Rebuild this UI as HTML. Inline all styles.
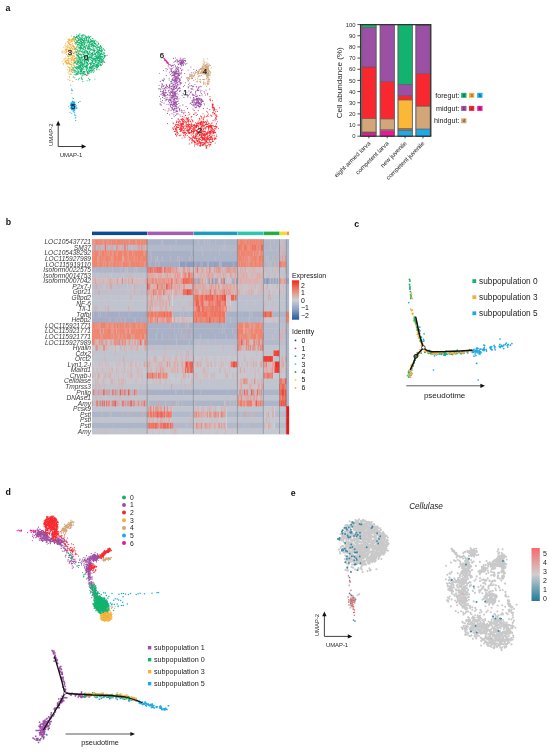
<!DOCTYPE html>
<html><head><meta charset="utf-8"><title>Figure</title>
<style>html,body{margin:0;padding:0;background:#fff}svg{display:block}</style></head>
<body>
<svg width="550" height="752" viewBox="0 0 550 752" font-family='"Liberation Sans", sans-serif'>
<text x="5.5" y="10.8" font-size="8.8" text-anchor="start" font-weight="bold" font-style="normal" fill="#111">a</text>
<text x="5.8" y="225.1" font-size="8.8" text-anchor="start" font-weight="bold" font-style="normal" fill="#111">b</text>
<text x="354.3" y="226.7" font-size="8.8" text-anchor="start" font-weight="bold" font-style="normal" fill="#111">c</text>
<text x="5.4" y="495.3" font-size="8.8" text-anchor="start" font-weight="bold" font-style="normal" fill="#111">d</text>
<text x="290.7" y="495.5" font-size="8.8" text-anchor="start" font-weight="bold" font-style="normal" fill="#111">e</text>
<path d="M87.4 60.1h0M94.0 57.8h0M84.7 39.0h0M75.6 42.2h0M87.6 51.6h0M92.6 62.8h0M79.2 42.5h0M81.9 63.8h0M90.9 70.6h0M78.3 60.6h0M91.0 46.5h0M88.5 45.7h0M91.3 44.7h0M84.1 72.1h0M93.3 72.3h0M85.7 66.6h0M94.6 41.4h0M97.5 64.7h0M94.5 50.3h0M84.4 55.4h0M74.4 48.9h0M94.7 53.4h0M80.3 38.2h0M87.7 40.9h0M83.0 42.3h0M99.3 60.2h0M84.3 52.4h0M78.5 40.5h0M76.0 67.9h0M89.5 57.1h0M78.0 62.3h0M74.7 62.5h0M77.5 38.3h0M102.0 49.5h0M94.8 56.5h0M90.1 41.1h0M100.9 57.7h0M89.0 42.4h0M77.0 40.3h0M80.5 60.3h0M100.6 58.4h0M90.0 43.6h0M87.3 48.9h0M79.7 39.3h0M84.1 73.3h0M81.5 65.7h0M91.5 68.7h0M76.6 68.6h0M100.4 56.1h0M75.1 58.2h0M85.3 48.1h0M74.7 72.2h0M94.4 43.6h0M88.3 36.1h0M93.0 55.4h0M98.4 65.0h0M93.3 69.8h0M95.2 66.7h0M80.4 41.1h0M104.2 56.1h0M101.7 47.3h0M79.2 58.0h0M78.7 44.0h0M87.6 59.6h0M83.8 46.4h0M85.2 46.0h0M90.3 52.2h0M101.3 57.1h0M93.0 38.7h0M72.8 72.5h0M80.1 46.3h0M92.9 67.5h0M78.7 56.3h0M99.6 49.8h0M96.3 64.7h0M98.3 47.3h0M99.0 57.7h0M99.9 55.7h0M87.8 47.3h0M83.6 49.1h0M77.7 67.6h0M94.8 68.5h0M92.2 62.4h0M81.2 54.8h0M93.1 44.4h0M102.5 57.1h0M96.3 55.8h0M84.5 43.3h0M73.1 68.1h0M87.5 66.1h0M82.9 68.2h0M95.1 50.4h0M88.1 60.4h0M90.4 68.5h0M103.3 61.8h0M98.1 51.5h0M101.8 61.1h0M80.5 74.1h0M90.1 41.1h0M94.4 41.9h0M80.7 70.5h0M96.2 52.8h0M79.7 63.4h0M81.2 71.2h0M91.5 64.3h0M92.0 44.1h0M77.0 54.8h0M89.2 45.3h0M77.8 67.2h0M76.0 37.3h0M86.5 60.9h0M77.9 70.6h0M79.1 69.2h0M84.6 39.5h0M86.2 67.1h0M91.5 49.5h0M84.6 62.7h0M77.7 64.0h0M80.5 43.9h0M80.7 65.2h0M82.1 42.9h0M103.9 53.6h0M78.7 61.4h0M99.8 57.3h0M90.8 36.4h0M78.1 51.1h0M87.6 68.3h0M73.5 36.8h0M78.6 55.7h0M99.7 55.0h0M91.8 53.2h0M92.8 70.5h0M80.3 69.1h0M81.6 55.1h0M84.9 51.9h0M93.4 48.7h0M98.7 43.9h0M85.3 46.8h0M83.1 66.6h0M100.8 58.8h0M95.6 62.2h0M85.0 63.0h0M95.4 53.6h0M101.0 57.2h0M98.0 50.8h0M94.1 42.2h0M84.2 55.6h0M93.0 47.4h0M79.7 37.4h0M86.7 70.6h0M77.7 41.8h0M99.8 50.2h0M103.2 62.1h0M78.8 71.2h0M94.5 65.3h0M93.8 46.3h0M95.7 66.0h0M92.3 61.2h0M95.8 62.5h0M92.1 43.4h0M89.3 71.2h0M98.4 53.1h0M86.8 56.3h0M96.7 67.4h0M91.3 70.3h0M90.3 68.7h0M86.0 66.8h0M74.0 71.1h0M87.6 51.3h0M101.5 56.2h0M81.3 77.9h0M78.4 51.3h0M80.9 61.7h0M100.6 64.5h0M95.2 62.9h0M77.2 63.9h0M84.3 63.2h0M92.5 66.7h0M77.9 71.9h0M96.4 45.6h0M85.7 56.7h0M100.5 62.2h0M95.4 61.6h0M97.8 57.5h0M79.6 66.3h0M77.7 72.6h0M88.6 48.4h0M77.6 73.8h0M93.1 69.0h0M88.1 38.0h0M84.8 62.2h0M93.5 65.9h0M100.6 57.3h0M91.8 53.7h0M100.0 63.9h0M91.2 44.1h0M99.8 60.9h0M78.2 40.5h0M89.5 46.0h0M90.0 69.9h0M100.3 53.5h0M97.4 58.8h0M82.1 66.8h0M86.9 63.1h0M82.7 62.8h0M81.7 56.9h0M100.3 53.7h0M103.9 54.9h0M91.5 60.6h0M89.9 48.3h0M83.5 71.4h0M101.5 60.6h0M82.1 46.1h0M78.0 38.1h0M83.8 67.5h0M103.5 58.6h0M82.7 35.2h0M101.9 53.6h0M93.6 64.8h0M101.1 54.2h0M84.4 62.7h0M85.1 40.8h0M85.7 37.2h0M81.1 54.4h0M87.2 71.8h0M86.0 62.0h0M78.4 61.7h0M88.2 40.0h0M89.1 38.6h0M76.5 43.3h0M94.0 49.7h0M86.0 42.6h0M75.0 39.7h0M86.9 58.9h0M93.8 58.0h0M84.3 74.6h0M84.6 40.9h0M100.4 54.4h0M87.5 72.9h0M100.0 53.9h0M90.8 42.3h0M91.6 67.3h0M82.9 64.3h0M83.2 34.6h0M82.5 57.0h0M80.8 64.8h0M84.8 51.3h0M94.4 58.8h0M103.2 48.6h0M91.1 53.6h0M102.0 61.3h0M84.1 51.7h0M97.5 65.3h0M84.4 55.0h0M98.6 52.6h0M98.0 66.5h0M77.4 61.1h0M97.3 58.0h0M80.4 71.2h0M87.6 55.6h0M90.0 44.5h0M90.1 48.8h0M92.5 41.8h0M84.7 60.0h0M93.6 60.1h0M86.7 65.4h0M92.6 61.0h0M100.0 64.9h0M99.3 59.4h0M101.3 62.4h0M96.8 64.8h0M79.8 66.9h0M91.7 55.2h0M98.5 50.5h0M81.8 39.4h0M92.0 50.1h0M97.1 51.5h0M85.6 74.7h0M88.7 58.2h0M89.1 54.5h0M84.8 72.2h0M98.3 54.2h0M81.5 41.2h0M89.8 42.6h0M102.0 58.9h0M88.3 53.0h0M102.3 63.9h0M90.6 39.5h0M97.1 58.1h0M96.3 52.2h0M92.5 58.5h0M91.4 66.4h0M90.0 66.7h0M98.4 65.8h0M73.1 68.2h0M99.9 60.5h0M75.6 51.2h0M82.0 36.5h0M76.7 55.7h0M75.4 51.9h0M83.9 72.9h0M89.1 53.4h0M86.2 55.3h0M79.6 58.5h0M81.1 35.6h0M92.8 61.7h0M87.9 48.8h0M93.1 40.9h0M96.7 65.5h0M74.6 41.3h0M89.8 67.6h0M87.9 73.9h0M93.6 65.8h0M88.4 53.5h0M86.2 50.7h0M82.5 42.7h0M92.0 71.5h0M81.8 38.7h0M81.8 72.1h0M96.0 57.0h0M93.1 50.7h0M76.1 66.9h0M79.8 45.4h0M97.6 66.2h0M86.4 62.9h0M84.1 46.7h0M78.5 39.3h0M75.3 62.4h0M100.9 46.5h0M87.5 48.4h0M85.7 48.0h0M92.9 49.7h0M81.0 70.9h0M88.0 73.6h0M85.0 71.6h0M87.5 52.2h0M87.6 53.1h0M80.3 59.4h0M85.5 48.8h0M88.8 41.1h0M92.9 47.8h0M82.3 40.0h0M86.3 70.1h0M76.8 47.6h0M83.2 59.6h0M101.1 60.7h0M96.7 56.9h0M94.5 50.0h0M96.7 57.8h0M75.4 43.7h0M81.5 43.7h0M98.1 60.3h0M90.7 41.3h0M75.8 75.1h0M88.1 57.1h0M87.5 67.9h0M85.1 59.5h0M87.0 44.0h0M101.1 50.7h0M89.8 68.8h0M85.0 49.9h0M81.4 45.3h0M91.7 68.7h0M83.3 51.7h0M82.7 63.2h0M81.4 52.0h0M84.9 62.8h0M97.7 53.1h0M96.8 65.9h0M97.9 46.9h0M87.8 54.9h0M87.4 47.1h0M86.4 45.3h0M77.8 49.2h0M84.5 55.5h0M80.6 46.9h0M96.2 65.9h0M79.3 54.4h0M98.6 62.2h0M95.6 64.7h0M87.8 42.3h0M89.9 56.6h0M75.0 67.7h0M93.4 59.2h0M75.9 72.8h0M101.2 56.9h0M77.9 68.1h0M75.5 39.3h0M92.5 63.1h0M92.2 56.5h0M87.4 60.1h0M86.3 59.5h0M88.7 60.0h0M85.9 40.9h0M91.9 43.3h0M93.0 40.4h0M84.3 43.2h0M93.1 46.5h0M97.0 65.8h0M102.2 59.9h0M79.8 61.9h0M94.5 54.0h0M78.1 56.8h0M82.4 73.1h0M85.4 36.0h0M78.6 53.4h0M95.6 58.3h0M93.5 63.4h0M100.7 58.8h0M77.8 36.1h0M91.8 56.2h0M80.1 70.0h0M77.7 50.6h0M85.7 47.7h0M82.1 68.4h0M93.0 59.7h0M100.5 48.3h0M77.8 44.8h0M84.3 46.9h0M80.6 46.1h0M88.7 57.9h0M97.5 67.6h0M91.6 49.6h0M81.5 62.1h0M83.3 54.4h0M89.3 57.7h0M78.8 71.9h0M100.9 58.9h0M81.2 57.7h0M88.4 70.2h0M77.6 55.5h0M84.5 57.3h0M91.7 66.8h0M84.3 71.4h0M101.6 48.1h0M99.9 54.1h0M97.6 54.0h0M99.0 51.0h0M78.1 62.3h0M90.0 43.9h0M90.6 70.5h0M87.8 63.4h0M81.1 65.0h0M71.5 69.2h0M88.1 72.1h0M98.2 63.3h0M99.0 61.5h0M97.2 47.7h0M85.1 50.7h0M88.7 36.8h0M76.1 57.5h0M78.2 42.2h0M77.1 58.7h0M98.6 43.4h0M85.1 74.5h0M86.4 40.2h0M84.0 41.8h0M83.2 49.8h0M76.2 63.0h0M91.4 58.2h0M88.4 54.0h0M86.4 56.8h0M94.2 50.7h0M97.9 42.0h0M86.4 40.3h0M91.4 66.7h0M88.9 48.4h0M90.6 54.7h0M77.4 67.6h0M94.1 66.3h0M93.1 68.5h0M82.2 70.0h0M82.9 75.1h0M99.7 62.3h0M87.6 72.5h0M83.6 41.4h0M92.8 55.2h0M98.7 56.2h0M87.3 53.5h0M94.9 48.2h0M92.3 54.6h0M77.4 61.2h0M83.7 56.2h0M80.1 68.3h0M83.2 67.1h0M82.2 72.0h0M96.7 60.5h0M91.4 63.1h0M78.1 58.0h0M96.4 57.4h0M92.8 43.2h0M81.0 44.0h0M83.7 72.0h0M86.1 36.3h0M86.1 55.2h0M85.6 48.3h0M80.6 66.8h0M80.6 41.3h0M93.7 42.6h0M78.7 59.2h0M83.0 65.4h0M77.2 60.2h0M100.9 59.5h0M95.9 43.5h0M78.4 46.0h0M76.2 53.0h0M86.3 55.0h0M95.9 57.9h0M99.7 47.4h0M78.3 72.9h0M75.9 58.6h0M76.2 71.4h0M81.8 57.3h0M79.4 65.6h0M84.7 62.0h0M91.3 55.8h0M92.2 58.1h0M103.7 60.6h0M98.1 44.3h0M96.2 56.2h0M87.5 58.0h0M78.6 62.1h0M77.2 42.4h0M78.9 47.5h0M74.1 60.9h0M87.5 56.6h0M79.9 33.9h0M93.5 45.4h0M99.5 55.3h0M80.9 70.2h0M83.2 63.9h0M81.6 45.8h0M81.4 41.6h0M89.6 67.2h0M86.2 66.2h0M93.7 50.6h0M89.8 66.3h0M72.7 69.9h0M79.9 42.3h0M92.3 40.9h0M90.9 38.8h0M92.2 62.7h0M90.1 58.8h0M76.8 34.7h0M97.8 62.8h0M89.5 43.1h0M83.9 42.8h0M87.3 51.5h0M79.0 51.0h0M81.5 47.4h0M83.6 59.2h0M82.9 40.4h0M74.7 66.1h0M98.9 55.4h0M83.0 73.6h0M86.8 39.6h0M95.5 44.3h0M86.3 41.0h0M75.0 43.5h0M86.9 52.7h0M90.1 57.5h0M93.1 54.1h0M73.3 70.0h0M84.1 72.0h0M80.6 65.7h0M95.9 56.7h0M81.5 48.6h0M98.7 57.8h0M83.2 38.2h0M91.6 57.3h0M90.0 63.0h0M97.2 61.8h0M93.5 58.2h0M101.8 53.2h0M92.2 52.8h0M79.7 39.1h0M96.7 69.8h0M99.7 58.9h0M83.7 73.8h0M83.7 54.6h0M93.7 59.9h0M91.8 68.1h0M76.9 59.2h0M81.8 70.9h0M83.0 60.8h0M96.4 52.7h0M95.2 53.6h0M89.8 55.1h0M78.8 36.0h0M86.5 39.8h0M84.8 66.5h0M97.7 67.2h0M82.3 59.7h0M81.5 63.9h0M89.6 37.5h0M95.9 53.8h0M102.0 56.2h0M73.0 38.8h0M82.7 60.7h0M91.4 40.5h0M93.1 59.9h0M99.2 60.0h0M82.9 54.2h0M103.8 52.6h0M102.1 52.0h0M87.8 73.9h0M84.4 58.5h0M95.1 43.0h0M80.1 61.4h0M79.8 47.7h0M75.3 61.2h0M79.7 39.7h0M80.0 48.5h0M100.9 54.2h0M95.8 47.0h0M78.4 35.5h0M75.6 67.6h0M82.9 69.0h0M99.3 50.3h0M72.9 38.5h0M90.8 67.8h0M89.1 42.6h0M84.7 44.7h0M99.1 52.5h0M98.9 54.8h0M77.8 55.9h0M90.8 63.6h0M88.6 61.1h0M96.4 57.0h0M90.6 64.6h0M83.3 47.9h0M99.6 55.6h0M77.4 44.4h0M91.2 72.5h0M79.3 51.6h0M81.0 51.7h0M98.6 57.3h0M100.8 65.8h0M97.2 58.4h0M95.6 44.1h0M92.0 44.9h0M97.1 49.4h0M95.1 62.7h0M76.1 74.7h0M87.2 64.2h0M76.7 68.5h0M93.7 65.1h0M85.6 50.7h0M97.0 52.7h0M84.9 52.0h0M73.0 68.8h0M77.4 66.8h0M76.7 41.8h0M81.5 58.2h0M94.9 67.8h0M95.9 59.4h0M89.7 37.0h0M89.0 67.7h0M94.3 45.5h0M101.5 50.3h0M89.1 71.7h0M83.4 56.7h0M76.6 52.3h0M81.9 61.5h0M91.5 58.3h0M80.7 54.9h0M99.1 69.7h0M76.2 52.9h0M89.4 68.1h0M88.6 44.2h0M91.3 63.1h0M94.5 51.3h0M78.5 42.0h0M77.5 46.0h0M81.6 68.6h0M89.1 57.9h0M75.3 38.2h0M96.0 46.0h0M84.5 61.1h0M82.5 37.3h0M82.2 44.0h0M81.6 43.8h0M76.4 49.2h0M80.9 73.8h0M101.0 51.5h0M80.4 66.0h0M80.6 66.9h0M92.9 45.4h0M93.9 51.1h0M104.0 58.1h0M80.1 54.1h0M96.7 44.7h0M101.1 50.7h0M82.6 65.7h0M92.6 38.3h0M84.9 37.8h0M94.1 45.2h0M86.5 50.8h0M76.0 44.0h0M81.5 51.3h0M83.9 73.2h0M91.9 60.2h0M80.4 67.5h0M90.1 56.5h0M95.7 60.4h0M86.0 56.8h0M104.8 62.3h0M87.4 62.4h0M90.3 63.8h0M90.5 49.0h0M96.0 58.8h0M91.9 70.1h0M87.5 47.3h0M79.5 67.7h0M104.5 57.1h0M76.2 63.6h0M81.3 60.1h0M79.4 73.3h0M90.9 54.1h0M91.6 41.6h0M86.5 37.9h0M76.9 51.4h0M89.8 47.5h0M95.5 46.5h0M81.4 68.1h0M89.0 72.9h0M86.8 63.1h0M90.9 39.8h0M96.6 66.5h0M80.3 65.8h0M98.3 47.4h0M78.8 38.7h0M88.6 57.8h0M88.0 57.7h0M93.0 59.0h0M87.0 60.7h0M90.5 67.4h0M97.7 63.9h0M96.7 61.9h0M101.0 49.8h0M98.1 52.9h0M76.6 42.5h0M82.4 48.4h0M76.6 73.4h0M84.1 61.2h0M80.4 71.9h0M93.9 65.0h0M88.1 54.2h0M93.4 66.2h0M85.3 68.0h0M80.2 58.8h0M95.5 55.7h0M85.8 57.6h0M84.5 66.2h0M81.9 40.1h0M88.5 41.2h0M88.9 41.9h0M85.6 66.4h0M93.3 41.7h0M89.4 70.7h0M81.8 70.5h0M83.8 72.9h0M79.1 78.2h0M76.5 36.2h0M91.9 68.9h0M86.7 67.1h0M95.6 54.4h0M102.9 59.6h0M94.2 61.2h0M96.9 68.8h0M81.3 38.6h0M77.0 41.3h0M81.0 73.5h0M79.6 47.9h0M88.7 60.1h0M78.7 65.7h0M75.4 48.9h0M80.1 41.8h0M83.9 35.9h0M83.6 41.0h0M75.1 49.3h0M73.3 76.9h0M80.8 49.2h0M97.1 48.1h0M92.1 45.5h0M78.7 47.9h0M81.5 43.8h0M101.3 58.7h0M76.0 61.0h0M98.1 51.7h0M80.0 42.9h0M78.5 40.2h0M89.9 49.8h0M74.9 74.5h0M98.5 58.3h0M73.9 39.6h0M74.2 62.9h0M98.1 63.8h0M86.7 67.6h0M84.8 35.0h0M97.5 51.7h0M90.6 57.5h0M81.5 68.1h0M86.0 66.2h0M99.8 48.2h0M81.6 57.9h0M76.7 36.9h0M76.4 40.2h0M78.2 67.9h0M97.8 56.6h0M105.5 55.9h0M82.3 64.7h0M84.6 38.3h0M100.9 59.5h0M78.6 67.3h0M80.5 45.8h0M82.8 45.1h0M79.5 60.1h0M80.2 41.7h0M98.8 58.0h0M95.7 40.3h0M102.2 50.6h0M78.7 35.0h0M80.0 43.8h0M79.0 56.7h0M82.4 58.0h0M88.4 53.2h0M76.5 64.3h0M83.8 71.7h0M85.0 52.6h0M101.4 47.9h0M95.8 60.2h0M92.4 60.7h0M78.1 53.6h0M95.8 58.1h0M97.6 45.8h0M102.2 51.8h0M80.1 72.0h0M90.0 49.3h0M78.4 56.9h0M79.3 54.2h0M96.3 47.8h0M80.0 62.9h0M98.1 49.2h0M77.1 66.6h0M83.6 71.7h0M97.2 55.3h0M100.8 64.4h0M90.5 63.0h0M102.1 50.0h0M85.2 53.7h0M78.9 36.8h0M99.7 56.9h0M102.1 61.8h0M86.6 45.8h0M87.5 42.8h0M101.7 53.8h0M72.9 69.4h0M80.6 73.4h0M90.6 59.7h0M76.9 37.8h0M78.8 42.2h0M98.8 61.0h0M91.8 45.8h0M84.6 44.3h0M77.1 73.9h0M102.8 56.5h0M85.3 74.1h0M96.7 69.0h0M86.4 59.1h0M77.0 66.8h0M85.0 64.0h0M94.7 42.8h0M88.3 41.4h0M103.9 49.3h0M87.1 46.7h0M87.7 65.6h0M78.0 74.2h0M88.2 69.3h0M93.8 50.6h0M79.8 40.4h0M84.9 60.8h0M79.1 42.9h0M77.0 36.9h0M100.2 46.4h0M81.5 71.8h0M100.7 50.9h0M91.4 46.2h0M93.1 67.6h0M72.1 67.3h0M104.9 55.4h0M75.1 37.2h0M88.7 61.4h0M85.1 38.6h0M102.7 61.2h0M82.3 40.2h0M75.0 38.3h0M83.9 45.1h0M89.4 63.2h0M104.7 50.4h0M76.4 43.5h0M84.3 74.7h0M100.7 58.8h0M102.3 61.0h0M98.9 46.7h0M74.5 36.8h0M95.7 59.0h0M101.2 57.3h0M102.3 54.1h0M80.1 57.4h0M91.4 49.8h0M84.1 43.0h0M82.0 41.8h0M91.1 44.8h0M80.1 64.9h0M94.7 58.9h0M89.6 55.0h0M91.8 60.1h0M93.6 46.1h0M87.7 57.6h0M96.0 45.7h0M78.0 52.9h0M76.2 54.5h0M95.8 62.4h0M92.6 53.8h0M80.5 47.7h0M97.0 51.4h0M94.9 43.6h0M84.3 60.6h0M84.6 46.8h0M88.1 72.1h0M99.7 53.5h0M97.3 58.0h0M77.8 42.1h0M84.9 59.1h0M97.4 59.0h0M94.6 68.4h0M79.3 59.1h0M79.6 50.1h0M89.1 37.8h0M81.9 69.7h0M98.5 66.3h0M79.0 35.7h0M101.3 60.7h0M77.6 38.3h0M81.0 58.7h0M88.5 48.5h0M85.8 74.8h0M92.3 61.6h0M81.9 76.8h0M90.7 62.8h0M86.3 52.0h0M83.9 40.2h0M90.9 57.4h0M86.5 38.4h0M80.4 62.7h0M78.1 55.9h0M99.9 64.0h0M82.7 63.1h0M95.1 60.4h0M77.0 74.4h0M96.6 64.1h0M83.9 49.2h0M97.0 50.9h0M79.1 35.0h0M73.8 63.9h0M85.1 61.1h0M97.7 57.2h0M96.3 41.7h0M82.1 48.4h0M78.1 57.2h0M82.4 69.0h0M96.5 57.9h0M73.4 53.5h0M97.8 56.2h0M92.9 65.4h0M94.3 51.9h0M80.1 40.0h0M86.4 70.0h0M89.7 46.8h0M94.8 64.7h0M82.5 51.9h0M84.3 56.1h0M81.1 69.9h0M81.0 54.7h0M92.2 43.7h0M83.7 43.8h0M99.7 65.0h0M93.1 58.0h0M75.6 70.9h0M81.1 37.5h0M86.5 37.9h0M102.7 54.5h0M81.4 73.2h0M78.0 54.8h0M77.0 46.3h0M85.7 47.6h0M94.9 46.2h0M77.4 69.2h0M94.0 70.0h0M84.2 65.3h0M84.2 47.4h0M87.2 57.0h0M83.9 64.4h0M94.2 40.6h0M100.0 52.1h0M86.1 39.7h0M81.8 68.9h0M81.1 54.5h0M96.6 65.4h0M80.9 51.2h0M96.1 52.6h0M90.4 50.3h0M86.9 68.9h0M97.7 59.8h0M96.1 59.2h0M100.6 54.8h0M88.3 64.4h0M81.6 44.2h0M87.0 72.1h0M94.4 63.6h0M88.7 39.9h0M74.8 70.0h0M94.2 71.2h0M80.9 64.0h0M81.3 62.7h0M83.3 56.6h0M78.0 63.7h0M75.0 37.5h0M74.1 70.4h0M101.4 65.2h0M99.6 61.4h0M104.7 53.0h0M77.6 60.5h0M98.6 58.4h0M99.3 57.7h0M85.1 66.6h0M89.9 71.8h0M78.1 64.6h0M92.1 66.8h0M86.8 62.6h0M101.4 56.2h0M82.0 75.1h0M88.5 47.9h0M85.7 42.9h0M100.7 45.5h0M80.3 62.2h0M98.1 60.5h0M86.6 52.0h0M101.5 51.7h0M101.8 59.3h0M103.4 58.1h0M75.1 42.8h0M88.4 46.4h0M98.9 63.6h0M81.5 42.2h0M90.6 65.6h0M84.0 69.3h0M87.8 71.6h0M86.8 65.9h0M89.0 57.4h0M100.1 46.8h0M82.1 35.5h0M101.9 62.8h0M86.3 65.0h0M80.5 48.9h0M73.2 38.5h0M81.1 41.2h0M82.8 53.0h0M90.9 44.9h0M82.4 50.1h0M88.5 49.8h0M79.6 57.3h0M90.8 41.8h0M82.3 39.8h0M97.9 56.3h0M89.2 52.1h0M77.4 62.5h0M73.9 67.5h0M90.6 41.9h0M78.4 62.6h0M88.9 73.7h0M78.9 44.5h0M92.6 54.9h0M75.7 48.5h0M100.4 58.3h0M85.0 56.5h0M78.9 68.4h0M82.2 45.5h0M96.7 48.3h0M84.8 42.7h0M89.0 59.5h0M79.9 47.8h0M87.4 37.5h0M87.1 72.2h0M70.9 74.5h0M96.4 56.7h0M82.7 66.6h0M83.1 38.6h0M78.5 66.9h0M77.5 46.1h0M86.3 69.3h0M82.2 35.3h0M99.4 48.9h0M80.7 39.6h0M82.9 39.1h0M76.3 60.9h0M90.9 48.8h0M94.0 54.5h0M83.2 52.9h0M88.6 59.2h0M94.4 59.4h0M80.4 50.3h0M77.1 63.9h0M81.8 62.4h0M97.5 58.4h0M77.6 38.3h0M82.7 44.8h0M96.4 57.0h0M100.3 61.7h0M84.4 53.0h0M94.9 46.5h0M89.4 51.3h0M81.3 54.9h0M74.7 72.1h0M91.0 41.3h0M99.8 50.4h0M99.2 56.8h0M98.5 57.4h0M84.1 55.3h0M75.9 72.9h0M91.1 72.0h0M89.4 57.8h0M76.4 68.8h0M93.0 52.6h0M105.2 56.3h0M87.0 45.2h0M77.8 60.8h0M87.0 36.8h0M89.7 47.5h0M89.7 52.0h0M85.5 60.0h0M81.9 48.1h0M92.4 65.8h0M86.1 65.6h0M87.1 71.0h0M101.6 53.3h0M79.3 78.3h0M94.8 79.0h0M82.4 79.3h0M78.4 79.8h0M81.8 78.9h0M76.2 79.3h0M88.7 78.2h0M74.8 77.7h0M87.1 80.7h0M89.9 79.6h0M89.2 80.1h0M82.8 81.5h0M80.0 101.4h0M78.5 102.5h0" stroke="#12B36E" stroke-width="1.1" stroke-linecap="round" fill="none"/>
<path d="M65.4 61.9h0M63.7 64.8h0M73.3 69.8h0M66.3 48.9h0M68.1 46.1h0M69.0 40.9h0M65.8 60.9h0M69.2 69.7h0M70.2 55.6h0M72.9 56.0h0M70.9 50.5h0M77.0 60.1h0M67.6 45.1h0M72.9 51.9h0M68.5 56.4h0M77.3 46.3h0M68.0 51.2h0M70.8 46.5h0M73.0 52.6h0M71.5 57.2h0M66.3 61.0h0M65.9 62.0h0M74.0 58.9h0M67.9 56.5h0M73.0 55.3h0M69.1 73.9h0M70.3 52.2h0M68.0 72.7h0M67.4 47.2h0M70.1 48.5h0M67.5 49.0h0M75.8 63.6h0M71.8 51.3h0M74.0 40.6h0M69.7 62.9h0M67.5 60.5h0M70.3 49.9h0M70.2 44.7h0M74.2 46.4h0M68.4 58.7h0M71.1 50.7h0M74.5 60.5h0M76.4 43.2h0M70.9 41.4h0M66.4 60.2h0M72.1 45.0h0M69.6 39.0h0M76.1 61.3h0M67.3 63.1h0M68.8 49.8h0M70.9 73.3h0M72.7 48.5h0M67.0 42.2h0M69.7 67.4h0M66.9 47.0h0M73.4 46.8h0M70.0 49.1h0M71.0 61.1h0M68.7 40.5h0M70.9 55.5h0M72.6 43.3h0M69.5 69.6h0M73.2 52.2h0M69.7 68.1h0M75.2 58.3h0M72.0 57.9h0M78.7 50.7h0M65.3 52.7h0M67.3 41.6h0M70.6 64.0h0M71.5 54.8h0M74.0 47.6h0M70.9 60.0h0M64.8 51.2h0M73.1 59.4h0M74.0 58.1h0M67.7 56.3h0M71.7 41.6h0M69.3 54.8h0M68.9 39.9h0M75.9 39.8h0M67.6 60.0h0M66.6 51.4h0M69.0 60.8h0M61.7 51.7h0M73.0 56.6h0M69.3 71.0h0M62.4 61.2h0M71.0 64.5h0M68.6 63.5h0M68.6 50.4h0M73.9 48.0h0M74.7 52.1h0M63.8 47.3h0M71.8 71.2h0M71.8 65.1h0M73.4 46.1h0M64.8 53.1h0M79.9 53.7h0M64.0 59.9h0M63.1 63.4h0M66.2 46.0h0M67.9 63.6h0M72.2 58.4h0M68.7 47.7h0M72.0 44.2h0M65.3 47.0h0M68.7 53.5h0M76.5 55.4h0M75.4 51.4h0M73.5 61.0h0M73.2 65.2h0M67.8 55.3h0M72.7 46.2h0M63.0 50.8h0M69.9 55.4h0M67.7 47.3h0M73.8 74.8h0M62.9 52.4h0M64.9 62.1h0M78.9 52.4h0M67.4 63.9h0M72.5 39.3h0M62.9 53.0h0M71.8 70.4h0M70.8 53.8h0M76.2 58.7h0M74.3 40.8h0M71.5 59.4h0M71.7 62.3h0M69.0 41.1h0M66.3 50.4h0M68.8 58.2h0M73.0 49.5h0M75.9 63.8h0M70.9 69.5h0M71.3 70.2h0M72.6 41.2h0M68.7 67.5h0M70.0 50.0h0M71.3 47.3h0M75.1 47.2h0M68.1 60.7h0M65.1 49.1h0M70.1 42.8h0M68.4 51.4h0M72.4 57.2h0M73.3 45.2h0M74.2 46.9h0M71.4 39.3h0M75.4 43.6h0M66.5 62.6h0M68.0 60.3h0M70.9 64.4h0M71.0 48.6h0M69.4 51.9h0M69.0 39.5h0M69.5 47.2h0M67.9 66.5h0M69.4 44.4h0M74.5 39.1h0M71.7 40.4h0M72.8 40.8h0M78.1 51.0h0M67.0 49.3h0M75.2 49.9h0M72.0 45.6h0M68.1 63.5h0M67.7 59.9h0M68.9 42.3h0M69.8 71.0h0M66.1 63.1h0M69.7 63.8h0M71.6 47.8h0M68.1 39.5h0M74.2 60.9h0M68.1 58.8h0M74.3 53.8h0M71.6 60.1h0M71.6 35.9h0M67.0 62.5h0M72.2 55.7h0M66.4 63.9h0M73.5 60.9h0M70.3 44.4h0M66.3 49.1h0M65.0 45.2h0M68.9 71.3h0M68.1 58.2h0M70.5 58.2h0M69.3 67.4h0M70.4 68.2h0M72.2 59.7h0M71.9 64.1h0M69.9 48.5h0M69.5 70.8h0M69.3 43.4h0M67.9 45.3h0M69.2 51.4h0M72.9 49.7h0M76.5 43.3h0M74.2 55.8h0M72.8 48.5h0M74.7 56.6h0M72.3 60.1h0M74.0 36.7h0M71.8 64.9h0M74.6 52.7h0M70.4 40.0h0M68.6 41.9h0M69.3 58.9h0M69.0 61.3h0M66.6 50.0h0M74.5 59.7h0M68.5 43.0h0M65.3 58.1h0M68.5 43.3h0M74.2 65.5h0M74.2 39.5h0M73.4 39.4h0M72.2 49.8h0M69.8 70.4h0M72.3 39.5h0M65.6 49.9h0M73.7 37.8h0M73.0 59.7h0M71.7 66.4h0M68.9 58.9h0M68.7 63.7h0M72.0 71.7h0M69.9 64.5h0M65.6 43.8h0M68.4 62.4h0M72.2 70.0h0M71.0 71.8h0M70.0 56.5h0M64.2 58.7h0M65.2 61.3h0M67.6 69.8h0M72.8 52.8h0M72.6 67.3h0M73.2 63.1h0M66.0 58.1h0M69.8 40.3h0M66.2 52.6h0M74.5 59.1h0M68.0 60.2h0M62.9 52.1h0M68.8 61.2h0M71.9 62.6h0M70.1 45.4h0M74.7 48.8h0M70.3 49.4h0M73.6 67.3h0M66.5 54.5h0M69.5 80.2h0M69.7 76.6h0M70.2 80.0h0M72.7 81.4h0M68.0 79.6h0M69.6 77.7h0M71.3 93.5h0M72.2 90.5h0" stroke="#F5B03A" stroke-width="1.1" stroke-linecap="round" fill="none"/>
<path d="M72.5 105.0h0M71.9 102.6h0M72.9 105.7h0M74.1 106.3h0M74.1 103.7h0M70.5 104.0h0M72.1 105.7h0M73.4 105.5h0M72.6 109.2h0M70.2 108.3h0M73.2 106.6h0M73.6 104.2h0M73.0 104.3h0M72.9 101.0h0M74.0 105.4h0M71.4 104.8h0M72.7 104.2h0M73.4 107.1h0M76.8 108.1h0M72.2 101.8h0M73.9 106.4h0M74.9 106.5h0M73.9 104.3h0M74.0 104.1h0M74.4 109.1h0M71.0 107.1h0M73.6 109.9h0M72.5 104.0h0M74.7 103.4h0M73.5 105.0h0M73.3 107.3h0M73.2 108.3h0M71.6 109.6h0M74.1 104.3h0M71.2 102.7h0M72.8 107.6h0M72.6 107.4h0M74.1 106.8h0M73.0 108.5h0M72.1 104.0h0M73.8 102.3h0M75.0 109.8h0M71.9 106.2h0M74.6 105.0h0M72.3 107.2h0M72.8 110.1h0M72.8 106.0h0M71.8 109.2h0M74.9 105.8h0M73.9 109.5h0M73.7 106.0h0M71.5 108.1h0M73.8 105.6h0M72.0 106.9h0M74.6 106.1h0M71.0 104.8h0M73.8 105.8h0M71.3 107.1h0M71.4 105.4h0M73.3 104.5h0M74.0 106.5h0M74.3 108.6h0M72.6 105.4h0M72.4 103.6h0M74.1 103.8h0M71.7 105.7h0M71.7 109.0h0M73.6 103.5h0M73.5 107.9h0M73.1 105.2h0M74.4 104.2h0M71.2 104.5h0M73.6 108.0h0M75.5 104.6h0M72.6 108.4h0M71.6 109.8h0M74.4 103.8h0M73.7 103.0h0M74.4 102.0h0M73.8 106.7h0M72.5 103.8h0M72.8 104.3h0M71.7 104.0h0M76.0 108.3h0M72.0 106.9h0M72.7 106.8h0M72.3 102.0h0M73.6 103.8h0M74.7 105.4h0M72.5 105.3h0M73.6 106.2h0M73.9 108.8h0M75.5 106.9h0M72.8 107.2h0M73.4 105.3h0M74.9 104.7h0M71.4 104.6h0M73.0 105.3h0M73.2 102.2h0M71.8 104.4h0M72.8 105.6h0M73.3 104.5h0M74.3 105.4h0M74.1 101.8h0M72.4 104.4h0M72.0 105.5h0M74.1 107.9h0M71.3 105.8h0M72.4 105.1h0M71.8 104.3h0M71.3 105.6h0M73.3 104.5h0M71.4 107.0h0M72.3 104.4h0M74.4 106.9h0M74.8 104.2h0M71.5 102.5h0M72.0 102.5h0M72.0 107.3h0M71.5 104.3h0M74.5 104.5h0M74.0 110.7h0M73.6 103.1h0M71.9 105.4h0M73.9 102.7h0M73.2 104.2h0M73.0 106.5h0M73.7 104.9h0M74.5 109.3h0M72.9 103.6h0M72.6 104.1h0M71.9 102.6h0M74.6 105.5h0M73.6 103.9h0M70.3 105.2h0M73.2 103.8h0M73.9 106.4h0M71.2 104.1h0M71.3 105.6h0M74.2 105.2h0M71.4 105.3h0M73.1 101.6h0M73.1 108.8h0M74.2 104.4h0M68.7 106.8h0M76.4 105.8h0M73.4 105.5h0M74.0 108.1h0M74.3 106.0h0M70.1 112.2h0M74.7 110.3h0M73.8 108.5h0M72.0 104.7h0M74.9 108.2h0M72.6 106.7h0M70.9 107.9h0M75.1 105.9h0M74.9 102.3h0M73.9 102.5h0M72.9 105.4h0M76.7 108.4h0M71.9 105.4h0M73.7 103.7h0M72.8 105.0h0M72.7 107.7h0M74.2 104.1h0M71.0 103.9h0M74.3 106.0h0M73.8 107.7h0M72.4 101.7h0M71.6 104.3h0M70.2 105.6h0M73.4 104.2h0M76.9 107.2h0M71.8 108.3h0M71.1 103.2h0M71.7 113.3h0M73.8 106.8h0M74.3 110.7h0M74.0 108.0h0M72.1 90.4h0M73.5 98.5h0M72.1 90.0h0M70.7 85.0h0M71.6 89.1h0M71.9 90.6h0M72.7 98.0h0M75.8 115.7h0M74.7 115.1h0M74.9 114.0h0M75.7 120.4h0M73.1 111.8h0M75.7 117.7h0M75.1 118.0h0M73.4 111.8h0M74.6 112.3h0" stroke="#1FA9E6" stroke-width="1.1" stroke-linecap="round" fill="none"/>
<path d="M107.0 55.2h0M104.5 62.0h0" stroke="#F0149B" stroke-width="1.1" stroke-linecap="round" fill="none"/>
<path d="M86.5 75.3h0M87.3 75.0h0" stroke="#F8282E" stroke-width="1.1" stroke-linecap="round" fill="none"/>
<path d="M179.3 79.9h0M173.4 74.0h0M178.3 73.8h0M180.5 64.5h0M178.0 75.0h0M176.1 80.3h0M174.6 87.0h0M172.5 89.0h0M178.6 77.0h0M178.1 84.7h0M177.1 77.3h0M173.5 71.3h0M174.2 74.5h0M175.5 84.1h0M180.0 83.1h0M181.3 65.9h0M178.3 81.8h0M172.9 75.4h0M171.0 82.1h0M176.2 79.1h0M177.7 69.0h0M180.6 68.4h0M174.0 77.2h0M178.8 78.1h0M175.2 78.7h0M177.9 69.6h0M174.2 87.8h0M175.7 60.9h0M174.1 87.3h0M175.6 76.5h0M173.9 74.0h0M173.4 89.9h0M176.7 77.1h0M173.0 78.1h0M175.3 74.1h0M174.4 81.6h0M175.2 81.8h0M178.4 88.7h0M173.8 86.2h0M180.0 78.2h0M171.8 73.3h0M174.0 74.9h0M178.0 72.7h0M170.4 74.5h0M175.7 73.8h0M177.0 80.3h0M172.6 78.7h0M179.9 72.9h0M180.5 80.1h0M177.1 62.1h0M176.2 77.2h0M179.0 61.4h0M178.7 75.1h0M174.9 82.2h0M175.1 79.1h0M181.6 70.0h0M176.9 76.3h0M175.9 76.6h0M174.3 73.3h0M169.1 78.2h0M176.1 72.8h0M176.7 71.5h0M176.4 70.5h0M175.6 80.6h0M178.5 70.9h0M177.5 66.8h0M176.4 83.1h0M176.0 72.0h0M175.9 67.0h0M176.3 81.8h0M174.8 72.8h0M179.2 73.3h0M177.2 71.3h0M176.0 81.8h0M180.9 82.3h0M177.9 84.4h0M173.7 72.2h0M173.3 94.0h0M176.3 72.9h0M175.4 69.1h0M179.5 75.0h0M178.7 64.6h0M178.7 71.8h0M179.0 74.4h0M178.4 78.6h0M171.4 86.6h0M172.7 80.5h0M173.9 75.5h0M177.5 78.1h0M177.2 69.3h0M180.2 88.3h0M179.3 79.4h0M179.3 81.2h0M174.8 73.9h0M176.4 71.8h0M179.0 70.8h0M173.9 71.5h0M174.8 73.5h0M180.3 83.8h0M181.6 72.9h0M171.8 81.7h0M175.8 83.6h0M173.2 80.2h0M171.1 83.6h0M175.0 61.5h0M177.4 79.7h0M177.9 74.7h0M176.3 87.4h0M179.2 80.5h0M174.2 75.5h0M175.5 78.2h0M179.7 79.6h0M177.3 90.4h0M174.3 75.1h0M173.0 79.9h0M176.4 74.1h0M176.5 80.0h0M176.8 80.7h0M175.6 79.4h0M176.4 77.0h0M174.0 88.8h0M175.6 85.8h0M174.3 81.6h0M173.2 74.0h0M176.2 81.4h0M174.1 79.2h0M173.8 84.7h0M177.2 82.4h0M177.1 73.8h0M180.4 82.7h0M179.6 91.6h0M175.0 82.3h0M175.8 70.7h0M174.6 75.3h0M172.4 85.1h0M179.4 87.5h0M178.2 68.1h0M174.3 86.1h0M179.8 90.8h0M177.2 89.2h0M178.4 69.7h0M175.0 79.0h0M169.8 88.1h0M177.4 84.4h0M174.4 76.2h0M172.8 72.0h0M177.4 78.6h0M177.3 82.8h0M174.1 71.8h0M176.0 77.7h0M176.8 87.9h0M175.7 88.2h0M174.6 80.2h0M179.2 88.7h0M175.4 77.9h0M179.1 74.6h0M176.1 74.2h0M175.7 71.2h0M179.4 75.6h0M174.7 76.2h0M176.2 93.7h0M177.0 85.8h0M178.1 94.8h0M176.3 71.6h0M172.1 83.5h0M172.1 75.3h0M172.3 68.3h0M173.1 82.7h0M176.0 73.9h0M175.0 83.9h0M173.9 96.8h0M175.8 79.3h0M174.3 77.7h0M176.2 73.7h0M176.8 67.9h0M181.4 77.1h0M175.7 72.6h0M175.4 79.6h0M175.4 76.0h0M173.9 80.6h0M177.9 82.0h0M172.5 86.7h0M181.4 70.7h0M172.5 72.6h0M175.4 88.5h0M178.2 84.9h0M177.6 73.5h0M177.0 96.3h0M173.4 58.4h0M178.4 75.6h0M177.6 76.1h0M179.8 81.9h0M176.6 68.8h0M176.4 78.2h0M172.1 79.5h0M177.1 86.5h0M174.2 64.6h0M177.3 73.4h0M180.8 73.9h0M173.6 84.9h0M179.8 108.8h0M178.7 101.0h0M171.6 104.5h0M173.4 84.9h0M172.6 92.2h0M173.4 101.5h0M170.9 91.1h0M173.4 88.0h0M172.9 93.4h0M175.5 105.0h0M173.5 110.6h0M180.7 90.7h0M169.0 109.9h0M171.2 89.3h0M171.8 100.1h0M174.0 98.7h0M176.1 96.1h0M174.0 112.4h0M182.9 104.9h0M174.6 99.5h0M178.3 107.2h0M173.1 93.9h0M171.5 102.6h0M181.6 110.1h0M171.2 102.7h0M169.7 114.7h0M170.9 91.0h0M173.6 89.7h0M177.7 97.0h0M172.6 97.8h0M172.6 95.4h0M174.9 110.5h0M176.1 102.1h0M170.7 91.9h0M174.2 94.1h0M172.0 102.9h0M174.4 89.8h0M175.2 102.3h0M176.3 91.3h0M179.0 98.7h0M172.1 101.4h0M170.3 88.1h0M173.9 95.8h0M173.7 96.2h0M173.9 100.2h0M176.5 105.0h0M174.2 98.7h0M175.8 88.5h0M173.8 96.0h0M173.1 92.3h0M171.2 97.8h0M176.2 106.8h0M174.3 106.3h0M177.9 108.1h0M175.4 92.8h0M171.5 86.2h0M174.1 91.9h0M173.4 99.2h0M173.1 94.7h0M169.1 90.2h0M174.3 98.8h0M174.4 108.9h0M170.0 97.1h0M174.7 102.5h0M175.6 115.5h0M170.1 95.2h0M170.6 105.9h0M173.9 88.0h0M175.6 92.8h0M174.5 98.1h0M168.8 108.3h0M170.4 100.9h0M175.0 95.7h0M170.8 104.8h0M177.3 111.4h0M177.5 111.0h0M170.8 93.1h0M174.6 104.6h0M175.5 95.3h0M175.3 105.2h0M172.7 108.4h0M172.5 91.1h0M174.2 116.6h0M177.6 84.6h0M175.6 101.0h0M176.3 85.9h0M174.1 95.7h0M175.8 111.9h0M176.7 110.0h0M173.8 114.8h0M171.3 97.4h0M174.4 92.1h0M172.0 92.3h0M173.1 122.9h0M171.7 107.9h0M169.1 92.5h0M173.9 100.0h0M170.7 99.3h0M171.6 107.5h0M172.4 95.2h0M169.3 86.2h0M174.8 93.7h0M176.3 104.1h0M170.3 100.6h0M172.2 95.4h0M172.4 89.8h0M173.3 109.4h0M174.0 104.6h0M174.2 92.9h0M171.4 95.5h0M176.4 114.2h0M167.7 97.8h0M171.0 110.6h0M176.2 98.5h0M172.2 98.7h0M174.4 96.1h0M177.2 104.5h0M178.8 103.5h0M169.9 93.2h0M172.0 113.7h0M171.2 96.9h0M171.2 95.7h0M174.8 109.2h0M167.5 94.3h0M174.7 98.4h0M173.5 102.1h0M178.2 107.0h0M168.4 87.5h0M175.0 92.3h0M171.4 81.0h0M171.6 104.3h0M176.1 101.9h0M176.3 104.3h0M169.6 102.4h0M175.7 94.6h0M172.9 104.4h0M171.9 91.4h0M171.7 92.4h0M173.1 97.0h0M172.1 107.7h0M173.2 89.3h0M167.5 123.6h0M175.9 93.7h0M173.7 87.2h0M171.9 100.9h0M174.2 92.7h0M173.1 104.8h0M175.5 106.3h0M176.1 91.4h0M175.0 103.4h0M164.3 95.5h0M177.4 101.4h0M173.4 95.5h0M175.4 98.3h0M171.2 102.2h0M173.5 110.8h0M172.6 96.2h0M175.4 105.5h0M176.2 111.6h0M174.1 93.0h0M174.6 108.1h0M175.9 96.9h0M176.8 102.1h0M175.6 103.1h0M172.3 97.5h0M176.4 111.1h0M172.1 109.6h0M174.2 100.6h0M177.7 99.0h0M169.1 100.3h0M170.2 104.2h0M167.0 104.2h0M178.3 88.4h0M174.0 104.9h0M174.8 103.4h0M173.9 96.8h0M172.6 93.5h0M170.0 86.4h0M174.0 102.1h0M170.2 94.4h0M174.9 96.1h0M178.8 119.6h0M179.3 87.6h0M169.8 84.2h0M172.3 105.4h0M169.8 85.4h0M168.0 95.2h0M169.7 99.6h0M172.3 91.7h0M176.5 108.3h0M176.7 99.1h0M170.5 100.4h0M174.8 93.4h0M172.1 90.9h0M173.7 97.1h0M176.9 113.8h0M176.0 98.2h0M176.2 103.2h0M174.3 102.6h0M173.7 91.8h0M174.3 104.9h0M174.8 94.7h0M172.3 85.2h0M173.8 84.2h0M173.9 104.1h0M178.0 113.9h0M170.7 104.3h0M172.6 107.8h0M173.1 90.0h0M171.9 75.9h0M167.5 113.4h0M176.8 106.6h0M177.0 86.0h0M168.5 101.3h0M169.3 99.1h0M177.1 97.9h0M168.5 90.9h0M173.8 102.3h0M173.3 104.7h0M171.5 88.4h0M174.5 102.1h0M169.5 87.6h0M168.8 104.8h0M171.4 97.5h0M173.1 106.4h0M174.0 102.9h0M175.0 86.2h0M177.2 90.6h0M174.8 99.7h0M173.3 103.8h0M175.1 108.8h0M169.3 90.0h0M171.1 98.2h0M171.9 118.4h0M168.7 100.3h0M175.1 91.8h0M169.4 85.4h0M169.2 103.0h0M170.7 106.8h0M177.2 93.0h0M166.0 98.8h0M166.7 92.8h0M167.5 86.4h0M165.6 92.4h0M163.2 91.5h0M162.0 102.5h0M166.2 86.2h0M160.3 81.4h0M167.8 99.3h0M165.5 87.2h0M163.1 80.4h0M159.1 85.3h0M161.6 86.3h0M159.9 88.6h0M161.1 105.3h0M165.1 89.7h0M169.6 95.2h0M161.1 94.3h0M161.7 87.5h0M169.2 80.0h0M164.0 103.1h0M164.7 88.0h0M162.0 85.8h0M167.9 94.7h0M164.0 85.6h0M165.8 87.6h0M166.0 97.3h0M167.9 88.1h0M164.9 92.4h0M162.3 88.7h0M165.3 100.8h0M163.6 80.9h0M159.3 73.3h0M162.3 91.8h0M159.9 89.0h0M163.4 109.3h0M162.6 91.7h0M162.9 91.9h0M159.5 96.2h0M165.2 93.1h0M164.3 95.2h0M166.6 85.4h0M160.7 89.2h0M162.5 100.6h0M162.0 83.6h0M164.9 88.8h0M162.0 93.7h0M165.2 96.1h0M160.9 91.6h0M164.9 95.4h0M164.1 96.6h0M163.6 92.1h0M163.3 86.6h0M163.5 94.4h0M166.2 87.7h0M166.4 87.9h0M166.1 99.5h0M164.1 94.5h0M162.4 84.3h0M162.2 80.1h0M163.1 86.2h0M163.6 93.0h0M162.3 95.2h0M160.6 91.2h0M161.0 104.3h0M165.7 90.6h0M162.0 85.0h0M163.6 90.7h0M162.6 97.4h0M164.5 94.2h0M163.1 93.6h0M166.6 99.9h0M164.2 98.2h0M160.8 101.5h0M163.7 88.8h0M160.9 94.2h0M162.7 93.3h0M166.0 92.7h0M160.1 103.9h0M165.1 95.1h0M163.5 95.2h0M166.3 84.6h0M163.7 90.3h0M166.1 95.5h0M164.0 93.1h0M179.8 62.5h0M182.7 63.6h0M181.5 61.8h0M183.5 61.4h0M182.8 64.0h0M183.4 64.2h0M180.1 60.0h0M180.5 64.5h0M183.2 65.4h0M186.9 63.6h0M183.0 60.1h0M182.8 63.2h0M181.1 60.9h0M185.5 64.1h0M182.4 62.0h0M181.8 61.9h0M182.6 60.5h0M181.0 61.9h0M183.0 62.3h0M182.1 59.7h0M181.6 61.0h0M179.3 60.3h0M179.8 63.7h0M181.2 62.2h0M177.8 61.1h0M180.2 63.7h0M181.7 62.1h0M181.6 61.6h0M185.5 61.3h0M178.1 63.9h0M181.3 62.1h0M180.9 59.0h0M182.1 60.9h0M181.1 61.5h0M180.2 58.0h0M181.9 63.5h0M181.1 64.1h0M185.4 60.4h0M181.0 63.7h0M182.4 62.8h0M183.2 62.3h0M182.4 60.4h0M181.3 65.0h0M181.5 62.5h0M181.2 60.7h0M180.1 63.3h0M181.7 62.1h0M184.5 60.5h0M184.2 63.1h0M180.1 62.5h0M183.1 58.6h0M181.6 61.8h0M181.3 62.6h0M181.1 63.4h0M183.1 63.8h0M180.0 62.2h0M180.0 62.4h0M183.8 60.0h0M178.5 61.7h0M180.7 60.7h0M182.4 63.3h0M181.5 63.9h0M181.1 60.9h0M184.9 58.2h0M184.0 62.4h0M174.9 72.5h0M170.3 71.0h0M166.1 68.7h0M173.6 72.3h0M168.2 66.1h0M171.4 71.6h0M170.5 65.0h0M173.8 67.0h0M166.3 75.6h0M175.5 65.9h0M172.3 65.4h0M178.9 67.6h0M167.5 69.2h0M163.4 70.6h0M170.7 68.9h0M166.0 68.5h0M171.2 68.7h0M164.0 78.8h0M174.0 62.2h0M171.4 69.8h0M173.6 72.0h0M170.7 64.9h0M166.2 71.0h0M174.9 71.0h0M175.6 58.0h0M176.6 76.5h0M169.3 72.8h0M171.7 70.7h0M173.2 65.5h0M169.2 68.0h0M171.3 66.0h0M171.6 65.8h0M174.4 72.9h0M164.6 60.1h0M176.5 59.7h0M171.4 66.2h0M171.6 71.6h0M169.3 64.6h0M200.0 95.7h0M195.8 96.4h0M197.4 102.8h0M197.6 96.0h0M198.8 106.4h0M199.5 103.6h0M197.2 102.8h0M194.9 99.0h0M193.5 97.6h0M201.4 102.4h0M198.9 103.1h0M201.0 105.6h0M195.7 91.2h0M199.6 103.6h0M200.5 104.7h0M201.6 99.2h0M197.7 103.1h0M201.8 99.4h0M193.9 99.7h0M197.1 96.1h0M194.8 104.5h0M193.9 102.1h0M198.1 100.3h0M200.6 100.3h0M195.5 103.0h0M196.3 107.3h0M196.0 107.4h0M196.1 102.4h0M200.2 98.5h0M200.8 104.1h0M193.3 95.2h0M199.2 107.8h0M199.0 104.8h0M196.3 99.8h0M192.6 101.0h0M197.1 99.0h0M193.9 103.3h0M198.9 98.2h0M198.8 102.0h0M201.9 99.2h0M196.0 94.8h0M198.3 101.7h0M196.7 100.1h0M199.0 98.2h0M195.9 96.7h0M196.2 99.7h0M194.4 99.8h0M197.8 98.5h0M198.0 99.2h0M202.8 100.6h0M198.8 98.1h0M197.0 104.8h0M200.8 102.9h0M200.6 104.1h0M196.4 98.2h0M198.2 99.9h0M196.7 102.3h0M196.9 101.5h0M197.9 99.2h0M197.0 99.4h0M195.7 104.0h0M198.8 105.3h0M196.0 107.8h0M192.0 100.7h0M195.6 104.6h0M200.7 105.0h0M198.5 102.9h0M199.2 102.4h0M198.1 101.9h0M195.0 105.2h0M192.9 105.2h0M193.3 98.8h0M197.4 100.7h0M196.5 98.7h0M197.8 102.6h0M195.6 100.0h0M204.1 103.3h0M195.0 107.2h0M201.5 100.1h0M196.3 106.0h0M201.4 102.8h0M203.2 101.4h0M202.9 101.4h0M202.0 101.5h0M199.2 104.6h0M193.0 109.1h0M192.5 102.4h0M198.2 100.8h0M200.3 106.6h0M193.4 104.6h0M201.1 99.2h0M197.6 105.3h0M194.2 100.9h0M198.2 103.0h0M204.5 104.8h0M195.7 100.0h0M198.5 101.4h0M198.6 103.8h0M196.4 96.5h0M201.0 100.6h0M202.0 95.1h0M199.5 102.8h0M202.2 101.3h0M198.0 98.0h0M199.9 99.1h0M194.3 95.3h0M201.0 101.4h0M197.1 98.5h0M192.2 102.0h0M197.2 105.1h0M193.0 100.0h0M194.0 97.7h0M199.7 106.6h0M199.6 99.4h0M194.1 106.0h0M190.2 103.5h0M199.0 106.2h0M193.4 100.1h0M199.3 95.5h0M199.3 99.9h0M198.4 102.3h0M203.4 108.6h0M199.4 98.6h0M196.7 103.7h0M195.7 96.8h0M197.0 100.5h0M198.1 106.0h0M193.0 105.6h0M196.1 103.6h0M197.1 102.2h0M194.7 102.7h0M197.5 114.5h0M191.0 88.6h0M191.0 102.9h0M192.8 95.5h0M193.7 86.3h0M181.4 83.3h0M190.3 97.7h0M189.7 94.1h0M191.3 89.2h0M187.8 97.0h0M197.9 98.6h0M196.3 115.4h0M192.3 94.1h0M209.7 89.1h0M196.7 86.9h0M199.6 99.2h0M194.0 101.6h0M195.6 93.7h0M198.2 103.0h0M187.8 96.1h0M183.2 93.4h0M204.1 91.3h0M182.1 95.6h0M183.9 97.2h0M190.5 92.5h0M188.2 86.9h0M192.7 86.7h0M201.4 104.5h0M196.8 90.7h0M179.5 109.8h0M188.4 84.3h0M193.2 94.6h0M191.0 92.7h0M180.0 84.7h0M188.1 80.9h0M198.4 88.1h0M191.8 104.5h0M188.6 87.8h0M183.9 97.4h0M189.9 76.2h0M190.9 67.0h0M176.2 70.9h0M184.5 85.3h0M177.5 60.1h0M189.9 85.9h0M191.3 72.8h0M193.2 72.7h0M191.4 85.6h0M193.9 69.2h0M193.0 76.1h0M189.9 74.2h0M192.4 78.2h0M183.5 86.6h0M188.9 90.9h0M182.8 69.7h0M184.7 73.5h0M188.6 95.2h0M194.9 84.5h0M186.9 92.2h0M191.2 91.6h0M188.2 80.6h0M194.6 75.4h0M191.5 85.7h0M185.4 82.8h0M192.9 89.6h0M189.6 83.0h0M187.4 95.1h0M196.5 70.4h0M188.1 70.0h0M198.1 90.3h0M195.5 92.3h0M200.5 91.9h0M197.2 90.5h0M205.4 95.0h0M200.7 86.3h0M201.9 90.8h0M197.9 89.0h0M200.0 90.1h0M198.5 90.6h0M196.3 86.5h0M201.2 86.8h0M192.1 88.3h0M198.1 76.7h0M197.4 89.8h0M204.8 92.9h0M198.7 87.0h0M192.8 86.0h0M199.3 86.9h0M201.4 93.6h0M179.9 110.9h0M186.1 106.5h0M176.2 108.4h0M179.5 109.3h0M188.1 115.0h0M179.7 108.6h0M176.1 107.8h0M183.1 112.6h0M180.0 114.8h0M181.7 112.3h0M184.1 110.6h0M180.0 105.8h0M183.7 113.7h0M180.9 116.3h0M182.1 110.9h0" stroke="#9B4FA5" stroke-width="1.1" stroke-linecap="round" fill="none"/>
<path d="M208.4 68.4h0M204.2 69.6h0M203.3 67.8h0M208.6 70.5h0M202.6 67.1h0M205.6 71.1h0M205.0 69.7h0M206.4 64.3h0M207.8 66.7h0M208.9 73.3h0M201.3 73.0h0M204.9 64.7h0M201.0 68.6h0M204.1 72.9h0M202.2 69.1h0M205.0 65.5h0M204.4 69.6h0M206.3 68.1h0M206.9 62.2h0M205.9 69.1h0M207.2 68.1h0M208.1 69.6h0M205.3 73.4h0M205.5 73.4h0M203.8 72.6h0M203.5 72.9h0M207.2 64.5h0M209.2 64.2h0M206.0 68.7h0M202.2 67.5h0M203.9 69.0h0M206.1 66.1h0M205.8 69.5h0M203.5 72.7h0M206.0 67.2h0M205.8 67.2h0M202.3 65.9h0M203.3 60.9h0M207.0 66.8h0M203.5 66.8h0M205.1 68.4h0M208.4 65.3h0M207.5 72.0h0M207.2 70.9h0M202.8 73.7h0M203.9 58.9h0M205.5 65.7h0M205.5 69.8h0M207.4 69.1h0M207.3 68.9h0M208.1 67.6h0M209.0 71.1h0M205.4 66.6h0M203.4 67.1h0M207.7 75.8h0M206.1 66.8h0M206.1 70.9h0M204.6 68.3h0M205.4 70.3h0M211.1 67.9h0M201.5 70.9h0M207.4 71.6h0M206.5 67.4h0M207.3 66.2h0M204.6 65.9h0M205.8 65.0h0M204.7 72.7h0M205.2 73.7h0M204.8 61.9h0M209.6 65.2h0M208.2 68.3h0M207.1 70.7h0M206.8 64.0h0M204.5 66.0h0M202.4 68.2h0M206.6 70.6h0M203.7 64.9h0M204.5 71.1h0M203.6 65.0h0M204.7 70.7h0M204.5 65.7h0M208.7 66.6h0M209.1 70.3h0M205.8 69.1h0M207.0 70.1h0M205.7 67.2h0M206.4 66.9h0M204.7 71.7h0M206.6 73.8h0M202.1 69.1h0M200.0 69.1h0M210.0 65.3h0M206.1 73.7h0M205.8 66.5h0M207.0 69.0h0M206.1 72.1h0M207.6 58.7h0M203.2 66.6h0M204.2 63.3h0M208.7 66.2h0M206.4 67.6h0M204.1 62.9h0M202.6 71.2h0M209.9 75.2h0M208.1 66.6h0M207.1 67.6h0M202.4 73.1h0M204.3 68.9h0M203.0 64.0h0M201.3 69.5h0M204.4 65.6h0M204.8 71.8h0M210.5 65.5h0M202.6 72.3h0M208.0 63.5h0M198.6 72.1h0M199.5 70.1h0M191.4 78.6h0M202.7 70.1h0M194.9 71.3h0M190.0 75.4h0M195.8 72.8h0M189.2 78.0h0M187.3 77.3h0M193.5 75.9h0M197.4 71.5h0M198.6 71.6h0M198.1 73.6h0M191.2 74.4h0M191.6 75.4h0M192.6 74.9h0M189.6 77.8h0M202.3 69.7h0M197.3 74.1h0M199.0 69.9h0M199.2 70.4h0M191.4 76.8h0M199.4 71.1h0M188.4 77.6h0M198.7 71.0h0M196.9 72.2h0M190.2 75.8h0M189.5 79.1h0M186.4 77.8h0M198.4 73.8h0M190.5 75.9h0M200.5 68.5h0M194.3 73.9h0M203.7 68.9h0M200.4 72.2h0M200.6 69.4h0M198.2 72.4h0M188.2 77.7h0M198.0 71.7h0M188.3 78.7h0M195.7 72.0h0M200.6 72.1h0M191.4 77.8h0M189.3 79.1h0M198.1 72.1h0M198.4 73.1h0M187.7 79.4h0M191.4 74.9h0M187.0 78.3h0M197.3 71.7h0M207.6 77.5h0M208.6 83.6h0M208.7 79.2h0M207.2 74.2h0M208.4 79.9h0M207.1 79.3h0M207.9 80.6h0M209.6 79.4h0M206.3 76.1h0M207.1 83.5h0M208.2 74.8h0M210.8 72.0h0M208.9 71.2h0M208.5 81.5h0M208.4 78.2h0M208.8 75.8h0M208.1 84.5h0M208.6 73.4h0M209.3 75.2h0M208.4 78.0h0M207.2 77.1h0M208.7 69.5h0M207.6 84.5h0M207.0 75.3h0M207.4 73.2h0M208.0 76.1h0M209.0 82.6h0M209.1 73.0h0M210.3 72.8h0M205.9 69.5h0M208.7 79.8h0M210.2 74.2h0M208.1 74.0h0M209.0 71.8h0M207.5 71.9h0M209.1 77.0h0M208.4 72.3h0M206.8 78.6h0M208.7 83.3h0M207.4 84.8h0M207.6 83.5h0M206.6 70.5h0M209.4 71.3h0M207.3 81.6h0M209.5 79.8h0M207.4 76.7h0M209.8 71.5h0M208.4 74.3h0M208.8 75.2h0M206.4 86.5h0M205.3 84.7h0M208.4 73.3h0M209.6 81.2h0M210.0 74.1h0M208.3 75.0h0M200.0 76.2h0M199.6 81.5h0M206.4 74.3h0M197.5 78.7h0M200.7 82.1h0M202.5 70.3h0M203.8 70.3h0M203.6 81.8h0M203.8 79.7h0M200.0 73.4h0M207.8 75.1h0M200.4 82.5h0M206.8 69.2h0M207.1 69.0h0M194.5 75.4h0M196.3 81.6h0M201.5 68.4h0M207.3 82.4h0M206.5 78.3h0M201.5 73.1h0M203.6 84.3h0M192.8 77.3h0M206.6 66.9h0M189.2 78.2h0M207.3 75.8h0M207.8 74.4h0M201.4 75.4h0M197.5 81.1h0M200.0 69.6h0M201.0 73.6h0M200.4 79.4h0M203.6 68.4h0M205.7 70.0h0M197.8 81.9h0M201.3 72.8h0M195.3 72.7h0M192.1 76.3h0M195.2 73.7h0M203.2 73.5h0M206.6 68.0h0M198.6 72.7h0M195.0 77.8h0M199.1 79.2h0M191.6 75.3h0M205.3 65.2h0M205.0 67.3h0M201.1 72.4h0M195.5 79.5h0M206.5 76.1h0M194.0 76.0h0M204.4 73.9h0M203.7 72.6h0M207.2 64.3h0M207.0 64.0h0M204.0 79.7h0M191.1 78.4h0M198.8 73.5h0M204.0 74.3h0M203.6 82.5h0M204.9 79.5h0M205.8 71.4h0M207.2 65.6h0M203.8 69.4h0M202.1 67.7h0M203.4 83.2h0M200.7 81.0h0M199.7 75.2h0M193.7 80.4h0M198.7 75.7h0M201.6 71.6h0" stroke="#D2A679" stroke-width="1.1" stroke-linecap="round" fill="none"/>
<path d="M204.7 139.3h0M197.9 129.2h0M197.2 132.4h0M207.5 132.7h0M210.3 139.6h0M194.0 140.9h0M194.6 137.9h0M201.7 135.1h0M192.9 129.0h0M193.5 125.8h0M203.9 131.9h0M194.6 125.7h0M196.9 133.6h0M196.6 124.9h0M206.8 126.5h0M200.3 132.6h0M212.1 128.5h0M201.2 142.9h0M207.8 142.5h0M203.4 138.9h0M211.4 136.0h0M201.5 140.6h0M203.1 126.3h0M207.6 134.2h0M197.5 132.1h0M212.2 133.7h0M194.3 141.5h0M204.9 135.9h0M200.7 145.4h0M198.5 126.5h0M210.1 126.6h0M202.3 131.1h0M203.2 135.4h0M213.3 131.9h0M199.3 128.8h0M207.6 138.6h0M205.2 141.6h0M196.4 143.9h0M202.0 142.6h0M212.0 125.5h0M204.3 125.6h0M212.6 131.5h0M209.1 132.4h0M194.6 138.4h0M194.5 142.1h0M205.6 137.3h0M188.2 130.5h0M202.9 124.7h0M191.9 131.3h0M210.8 137.4h0M209.0 144.7h0M201.5 129.6h0M195.9 127.1h0M201.2 129.1h0M198.9 132.2h0M204.7 143.2h0M208.3 142.9h0M200.2 129.5h0M197.8 141.8h0M199.8 118.7h0M206.6 141.7h0M207.6 139.3h0M208.8 138.4h0M197.8 145.1h0M201.3 123.5h0M216.6 135.0h0M205.6 145.7h0M202.1 134.4h0M211.1 130.7h0M199.8 135.6h0M196.0 125.6h0M197.6 133.4h0M200.6 142.2h0M196.9 130.6h0M192.9 129.2h0M206.6 140.8h0M212.2 139.0h0M213.5 132.9h0M199.8 139.4h0M194.4 124.6h0M202.2 137.3h0M206.2 124.0h0M208.5 127.0h0M197.2 138.5h0M205.3 124.6h0M197.2 141.0h0M202.3 125.2h0M202.2 122.6h0M200.3 146.3h0M206.2 134.4h0M211.0 130.8h0M207.1 133.9h0M197.0 131.3h0M203.0 137.3h0M198.0 132.1h0M196.9 136.3h0M202.9 133.6h0M198.8 128.2h0M211.4 142.8h0M192.4 138.8h0M206.7 133.4h0M204.3 138.1h0M198.9 138.5h0M198.6 139.3h0M210.7 132.7h0M210.8 138.8h0M212.6 139.9h0M207.4 133.3h0M204.1 138.7h0M203.1 125.5h0M208.2 126.7h0M204.8 122.5h0M212.2 130.2h0M202.0 127.1h0M192.2 131.7h0M211.4 128.7h0M201.2 132.2h0M201.7 136.7h0M193.7 131.3h0M210.9 134.3h0M196.0 138.5h0M199.6 135.5h0M190.2 132.4h0M193.0 134.3h0M205.8 129.1h0M206.7 148.2h0M214.7 138.4h0M189.2 130.6h0M200.3 123.4h0M210.6 125.0h0M200.4 122.2h0M200.9 122.8h0M191.9 143.0h0M204.7 136.8h0M191.1 127.9h0M193.0 125.7h0M200.0 143.4h0M206.8 142.7h0M209.3 139.0h0M214.2 130.9h0M204.4 140.1h0M191.3 135.1h0M205.9 128.9h0M204.8 143.4h0M215.4 132.3h0M204.2 128.3h0M205.3 144.1h0M203.2 139.4h0M201.2 137.4h0M199.4 122.9h0M211.3 125.9h0M206.0 127.5h0M192.8 136.6h0M189.9 133.2h0M190.6 138.5h0M195.4 135.7h0M203.1 125.0h0M208.6 127.9h0M199.8 124.7h0M197.5 131.5h0M210.1 144.4h0M211.6 137.3h0M201.9 133.4h0M207.8 139.9h0M195.9 137.3h0M202.3 130.9h0M195.8 134.1h0M214.6 126.6h0M215.7 132.8h0M214.4 130.5h0M198.8 133.8h0M191.4 125.5h0M210.4 132.2h0M211.9 127.5h0M203.2 138.1h0M192.5 139.9h0M194.6 141.4h0M194.0 125.5h0M194.9 125.0h0M201.7 126.4h0M196.3 131.0h0M204.1 143.0h0M205.5 135.7h0M205.3 143.8h0M193.6 135.5h0M206.0 147.7h0M199.0 141.9h0M194.7 126.9h0M194.5 146.0h0M196.8 138.9h0M212.3 139.4h0M199.6 134.6h0M205.3 140.1h0M211.0 126.5h0M207.3 136.2h0M213.4 125.9h0M207.2 137.1h0M197.8 123.2h0M205.3 128.0h0M212.1 138.1h0M206.2 124.6h0M198.9 142.3h0M200.9 131.2h0M194.1 128.8h0M216.8 136.6h0M193.7 140.5h0M208.8 126.1h0M199.6 145.8h0M206.5 126.6h0M209.3 126.3h0M201.5 122.4h0M200.3 122.5h0M210.6 144.5h0M193.0 131.2h0M206.3 133.2h0M206.3 134.8h0M202.0 138.4h0M203.7 126.0h0M204.9 122.7h0M198.2 143.9h0M205.0 138.2h0M199.1 132.6h0M201.5 124.8h0M190.6 127.3h0M201.6 142.6h0M208.7 133.1h0M214.2 131.4h0M209.3 125.5h0M196.5 126.7h0M203.6 139.4h0M189.2 128.1h0M203.9 144.2h0M204.9 138.6h0M195.0 129.1h0M215.3 132.5h0M203.8 121.7h0M195.5 126.8h0M196.3 140.3h0M201.6 121.2h0M206.4 123.2h0M214.2 130.1h0M197.4 130.9h0M218.6 128.2h0M215.0 137.4h0M205.9 139.5h0M195.7 126.0h0M202.2 121.3h0M199.5 138.1h0M195.6 130.1h0M200.8 127.6h0M209.6 132.9h0M206.7 137.7h0M204.4 143.9h0M205.9 132.6h0M191.5 131.4h0M202.3 136.0h0M194.0 137.9h0M208.2 130.8h0M207.3 138.8h0M194.2 136.9h0M196.7 126.5h0M213.0 138.1h0M206.0 141.1h0M211.3 127.5h0M193.3 137.0h0M210.4 127.8h0M208.8 144.5h0M195.7 137.4h0M189.3 139.9h0M212.9 132.1h0M207.3 124.4h0M205.3 142.3h0M193.9 127.2h0M192.1 131.8h0M202.2 145.4h0M209.4 146.0h0M196.8 125.9h0M203.4 129.7h0M213.2 129.8h0M202.0 125.8h0M213.1 132.2h0M210.8 133.9h0M203.5 135.1h0M198.6 123.7h0M200.8 130.3h0M201.4 134.6h0M200.7 137.6h0M189.0 132.3h0M200.9 144.4h0M196.8 133.5h0M205.4 121.5h0M195.4 134.1h0M197.7 125.7h0M197.5 143.7h0M201.1 136.1h0M214.3 132.3h0M195.5 122.7h0M204.7 143.8h0M201.0 135.0h0M210.2 139.8h0M209.8 141.9h0M214.3 135.7h0M201.1 122.1h0M204.5 137.1h0M200.6 142.8h0M207.4 136.0h0M200.7 143.7h0M208.0 137.9h0M204.1 131.3h0M196.6 140.0h0M203.4 134.8h0M196.8 131.7h0M201.9 121.8h0M199.5 142.5h0M209.8 131.6h0M201.4 129.5h0M193.6 136.7h0M209.7 137.4h0M203.8 145.1h0M212.4 141.4h0M195.9 142.0h0M208.8 128.6h0M199.9 119.9h0M208.6 136.1h0M202.8 144.4h0M191.8 138.9h0M203.6 121.0h0M200.7 121.7h0M193.7 128.7h0M198.2 143.2h0M209.2 123.7h0M208.1 139.4h0M197.4 134.5h0M206.6 138.6h0M207.2 145.4h0M198.7 140.1h0M212.5 131.9h0M208.7 127.9h0M215.2 143.0h0M208.5 133.0h0M202.8 145.2h0M206.2 122.2h0M210.6 137.7h0M212.0 130.6h0M204.3 134.4h0M200.2 125.1h0M202.3 131.7h0M195.0 130.3h0M209.3 126.7h0M198.1 125.0h0M205.3 131.4h0M204.1 142.9h0M191.8 140.3h0M212.4 128.2h0M198.2 132.8h0M212.1 130.3h0M208.5 123.1h0M203.6 134.1h0M196.6 123.6h0M204.1 122.6h0M212.9 135.6h0M205.9 124.4h0M209.5 127.0h0M195.0 128.0h0M200.6 124.4h0M203.9 140.0h0M198.0 143.8h0M198.3 121.0h0M207.9 131.8h0M203.2 129.0h0M197.6 129.5h0M195.6 138.7h0M203.3 130.1h0M196.6 127.4h0M209.4 139.7h0M212.9 125.8h0M206.7 141.8h0M208.6 129.5h0M216.2 127.1h0M199.6 142.7h0M201.8 125.0h0M204.4 138.6h0M191.4 132.4h0M210.2 142.6h0M206.2 140.3h0M210.7 132.6h0M215.6 138.6h0M210.8 145.0h0M214.3 132.6h0M205.2 142.4h0M207.2 132.2h0M205.1 135.2h0M193.2 129.8h0M213.9 130.5h0M210.1 133.8h0M202.8 125.5h0M212.2 141.2h0M197.6 124.7h0M194.9 142.3h0M198.8 127.0h0M190.7 138.8h0M212.9 129.2h0M210.9 129.7h0M214.7 138.6h0M207.9 135.9h0M206.6 146.9h0M192.8 141.1h0M205.1 133.7h0M200.0 131.3h0M200.8 139.5h0M203.9 135.6h0M198.7 131.7h0M202.4 138.4h0M210.1 131.4h0M202.3 139.1h0M211.1 139.5h0M192.7 137.5h0M197.1 133.7h0M194.0 131.6h0M202.6 140.2h0M199.9 141.2h0M215.9 126.0h0M207.7 138.1h0M194.2 131.6h0M201.1 126.8h0M207.9 138.1h0M208.5 125.8h0M207.7 126.3h0M194.9 144.2h0M200.5 128.3h0M197.1 126.1h0M196.7 138.4h0M205.0 127.8h0M205.0 131.4h0M203.4 137.5h0M195.5 136.4h0M199.3 135.0h0M205.1 134.5h0M199.0 140.7h0M198.2 136.9h0M213.3 132.3h0M210.5 142.3h0M216.2 138.7h0M200.0 125.0h0M209.2 140.7h0M204.0 121.6h0M199.3 141.5h0M203.5 122.7h0M212.9 129.4h0M198.0 122.6h0M200.3 128.2h0M211.0 131.5h0M203.1 142.9h0M201.2 130.1h0M200.2 130.0h0M205.2 134.0h0M193.9 141.5h0M198.4 123.3h0M213.6 133.4h0M200.2 134.3h0M193.7 130.7h0M211.2 125.7h0M210.4 136.3h0M214.9 138.9h0M195.2 142.7h0M209.5 135.4h0M211.6 136.3h0M201.3 122.5h0M197.5 123.0h0M197.2 141.8h0M205.3 124.3h0M211.7 132.3h0M194.3 142.8h0M211.8 126.8h0M189.2 143.9h0M203.0 142.2h0M206.9 145.9h0M206.6 139.2h0M204.0 135.0h0M212.0 122.9h0M204.8 125.9h0M197.3 132.8h0M196.5 125.1h0M191.8 142.2h0M210.9 129.3h0M213.2 141.5h0M209.5 135.1h0M202.0 134.2h0M200.3 145.4h0M194.9 125.5h0M215.0 138.7h0M196.5 130.3h0M203.3 131.9h0M194.3 130.1h0M191.5 126.5h0M191.4 132.8h0M214.4 139.6h0M202.5 139.2h0M198.2 123.0h0M204.7 133.3h0M208.1 127.2h0M189.5 137.8h0M209.2 131.3h0M197.9 125.4h0M196.2 135.9h0M213.6 132.7h0M201.5 134.5h0M191.9 130.5h0M199.6 134.7h0M204.8 138.0h0M200.9 131.3h0M196.8 135.0h0M196.2 144.1h0M191.0 137.9h0M208.1 127.0h0M210.5 126.0h0M208.0 124.2h0M197.6 140.6h0M201.9 131.2h0M208.4 126.2h0M182.8 126.3h0M186.9 118.5h0M188.3 126.6h0M186.8 133.1h0M180.9 129.3h0M184.2 133.9h0M191.6 130.6h0M182.1 120.1h0M188.9 136.9h0M183.7 122.8h0M181.3 128.6h0M176.8 132.1h0M188.0 119.6h0M186.8 122.1h0M193.0 124.8h0M193.3 132.1h0M188.1 131.4h0M183.7 133.5h0M184.7 126.1h0M174.2 126.8h0M187.3 118.5h0M189.4 132.6h0M184.0 121.1h0M180.6 131.0h0M178.2 121.3h0M175.2 129.2h0M191.5 123.0h0M193.0 133.6h0M180.6 130.3h0M194.3 131.6h0M186.1 130.0h0M181.4 128.7h0M176.9 129.7h0M176.6 128.8h0M181.7 126.3h0M189.8 133.6h0M185.1 121.7h0M182.8 123.9h0M187.9 132.0h0M188.3 129.5h0M181.7 123.6h0M179.2 135.3h0M187.3 128.3h0M175.6 131.5h0M185.0 137.6h0M190.1 129.6h0M180.1 127.8h0M182.7 132.6h0M176.7 121.1h0M188.1 126.2h0M177.9 127.3h0M176.3 126.3h0M175.5 134.4h0M187.1 119.2h0M183.5 127.9h0M184.5 130.1h0M183.5 128.1h0M190.3 128.7h0M186.6 130.1h0M182.3 121.9h0M185.0 122.4h0M183.2 121.8h0M178.2 133.2h0M178.6 127.4h0M188.9 124.2h0M192.6 120.5h0M186.0 119.0h0M188.8 132.4h0M185.4 132.3h0M180.6 129.0h0M178.1 118.9h0M177.7 132.6h0M173.7 123.8h0M177.0 131.0h0M181.7 120.1h0M187.6 119.1h0M176.5 135.9h0M183.9 131.0h0M176.5 122.4h0M182.4 124.2h0M172.5 128.0h0M183.0 124.5h0M182.3 118.3h0M183.6 121.3h0M188.3 127.1h0M188.1 118.4h0M186.2 126.9h0M180.1 126.8h0M180.1 131.5h0M182.2 118.9h0M183.7 126.9h0M190.7 121.1h0M189.6 126.6h0M178.3 124.6h0M187.2 130.8h0M181.9 124.9h0M180.9 124.2h0M174.4 131.4h0M185.4 121.5h0M184.3 132.6h0M177.4 124.9h0M182.7 126.7h0M176.9 126.5h0M181.6 125.6h0M174.5 126.5h0M183.4 130.6h0M186.2 124.5h0M176.5 124.2h0M179.5 129.2h0M184.1 136.1h0M187.4 135.3h0M185.6 128.3h0M183.6 119.4h0M180.2 121.5h0M192.3 126.6h0M175.4 124.3h0M180.4 123.1h0M189.4 128.2h0M175.3 129.3h0M184.1 117.1h0M180.0 135.7h0M188.8 125.5h0M187.1 120.9h0M187.8 131.8h0M180.5 131.3h0M193.5 127.8h0M188.6 133.1h0M188.7 132.5h0M176.3 127.6h0M177.4 127.5h0M189.8 127.7h0M178.4 122.6h0M182.6 120.2h0M186.0 133.3h0M189.3 132.5h0M185.9 125.6h0M184.3 120.3h0M189.1 133.5h0M187.7 130.5h0M189.5 124.5h0M177.4 132.1h0M194.3 124.7h0M188.2 121.4h0M183.5 123.7h0M181.3 130.2h0M186.4 122.7h0M173.4 129.4h0M189.7 129.4h0M183.6 124.7h0M193.8 133.0h0M186.0 124.0h0M181.0 119.4h0M182.5 126.4h0M190.6 125.9h0M179.0 125.4h0M185.4 132.4h0M180.1 125.0h0M178.0 124.9h0M193.0 121.1h0M181.7 127.7h0M188.1 125.6h0M191.7 124.4h0M179.6 129.4h0M176.4 122.5h0M190.3 121.6h0M192.7 121.7h0M191.4 130.6h0M189.2 126.1h0M181.1 124.1h0M180.0 123.2h0M192.8 129.4h0M182.2 119.3h0M182.9 121.5h0M184.3 128.7h0M188.6 122.9h0M181.1 125.7h0M176.0 133.2h0M180.9 135.0h0M180.4 127.5h0M181.3 126.8h0M189.1 119.8h0M173.1 128.1h0M188.9 121.1h0M185.8 135.8h0M176.7 130.1h0M180.8 128.0h0M188.2 120.3h0M187.5 129.8h0M177.6 134.3h0M183.2 124.5h0M180.0 122.1h0M189.9 132.4h0M182.3 123.4h0M175.8 128.9h0M180.4 125.0h0M180.2 128.0h0M191.9 128.3h0M181.1 130.4h0M182.3 128.5h0M185.6 134.6h0M184.9 132.1h0M190.3 124.3h0M183.8 132.4h0M182.6 116.3h0M183.1 130.7h0M175.8 130.1h0M178.1 122.0h0M186.3 123.0h0M179.5 120.9h0M175.0 128.0h0M182.1 138.0h0M188.9 129.8h0M175.5 125.3h0M191.6 124.5h0M178.3 124.3h0M180.8 124.7h0M183.7 119.3h0M176.0 134.7h0M188.0 124.2h0M187.7 126.6h0M188.2 117.6h0M179.4 129.3h0M187.1 127.7h0M181.5 119.6h0M186.8 126.1h0M187.4 124.8h0M181.8 130.9h0M183.6 135.5h0M182.1 129.6h0M182.4 129.7h0M216.9 116.4h0M215.2 115.0h0M212.4 105.7h0M215.8 117.2h0M213.2 104.9h0M212.4 107.0h0M213.0 107.6h0M215.8 126.0h0M213.8 107.0h0M217.3 121.8h0M214.5 108.5h0M207.7 93.6h0M207.6 94.8h0M212.5 100.7h0M214.7 128.6h0M215.8 117.2h0M212.8 107.8h0M216.7 115.0h0M216.2 127.8h0M214.6 109.4h0M216.5 123.5h0M215.2 126.2h0M216.4 119.2h0M215.8 128.9h0M213.0 104.1h0M215.5 118.3h0M213.8 110.4h0M217.3 111.4h0M210.3 98.9h0M209.9 96.5h0M216.2 124.0h0M216.3 118.9h0M216.0 115.2h0M212.9 109.0h0M212.3 107.1h0M210.5 100.7h0M213.8 108.8h0M213.7 107.2h0M215.0 113.9h0M212.4 105.4h0M212.0 104.0h0M212.4 104.2h0M212.3 106.3h0M216.1 126.4h0M214.0 107.6h0M214.9 126.7h0M214.1 109.3h0M209.8 99.8h0M216.1 109.8h0M210.7 100.7h0M214.6 110.0h0M213.5 112.1h0M216.3 116.9h0M217.0 126.9h0M214.0 107.3h0M213.1 120.6h0M200.9 124.1h0M214.9 119.3h0M213.0 113.9h0M196.1 112.8h0M203.3 118.1h0M215.4 111.8h0M206.9 122.1h0M202.9 123.9h0M209.8 109.6h0M204.6 116.0h0M208.3 114.0h0M203.0 128.1h0M210.7 115.1h0M211.1 123.7h0M209.9 125.8h0M201.7 117.9h0M203.2 119.1h0M202.8 123.2h0M219.5 107.8h0M200.6 116.0h0M206.3 116.6h0M198.2 110.6h0M212.7 112.5h0M199.2 118.2h0M204.2 117.2h0M207.2 108.3h0M203.3 119.4h0M215.1 120.8h0M207.1 120.1h0M211.6 115.8h0M206.8 111.2h0M207.4 115.3h0M211.8 116.3h0M208.0 116.4h0M203.1 113.7h0M201.3 116.6h0M214.5 113.4h0M207.7 112.2h0M207.9 121.3h0M187.6 108.6h0M185.0 112.3h0M191.8 119.2h0M189.7 114.1h0M186.3 117.3h0M188.7 112.5h0M193.7 114.4h0M185.5 115.4h0M191.2 117.1h0M195.0 113.0h0M191.8 116.6h0M194.2 110.4h0" stroke="#F8282E" stroke-width="1.1" stroke-linecap="round" fill="none"/>
<path d="M165.0 110.0h0M168.0 111.0h0M205.0 83.0h0M206.0 90.0h0M203.0 79.5h0" stroke="#F8282E" stroke-width="1.1" stroke-linecap="round" fill="none"/>
<path d="M164.2 58.5h0M165.0 60.5h0M165.8 60.7h0M168.0 62.2h0M167.1 62.4h0M164.9 59.6h0M166.2 60.7h0M168.7 64.1h0M166.2 60.3h0M167.4 62.4h0M167.3 62.3h0M166.7 62.3h0M167.9 63.1h0M166.6 61.4h0M167.2 62.2h0M163.9 58.2h0M167.2 63.3h0M165.2 60.0h0M168.3 63.3h0M165.6 60.7h0M167.5 63.1h0M167.5 63.3h0M166.9 62.5h0M167.3 61.9h0M164.4 58.6h0M166.3 61.4h0M168.7 64.7h0M165.3 59.6h0" stroke="#F0149B" stroke-width="1.1" stroke-linecap="round" fill="none"/>
<path d="M164.2 79.3h0M158.6 88.7h0M160.5 98.9h0M194.0 114.2h0M206.0 145.8h0M170.8 81.5h0" stroke="#12B36E" stroke-width="1.1" stroke-linecap="round" fill="none"/>
<text x="69.8" y="54.8" font-size="7.8" text-anchor="middle" font-weight="normal" font-style="normal" fill="#222" stroke="#222" stroke-width="0.25">3</text>
<text x="86.2" y="59.5" font-size="7.8" text-anchor="middle" font-weight="normal" font-style="normal" fill="#222" stroke="#222" stroke-width="0.25">0</text>
<text x="73.2" y="108.6" font-size="7.8" text-anchor="middle" font-weight="normal" font-style="normal" fill="#222" stroke="#222" stroke-width="0.25">5</text>
<text x="161.8" y="57.6" font-size="7.8" text-anchor="middle" font-weight="normal" font-style="normal" fill="#222" stroke="#222" stroke-width="0.25">6</text>
<text x="185.3" y="95.2" font-size="7.8" text-anchor="middle" font-weight="normal" font-style="normal" fill="#222" stroke="#222" stroke-width="0.25">1</text>
<text x="205.0" y="73.8" font-size="7.8" text-anchor="middle" font-weight="normal" font-style="normal" fill="#222" stroke="#222" stroke-width="0.25">4</text>
<text x="200.0" y="133.4" font-size="7.8" text-anchor="middle" font-weight="normal" font-style="normal" fill="#222" stroke="#222" stroke-width="0.25">2</text>
<path d="M58.2 123.8V146.5H83.2" fill="none" stroke="#111" stroke-width="0.8"/>
<path d="M58.2 120.8l-2.2 4.6h4.4z" fill="#111"/>
<path d="M86.2 146.5l-4.6 -2.2v4.4z" fill="#111"/>
<text x="53.4" y="134.7" font-size="6.0" text-anchor="middle" font-weight="normal" font-style="normal" fill="#2a2a2a" transform="rotate(-90 53.4 134.7)">UMAP-2</text>
<text x="59.7" y="156.9" font-size="6.0" text-anchor="start" font-weight="normal" font-style="normal" fill="#2a2a2a">UMAP-1</text>
<rect x="361.8" y="132.85" width="14.3" height="3.35" fill="#F0149B" stroke="#555" stroke-width="0.5"/>
<rect x="361.8" y="131.96" width="14.3" height="0.89" fill="#8A6A4A" stroke="#555" stroke-width="0.5"/>
<rect x="361.8" y="118.34" width="14.3" height="13.62" fill="#D2A679" stroke="#555" stroke-width="0.5"/>
<rect x="361.8" y="67.01" width="14.3" height="51.34" fill="#F8282E" stroke="#555" stroke-width="0.5"/>
<rect x="361.8" y="27.39" width="14.3" height="39.62" fill="#9B4FA5" stroke="#555" stroke-width="0.5"/>
<rect x="361.8" y="24.60" width="14.3" height="2.79" fill="#12B36E" stroke="#555" stroke-width="0.5"/>
<rect x="361.8" y="24.60" width="14.3" height="111.60" fill="none" stroke="#666" stroke-width="0.8"/>
<rect x="380.1" y="130.62" width="14.3" height="5.58" fill="#F0149B" stroke="#555" stroke-width="0.5"/>
<rect x="380.1" y="129.50" width="14.3" height="1.12" fill="#C49A6A" stroke="#555" stroke-width="0.5"/>
<rect x="380.1" y="118.90" width="14.3" height="10.60" fill="#D2A679" stroke="#555" stroke-width="0.5"/>
<rect x="380.1" y="81.52" width="14.3" height="37.39" fill="#F8282E" stroke="#555" stroke-width="0.5"/>
<rect x="380.1" y="24.60" width="14.3" height="56.92" fill="#9B4FA5" stroke="#555" stroke-width="0.5"/>
<rect x="380.1" y="24.60" width="14.3" height="111.60" fill="none" stroke="#666" stroke-width="0.8"/>
<rect x="398.0" y="130.62" width="14.3" height="5.58" fill="#1FA9E6" stroke="#555" stroke-width="0.5"/>
<rect x="398.0" y="128.39" width="14.3" height="2.23" fill="#8A7560" stroke="#555" stroke-width="0.5"/>
<rect x="398.0" y="99.93" width="14.3" height="28.46" fill="#FBB838" stroke="#555" stroke-width="0.5"/>
<rect x="398.0" y="95.47" width="14.3" height="4.46" fill="#F8282E" stroke="#555" stroke-width="0.5"/>
<rect x="398.0" y="84.31" width="14.3" height="11.16" fill="#9B4FA5" stroke="#555" stroke-width="0.5"/>
<rect x="398.0" y="24.60" width="14.3" height="59.71" fill="#12B36E" stroke="#555" stroke-width="0.5"/>
<rect x="398.0" y="24.60" width="14.3" height="111.60" fill="none" stroke="#666" stroke-width="0.8"/>
<rect x="415.9" y="128.95" width="14.3" height="7.25" fill="#1FA9E6" stroke="#555" stroke-width="0.5"/>
<rect x="415.9" y="106.07" width="14.3" height="22.88" fill="#D2A679" stroke="#555" stroke-width="0.5"/>
<rect x="415.9" y="73.70" width="14.3" height="32.36" fill="#F8282E" stroke="#555" stroke-width="0.5"/>
<rect x="415.9" y="25.38" width="14.3" height="48.32" fill="#9B4FA5" stroke="#555" stroke-width="0.5"/>
<rect x="415.9" y="24.60" width="14.3" height="0.78" fill="#333" stroke="#555" stroke-width="0.5"/>
<rect x="415.9" y="24.60" width="14.3" height="111.60" fill="none" stroke="#666" stroke-width="0.8"/>
<path d="M360.6 136.2V24.6H430.8V136.2" fill="none" stroke="#333" stroke-width="1.3"/>
<path d="M360.1 136.2H431.3" fill="none" stroke="#222" stroke-width="1"/>
<path d="M360.6 136.20h-3.2" stroke="#222" stroke-width="0.8"/>
<text x="355.6" y="138.3" font-size="5.9" text-anchor="end" font-weight="normal" font-style="normal" fill="#2a2a2a">0</text>
<path d="M360.6 125.04h-3.2" stroke="#222" stroke-width="0.8"/>
<text x="355.6" y="127.1" font-size="5.9" text-anchor="end" font-weight="normal" font-style="normal" fill="#2a2a2a">10</text>
<path d="M360.6 113.88h-3.2" stroke="#222" stroke-width="0.8"/>
<text x="355.6" y="116.0" font-size="5.9" text-anchor="end" font-weight="normal" font-style="normal" fill="#2a2a2a">20</text>
<path d="M360.6 102.72h-3.2" stroke="#222" stroke-width="0.8"/>
<text x="355.6" y="104.8" font-size="5.9" text-anchor="end" font-weight="normal" font-style="normal" fill="#2a2a2a">30</text>
<path d="M360.6 91.56h-3.2" stroke="#222" stroke-width="0.8"/>
<text x="355.6" y="93.7" font-size="5.9" text-anchor="end" font-weight="normal" font-style="normal" fill="#2a2a2a">40</text>
<path d="M360.6 80.40h-3.2" stroke="#222" stroke-width="0.8"/>
<text x="355.6" y="82.5" font-size="5.9" text-anchor="end" font-weight="normal" font-style="normal" fill="#2a2a2a">50</text>
<path d="M360.6 69.24h-3.2" stroke="#222" stroke-width="0.8"/>
<text x="355.6" y="71.3" font-size="5.9" text-anchor="end" font-weight="normal" font-style="normal" fill="#2a2a2a">60</text>
<path d="M360.6 58.08h-3.2" stroke="#222" stroke-width="0.8"/>
<text x="355.6" y="60.2" font-size="5.9" text-anchor="end" font-weight="normal" font-style="normal" fill="#2a2a2a">70</text>
<path d="M360.6 46.92h-3.2" stroke="#222" stroke-width="0.8"/>
<text x="355.6" y="49.0" font-size="5.9" text-anchor="end" font-weight="normal" font-style="normal" fill="#2a2a2a">80</text>
<path d="M360.6 35.76h-3.2" stroke="#222" stroke-width="0.8"/>
<text x="355.6" y="37.9" font-size="5.9" text-anchor="end" font-weight="normal" font-style="normal" fill="#2a2a2a">90</text>
<path d="M360.6 24.60h-3.2" stroke="#222" stroke-width="0.8"/>
<text x="355.6" y="26.7" font-size="5.9" text-anchor="end" font-weight="normal" font-style="normal" fill="#2a2a2a">100</text>
<path d="M368.9 136.2v2.2" stroke="#222" stroke-width="0.8"/>
<path d="M387.2 136.2v2.2" stroke="#222" stroke-width="0.8"/>
<path d="M405.1 136.2v2.2" stroke="#222" stroke-width="0.8"/>
<path d="M423.0 136.2v2.2" stroke="#222" stroke-width="0.8"/>
<text x="342.3" y="82.8" font-size="8.1" text-anchor="middle" font-weight="normal" font-style="normal" fill="#2a2a2a" transform="rotate(-90 342.3 82.8)">Cell abundance (%)</text>
<text x="370.9" y="143.8" font-size="6.2" text-anchor="end" font-weight="normal" font-style="normal" fill="#2a2a2a" transform="rotate(-45 370.9 143.8)">eight-armed larva</text>
<text x="389.2" y="143.8" font-size="6.2" text-anchor="end" font-weight="normal" font-style="normal" fill="#2a2a2a" transform="rotate(-45 389.2 143.8)">competent larva</text>
<text x="407.1" y="143.8" font-size="6.2" text-anchor="end" font-weight="normal" font-style="normal" fill="#2a2a2a" transform="rotate(-45 407.1 143.8)">new juvenile</text>
<text x="425.0" y="143.8" font-size="6.2" text-anchor="end" font-weight="normal" font-style="normal" fill="#2a2a2a" transform="rotate(-45 425.0 143.8)">competent juvenile</text>
<text x="459.6" y="97.9" font-size="7.2" text-anchor="end" font-weight="normal" font-style="normal" fill="#222">foregut:</text>
<text x="459.6" y="110.6" font-size="7.2" text-anchor="end" font-weight="normal" font-style="normal" fill="#222">midgut:</text>
<text x="459.6" y="122.9" font-size="7.2" text-anchor="end" font-weight="normal" font-style="normal" fill="#222">hindgut:</text>
<rect x="461.2" y="92.8" width="5.3" height="5.0" fill="#12B36E"/>
<text x="463.8" y="96.9" font-size="4.2" text-anchor="middle" font-weight="normal" font-style="normal" fill="#2a2a2a">0</text>
<rect x="469.0" y="92.8" width="5.3" height="5.0" fill="#F5B03A"/>
<text x="471.6" y="96.9" font-size="4.2" text-anchor="middle" font-weight="normal" font-style="normal" fill="#2a2a2a">3</text>
<rect x="477.2" y="92.8" width="5.3" height="5.0" fill="#1FA9E6"/>
<text x="479.8" y="96.9" font-size="4.2" text-anchor="middle" font-weight="normal" font-style="normal" fill="#2a2a2a">5</text>
<rect x="461.2" y="105.9" width="5.3" height="5.0" fill="#9B4FA5"/>
<text x="463.8" y="110.0" font-size="4.2" text-anchor="middle" font-weight="normal" font-style="normal" fill="#2a2a2a">1</text>
<rect x="469.0" y="105.9" width="5.3" height="5.0" fill="#F8282E"/>
<text x="471.6" y="110.0" font-size="4.2" text-anchor="middle" font-weight="normal" font-style="normal" fill="#2a2a2a">2</text>
<rect x="477.2" y="105.9" width="5.3" height="5.0" fill="#F0149B"/>
<text x="479.8" y="110.0" font-size="4.2" text-anchor="middle" font-weight="normal" font-style="normal" fill="#2a2a2a">6</text>
<rect x="461.2" y="118.3" width="5.3" height="5.0" fill="#D2A679"/>
<text x="463.8" y="122.4" font-size="4.2" text-anchor="middle" font-weight="normal" font-style="normal" fill="#2a2a2a">4</text>
<rect x="92.0" y="239.20" width="55.2" height="5.97" fill="#F0836B"/>
<rect x="147.2" y="239.20" width="46.2" height="5.97" fill="#A9B1C7"/>
<rect x="193.4" y="239.20" width="44.0" height="5.97" fill="#ADB5C8"/>
<rect x="237.4" y="239.20" width="26.0" height="5.97" fill="#F0836B"/>
<rect x="263.4" y="239.20" width="16.1" height="5.97" fill="#B0B7C9"/>
<rect x="279.5" y="239.20" width="6.8" height="5.97" fill="#BCC0CE"/>
<rect x="286.3" y="239.20" width="2.8" height="5.97" fill="#ADB5C8"/>
<rect x="92.0" y="244.77" width="55.2" height="5.97" fill="#B7BCCC"/>
<rect x="147.2" y="244.77" width="46.2" height="5.97" fill="#B2B9CA"/>
<rect x="193.4" y="244.77" width="44.0" height="5.97" fill="#B2B9CA"/>
<rect x="237.4" y="244.77" width="26.0" height="5.97" fill="#EB9180"/>
<rect x="263.4" y="244.77" width="16.1" height="5.97" fill="#B0B7C9"/>
<rect x="279.5" y="244.77" width="6.8" height="5.97" fill="#BCC0CE"/>
<rect x="286.3" y="244.77" width="2.8" height="5.97" fill="#ADB5C8"/>
<rect x="92.0" y="250.33" width="55.2" height="5.97" fill="#F0836B"/>
<rect x="147.2" y="250.33" width="46.2" height="5.97" fill="#A9B1C7"/>
<rect x="193.4" y="250.33" width="44.0" height="5.97" fill="#ADB5C8"/>
<rect x="237.4" y="250.33" width="26.0" height="5.97" fill="#F0836B"/>
<rect x="263.4" y="250.33" width="16.1" height="5.97" fill="#B0B7C9"/>
<rect x="279.5" y="250.33" width="6.8" height="5.97" fill="#BCC0CE"/>
<rect x="286.3" y="250.33" width="2.8" height="5.97" fill="#ADB5C8"/>
<rect x="92.0" y="255.90" width="55.2" height="5.97" fill="#F0836B"/>
<rect x="147.2" y="255.90" width="46.2" height="5.97" fill="#A9B1C7"/>
<rect x="193.4" y="255.90" width="44.0" height="5.97" fill="#ADB5C8"/>
<rect x="237.4" y="255.90" width="26.0" height="5.97" fill="#F0836B"/>
<rect x="263.4" y="255.90" width="16.1" height="5.97" fill="#B0B7C9"/>
<rect x="279.5" y="255.90" width="6.8" height="5.97" fill="#BCC0CE"/>
<rect x="286.3" y="255.90" width="2.8" height="5.97" fill="#ADB5C8"/>
<rect x="92.0" y="261.46" width="55.2" height="5.97" fill="#F0836B"/>
<rect x="147.2" y="261.46" width="32.3" height="5.97" fill="#A4ADC5"/>
<rect x="179.5" y="261.46" width="13.9" height="5.97" fill="#8E9DBE"/>
<rect x="193.4" y="261.46" width="44.0" height="5.97" fill="#95A2C0"/>
<rect x="237.4" y="261.46" width="26.0" height="5.97" fill="#F0836B"/>
<rect x="263.4" y="261.46" width="16.1" height="5.97" fill="#ADB5C8"/>
<rect x="279.5" y="261.46" width="6.8" height="5.97" fill="#E9988A"/>
<rect x="286.3" y="261.46" width="2.8" height="5.97" fill="#ADB5C8"/>
<rect x="92.0" y="267.03" width="55.2" height="5.97" fill="#ADB5C8"/>
<rect x="147.2" y="267.03" width="25.4" height="5.97" fill="#E2ACAA"/>
<rect x="172.6" y="267.03" width="20.8" height="5.97" fill="#CFBFC4"/>
<rect x="193.4" y="267.03" width="44.0" height="5.97" fill="#CFBFC4"/>
<rect x="237.4" y="267.03" width="26.0" height="5.97" fill="#CAC3CA"/>
<rect x="263.4" y="267.03" width="16.1" height="5.97" fill="#C0C4CF"/>
<rect x="279.5" y="267.03" width="6.8" height="5.97" fill="#C0C4CF"/>
<rect x="286.3" y="267.03" width="2.8" height="5.97" fill="#ADB5C8"/>
<rect x="92.0" y="272.59" width="55.2" height="5.97" fill="#BCC0CE"/>
<rect x="147.2" y="272.59" width="25.4" height="5.97" fill="#D4BABE"/>
<rect x="172.6" y="272.59" width="9.2" height="5.97" fill="#D4BABE"/>
<rect x="181.8" y="272.59" width="11.6" height="5.97" fill="#DDB1B0"/>
<rect x="193.4" y="272.59" width="44.0" height="5.97" fill="#CFBFC4"/>
<rect x="237.4" y="272.59" width="26.0" height="5.97" fill="#CFBFC4"/>
<rect x="263.4" y="272.59" width="16.1" height="5.97" fill="#C0C4CF"/>
<rect x="279.5" y="272.59" width="6.8" height="5.97" fill="#C0C4CF"/>
<rect x="286.3" y="272.59" width="2.8" height="5.97" fill="#ADB5C8"/>
<rect x="92.0" y="278.16" width="55.2" height="5.97" fill="#CFBFC4"/>
<rect x="147.2" y="278.16" width="25.4" height="5.97" fill="#E4A5A0"/>
<rect x="172.6" y="278.16" width="10.6" height="5.97" fill="#DDB1B0"/>
<rect x="183.2" y="278.16" width="10.2" height="5.97" fill="#F0836B"/>
<rect x="193.4" y="278.16" width="44.0" height="5.97" fill="#C5C8D1"/>
<rect x="237.4" y="278.16" width="26.0" height="5.97" fill="#DDB1B0"/>
<rect x="263.4" y="278.16" width="16.1" height="5.97" fill="#B7BCCC"/>
<rect x="279.5" y="278.16" width="6.8" height="5.97" fill="#E2ACAA"/>
<rect x="286.3" y="278.16" width="2.8" height="5.97" fill="#95A2C0"/>
<rect x="92.0" y="283.73" width="55.2" height="5.97" fill="#BCC0CE"/>
<rect x="147.2" y="283.73" width="25.4" height="5.97" fill="#D8B5B7"/>
<rect x="172.6" y="283.73" width="20.8" height="5.97" fill="#D4BABE"/>
<rect x="193.4" y="283.73" width="44.0" height="5.97" fill="#CFBFC4"/>
<rect x="237.4" y="283.73" width="26.0" height="5.97" fill="#CAC3CA"/>
<rect x="263.4" y="283.73" width="16.1" height="5.97" fill="#C5C8D1"/>
<rect x="279.5" y="283.73" width="6.8" height="5.97" fill="#C5C8D1"/>
<rect x="286.3" y="283.73" width="2.8" height="5.97" fill="#ADB5C8"/>
<rect x="92.0" y="289.29" width="55.2" height="5.97" fill="#BCC0CE"/>
<rect x="147.2" y="289.29" width="25.4" height="5.97" fill="#D4BABE"/>
<rect x="172.6" y="289.29" width="10.6" height="5.97" fill="#D4BABE"/>
<rect x="183.2" y="289.29" width="10.2" height="5.97" fill="#EB9180"/>
<rect x="193.4" y="289.29" width="44.0" height="5.97" fill="#D4BABE"/>
<rect x="237.4" y="289.29" width="26.0" height="5.97" fill="#CAC3CA"/>
<rect x="263.4" y="289.29" width="16.1" height="5.97" fill="#C5C8D1"/>
<rect x="279.5" y="289.29" width="6.8" height="5.97" fill="#C5C8D1"/>
<rect x="286.3" y="289.29" width="2.8" height="5.97" fill="#ADB5C8"/>
<rect x="92.0" y="294.86" width="55.2" height="5.97" fill="#C0C4CF"/>
<rect x="147.2" y="294.86" width="25.4" height="5.97" fill="#CAC3CA"/>
<rect x="172.6" y="294.86" width="20.8" height="5.97" fill="#C0C4CF"/>
<rect x="193.4" y="294.86" width="33.0" height="5.97" fill="#EB9180"/>
<rect x="226.4" y="294.86" width="4.0" height="5.97" fill="#CFBFC4"/>
<rect x="230.4" y="294.86" width="6.6" height="5.97" fill="#EB9180"/>
<rect x="237.0" y="294.86" width="0.4" height="5.97" fill="#BCC0CE"/>
<rect x="237.4" y="294.86" width="26.0" height="5.97" fill="#BCC0CE"/>
<rect x="263.4" y="294.86" width="16.1" height="5.97" fill="#C0C4CF"/>
<rect x="279.5" y="294.86" width="6.8" height="5.97" fill="#C0C4CF"/>
<rect x="286.3" y="294.86" width="2.8" height="5.97" fill="#ADB5C8"/>
<rect x="92.0" y="300.42" width="55.2" height="5.97" fill="#C0C4CF"/>
<rect x="147.2" y="300.42" width="25.4" height="5.97" fill="#CAC3CA"/>
<rect x="172.6" y="300.42" width="20.8" height="5.97" fill="#C0C4CF"/>
<rect x="193.4" y="300.42" width="33.0" height="5.97" fill="#E79E95"/>
<rect x="226.4" y="300.42" width="4.0" height="5.97" fill="#CAC3CA"/>
<rect x="230.4" y="300.42" width="7.0" height="5.97" fill="#C0C4CF"/>
<rect x="237.4" y="300.42" width="26.0" height="5.97" fill="#BCC0CE"/>
<rect x="263.4" y="300.42" width="16.1" height="5.97" fill="#C0C4CF"/>
<rect x="279.5" y="300.42" width="6.8" height="5.97" fill="#C0C4CF"/>
<rect x="286.3" y="300.42" width="2.8" height="5.97" fill="#ADB5C8"/>
<rect x="92.0" y="305.99" width="55.2" height="5.97" fill="#C0C4CF"/>
<rect x="147.2" y="305.99" width="25.4" height="5.97" fill="#CAC3CA"/>
<rect x="172.6" y="305.99" width="20.8" height="5.97" fill="#C0C4CF"/>
<rect x="193.4" y="305.99" width="33.9" height="5.97" fill="#E79E95"/>
<rect x="227.3" y="305.99" width="3.5" height="5.97" fill="#CAC3CA"/>
<rect x="230.8" y="305.99" width="6.6" height="5.97" fill="#C0C4CF"/>
<rect x="237.4" y="305.99" width="26.0" height="5.97" fill="#BCC0CE"/>
<rect x="263.4" y="305.99" width="16.1" height="5.97" fill="#C0C4CF"/>
<rect x="279.5" y="305.99" width="6.8" height="5.97" fill="#C0C4CF"/>
<rect x="286.3" y="305.99" width="2.8" height="5.97" fill="#ADB5C8"/>
<rect x="92.0" y="311.55" width="55.2" height="5.97" fill="#A4ADC5"/>
<rect x="147.2" y="311.55" width="25.4" height="5.97" fill="#EE8A75"/>
<rect x="172.6" y="311.55" width="20.8" height="5.97" fill="#ADB5C8"/>
<rect x="193.4" y="311.55" width="32.1" height="5.97" fill="#F0725D"/>
<rect x="225.5" y="311.55" width="11.9" height="5.97" fill="#A9B1C7"/>
<rect x="237.4" y="311.55" width="26.0" height="5.97" fill="#A9B1C7"/>
<rect x="263.4" y="311.55" width="8.9" height="5.97" fill="#F07A64"/>
<rect x="272.3" y="311.55" width="7.2" height="5.97" fill="#ADB5C8"/>
<rect x="279.5" y="311.55" width="6.8" height="5.97" fill="#ADB5C8"/>
<rect x="286.3" y="311.55" width="2.8" height="5.97" fill="#F07A64"/>
<rect x="92.0" y="317.12" width="55.2" height="5.97" fill="#A4ADC5"/>
<rect x="147.2" y="317.12" width="25.4" height="5.97" fill="#E2ACAA"/>
<rect x="172.6" y="317.12" width="20.8" height="5.97" fill="#CAC3CA"/>
<rect x="193.4" y="317.12" width="32.1" height="5.97" fill="#EC8D7B"/>
<rect x="225.5" y="317.12" width="11.9" height="5.97" fill="#ADB5C8"/>
<rect x="237.4" y="317.12" width="26.0" height="5.97" fill="#ADB5C8"/>
<rect x="263.4" y="317.12" width="16.1" height="5.97" fill="#C5C8D1"/>
<rect x="279.5" y="317.12" width="6.8" height="5.97" fill="#B7BCCC"/>
<rect x="286.3" y="317.12" width="2.8" height="5.97" fill="#F0836B"/>
<rect x="92.0" y="322.69" width="55.2" height="5.97" fill="#F0836B"/>
<rect x="147.2" y="322.69" width="27.7" height="5.97" fill="#A9B1C7"/>
<rect x="174.9" y="322.69" width="18.5" height="5.97" fill="#A9B1C7"/>
<rect x="193.4" y="322.69" width="44.0" height="5.97" fill="#A9B1C7"/>
<rect x="237.4" y="322.69" width="26.0" height="5.97" fill="#F0836B"/>
<rect x="263.4" y="322.69" width="16.1" height="5.97" fill="#B7BCCC"/>
<rect x="279.5" y="322.69" width="6.8" height="5.97" fill="#BCC0CE"/>
<rect x="286.3" y="322.69" width="2.8" height="5.97" fill="#ADB5C8"/>
<rect x="92.0" y="328.25" width="55.2" height="5.97" fill="#F0836B"/>
<rect x="147.2" y="328.25" width="27.7" height="5.97" fill="#A9B1C7"/>
<rect x="174.9" y="328.25" width="18.5" height="5.97" fill="#A9B1C7"/>
<rect x="193.4" y="328.25" width="44.0" height="5.97" fill="#A9B1C7"/>
<rect x="237.4" y="328.25" width="26.0" height="5.97" fill="#F0836B"/>
<rect x="263.4" y="328.25" width="16.1" height="5.97" fill="#B7BCCC"/>
<rect x="279.5" y="328.25" width="6.8" height="5.97" fill="#BCC0CE"/>
<rect x="286.3" y="328.25" width="2.8" height="5.97" fill="#ADB5C8"/>
<rect x="92.0" y="333.82" width="55.2" height="5.97" fill="#F0836B"/>
<rect x="147.2" y="333.82" width="27.7" height="5.97" fill="#A9B1C7"/>
<rect x="174.9" y="333.82" width="18.5" height="5.97" fill="#A9B1C7"/>
<rect x="193.4" y="333.82" width="44.0" height="5.97" fill="#A9B1C7"/>
<rect x="237.4" y="333.82" width="26.0" height="5.97" fill="#F0836B"/>
<rect x="263.4" y="333.82" width="16.1" height="5.97" fill="#B7BCCC"/>
<rect x="279.5" y="333.82" width="6.8" height="5.97" fill="#BCC0CE"/>
<rect x="286.3" y="333.82" width="2.8" height="5.97" fill="#ADB5C8"/>
<rect x="92.0" y="339.38" width="55.2" height="5.97" fill="#CAC3CA"/>
<rect x="147.2" y="339.38" width="46.2" height="5.97" fill="#A9B1C7"/>
<rect x="193.4" y="339.38" width="44.0" height="5.97" fill="#B7BCCC"/>
<rect x="237.4" y="339.38" width="26.0" height="5.97" fill="#D4BABE"/>
<rect x="263.4" y="339.38" width="16.1" height="5.97" fill="#B2B9CA"/>
<rect x="279.5" y="339.38" width="6.8" height="5.97" fill="#BCC0CE"/>
<rect x="286.3" y="339.38" width="2.8" height="5.97" fill="#ADB5C8"/>
<rect x="92.0" y="344.95" width="55.2" height="5.97" fill="#C5C8D1"/>
<rect x="147.2" y="344.95" width="46.2" height="5.97" fill="#BCC0CE"/>
<rect x="193.4" y="344.95" width="44.0" height="5.97" fill="#C0C4CF"/>
<rect x="237.4" y="344.95" width="26.0" height="5.97" fill="#CFBFC4"/>
<rect x="263.4" y="344.95" width="16.1" height="5.97" fill="#C0C4CF"/>
<rect x="279.5" y="344.95" width="6.8" height="5.97" fill="#C0C4CF"/>
<rect x="286.3" y="344.95" width="2.8" height="5.97" fill="#ADB5C8"/>
<rect x="92.0" y="350.51" width="55.2" height="5.97" fill="#C0C4CF"/>
<rect x="147.2" y="350.51" width="46.2" height="5.97" fill="#C0C4CF"/>
<rect x="193.4" y="350.51" width="44.0" height="5.97" fill="#C0C4CF"/>
<rect x="237.4" y="350.51" width="26.0" height="5.97" fill="#C5C8D1"/>
<rect x="263.4" y="350.51" width="10.0" height="5.97" fill="#C0C4CF"/>
<rect x="273.4" y="350.51" width="6.1" height="5.97" fill="#F2473B"/>
<rect x="279.5" y="350.51" width="6.8" height="5.97" fill="#C0C4CF"/>
<rect x="286.3" y="350.51" width="2.8" height="5.97" fill="#ADB5C8"/>
<rect x="92.0" y="356.08" width="55.2" height="5.97" fill="#C0C4CF"/>
<rect x="147.2" y="356.08" width="46.2" height="5.97" fill="#C5C8D1"/>
<rect x="193.4" y="356.08" width="44.0" height="5.97" fill="#C5C8D1"/>
<rect x="237.4" y="356.08" width="26.0" height="5.97" fill="#C5C8D1"/>
<rect x="263.4" y="356.08" width="9.7" height="5.97" fill="#F24F42"/>
<rect x="273.1" y="356.08" width="6.4" height="5.97" fill="#C0C4CF"/>
<rect x="279.5" y="356.08" width="6.8" height="5.97" fill="#C0C4CF"/>
<rect x="286.3" y="356.08" width="2.8" height="5.97" fill="#ADB5C8"/>
<rect x="92.0" y="361.65" width="55.2" height="5.97" fill="#C5C8D1"/>
<rect x="147.2" y="361.65" width="37.9" height="5.97" fill="#CAC3CA"/>
<rect x="185.1" y="361.65" width="8.3" height="5.97" fill="#EB9180"/>
<rect x="193.4" y="361.65" width="37.4" height="5.97" fill="#C5C8D1"/>
<rect x="230.8" y="361.65" width="6.2" height="5.97" fill="#F07A64"/>
<rect x="237.0" y="361.65" width="0.4" height="5.97" fill="#C5C8D1"/>
<rect x="237.4" y="361.65" width="26.0" height="5.97" fill="#C5C8D1"/>
<rect x="263.4" y="361.65" width="11.3" height="5.97" fill="#D4BABE"/>
<rect x="274.7" y="361.65" width="4.8" height="5.97" fill="#F2372E"/>
<rect x="279.5" y="361.65" width="6.8" height="5.97" fill="#C5C8D1"/>
<rect x="286.3" y="361.65" width="2.8" height="5.97" fill="#ADB5C8"/>
<rect x="92.0" y="367.21" width="55.2" height="5.97" fill="#C5C8D1"/>
<rect x="147.2" y="367.21" width="37.9" height="5.97" fill="#CAC3CA"/>
<rect x="185.1" y="367.21" width="8.3" height="5.97" fill="#E9988A"/>
<rect x="193.4" y="367.21" width="44.0" height="5.97" fill="#C5C8D1"/>
<rect x="237.4" y="367.21" width="26.0" height="5.97" fill="#C5C8D1"/>
<rect x="263.4" y="367.21" width="11.3" height="5.97" fill="#D4BABE"/>
<rect x="274.7" y="367.21" width="4.8" height="5.97" fill="#F2473B"/>
<rect x="279.5" y="367.21" width="6.8" height="5.97" fill="#C5C8D1"/>
<rect x="286.3" y="367.21" width="2.8" height="5.97" fill="#ADB5C8"/>
<rect x="92.0" y="372.78" width="55.2" height="5.97" fill="#C5C8D1"/>
<rect x="147.2" y="372.78" width="20.8" height="5.97" fill="#DDB1B0"/>
<rect x="168.0" y="372.78" width="25.4" height="5.97" fill="#C5C8D1"/>
<rect x="193.4" y="372.78" width="44.0" height="5.97" fill="#C5C8D1"/>
<rect x="237.4" y="372.78" width="26.0" height="5.97" fill="#C5C8D1"/>
<rect x="263.4" y="372.78" width="9.7" height="5.97" fill="#E79E95"/>
<rect x="273.1" y="372.78" width="6.4" height="5.97" fill="#C5C8D1"/>
<rect x="279.5" y="372.78" width="6.8" height="5.97" fill="#C5C8D1"/>
<rect x="286.3" y="372.78" width="2.8" height="5.97" fill="#ADB5C8"/>
<rect x="92.0" y="378.34" width="55.2" height="5.97" fill="#C5C8D1"/>
<rect x="147.2" y="378.34" width="46.2" height="5.97" fill="#C5C8D1"/>
<rect x="193.4" y="378.34" width="44.0" height="5.97" fill="#C0C4CF"/>
<rect x="237.4" y="378.34" width="26.0" height="5.97" fill="#CAC3CA"/>
<rect x="263.4" y="378.34" width="16.1" height="5.97" fill="#C0C4CF"/>
<rect x="279.5" y="378.34" width="6.8" height="5.97" fill="#EB9180"/>
<rect x="286.3" y="378.34" width="2.8" height="5.97" fill="#ADB5C8"/>
<rect x="92.0" y="383.91" width="55.2" height="5.97" fill="#C0C4CF"/>
<rect x="147.2" y="383.91" width="46.2" height="5.97" fill="#C0C4CF"/>
<rect x="193.4" y="383.91" width="44.0" height="5.97" fill="#C0C4CF"/>
<rect x="237.4" y="383.91" width="26.0" height="5.97" fill="#CAC3CA"/>
<rect x="263.4" y="383.91" width="16.1" height="5.97" fill="#C0C4CF"/>
<rect x="279.5" y="383.91" width="6.8" height="5.97" fill="#EB9180"/>
<rect x="286.3" y="383.91" width="2.8" height="5.97" fill="#ADB5C8"/>
<rect x="92.0" y="389.47" width="45.3" height="5.97" fill="#B7BCCC"/>
<rect x="137.3" y="389.47" width="9.9" height="5.97" fill="#B2B9CA"/>
<rect x="147.2" y="389.47" width="46.2" height="5.97" fill="#A9B1C7"/>
<rect x="193.4" y="389.47" width="44.0" height="5.97" fill="#A9B1C7"/>
<rect x="237.4" y="389.47" width="26.0" height="5.97" fill="#BCC0CE"/>
<rect x="263.4" y="389.47" width="16.1" height="5.97" fill="#ADB5C8"/>
<rect x="279.5" y="389.47" width="6.8" height="5.97" fill="#F07A64"/>
<rect x="286.3" y="389.47" width="2.8" height="5.97" fill="#ADB5C8"/>
<rect x="92.0" y="395.04" width="55.2" height="5.97" fill="#C0C4CF"/>
<rect x="147.2" y="395.04" width="46.2" height="5.97" fill="#C0C4CF"/>
<rect x="193.4" y="395.04" width="44.0" height="5.97" fill="#C0C4CF"/>
<rect x="237.4" y="395.04" width="26.0" height="5.97" fill="#CAC3CA"/>
<rect x="263.4" y="395.04" width="16.1" height="5.97" fill="#C0C4CF"/>
<rect x="279.5" y="395.04" width="6.8" height="5.97" fill="#E79E95"/>
<rect x="286.3" y="395.04" width="2.8" height="5.97" fill="#ADB5C8"/>
<rect x="92.0" y="400.61" width="55.2" height="5.97" fill="#BCC0CE"/>
<rect x="147.2" y="400.61" width="46.2" height="5.97" fill="#ADB5C8"/>
<rect x="193.4" y="400.61" width="30.8" height="5.97" fill="#ADB5C8"/>
<rect x="224.2" y="400.61" width="13.2" height="5.97" fill="#ADB5C8"/>
<rect x="237.4" y="400.61" width="26.0" height="5.97" fill="#E2ACAA"/>
<rect x="263.4" y="400.61" width="16.1" height="5.97" fill="#ADB5C8"/>
<rect x="279.5" y="400.61" width="6.8" height="5.97" fill="#F07A64"/>
<rect x="286.3" y="400.61" width="2.8" height="5.97" fill="#ADB5C8"/>
<rect x="92.0" y="406.17" width="55.2" height="5.97" fill="#C0C4CF"/>
<rect x="147.2" y="406.17" width="25.4" height="5.97" fill="#CFBFC4"/>
<rect x="172.6" y="406.17" width="20.8" height="5.97" fill="#C0C4CF"/>
<rect x="193.4" y="406.17" width="33.0" height="5.97" fill="#C5C8D1"/>
<rect x="226.4" y="406.17" width="11.0" height="5.97" fill="#C0C4CF"/>
<rect x="237.4" y="406.17" width="26.0" height="5.97" fill="#C0C4CF"/>
<rect x="263.4" y="406.17" width="11.3" height="5.97" fill="#C5C8D1"/>
<rect x="274.7" y="406.17" width="4.8" height="5.97" fill="#C0C4CF"/>
<rect x="279.5" y="406.17" width="6.8" height="5.97" fill="#C0C4CF"/>
<rect x="286.3" y="406.17" width="2.8" height="5.97" fill="#F21212"/>
<rect x="92.0" y="411.74" width="55.2" height="5.97" fill="#ADB5C8"/>
<rect x="147.2" y="411.74" width="24.9" height="5.97" fill="#E79E95"/>
<rect x="172.1" y="411.74" width="21.3" height="5.97" fill="#B2B9CA"/>
<rect x="193.4" y="411.74" width="33.0" height="5.97" fill="#CFBFC4"/>
<rect x="226.4" y="411.74" width="11.0" height="5.97" fill="#B2B9CA"/>
<rect x="237.4" y="411.74" width="26.0" height="5.97" fill="#B2B9CA"/>
<rect x="263.4" y="411.74" width="11.3" height="5.97" fill="#C5C8D1"/>
<rect x="274.7" y="411.74" width="4.8" height="5.97" fill="#B7BCCC"/>
<rect x="279.5" y="411.74" width="6.8" height="5.97" fill="#B7BCCC"/>
<rect x="286.3" y="411.74" width="2.8" height="5.97" fill="#F21212"/>
<rect x="92.0" y="417.30" width="55.2" height="5.97" fill="#C0C4CF"/>
<rect x="147.2" y="417.30" width="23.1" height="5.97" fill="#CAC3CA"/>
<rect x="170.3" y="417.30" width="23.1" height="5.97" fill="#C0C4CF"/>
<rect x="193.4" y="417.30" width="33.0" height="5.97" fill="#C5C8D1"/>
<rect x="226.4" y="417.30" width="11.0" height="5.97" fill="#C0C4CF"/>
<rect x="237.4" y="417.30" width="26.0" height="5.97" fill="#C0C4CF"/>
<rect x="263.4" y="417.30" width="16.1" height="5.97" fill="#C5C8D1"/>
<rect x="279.5" y="417.30" width="6.8" height="5.97" fill="#C0C4CF"/>
<rect x="286.3" y="417.30" width="2.8" height="5.97" fill="#F21212"/>
<rect x="92.0" y="422.87" width="55.2" height="5.97" fill="#ADB5C8"/>
<rect x="147.2" y="422.87" width="25.9" height="5.97" fill="#E79E95"/>
<rect x="173.1" y="422.87" width="20.3" height="5.97" fill="#B2B9CA"/>
<rect x="193.4" y="422.87" width="33.0" height="5.97" fill="#CFBFC4"/>
<rect x="226.4" y="422.87" width="11.0" height="5.97" fill="#B2B9CA"/>
<rect x="237.4" y="422.87" width="26.0" height="5.97" fill="#B2B9CA"/>
<rect x="263.4" y="422.87" width="11.3" height="5.97" fill="#C5C8D1"/>
<rect x="274.7" y="422.87" width="4.8" height="5.97" fill="#B7BCCC"/>
<rect x="279.5" y="422.87" width="6.8" height="5.97" fill="#B7BCCC"/>
<rect x="286.3" y="422.87" width="2.8" height="5.97" fill="#F21212"/>
<rect x="92.0" y="428.43" width="55.2" height="5.97" fill="#C0C4CF"/>
<rect x="147.2" y="428.43" width="46.2" height="5.97" fill="#C5C8D1"/>
<rect x="193.4" y="428.43" width="44.0" height="5.97" fill="#C5C8D1"/>
<rect x="237.4" y="428.43" width="26.0" height="5.97" fill="#C0C4CF"/>
<rect x="263.4" y="428.43" width="16.1" height="5.97" fill="#C5C8D1"/>
<rect x="279.5" y="428.43" width="6.8" height="5.97" fill="#C0C4CF"/>
<rect x="286.3" y="428.43" width="2.8" height="5.97" fill="#F21212"/>
<path d="M92.3 239.2v5.8M100.5 239.2v5.8M101.6 239.2v5.8M107.7 239.2v5.8M109.3 239.2v5.8M128.6 239.2v5.8M136.8 239.2v5.8M111.0 244.8v5.8M119.2 244.8v5.8M139.6 244.8v5.8M257.5 244.8v5.8M104.9 250.3v5.8M109.9 250.3v5.8M137.4 250.3v5.8M239.9 250.3v5.8M247.0 250.3v5.8M249.2 250.3v5.8M257.5 250.3v5.8M258.6 250.3v5.8M262.4 250.3v5.8M97.2 255.9v5.8M113.7 255.9v5.8M142.3 255.9v5.8M146.2 255.9v5.8M251.4 255.9v5.8M253.1 255.9v5.8M253.6 255.9v5.8M256.4 255.9v5.8M257.5 255.9v5.8M261.3 255.9v5.8M280.3 255.9v5.8M95.6 261.5v5.8M103.3 261.5v5.8M106.0 261.5v5.8M114.8 261.5v5.8M117.6 261.5v5.8M118.1 261.5v5.8M121.4 261.5v5.8M125.8 261.5v5.8M140.7 261.5v5.8M142.3 261.5v5.8M142.9 261.5v5.8M246.5 261.5v5.8M254.7 261.5v5.8M183.3 267.0v5.8M195.3 267.0v5.8M206.3 267.0v5.8M210.7 267.0v5.8M216.2 267.0v5.8M232.2 267.0v5.8M263.7 267.0v5.8M279.1 267.0v5.8M223.4 272.6v5.8M151.9 278.2v5.8M152.4 278.2v5.8M160.1 278.2v5.8M162.3 278.2v5.8M166.2 278.2v5.8M216.2 278.2v5.8M234.9 278.2v5.8M156.8 283.7v5.8M172.2 283.7v5.8M218.4 283.7v5.8M230.5 283.7v5.8M98.9 289.3v5.8M148.6 289.3v5.8M149.1 289.3v5.8M175.6 289.3v5.8M176.2 289.3v5.8M216.8 289.3v5.8M238.8 289.3v5.8M151.3 294.9v5.8M151.9 294.9v5.8M160.1 300.4v5.8M195.9 300.4v5.8M166.7 306.0v5.8M204.7 306.0v5.8M157.9 311.6v5.8M196.4 311.6v5.8M207.4 311.6v5.8M208.5 311.6v5.8M210.2 311.6v5.8M213.5 311.6v5.8M218.4 311.6v5.8M221.7 311.6v5.8M156.8 317.1v5.8M182.8 317.1v5.8M201.4 317.1v5.8M209.1 317.1v5.8M212.4 317.1v5.8M222.8 317.1v5.8M97.2 322.7v5.8M127.5 322.7v5.8M131.9 322.7v5.8M135.7 322.7v5.8M141.8 322.7v5.8M237.7 322.7v5.8M241.0 322.7v5.8M247.0 322.7v5.8M256.4 322.7v5.8M96.1 328.3v5.8M112.6 328.3v5.8M117.6 328.3v5.8M248.7 328.3v5.8M257.5 328.3v5.8M92.3 333.8v5.8M96.1 333.8v5.8M117.6 333.8v5.8M121.4 333.8v5.8M123.6 333.8v5.8M131.9 333.8v5.8M138.5 333.8v5.8M244.8 333.8v5.8M246.5 333.8v5.8M247.6 333.8v5.8M93.4 339.4v5.8M244.8 339.4v5.8M258.6 339.4v5.8M285.8 356.1v5.8M149.1 361.6v5.8M161.2 361.6v5.8M177.7 361.6v5.8M182.1 361.6v5.8M197.0 361.6v5.8M208.0 361.6v5.8M253.6 361.6v5.8M265.3 361.6v5.8M177.7 367.2v5.8M148.0 372.8v5.8M162.3 372.8v5.8M164.5 372.8v5.8M160.1 378.3v5.8M250.3 383.9v5.8M258.6 383.9v5.8M117.6 389.5v5.8M123.6 389.5v5.8M241.0 389.5v5.8M245.9 389.5v5.8M238.2 395.0v5.8M250.3 395.0v5.8M250.9 395.0v5.8M281.4 395.0v5.8M111.5 400.6v5.8M117.6 400.6v5.8M122.0 400.6v5.8M129.7 400.6v5.8M146.2 400.6v5.8M242.6 400.6v5.8M243.2 400.6v5.8M244.3 400.6v5.8M248.1 400.6v5.8M260.2 400.6v5.8M158.5 406.2v5.8M171.1 406.2v5.8M197.0 411.7v5.8M199.2 411.7v5.8M210.2 411.7v5.8M244.8 411.7v5.8M268.6 411.7v5.8M154.6 422.9v5.8M198.1 422.9v5.8M199.2 422.9v5.8M206.9 422.9v5.8M224.5 422.9v5.8" stroke="#F09078" stroke-width="0.6" fill="none"/>
<path d="M92.8 239.2v5.8M93.4 239.2v5.8M95.0 239.2v5.8M108.2 239.2v5.8M116.5 239.2v5.8M124.2 239.2v5.8M136.3 239.2v5.8M257.5 239.2v5.8M259.1 239.2v5.8M102.2 244.8v5.8M120.9 244.8v5.8M134.1 244.8v5.8M142.3 244.8v5.8M282.5 244.8v5.8M93.9 250.3v5.8M101.6 250.3v5.8M107.1 250.3v5.8M109.3 250.3v5.8M112.1 250.3v5.8M117.6 250.3v5.8M128.0 250.3v5.8M132.4 250.3v5.8M134.1 250.3v5.8M259.1 250.3v5.8M259.7 250.3v5.8M260.2 250.3v5.8M279.1 250.3v5.8M111.5 255.9v5.8M134.6 255.9v5.8M137.4 255.9v5.8M244.8 255.9v5.8M249.2 255.9v5.8M282.0 255.9v5.8M284.2 255.9v5.8M103.8 261.5v5.8M119.8 261.5v5.8M145.1 261.5v5.8M238.2 261.5v5.8M240.4 261.5v5.8M248.7 261.5v5.8M261.3 261.5v5.8M175.1 267.0v5.8M178.9 267.0v5.8M185.5 267.0v5.8M198.6 267.0v5.8M199.2 267.0v5.8M203.6 267.0v5.8M207.4 267.0v5.8M208.0 267.0v5.8M215.7 267.0v5.8M253.6 267.0v5.8M255.8 267.0v5.8M272.5 267.0v5.8M148.6 272.6v5.8M150.2 272.6v5.8M155.2 272.6v5.8M165.1 272.6v5.8M165.6 272.6v5.8M204.1 272.6v5.8M206.3 272.6v5.8M206.9 272.6v5.8M209.6 272.6v5.8M217.3 272.6v5.8M219.5 272.6v5.8M234.4 272.6v5.8M242.6 272.6v5.8M252.0 272.6v5.8M256.9 272.6v5.8M258.6 272.6v5.8M260.8 272.6v5.8M269.2 272.6v5.8M284.2 272.6v5.8M93.9 278.2v5.8M103.8 278.2v5.8M108.2 278.2v5.8M116.5 278.2v5.8M195.3 278.2v5.8M234.4 278.2v5.8M240.4 278.2v5.8M118.1 283.7v5.8M130.2 283.7v5.8M173.4 283.7v5.8M183.3 283.7v5.8M206.9 283.7v5.8M214.6 283.7v5.8M222.3 283.7v5.8M225.0 283.7v5.8M225.6 283.7v5.8M234.4 283.7v5.8M95.0 289.3v5.8M154.1 289.3v5.8M155.7 289.3v5.8M160.1 289.3v5.8M165.1 289.3v5.8M166.7 289.3v5.8M177.8 289.3v5.8M178.9 289.3v5.8M180.0 289.3v5.8M195.9 289.3v5.8M204.1 289.3v5.8M207.4 289.3v5.8M214.0 289.3v5.8M237.1 289.3v5.8M245.9 289.3v5.8M248.1 289.3v5.8M283.6 289.3v5.8M159.0 294.9v5.8M160.7 294.9v5.8M174.5 294.9v5.8M149.7 300.4v5.8M159.6 300.4v5.8M160.7 300.4v5.8M165.1 300.4v5.8M166.7 300.4v5.8M191.6 300.4v5.8M264.2 300.4v5.8M96.7 306.0v5.8M105.5 306.0v5.8M149.1 306.0v5.8M155.7 306.0v5.8M172.2 306.0v5.8M183.9 306.0v5.8M263.7 306.0v5.8M115.4 317.1v5.8M120.9 317.1v5.8M141.8 317.1v5.8M178.9 317.1v5.8M185.0 317.1v5.8M273.6 317.1v5.8M97.8 322.7v5.8M99.4 322.7v5.8M106.0 322.7v5.8M107.7 322.7v5.8M113.2 322.7v5.8M119.2 322.7v5.8M130.8 322.7v5.8M136.3 322.7v5.8M140.1 322.7v5.8M238.2 322.7v5.8M244.3 322.7v5.8M244.8 322.7v5.8M253.6 322.7v5.8M103.8 328.3v5.8M129.7 328.3v5.8M186.2 328.3v5.8M191.7 328.3v5.8M285.8 328.3v5.8M111.0 333.8v5.8M113.2 333.8v5.8M113.7 333.8v5.8M122.5 333.8v5.8M125.8 333.8v5.8M134.6 333.8v5.8M280.9 333.8v5.8M281.4 333.8v5.8M283.1 333.8v5.8M95.6 339.4v5.8M98.9 339.4v5.8M100.0 339.4v5.8M107.1 339.4v5.8M115.9 339.4v5.8M121.4 339.4v5.8M95.6 344.9v5.8M99.4 344.9v5.8M100.5 344.9v5.8M102.7 344.9v5.8M108.8 344.9v5.8M124.2 344.9v5.8M133.5 344.9v5.8M135.2 344.9v5.8M141.2 344.9v5.8M153.5 344.9v5.8M223.4 344.9v5.8M234.9 344.9v5.8M243.7 344.9v5.8M248.1 344.9v5.8M92.8 350.5v5.8M115.4 350.5v5.8M177.2 350.5v5.8M186.5 350.5v5.8M104.9 356.1v5.8M165.1 356.1v5.8M169.5 356.1v5.8M193.1 356.1v5.8M232.2 356.1v5.8M253.1 356.1v5.8M281.4 356.1v5.8M99.4 361.6v5.8M106.0 361.6v5.8M140.1 361.6v5.8M161.8 361.6v5.8M165.1 361.6v5.8M170.0 361.6v5.8M175.5 361.6v5.8M181.6 361.6v5.8M199.7 361.6v5.8M223.4 361.6v5.8M242.1 361.6v5.8M247.0 361.6v5.8M247.6 361.6v5.8M255.3 361.6v5.8M261.9 361.6v5.8M268.6 361.6v5.8M273.6 361.6v5.8M283.1 361.6v5.8M93.4 367.2v5.8M97.2 367.2v5.8M116.5 367.2v5.8M131.3 367.2v5.8M137.4 367.2v5.8M139.0 367.2v5.8M156.3 367.2v5.8M182.1 367.2v5.8M183.8 367.2v5.8M225.0 367.2v5.8M241.0 367.2v5.8M254.7 367.2v5.8M258.6 367.2v5.8M264.2 367.2v5.8M265.9 367.2v5.8M270.3 367.2v5.8M283.1 367.2v5.8M118.1 372.8v5.8M129.7 372.8v5.8M205.2 372.8v5.8M225.6 372.8v5.8M114.8 378.3v5.8M120.9 378.3v5.8M121.4 378.3v5.8M125.3 378.3v5.8M156.3 378.3v5.8M181.6 378.3v5.8M191.5 378.3v5.8M242.6 378.3v5.8M244.3 378.3v5.8M245.4 378.3v5.8M258.0 378.3v5.8M99.4 383.9v5.8M104.4 383.9v5.8M119.8 383.9v5.8M185.4 383.9v5.8M249.8 383.9v5.8M95.0 389.5v5.8M104.9 389.5v5.8M123.1 389.5v5.8M124.2 389.5v5.8M252.5 389.5v5.8M259.1 389.5v5.8M261.9 389.5v5.8M241.0 395.0v5.8M253.6 395.0v5.8M260.8 395.0v5.8M112.1 400.6v5.8M119.8 400.6v5.8M125.3 400.6v5.8M135.7 400.6v5.8M136.3 400.6v5.8M137.4 400.6v5.8M141.2 400.6v5.8M142.9 400.6v5.8M143.4 400.6v5.8M159.6 400.6v5.8M151.3 406.2v5.8M161.8 406.2v5.8M163.4 406.2v5.8M195.3 406.2v5.8M203.6 406.2v5.8M211.3 406.2v5.8M140.7 411.7v5.8M194.8 411.7v5.8M202.5 411.7v5.8M203.6 411.7v5.8M161.2 417.3v5.8M164.5 417.3v5.8M169.5 417.3v5.8M170.0 417.3v5.8M190.4 417.3v5.8M211.8 417.3v5.8M266.4 417.3v5.8M177.7 422.9v5.8M193.7 422.9v5.8M211.3 422.9v5.8M214.0 422.9v5.8M214.6 422.9v5.8M225.0 422.9v5.8M238.2 422.9v5.8M270.3 422.9v5.8M225.6 428.4v5.8" stroke="#E4A8A8" stroke-width="0.6" fill="none"/>
<path d="M94.5 239.2v5.8M145.1 239.2v5.8M239.3 239.2v5.8M283.6 239.2v5.8M279.8 244.8v5.8M128.6 250.3v5.8M284.7 250.3v5.8M103.8 255.9v5.8M123.1 255.9v5.8M141.2 255.9v5.8M243.2 261.5v5.8M245.9 261.5v5.8M253.6 261.5v5.8M222.3 267.0v5.8M242.1 267.0v5.8M178.4 272.6v5.8M217.9 272.6v5.8M246.5 272.6v5.8M125.3 278.2v5.8M180.6 278.2v5.8M209.1 278.2v5.8M222.3 278.2v5.8M241.0 278.2v5.8M284.2 278.2v5.8M177.8 283.7v5.8M198.6 283.7v5.8M194.8 289.3v5.8M206.9 289.3v5.8M217.9 289.3v5.8M249.2 289.3v5.8M279.8 289.3v5.8M152.4 300.4v5.8M166.2 300.4v5.8M95.0 306.0v5.8M152.4 306.0v5.8M229.8 306.0v5.8M95.6 322.7v5.8M125.3 322.7v5.8M249.2 322.7v5.8M254.7 322.7v5.8M261.9 322.7v5.8M111.5 328.3v5.8M100.5 333.8v5.8M117.0 333.8v5.8M118.1 333.8v5.8M240.4 333.8v5.8M118.7 339.4v5.8M256.4 339.4v5.8M193.7 356.1v5.8M147.5 361.6v5.8M124.7 367.2v5.8M160.1 367.2v5.8M280.9 367.2v5.8M131.3 372.8v5.8M188.6 372.8v5.8M211.8 372.8v5.8M112.6 378.3v5.8M242.1 395.0v5.8M247.0 395.0v5.8M227.2 400.6v5.8M198.1 406.2v5.8M215.1 406.2v5.8M221.7 406.2v5.8M267.0 411.7v5.8M272.5 411.7v5.8M160.7 417.3v5.8M200.8 422.9v5.8" stroke="#E49C9C" stroke-width="0.6" fill="none"/>
<path d="M98.3 239.2v5.8M101.1 239.2v5.8M102.7 239.2v5.8M104.4 239.2v5.8M113.7 239.2v5.8M115.4 239.2v5.8M120.3 239.2v5.8M128.0 239.2v5.8M131.9 239.2v5.8M132.4 239.2v5.8M137.9 239.2v5.8M140.7 239.2v5.8M248.7 239.2v5.8M249.8 239.2v5.8M251.4 239.2v5.8M92.8 244.8v5.8M98.9 244.8v5.8M117.0 244.8v5.8M137.9 244.8v5.8M98.9 250.3v5.8M100.0 250.3v5.8M103.8 250.3v5.8M104.4 250.3v5.8M115.9 250.3v5.8M116.5 250.3v5.8M122.5 250.3v5.8M144.5 250.3v5.8M250.3 250.3v5.8M253.6 250.3v5.8M255.3 250.3v5.8M260.8 250.3v5.8M283.1 250.3v5.8M93.4 255.9v5.8M103.3 255.9v5.8M108.8 255.9v5.8M127.5 255.9v5.8M129.7 255.9v5.8M133.5 255.9v5.8M141.8 255.9v5.8M242.6 255.9v5.8M244.3 255.9v5.8M93.9 261.5v5.8M100.0 261.5v5.8M108.2 261.5v5.8M113.2 261.5v5.8M140.1 261.5v5.8M243.7 261.5v5.8M247.6 261.5v5.8M256.4 261.5v5.8M257.5 261.5v5.8M283.1 261.5v5.8M172.9 267.0v5.8M196.4 267.0v5.8M220.1 267.0v5.8M229.4 267.0v5.8M230.5 267.0v5.8M240.4 267.0v5.8M245.4 267.0v5.8M158.5 272.6v5.8M161.2 272.6v5.8M170.0 272.6v5.8M177.3 272.6v5.8M183.2 272.6v5.8M190.9 272.6v5.8M211.3 272.6v5.8M263.0 272.6v5.8M109.9 278.2v5.8M111.0 278.2v5.8M128.6 278.2v5.8M150.2 278.2v5.8M161.2 278.2v5.8M164.5 278.2v5.8M170.0 278.2v5.8M171.1 278.2v5.8M175.1 278.2v5.8M176.2 278.2v5.8M181.7 278.2v5.8M194.8 278.2v5.8M200.3 278.2v5.8M208.5 278.2v5.8M211.8 278.2v5.8M220.6 278.2v5.8M226.1 278.2v5.8M175.6 283.7v5.8M200.8 283.7v5.8M205.2 283.7v5.8M209.6 283.7v5.8M223.4 283.7v5.8M227.2 283.7v5.8M227.8 283.7v5.8M146.7 289.3v5.8M151.3 289.3v5.8M154.6 289.3v5.8M182.2 289.3v5.8M210.2 289.3v5.8M269.2 289.3v5.8M153.5 294.9v5.8M161.2 294.9v5.8M268.6 294.9v5.8M216.8 300.4v5.8M108.2 306.0v5.8M160.1 306.0v5.8M216.2 306.0v5.8M157.4 311.6v5.8M201.4 311.6v5.8M161.2 317.1v5.8M164.0 317.1v5.8M202.5 317.1v5.8M204.7 317.1v5.8M95.0 322.7v5.8M96.7 322.7v5.8M104.9 322.7v5.8M111.5 322.7v5.8M124.2 322.7v5.8M126.9 322.7v5.8M132.4 322.7v5.8M142.3 322.7v5.8M243.2 322.7v5.8M248.1 322.7v5.8M252.5 322.7v5.8M259.1 322.7v5.8M93.4 328.3v5.8M94.5 328.3v5.8M100.0 328.3v5.8M106.6 328.3v5.8M119.8 328.3v5.8M121.4 328.3v5.8M123.1 328.3v5.8M125.8 328.3v5.8M133.0 328.3v5.8M145.1 328.3v5.8M249.2 328.3v5.8M252.0 328.3v5.8M258.6 328.3v5.8M259.1 328.3v5.8M93.9 333.8v5.8M95.0 333.8v5.8M102.7 333.8v5.8M114.8 333.8v5.8M115.9 333.8v5.8M124.2 333.8v5.8M134.1 333.8v5.8M136.8 333.8v5.8M237.7 333.8v5.8M239.3 333.8v5.8M250.3 333.8v5.8M258.6 333.8v5.8M96.1 339.4v5.8M105.5 339.4v5.8M113.2 339.4v5.8M114.3 339.4v5.8M116.5 339.4v5.8M124.2 339.4v5.8M139.0 339.4v5.8M141.8 339.4v5.8M243.7 339.4v5.8M247.6 339.4v5.8M261.9 339.4v5.8M106.0 344.9v5.8M131.3 344.9v5.8M237.7 344.9v5.8M263.0 344.9v5.8M188.2 350.5v5.8M123.6 356.1v5.8M154.6 356.1v5.8M156.3 356.1v5.8M244.8 356.1v5.8M144.5 361.6v5.8M169.5 361.6v5.8M200.8 361.6v5.8M211.3 361.6v5.8M260.8 361.6v5.8M273.0 361.6v5.8M274.1 361.6v5.8M283.6 361.6v5.8M172.8 367.2v5.8M175.0 367.2v5.8M220.1 367.2v5.8M240.4 367.2v5.8M244.3 367.2v5.8M267.0 367.2v5.8M271.9 367.2v5.8M185.3 372.8v5.8M227.2 372.8v5.8M264.2 372.8v5.8M261.9 378.3v5.8M241.0 383.9v5.8M263.0 383.9v5.8M106.0 389.5v5.8M128.0 389.5v5.8M132.4 389.5v5.8M134.1 389.5v5.8M135.7 389.5v5.8M245.9 395.0v5.8M253.1 395.0v5.8M101.6 400.6v5.8M118.7 400.6v5.8M129.1 400.6v5.8M132.4 400.6v5.8M145.6 400.6v5.8M166.2 411.7v5.8M201.4 411.7v5.8M217.3 411.7v5.8M149.7 417.3v5.8M157.4 417.3v5.8M197.5 422.9v5.8M209.1 422.9v5.8M209.6 422.9v5.8M215.1 422.9v5.8M219.5 422.9v5.8M223.9 422.9v5.8M268.6 422.9v5.8M175.0 428.4v5.8" stroke="#F09084" stroke-width="0.6" fill="none"/>
<path d="M98.9 239.2v5.8M106.6 239.2v5.8M111.0 239.2v5.8M111.5 239.2v5.8M123.1 239.2v5.8M125.3 239.2v5.8M135.2 239.2v5.8M135.7 239.2v5.8M140.1 239.2v5.8M141.2 239.2v5.8M143.4 239.2v5.8M238.2 239.2v5.8M243.7 239.2v5.8M253.1 239.2v5.8M255.3 239.2v5.8M97.8 244.8v5.8M100.5 244.8v5.8M138.5 244.8v5.8M141.2 244.8v5.8M144.0 244.8v5.8M92.8 250.3v5.8M98.3 250.3v5.8M108.2 250.3v5.8M112.6 250.3v5.8M127.5 250.3v5.8M145.6 250.3v5.8M240.4 250.3v5.8M245.4 250.3v5.8M255.8 250.3v5.8M256.9 250.3v5.8M101.6 255.9v5.8M109.9 255.9v5.8M113.2 255.9v5.8M117.0 255.9v5.8M124.2 255.9v5.8M126.9 255.9v5.8M131.3 255.9v5.8M134.1 255.9v5.8M135.7 255.9v5.8M242.1 255.9v5.8M250.3 255.9v5.8M250.9 255.9v5.8M263.0 255.9v5.8M92.8 261.5v5.8M102.2 261.5v5.8M110.4 261.5v5.8M116.5 261.5v5.8M128.0 261.5v5.8M130.8 261.5v5.8M135.2 261.5v5.8M144.5 261.5v5.8M247.0 261.5v5.8M253.1 261.5v5.8M258.6 261.5v5.8M175.6 267.0v5.8M201.4 267.0v5.8M220.6 267.0v5.8M225.0 267.0v5.8M226.1 267.0v5.8M231.6 267.0v5.8M236.0 267.0v5.8M285.8 267.0v5.8M151.3 272.6v5.8M154.1 272.6v5.8M160.1 272.6v5.8M172.9 272.6v5.8M179.5 272.6v5.8M180.0 272.6v5.8M190.4 272.6v5.8M200.8 272.6v5.8M207.4 272.6v5.8M208.5 272.6v5.8M220.6 272.6v5.8M223.9 272.6v5.8M225.6 272.6v5.8M230.5 272.6v5.8M235.5 272.6v5.8M241.0 272.6v5.8M243.7 272.6v5.8M257.5 272.6v5.8M259.7 272.6v5.8M122.0 278.2v5.8M145.1 278.2v5.8M146.7 278.2v5.8M149.7 278.2v5.8M162.9 278.2v5.8M175.6 278.2v5.8M182.8 278.2v5.8M211.3 278.2v5.8M217.3 278.2v5.8M221.2 278.2v5.8M134.6 283.7v5.8M154.1 283.7v5.8M160.1 283.7v5.8M168.4 283.7v5.8M174.5 283.7v5.8M177.3 283.7v5.8M197.0 283.7v5.8M199.7 283.7v5.8M202.5 283.7v5.8M212.9 283.7v5.8M213.5 283.7v5.8M216.2 283.7v5.8M222.8 283.7v5.8M224.5 283.7v5.8M226.1 283.7v5.8M231.1 283.7v5.8M261.3 283.7v5.8M267.5 283.7v5.8M276.9 283.7v5.8M141.8 289.3v5.8M165.6 289.3v5.8M171.7 289.3v5.8M197.5 289.3v5.8M205.8 289.3v5.8M206.3 289.3v5.8M221.7 289.3v5.8M222.3 289.3v5.8M223.4 289.3v5.8M225.6 289.3v5.8M230.5 289.3v5.8M232.2 289.3v5.8M236.0 289.3v5.8M253.1 289.3v5.8M258.6 289.3v5.8M260.8 289.3v5.8M130.8 294.9v5.8M159.6 294.9v5.8M270.3 294.9v5.8M154.6 300.4v5.8M156.8 300.4v5.8M128.6 306.0v5.8M161.8 306.0v5.8M165.1 306.0v5.8M194.8 311.6v5.8M209.1 311.6v5.8M216.8 311.6v5.8M148.0 317.1v5.8M160.1 317.1v5.8M92.3 322.7v5.8M92.8 322.7v5.8M98.3 322.7v5.8M107.1 322.7v5.8M108.8 322.7v5.8M116.5 322.7v5.8M121.4 322.7v5.8M123.1 322.7v5.8M137.4 322.7v5.8M137.9 322.7v5.8M143.4 322.7v5.8M251.4 322.7v5.8M253.1 322.7v5.8M255.3 322.7v5.8M260.8 322.7v5.8M99.4 328.3v5.8M106.0 328.3v5.8M118.7 328.3v5.8M119.2 328.3v5.8M130.8 328.3v5.8M135.2 328.3v5.8M137.9 328.3v5.8M142.9 328.3v5.8M282.5 328.3v5.8M98.3 333.8v5.8M101.6 333.8v5.8M104.9 333.8v5.8M107.7 333.8v5.8M122.0 333.8v5.8M126.4 333.8v5.8M141.8 333.8v5.8M243.7 333.8v5.8M249.2 333.8v5.8M252.0 333.8v5.8M256.4 333.8v5.8M257.5 333.8v5.8M260.8 333.8v5.8M124.7 339.4v5.8M128.6 339.4v5.8M134.6 339.4v5.8M96.7 344.9v5.8M115.4 344.9v5.8M120.3 344.9v5.8M136.8 344.9v5.8M137.9 344.9v5.8M146.2 344.9v5.8M245.9 344.9v5.8M255.3 344.9v5.8M261.9 344.9v5.8M164.0 356.1v5.8M176.6 356.1v5.8M182.1 356.1v5.8M186.0 356.1v5.8M188.2 356.1v5.8M282.5 356.1v5.8M124.2 361.6v5.8M130.8 361.6v5.8M159.0 361.6v5.8M198.1 361.6v5.8M238.2 361.6v5.8M256.4 361.6v5.8M264.8 361.6v5.8M272.5 361.6v5.8M281.4 361.6v5.8M282.5 361.6v5.8M148.6 367.2v5.8M156.8 367.2v5.8M162.3 367.2v5.8M182.7 367.2v5.8M92.8 372.8v5.8M104.9 372.8v5.8M110.4 372.8v5.8M148.6 372.8v5.8M154.6 372.8v5.8M111.5 378.3v5.8M123.1 378.3v5.8M245.9 378.3v5.8M241.5 383.9v5.8M259.1 383.9v5.8M96.1 389.5v5.8M126.9 389.5v5.8M254.7 389.5v5.8M256.9 389.5v5.8M119.8 395.0v5.8M240.4 395.0v5.8M244.3 395.0v5.8M256.4 395.0v5.8M261.3 395.0v5.8M96.1 400.6v5.8M103.3 400.6v5.8M107.1 400.6v5.8M107.7 400.6v5.8M124.2 400.6v5.8M131.9 400.6v5.8M133.5 400.6v5.8M137.9 400.6v5.8M139.6 400.6v5.8M159.0 400.6v5.8M173.3 400.6v5.8M208.0 406.2v5.8M225.6 406.2v5.8M273.0 406.2v5.8M200.8 411.7v5.8M203.0 411.7v5.8M205.8 411.7v5.8M211.8 411.7v5.8M221.7 411.7v5.8M273.6 411.7v5.8M153.0 417.3v5.8M161.8 417.3v5.8M206.3 422.9v5.8M264.8 422.9v5.8" stroke="#E49C90" stroke-width="0.6" fill="none"/>
<path d="M103.3 239.2v5.8M111.5 244.8v5.8M162.9 244.8v5.8M179.4 255.9v5.8M237.7 255.9v5.8M258.0 267.0v5.8M259.7 267.0v5.8M118.1 272.6v5.8M124.7 272.6v5.8M237.7 272.6v5.8M255.8 272.6v5.8M140.7 278.2v5.8M146.2 278.2v5.8M247.0 278.2v5.8M255.3 278.2v5.8M256.4 278.2v5.8M258.0 278.2v5.8M100.0 283.7v5.8M107.7 283.7v5.8M111.5 283.7v5.8M134.1 283.7v5.8M243.2 283.7v5.8M249.8 283.7v5.8M253.1 283.7v5.8M115.4 289.3v5.8M122.5 289.3v5.8M146.2 289.3v5.8M261.3 289.3v5.8M164.0 294.9v5.8M227.2 294.9v5.8M273.0 300.4v5.8M182.8 306.0v5.8M264.2 306.0v5.8M271.9 306.0v5.8M183.9 317.1v5.8M113.7 328.3v5.8M126.9 328.3v5.8M250.3 328.3v5.8M280.9 328.3v5.8M107.7 344.9v5.8M122.0 344.9v5.8M122.5 344.9v5.8M170.6 344.9v5.8M201.4 344.9v5.8M236.6 350.5v5.8M238.8 350.5v5.8M240.4 350.5v5.8M261.9 350.5v5.8M132.4 356.1v5.8M175.0 356.1v5.8M181.0 356.1v5.8M190.4 356.1v5.8M190.9 356.1v5.8M215.7 356.1v5.8M238.2 356.1v5.8M250.3 356.1v5.8M108.2 361.6v5.8M119.2 361.6v5.8M131.3 361.6v5.8M162.9 361.6v5.8M205.8 361.6v5.8M245.9 361.6v5.8M106.6 367.2v5.8M159.0 367.2v5.8M208.0 367.2v5.8M251.4 367.2v5.8M108.2 372.8v5.8M108.8 372.8v5.8M130.2 372.8v5.8M207.4 372.8v5.8M237.1 372.8v5.8M249.8 372.8v5.8M285.8 372.8v5.8M119.2 378.3v5.8M124.2 378.3v5.8M165.1 378.3v5.8M184.3 378.3v5.8M96.7 383.9v5.8M101.1 383.9v5.8M118.1 383.9v5.8M262.4 383.9v5.8M97.8 389.5v5.8M128.6 395.0v5.8M104.4 406.2v5.8M193.7 406.2v5.8M204.1 406.2v5.8M215.7 406.2v5.8M222.3 406.2v5.8M269.2 417.3v5.8M99.4 428.4v5.8M152.4 428.4v5.8M159.6 428.4v5.8M232.2 428.4v5.8" stroke="#D8B4C0" stroke-width="0.6" fill="none"/>
<path d="M117.0 239.2v5.8M241.0 239.2v5.8M107.1 244.8v5.8M112.1 244.8v5.8M117.6 244.8v5.8M256.4 244.8v5.8M252.0 250.3v5.8M100.0 255.9v5.8M137.9 255.9v5.8M282.5 255.9v5.8M99.4 261.5v5.8M129.1 261.5v5.8M260.8 261.5v5.8M285.8 261.5v5.8M169.5 267.0v5.8M170.0 267.0v5.8M183.9 267.0v5.8M187.7 267.0v5.8M202.5 267.0v5.8M217.9 267.0v5.8M149.1 272.6v5.8M175.6 272.6v5.8M177.8 272.6v5.8M184.3 272.6v5.8M184.9 272.6v5.8M189.8 272.6v5.8M209.1 272.6v5.8M212.9 272.6v5.8M117.6 278.2v5.8M155.7 278.2v5.8M159.0 278.2v5.8M178.4 278.2v5.8M217.9 278.2v5.8M280.3 278.2v5.8M280.9 278.2v5.8M159.0 283.7v5.8M164.5 283.7v5.8M169.5 283.7v5.8M179.5 283.7v5.8M183.9 283.7v5.8M184.4 283.7v5.8M203.6 283.7v5.8M215.7 283.7v5.8M219.0 283.7v5.8M236.6 283.7v5.8M160.7 289.3v5.8M161.2 289.3v5.8M195.3 289.3v5.8M196.4 289.3v5.8M198.1 289.3v5.8M214.6 289.3v5.8M222.8 289.3v5.8M230.0 289.3v5.8M157.4 294.9v5.8M168.4 294.9v5.8M199.7 294.9v5.8M148.6 300.4v5.8M151.9 300.4v5.8M162.9 300.4v5.8M169.5 300.4v5.8M194.2 300.4v5.8M211.3 300.4v5.8M224.5 300.4v5.8M201.9 306.0v5.8M205.2 306.0v5.8M211.3 306.0v5.8M215.7 306.0v5.8M162.3 311.6v5.8M165.1 311.6v5.8M166.7 311.6v5.8M171.1 311.6v5.8M197.5 311.6v5.8M199.7 311.6v5.8M203.0 311.6v5.8M211.3 311.6v5.8M150.2 317.1v5.8M151.9 317.1v5.8M152.4 317.1v5.8M166.7 317.1v5.8M168.4 317.1v5.8M169.5 317.1v5.8M203.6 317.1v5.8M206.3 317.1v5.8M208.0 317.1v5.8M208.5 317.1v5.8M220.6 317.1v5.8M222.3 317.1v5.8M225.0 317.1v5.8M125.8 322.7v5.8M128.6 322.7v5.8M141.8 328.3v5.8M237.7 328.3v5.8M251.4 328.3v5.8M109.3 333.8v5.8M129.7 333.8v5.8M245.9 333.8v5.8M106.6 339.4v5.8M114.8 339.4v5.8M122.0 339.4v5.8M123.1 339.4v5.8M135.2 339.4v5.8M141.2 339.4v5.8M144.5 339.4v5.8M146.2 339.4v5.8M248.1 339.4v5.8M253.6 339.4v5.8M254.2 339.4v5.8M246.5 344.9v5.8M247.0 344.9v5.8M258.6 344.9v5.8M260.2 344.9v5.8M263.0 356.1v5.8M188.1 361.6v5.8M264.2 361.6v5.8M192.0 367.2v5.8M193.1 367.2v5.8M272.5 367.2v5.8M151.3 372.8v5.8M155.2 372.8v5.8M165.6 372.8v5.8M183.7 372.8v5.8M267.0 372.8v5.8M241.0 378.3v5.8M246.5 378.3v5.8M261.9 383.9v5.8M98.3 389.5v5.8M98.9 389.5v5.8M101.1 389.5v5.8M242.6 389.5v5.8M258.0 389.5v5.8M254.7 395.0v5.8M256.9 395.0v5.8M282.0 395.0v5.8M100.5 400.6v5.8M239.3 400.6v5.8M243.7 400.6v5.8M249.2 400.6v5.8M251.4 400.6v5.8M259.1 400.6v5.8M148.6 406.2v5.8M156.8 406.2v5.8M160.1 406.2v5.8M161.2 406.2v5.8M148.6 411.7v5.8M161.8 411.7v5.8M169.5 411.7v5.8M210.7 411.7v5.8M216.2 411.7v5.8M151.9 422.9v5.8M168.9 422.9v5.8" stroke="#F0846C" stroke-width="0.6" fill="none"/>
<path d="M124.7 239.2v5.8M258.6 244.8v5.8M262.4 255.9v5.8M284.2 261.5v5.8M223.9 289.3v5.8M223.4 300.4v5.8M92.3 339.4v5.8M115.4 389.5v5.8M285.3 395.0v5.8M97.2 400.6v5.8M158.5 411.7v5.8" stroke="#F0786C" stroke-width="0.6" fill="none"/>
<path d="M126.4 239.2v5.8M238.2 272.6v5.8M95.6 278.2v5.8M148.0 278.2v5.8M201.9 278.2v5.8M284.7 278.2v5.8M228.3 289.3v5.8M150.8 300.4v5.8M257.5 322.7v5.8M144.0 333.8v5.8M263.0 333.8v5.8M103.8 339.4v5.8M259.7 339.4v5.8M163.4 367.2v5.8M204.1 367.2v5.8M98.9 372.8v5.8M171.7 383.9v5.8M240.4 389.5v5.8M209.6 406.2v5.8M225.0 411.7v5.8" stroke="#E49084" stroke-width="0.6" fill="none"/>
<path d="M129.7 239.2v5.8M245.9 239.2v5.8M118.7 244.8v5.8M119.8 244.8v5.8M120.3 244.8v5.8M122.0 244.8v5.8M124.2 244.8v5.8M136.8 244.8v5.8M146.7 244.8v5.8M220.1 244.8v5.8M253.1 250.3v5.8M263.0 250.3v5.8M97.8 255.9v5.8M98.9 255.9v5.8M123.6 255.9v5.8M155.7 255.9v5.8M170.6 255.9v5.8M248.7 255.9v5.8M258.0 255.9v5.8M264.2 255.9v5.8M274.7 255.9v5.8M278.0 255.9v5.8M281.4 255.9v5.8M109.3 261.5v5.8M129.7 261.5v5.8M177.3 267.0v5.8M193.7 267.0v5.8M199.7 267.0v5.8M203.0 267.0v5.8M223.4 267.0v5.8M237.7 267.0v5.8M238.8 267.0v5.8M241.0 267.0v5.8M243.2 267.0v5.8M244.3 267.0v5.8M248.7 267.0v5.8M252.5 267.0v5.8M254.2 267.0v5.8M259.1 267.0v5.8M267.0 267.0v5.8M276.9 267.0v5.8M277.4 267.0v5.8M107.7 272.6v5.8M134.6 272.6v5.8M138.5 272.6v5.8M166.7 272.6v5.8M194.2 272.6v5.8M195.9 272.6v5.8M199.7 272.6v5.8M201.9 272.6v5.8M210.2 272.6v5.8M242.1 272.6v5.8M245.4 272.6v5.8M251.4 272.6v5.8M254.2 272.6v5.8M268.1 272.6v5.8M94.5 278.2v5.8M98.3 278.2v5.8M111.5 278.2v5.8M112.6 278.2v5.8M113.2 278.2v5.8M114.3 278.2v5.8M124.7 278.2v5.8M126.4 278.2v5.8M126.9 278.2v5.8M129.7 278.2v5.8M130.8 278.2v5.8M131.3 278.2v5.8M131.9 278.2v5.8M136.8 278.2v5.8M143.4 278.2v5.8M198.1 278.2v5.8M244.3 278.2v5.8M246.5 278.2v5.8M248.1 278.2v5.8M251.4 278.2v5.8M252.0 278.2v5.8M254.7 278.2v5.8M259.1 278.2v5.8M260.8 278.2v5.8M106.6 283.7v5.8M108.2 283.7v5.8M112.6 283.7v5.8M114.3 283.7v5.8M119.2 283.7v5.8M136.3 283.7v5.8M137.4 283.7v5.8M141.8 283.7v5.8M203.0 283.7v5.8M216.8 283.7v5.8M233.8 283.7v5.8M239.9 283.7v5.8M241.5 283.7v5.8M249.2 283.7v5.8M251.4 283.7v5.8M259.1 283.7v5.8M263.0 283.7v5.8M266.4 283.7v5.8M273.6 283.7v5.8M281.4 283.7v5.8M133.5 289.3v5.8M241.0 289.3v5.8M250.9 289.3v5.8M262.4 289.3v5.8M264.2 289.3v5.8M266.4 289.3v5.8M273.0 289.3v5.8M274.7 289.3v5.8M281.4 289.3v5.8M101.1 294.9v5.8M150.2 294.9v5.8M155.2 294.9v5.8M161.8 294.9v5.8M162.3 294.9v5.8M164.5 294.9v5.8M170.0 294.9v5.8M170.6 294.9v5.8M182.8 294.9v5.8M108.8 300.4v5.8M135.2 300.4v5.8M148.0 300.4v5.8M149.1 300.4v5.8M150.2 300.4v5.8M153.0 300.4v5.8M155.7 300.4v5.8M157.9 300.4v5.8M159.0 300.4v5.8M161.8 300.4v5.8M165.6 300.4v5.8M178.4 300.4v5.8M180.6 300.4v5.8M188.3 300.4v5.8M189.4 300.4v5.8M265.9 300.4v5.8M129.1 306.0v5.8M148.0 306.0v5.8M150.8 306.0v5.8M159.6 306.0v5.8M168.9 306.0v5.8M174.0 306.0v5.8M189.9 306.0v5.8M252.5 306.0v5.8M119.2 311.6v5.8M109.9 317.1v5.8M174.0 317.1v5.8M177.8 317.1v5.8M183.3 317.1v5.8M187.7 317.1v5.8M189.9 317.1v5.8M278.0 317.1v5.8M278.5 317.1v5.8M129.1 322.7v5.8M146.2 322.7v5.8M185.6 322.7v5.8M187.8 322.7v5.8M249.8 322.7v5.8M250.3 322.7v5.8M260.2 322.7v5.8M263.0 322.7v5.8M112.1 328.3v5.8M244.3 328.3v5.8M244.8 328.3v5.8M280.3 328.3v5.8M102.2 333.8v5.8M145.6 333.8v5.8M182.9 333.8v5.8M184.0 333.8v5.8M186.2 333.8v5.8M248.1 333.8v5.8M249.8 333.8v5.8M109.3 339.4v5.8M281.4 339.4v5.8M98.9 344.9v5.8M128.6 344.9v5.8M132.4 344.9v5.8M146.7 344.9v5.8M152.4 344.9v5.8M206.9 344.9v5.8M104.4 350.5v5.8M125.8 350.5v5.8M164.0 350.5v5.8M166.2 350.5v5.8M181.0 350.5v5.8M192.0 350.5v5.8M244.3 350.5v5.8M256.4 350.5v5.8M149.1 356.1v5.8M149.7 356.1v5.8M153.0 356.1v5.8M162.3 356.1v5.8M179.9 356.1v5.8M186.5 356.1v5.8M225.6 356.1v5.8M255.8 356.1v5.8M102.2 361.6v5.8M117.0 361.6v5.8M128.6 361.6v5.8M132.4 361.6v5.8M136.3 361.6v5.8M143.4 361.6v5.8M146.7 361.6v5.8M151.9 361.6v5.8M156.8 361.6v5.8M159.6 361.6v5.8M175.0 361.6v5.8M183.8 361.6v5.8M195.3 361.6v5.8M196.4 361.6v5.8M221.2 361.6v5.8M228.9 361.6v5.8M239.3 361.6v5.8M260.2 361.6v5.8M263.7 361.6v5.8M280.9 361.6v5.8M284.2 361.6v5.8M101.1 367.2v5.8M117.0 367.2v5.8M122.0 367.2v5.8M128.0 367.2v5.8M130.8 367.2v5.8M138.5 367.2v5.8M141.2 367.2v5.8M150.2 367.2v5.8M157.9 367.2v5.8M161.2 367.2v5.8M165.1 367.2v5.8M175.5 367.2v5.8M203.0 367.2v5.8M229.4 367.2v5.8M95.6 372.8v5.8M103.8 372.8v5.8M105.5 372.8v5.8M106.6 372.8v5.8M114.3 372.8v5.8M128.0 372.8v5.8M132.4 372.8v5.8M141.2 372.8v5.8M142.3 372.8v5.8M146.7 372.8v5.8M176.0 372.8v5.8M184.2 372.8v5.8M195.3 372.8v5.8M197.5 372.8v5.8M206.9 372.8v5.8M214.6 372.8v5.8M232.7 372.8v5.8M234.4 372.8v5.8M260.2 372.8v5.8M263.0 372.8v5.8M96.1 378.3v5.8M103.3 378.3v5.8M111.0 378.3v5.8M122.5 378.3v5.8M136.3 378.3v5.8M169.5 378.3v5.8M192.6 378.3v5.8M200.3 378.3v5.8M247.6 378.3v5.8M251.4 378.3v5.8M259.7 378.3v5.8M98.3 383.9v5.8M122.0 383.9v5.8M122.5 383.9v5.8M141.2 383.9v5.8M164.0 383.9v5.8M181.0 383.9v5.8M189.8 383.9v5.8M191.5 383.9v5.8M248.1 383.9v5.8M112.1 389.5v5.8M138.1 389.5v5.8M249.8 389.5v5.8M100.5 395.0v5.8M114.8 395.0v5.8M117.0 395.0v5.8M120.3 395.0v5.8M147.5 395.0v5.8M154.1 395.0v5.8M244.8 395.0v5.8M257.5 395.0v5.8M262.4 395.0v5.8M104.9 400.6v5.8M106.0 400.6v5.8M109.9 400.6v5.8M134.6 400.6v5.8M145.1 400.6v5.8M197.5 406.2v5.8M202.5 406.2v5.8M213.5 406.2v5.8M224.5 406.2v5.8M271.9 406.2v5.8M122.5 411.7v5.8M128.0 411.7v5.8M130.8 411.7v5.8M143.4 411.7v5.8M151.9 417.3v5.8M157.9 417.3v5.8M159.0 417.3v5.8M166.7 417.3v5.8M168.4 417.3v5.8M192.0 417.3v5.8M197.0 417.3v5.8M201.9 417.3v5.8M216.8 417.3v5.8M267.0 417.3v5.8M102.2 428.4v5.8M105.5 428.4v5.8M129.1 428.4v5.8M163.4 428.4v5.8M171.7 428.4v5.8M177.2 428.4v5.8M201.4 428.4v5.8" stroke="#D8B4B4" stroke-width="0.6" fill="none"/>
<path d="M161.8 239.2v5.8M176.1 239.2v5.8M209.6 239.2v5.8M274.1 239.2v5.8M170.6 244.8v5.8M225.0 244.8v5.8M270.3 244.8v5.8M278.0 244.8v5.8M150.8 250.3v5.8M162.3 255.9v5.8M177.7 255.9v5.8M150.2 261.5v5.8M155.7 261.5v5.8M159.0 261.5v5.8M221.2 261.5v5.8M267.0 261.5v5.8M95.0 267.0v5.8M127.5 267.0v5.8M136.3 267.0v5.8M103.8 272.6v5.8M123.1 272.6v5.8M124.2 272.6v5.8M144.0 272.6v5.8M146.7 272.6v5.8M280.9 272.6v5.8M261.9 278.2v5.8M103.3 283.7v5.8M104.9 283.7v5.8M130.8 283.7v5.8M133.0 283.7v5.8M256.4 283.7v5.8M109.9 289.3v5.8M258.0 289.3v5.8M98.3 294.9v5.8M100.5 294.9v5.8M104.4 294.9v5.8M126.4 294.9v5.8M129.1 294.9v5.8M235.6 300.4v5.8M126.4 306.0v5.8M168.4 306.0v5.8M176.7 306.0v5.8M264.8 306.0v5.8M93.4 311.6v5.8M237.7 311.6v5.8M261.3 317.1v5.8M263.0 317.1v5.8M181.8 328.3v5.8M222.3 328.3v5.8M232.7 328.3v5.8M283.1 328.3v5.8M284.7 328.3v5.8M162.3 333.8v5.8M226.1 333.8v5.8M272.5 333.8v5.8M199.2 339.4v5.8M215.7 339.4v5.8M232.2 344.9v5.8M149.1 350.5v5.8M184.3 350.5v5.8M189.3 350.5v5.8M230.5 350.5v5.8M117.0 356.1v5.8M120.9 356.1v5.8M199.2 356.1v5.8M206.9 356.1v5.8M233.3 356.1v5.8M239.9 356.1v5.8M256.9 356.1v5.8M116.5 361.6v5.8M120.3 361.6v5.8M229.4 361.6v5.8M263.0 361.6v5.8M123.1 367.2v5.8M139.6 367.2v5.8M223.9 367.2v5.8M242.1 367.2v5.8M250.9 367.2v5.8M116.5 372.8v5.8M125.8 372.8v5.8M136.3 372.8v5.8M193.7 372.8v5.8M142.3 378.3v5.8M144.0 378.3v5.8M208.5 378.3v5.8M216.8 378.3v5.8M217.3 378.3v5.8M161.2 395.0v5.8M166.7 395.0v5.8M205.8 395.0v5.8M147.5 400.6v5.8M165.6 400.6v5.8M176.6 400.6v5.8M194.8 400.6v5.8M225.0 400.6v5.8M236.6 400.6v5.8M172.9 406.2v5.8M109.9 411.7v5.8M135.7 417.3v5.8M113.7 428.4v5.8M127.5 428.4v5.8M173.3 428.4v5.8M238.2 428.4v5.8M249.8 428.4v5.8" stroke="#CCC0CC" stroke-width="0.6" fill="none"/>
<path d="M162.9 239.2v5.8M204.1 239.2v5.8M204.7 239.2v5.8M207.4 239.2v5.8M215.7 239.2v5.8M278.0 239.2v5.8M201.9 244.8v5.8M99.4 250.3v5.8M191.5 250.3v5.8M219.5 250.3v5.8M151.3 255.9v5.8M192.6 255.9v5.8M215.7 255.9v5.8M200.3 261.5v5.8M207.4 261.5v5.8M208.5 261.5v5.8M219.5 261.5v5.8M269.7 261.5v5.8M271.9 261.5v5.8M112.6 267.0v5.8M120.3 267.0v5.8M134.6 267.0v5.8M136.8 267.0v5.8M267.0 289.3v5.8M119.2 294.9v5.8M139.0 294.9v5.8M260.8 294.9v5.8M122.0 306.0v5.8M185.5 306.0v5.8M98.3 311.6v5.8M183.3 311.6v5.8M188.8 311.6v5.8M146.7 317.1v5.8M248.7 317.1v5.8M249.8 317.1v5.8M170.0 322.7v5.8M179.0 322.7v5.8M222.8 322.7v5.8M225.6 322.7v5.8M100.5 328.3v5.8M178.5 328.3v5.8M284.2 328.3v5.8M131.3 333.8v5.8M176.3 333.8v5.8M180.7 333.8v5.8M234.9 333.8v5.8M197.5 339.4v5.8M211.3 344.9v5.8M205.8 350.5v5.8M98.3 356.1v5.8M247.6 367.2v5.8M281.4 372.8v5.8M146.2 383.9v5.8M176.1 389.5v5.8M183.2 389.5v5.8M200.8 389.5v5.8M178.8 395.0v5.8M210.7 400.6v5.8M226.1 400.6v5.8M230.5 400.6v5.8M191.1 411.7v5.8M240.4 411.7v5.8M186.0 422.9v5.8M187.1 422.9v5.8M244.8 422.9v5.8M248.1 422.9v5.8" stroke="#C0C0CC" stroke-width="0.6" fill="none"/>
<path d="M198.6 239.2v5.8M222.8 244.8v5.8M157.4 255.9v5.8M268.1 255.9v5.8M270.8 261.5v5.8M275.8 261.5v5.8M125.8 267.0v5.8M96.7 272.6v5.8M98.9 272.6v5.8M109.3 272.6v5.8M111.5 272.6v5.8M135.7 272.6v5.8M139.0 272.6v5.8M284.7 272.6v5.8M127.5 283.7v5.8M132.4 283.7v5.8M93.4 289.3v5.8M95.0 294.9v5.8M110.4 294.9v5.8M247.0 300.4v5.8M254.7 300.4v5.8M249.8 311.6v5.8M252.0 311.6v5.8M230.7 317.1v5.8M247.0 328.3v5.8M275.2 328.3v5.8M156.3 333.8v5.8M200.3 333.8v5.8M189.3 339.4v5.8M208.0 339.4v5.8M208.0 356.1v5.8M255.3 356.1v5.8M211.8 367.2v5.8M231.6 372.8v5.8M284.7 372.8v5.8M120.3 378.3v5.8M105.5 395.0v5.8M231.1 395.0v5.8M148.6 400.6v5.8M178.3 400.6v5.8M237.1 400.6v5.8M209.1 406.2v5.8M102.2 417.3v5.8M275.2 417.3v5.8" stroke="#C0CCCC" stroke-width="0.6" fill="none"/>
<path d="M225.0 239.2v5.8M270.3 239.2v5.8M106.0 244.8v5.8M270.8 244.8v5.8M202.5 250.3v5.8M266.4 255.9v5.8M112.1 261.5v5.8M220.1 261.5v5.8M268.6 261.5v5.8M274.7 261.5v5.8M247.0 267.0v5.8M107.1 272.6v5.8M134.1 272.6v5.8M142.9 272.6v5.8M278.5 272.6v5.8M242.1 278.2v5.8M258.6 278.2v5.8M144.5 283.7v5.8M238.8 283.7v5.8M260.2 283.7v5.8M260.8 283.7v5.8M285.8 283.7v5.8M121.4 289.3v5.8M252.0 289.3v5.8M106.6 294.9v5.8M113.2 294.9v5.8M252.5 294.9v5.8M242.6 300.4v5.8M101.1 306.0v5.8M126.9 306.0v5.8M147.5 306.0v5.8M275.2 306.0v5.8M180.6 311.6v5.8M125.3 317.1v5.8M135.2 317.1v5.8M188.4 322.7v5.8M103.3 328.3v5.8M125.3 328.3v5.8M130.2 328.3v5.8M191.7 333.8v5.8M236.6 339.4v5.8M101.1 344.9v5.8M130.2 344.9v5.8M171.7 344.9v5.8M280.3 344.9v5.8M161.2 350.5v5.8M256.9 350.5v5.8M102.2 356.1v5.8M119.8 356.1v5.8M156.8 356.1v5.8M170.6 356.1v5.8M171.7 356.1v5.8M207.4 356.1v5.8M214.0 356.1v5.8M221.2 356.1v5.8M244.3 356.1v5.8M260.8 356.1v5.8M262.4 356.1v5.8M108.8 361.6v5.8M125.8 361.6v5.8M250.9 361.6v5.8M104.9 367.2v5.8M118.7 367.2v5.8M134.6 367.2v5.8M148.0 367.2v5.8M237.7 367.2v5.8M259.7 367.2v5.8M95.0 372.8v5.8M97.8 372.8v5.8M123.6 372.8v5.8M169.4 372.8v5.8M180.9 372.8v5.8M240.4 372.8v5.8M98.3 378.3v5.8M102.7 378.3v5.8M105.5 378.3v5.8M115.9 378.3v5.8M131.9 378.3v5.8M134.6 378.3v5.8M135.2 378.3v5.8M142.9 378.3v5.8M198.6 378.3v5.8M223.9 378.3v5.8M112.6 383.9v5.8M113.2 383.9v5.8M154.6 383.9v5.8M155.2 383.9v5.8M175.0 383.9v5.8M179.9 383.9v5.8M238.2 383.9v5.8M126.4 395.0v5.8M130.2 395.0v5.8M134.1 395.0v5.8M215.1 395.0v5.8M233.3 395.0v5.8M182.1 400.6v5.8M224.5 400.6v5.8M233.8 400.6v5.8M133.0 406.2v5.8M198.6 406.2v5.8M111.5 411.7v5.8M199.2 417.3v5.8M202.5 417.3v5.8M209.6 417.3v5.8M214.6 417.3v5.8M215.1 417.3v5.8M271.9 422.9v5.8M100.5 428.4v5.8M209.1 428.4v5.8M216.2 428.4v5.8M217.3 428.4v5.8" stroke="#CCC0C0" stroke-width="0.6" fill="none"/>
<path d="M228.9 239.2v5.8M231.6 239.2v5.8M201.4 261.5v5.8M212.9 261.5v5.8M221.7 261.5v5.8M100.0 311.6v5.8M102.2 311.6v5.8M137.9 311.6v5.8M208.5 333.8v5.8M150.8 339.4v5.8" stroke="#A8B4CC" stroke-width="0.6" fill="none"/>
<path d="M237.7 239.2v5.8M280.9 239.2v5.8M283.1 239.2v5.8M131.9 244.8v5.8M189.8 255.9v5.8M122.0 261.5v5.8M278.5 261.5v5.8M257.5 267.0v5.8M278.5 267.0v5.8M123.6 272.6v5.8M276.9 272.6v5.8M220.1 278.2v5.8M252.5 278.2v5.8M260.2 278.2v5.8M104.4 283.7v5.8M250.3 283.7v5.8M263.7 283.7v5.8M270.3 283.7v5.8M126.9 289.3v5.8M129.1 289.3v5.8M132.4 289.3v5.8M259.7 289.3v5.8M274.1 289.3v5.8M140.7 294.9v5.8M144.0 294.9v5.8M156.3 294.9v5.8M165.1 294.9v5.8M174.0 294.9v5.8M113.2 306.0v5.8M159.0 306.0v5.8M268.1 317.1v5.8M276.3 317.1v5.8M116.5 328.3v5.8M243.7 328.3v5.8M133.0 333.8v5.8M176.6 339.4v5.8M187.1 344.9v5.8M198.6 344.9v5.8M136.3 350.5v5.8M242.1 350.5v5.8M148.6 356.1v5.8M180.5 356.1v5.8M232.7 356.1v5.8M252.5 356.1v5.8M94.5 361.6v5.8M100.5 361.6v5.8M115.9 361.6v5.8M122.0 361.6v5.8M127.5 361.6v5.8M133.5 361.6v5.8M136.8 361.6v5.8M154.1 361.6v5.8M166.2 361.6v5.8M173.3 361.6v5.8M184.3 361.6v5.8M219.0 361.6v5.8M225.6 361.6v5.8M114.8 367.2v5.8M131.9 367.2v5.8M168.4 367.2v5.8M245.9 367.2v5.8M129.1 372.8v5.8M134.6 372.8v5.8M144.5 372.8v5.8M180.4 372.8v5.8M199.7 372.8v5.8M242.6 372.8v5.8M247.0 372.8v5.8M101.6 378.3v5.8M128.6 378.3v5.8M139.0 378.3v5.8M157.4 378.3v5.8M209.6 378.3v5.8M162.3 383.9v5.8M190.4 383.9v5.8M125.8 389.5v5.8M119.2 395.0v5.8M141.8 406.2v5.8M267.0 406.2v5.8M102.2 411.7v5.8M267.5 422.9v5.8M111.5 428.4v5.8M154.1 428.4v5.8M231.1 428.4v5.8M240.4 428.4v5.8" stroke="#D8C0C0" stroke-width="0.6" fill="none"/>
<path d="M252.0 239.2v5.8M116.5 244.8v5.8M247.0 244.8v5.8M260.2 244.8v5.8M126.4 255.9v5.8M135.2 255.9v5.8M140.7 255.9v5.8M95.0 261.5v5.8M281.4 261.5v5.8M149.7 267.0v5.8M184.4 267.0v5.8M214.6 267.0v5.8M216.8 267.0v5.8M167.3 272.6v5.8M191.5 272.6v5.8M231.1 272.6v5.8M205.2 278.2v5.8M162.9 283.7v5.8M194.2 283.7v5.8M195.3 283.7v5.8M228.9 289.3v5.8M150.2 311.6v5.8M194.2 311.6v5.8M200.8 311.6v5.8M174.5 317.1v5.8M93.9 322.7v5.8M94.5 333.8v5.8M104.4 333.8v5.8M139.6 333.8v5.8M243.2 333.8v5.8M132.4 339.4v5.8M146.7 339.4v5.8M247.0 339.4v5.8M145.1 344.9v5.8M261.3 361.6v5.8M160.7 367.2v5.8M266.4 372.8v5.8M247.0 378.3v5.8M253.6 389.5v5.8M160.1 422.9v5.8" stroke="#F08478" stroke-width="0.6" fill="none"/>
<path d="M258.0 239.2v5.8M104.9 244.8v5.8M125.3 244.8v5.8M127.5 244.8v5.8M141.8 244.8v5.8M238.2 244.8v5.8M241.5 244.8v5.8M245.9 244.8v5.8M250.9 244.8v5.8M254.2 244.8v5.8M261.3 244.8v5.8M103.3 250.3v5.8M259.7 255.9v5.8M285.3 255.9v5.8M94.5 261.5v5.8M279.8 261.5v5.8M150.8 267.0v5.8M155.7 267.0v5.8M156.3 267.0v5.8M166.7 267.0v5.8M167.8 267.0v5.8M172.2 267.0v5.8M174.0 267.0v5.8M189.4 267.0v5.8M233.8 267.0v5.8M234.9 267.0v5.8M185.4 272.6v5.8M186.0 272.6v5.8M132.4 278.2v5.8M147.5 278.2v5.8M156.3 278.2v5.8M164.0 278.2v5.8M168.4 278.2v5.8M182.2 278.2v5.8M191.2 278.2v5.8M194.2 278.2v5.8M199.7 278.2v5.8M202.5 278.2v5.8M212.4 278.2v5.8M111.0 283.7v5.8M148.6 283.7v5.8M149.7 283.7v5.8M157.9 283.7v5.8M162.3 283.7v5.8M166.2 283.7v5.8M153.0 289.3v5.8M156.3 289.3v5.8M158.5 289.3v5.8M159.6 289.3v5.8M163.4 289.3v5.8M192.3 289.3v5.8M203.0 289.3v5.8M209.1 289.3v5.8M220.1 289.3v5.8M226.7 289.3v5.8M194.8 294.9v5.8M197.5 294.9v5.8M212.9 294.9v5.8M216.8 294.9v5.8M195.3 300.4v5.8M197.0 300.4v5.8M200.3 300.4v5.8M208.5 300.4v5.8M210.7 300.4v5.8M212.4 300.4v5.8M215.1 300.4v5.8M222.3 300.4v5.8M150.2 306.0v5.8M207.4 306.0v5.8M208.0 306.0v5.8M218.4 306.0v5.8M223.4 306.0v5.8M226.7 306.0v5.8M158.5 311.6v5.8M159.0 311.6v5.8M159.6 311.6v5.8M163.4 311.6v5.8M166.2 311.6v5.8M216.2 311.6v5.8M222.3 311.6v5.8M263.7 311.6v5.8M264.2 311.6v5.8M271.4 311.6v5.8M271.9 311.6v5.8M148.6 317.1v5.8M168.9 317.1v5.8M200.3 317.1v5.8M201.9 317.1v5.8M217.3 317.1v5.8M104.4 322.7v5.8M142.9 333.8v5.8M99.4 339.4v5.8M101.1 339.4v5.8M115.4 339.4v5.8M117.0 339.4v5.8M122.5 339.4v5.8M140.1 339.4v5.8M145.1 339.4v5.8M238.2 339.4v5.8M241.0 339.4v5.8M248.7 339.4v5.8M256.9 339.4v5.8M96.1 344.9v5.8M104.4 344.9v5.8M239.9 344.9v5.8M241.0 344.9v5.8M254.7 344.9v5.8M258.0 344.9v5.8M188.7 367.2v5.8M150.2 372.8v5.8M154.1 372.8v5.8M163.4 372.8v5.8M243.7 378.3v5.8M279.8 383.9v5.8M280.3 383.9v5.8M103.3 389.5v5.8M104.4 389.5v5.8M122.5 389.5v5.8M129.1 389.5v5.8M129.7 389.5v5.8M136.8 389.5v5.8M246.5 389.5v5.8M259.7 389.5v5.8M238.8 395.0v5.8M248.1 395.0v5.8M283.6 395.0v5.8M109.3 400.6v5.8M112.6 400.6v5.8M138.5 400.6v5.8M240.4 400.6v5.8M247.6 400.6v5.8M249.8 400.6v5.8M262.4 400.6v5.8M155.7 406.2v5.8M157.4 406.2v5.8M150.2 411.7v5.8M160.7 411.7v5.8M194.2 411.7v5.8M196.4 411.7v5.8M198.6 411.7v5.8M209.6 411.7v5.8M215.1 411.7v5.8M215.7 411.7v5.8M223.9 411.7v5.8M165.6 422.9v5.8M221.7 422.9v5.8" stroke="#F07860" stroke-width="0.6" fill="none"/>
<path d="M262.4 239.2v5.8M104.4 244.8v5.8M118.1 244.8v5.8M144.5 244.8v5.8M284.2 244.8v5.8M113.2 250.3v5.8M123.1 250.3v5.8M280.9 250.3v5.8M104.9 255.9v5.8M112.6 255.9v5.8M128.6 255.9v5.8M247.0 255.9v5.8M97.8 261.5v5.8M98.9 261.5v5.8M105.5 261.5v5.8M249.8 261.5v5.8M275.2 261.5v5.8M214.0 267.0v5.8M230.0 267.0v5.8M237.1 267.0v5.8M250.3 267.0v5.8M253.1 267.0v5.8M129.7 272.6v5.8M151.9 272.6v5.8M166.2 272.6v5.8M174.5 272.6v5.8M198.1 272.6v5.8M203.6 272.6v5.8M232.2 272.6v5.8M238.8 272.6v5.8M244.3 272.6v5.8M247.0 272.6v5.8M274.7 272.6v5.8M100.0 278.2v5.8M102.7 278.2v5.8M177.8 278.2v5.8M196.4 278.2v5.8M203.0 278.2v5.8M228.9 278.2v5.8M249.8 278.2v5.8M256.9 278.2v5.8M96.7 283.7v5.8M181.7 283.7v5.8M197.5 283.7v5.8M229.4 283.7v5.8M234.9 283.7v5.8M255.3 283.7v5.8M283.6 283.7v5.8M134.6 289.3v5.8M150.2 289.3v5.8M152.4 289.3v5.8M167.3 289.3v5.8M169.5 289.3v5.8M175.1 289.3v5.8M203.6 289.3v5.8M204.7 289.3v5.8M212.9 289.3v5.8M219.5 289.3v5.8M233.8 289.3v5.8M239.3 289.3v5.8M148.6 294.9v5.8M157.9 294.9v5.8M169.5 294.9v5.8M163.4 300.4v5.8M100.0 322.7v5.8M111.0 322.7v5.8M112.6 322.7v5.8M115.9 322.7v5.8M124.7 322.7v5.8M141.2 322.7v5.8M170.6 322.7v5.8M254.2 322.7v5.8M282.5 322.7v5.8M253.6 328.3v5.8M254.7 328.3v5.8M262.4 328.3v5.8M285.3 328.3v5.8M118.7 333.8v5.8M119.8 333.8v5.8M140.7 333.8v5.8M144.5 333.8v5.8M168.4 333.8v5.8M242.1 333.8v5.8M280.3 333.8v5.8M94.5 339.4v5.8M98.3 339.4v5.8M117.6 339.4v5.8M127.5 339.4v5.8M249.8 339.4v5.8M112.1 344.9v5.8M124.7 344.9v5.8M126.4 344.9v5.8M144.0 344.9v5.8M164.5 344.9v5.8M242.1 344.9v5.8M252.0 344.9v5.8M261.3 344.9v5.8M155.2 356.1v5.8M167.8 356.1v5.8M175.5 356.1v5.8M201.9 356.1v5.8M206.3 356.1v5.8M135.7 361.6v5.8M145.6 361.6v5.8M150.2 361.6v5.8M173.9 361.6v5.8M174.4 361.6v5.8M182.7 361.6v5.8M197.5 361.6v5.8M215.1 361.6v5.8M221.7 361.6v5.8M251.4 361.6v5.8M102.7 367.2v5.8M109.3 367.2v5.8M151.3 367.2v5.8M171.1 367.2v5.8M183.2 367.2v5.8M285.8 367.2v5.8M109.9 372.8v5.8M138.5 372.8v5.8M196.4 372.8v5.8M214.0 372.8v5.8M236.6 372.8v5.8M255.3 372.8v5.8M95.6 378.3v5.8M97.8 378.3v5.8M103.8 378.3v5.8M118.7 378.3v5.8M153.5 378.3v5.8M166.2 378.3v5.8M252.0 378.3v5.8M95.6 383.9v5.8M252.0 383.9v5.8M111.5 389.5v5.8M118.7 389.5v5.8M146.9 389.5v5.8M256.4 389.5v5.8M96.1 395.0v5.8M111.0 400.6v5.8M171.7 406.2v5.8M201.9 406.2v5.8M204.7 411.7v5.8M246.5 411.7v5.8M248.7 411.7v5.8M255.3 411.7v5.8M164.0 417.3v5.8M168.9 417.3v5.8M202.5 422.9v5.8M207.4 422.9v5.8M210.7 422.9v5.8M253.1 422.9v5.8M269.7 422.9v5.8" stroke="#E4A89C" stroke-width="0.6" fill="none"/>
<path d="M95.0 244.8v5.8M244.8 244.8v5.8M151.3 267.0v5.8M219.0 267.0v5.8M153.0 278.2v5.8M185.7 278.2v5.8M187.9 278.2v5.8M153.5 289.3v5.8M224.5 289.3v5.8M211.3 294.9v5.8M217.9 294.9v5.8M198.1 306.0v5.8M199.7 306.0v5.8M206.3 306.0v5.8M209.1 306.0v5.8M210.7 306.0v5.8M219.5 306.0v5.8M161.2 311.6v5.8M150.8 317.1v5.8M102.2 339.4v5.8M239.9 339.4v5.8M246.5 339.4v5.8M254.7 339.4v5.8M262.4 339.4v5.8M103.8 344.9v5.8M192.5 361.6v5.8M188.1 367.2v5.8M149.1 372.8v5.8M153.0 372.8v5.8M156.3 372.8v5.8M166.7 372.8v5.8M93.9 389.5v5.8M239.9 389.5v5.8M261.3 389.5v5.8M285.3 389.5v5.8M282.5 395.0v5.8M284.7 395.0v5.8M97.8 400.6v5.8M108.8 400.6v5.8M115.9 400.6v5.8M150.8 406.2v5.8M153.5 411.7v5.8M221.2 411.7v5.8M149.1 422.9v5.8M149.7 422.9v5.8M151.3 422.9v5.8M168.4 422.9v5.8" stroke="#F06048" stroke-width="0.6" fill="none"/>
<path d="M105.5 244.8v5.8M124.7 244.8v5.8M239.9 244.8v5.8M255.3 244.8v5.8M148.0 267.0v5.8M153.0 267.0v5.8M186.8 278.2v5.8M183.5 289.3v5.8M184.1 289.3v5.8M215.1 289.3v5.8M195.3 294.9v5.8M222.8 294.9v5.8M197.5 300.4v5.8M202.5 300.4v5.8M203.0 300.4v5.8M209.6 300.4v5.8M217.3 300.4v5.8M220.6 300.4v5.8M212.4 306.0v5.8M216.8 306.0v5.8M220.6 306.0v5.8M170.6 311.6v5.8M157.4 317.1v5.8M196.4 317.1v5.8M219.5 317.1v5.8M242.6 339.4v5.8M250.3 344.9v5.8M189.8 361.6v5.8M233.8 361.6v5.8M266.4 361.6v5.8M264.8 372.8v5.8M109.3 389.5v5.8M120.9 389.5v5.8M247.6 389.5v5.8M252.0 389.5v5.8M283.1 389.5v5.8M280.3 395.0v5.8M122.5 400.6v5.8M123.6 400.6v5.8M144.5 400.6v5.8M241.0 400.6v5.8M256.9 400.6v5.8M164.5 406.2v5.8M155.7 411.7v5.8M162.3 411.7v5.8M156.8 422.9v5.8M172.8 422.9v5.8" stroke="#F05448" stroke-width="0.6" fill="none"/>
<path d="M122.5 244.8v5.8M152.4 272.6v5.8M96.1 283.7v5.8M233.3 283.7v5.8M201.9 289.3v5.8M251.4 289.3v5.8M112.1 367.2v5.8M98.3 372.8v5.8M155.2 406.2v5.8" stroke="#E49C84" stroke-width="0.6" fill="none"/>
<path d="M131.3 244.8v5.8M145.6 244.8v5.8M122.5 255.9v5.8M248.1 272.6v5.8M254.7 272.6v5.8M135.7 278.2v5.8M138.5 278.2v5.8M231.6 283.7v5.8M106.0 289.3v5.8M136.3 289.3v5.8M242.1 289.3v5.8M167.3 300.4v5.8M264.2 317.1v5.8M243.7 322.7v5.8M248.1 328.3v5.8M256.9 333.8v5.8M279.8 333.8v5.8M125.8 339.4v5.8M176.1 356.1v5.8M155.7 361.6v5.8M205.8 367.2v5.8M123.1 372.8v5.8M137.9 372.8v5.8M203.6 372.8v5.8M237.7 378.3v5.8M242.1 378.3v5.8M109.9 389.5v5.8M119.2 400.6v5.8M223.4 406.2v5.8M252.0 411.7v5.8" stroke="#E4B4A8" stroke-width="0.6" fill="none"/>
<path d="M245.4 244.8v5.8M252.5 244.8v5.8M152.4 267.0v5.8M159.6 267.0v5.8M160.7 267.0v5.8M168.4 267.0v5.8M170.6 267.0v5.8M193.1 272.6v5.8M122.5 278.2v5.8M187.4 278.2v5.8M191.8 278.2v5.8M223.4 278.2v5.8M161.2 283.7v5.8M211.3 283.7v5.8M190.7 289.3v5.8M198.1 294.9v5.8M200.8 294.9v5.8M204.1 294.9v5.8M209.6 294.9v5.8M221.2 294.9v5.8M203.6 306.0v5.8M211.8 306.0v5.8M217.3 306.0v5.8M222.3 306.0v5.8M148.6 311.6v5.8M151.3 311.6v5.8M152.4 311.6v5.8M155.7 311.6v5.8M162.9 311.6v5.8M167.3 311.6v5.8M92.8 339.4v5.8M111.0 339.4v5.8M145.6 339.4v5.8M238.8 339.4v5.8M238.2 344.9v5.8M238.8 344.9v5.8M248.7 344.9v5.8M185.4 361.6v5.8M159.6 372.8v5.8M160.7 372.8v5.8M164.0 372.8v5.8M270.3 372.8v5.8M271.9 372.8v5.8M281.4 383.9v5.8M93.4 389.5v5.8M107.1 389.5v5.8M115.9 389.5v5.8M244.8 389.5v5.8M280.3 389.5v5.8M92.3 400.6v5.8M96.7 400.6v5.8M141.8 400.6v5.8M144.0 400.6v5.8M238.2 400.6v5.8M241.5 400.6v5.8M244.8 400.6v5.8M255.8 400.6v5.8M279.8 400.6v5.8M151.3 411.7v5.8M154.1 411.7v5.8M159.6 411.7v5.8M162.9 411.7v5.8M166.7 411.7v5.8M167.3 411.7v5.8M195.9 411.7v5.8M218.4 411.7v5.8M148.6 422.9v5.8M150.8 422.9v5.8M154.1 422.9v5.8M155.2 422.9v5.8M163.4 422.9v5.8" stroke="#F06C54" stroke-width="0.6" fill="none"/>
<path d="M253.1 244.8v5.8M262.4 244.8v5.8M280.9 261.5v5.8M148.6 267.0v5.8M154.6 267.0v5.8M158.5 267.0v5.8M164.5 267.0v5.8M209.6 267.0v5.8M228.9 267.0v5.8M189.3 272.6v5.8M171.7 278.2v5.8M172.2 278.2v5.8M184.6 278.2v5.8M189.0 278.2v5.8M168.9 283.7v5.8M171.1 283.7v5.8M171.7 283.7v5.8M192.7 283.7v5.8M186.3 289.3v5.8M191.2 289.3v5.8M201.4 294.9v5.8M205.8 294.9v5.8M209.1 294.9v5.8M210.2 294.9v5.8M210.7 294.9v5.8M201.4 300.4v5.8M201.9 300.4v5.8M212.9 300.4v5.8M216.2 300.4v5.8M217.9 300.4v5.8M225.0 300.4v5.8M197.5 306.0v5.8M198.6 306.0v5.8M204.1 306.0v5.8M213.5 306.0v5.8M167.8 311.6v5.8M265.9 311.6v5.8M193.7 317.1v5.8M206.9 317.1v5.8M210.7 317.1v5.8M220.1 317.1v5.8M93.9 339.4v5.8M118.1 339.4v5.8M125.3 339.4v5.8M260.8 344.9v5.8M231.1 361.6v5.8M192.5 367.2v5.8M267.5 372.8v5.8M268.6 372.8v5.8M244.8 378.3v5.8M254.7 378.3v5.8M285.3 378.3v5.8M284.2 383.9v5.8M280.9 389.5v5.8M247.0 400.6v5.8M248.7 400.6v5.8M167.3 406.2v5.8M150.8 411.7v5.8M156.8 411.7v5.8M170.0 411.7v5.8M171.1 411.7v5.8M214.0 411.7v5.8M222.3 411.7v5.8M157.9 422.9v5.8M160.7 422.9v5.8M196.4 422.9v5.8" stroke="#F06054" stroke-width="0.6" fill="none"/>
<path d="M261.9 244.8v5.8M197.5 267.0v5.8M188.7 272.6v5.8M147.5 283.7v5.8M148.0 283.7v5.8M157.4 283.7v5.8M167.3 283.7v5.8M164.0 289.3v5.8M185.2 289.3v5.8M187.9 289.3v5.8M188.5 289.3v5.8M189.6 289.3v5.8M190.1 289.3v5.8M202.5 294.9v5.8M217.3 294.9v5.8M220.1 294.9v5.8M232.8 294.9v5.8M235.6 294.9v5.8M225.6 300.4v5.8M199.2 306.0v5.8M202.5 306.0v5.8M215.1 306.0v5.8M164.5 311.6v5.8M270.3 311.6v5.8M119.8 339.4v5.8M259.1 339.4v5.8M253.1 344.9v5.8M262.4 344.9v5.8M278.1 350.5v5.8M236.6 361.6v5.8M187.6 367.2v5.8M275.5 367.2v5.8M152.4 372.8v5.8M158.5 372.8v5.8M280.9 378.3v5.8M285.8 378.3v5.8M282.5 383.9v5.8M283.6 383.9v5.8M112.6 389.5v5.8M124.7 389.5v5.8M257.5 389.5v5.8M100.0 400.6v5.8M113.2 400.6v5.8M128.0 400.6v5.8M134.1 400.6v5.8M260.8 400.6v5.8M282.0 400.6v5.8M283.6 400.6v5.8M284.2 400.6v5.8M164.5 411.7v5.8M168.4 411.7v5.8M155.7 422.9v5.8M161.8 422.9v5.8" stroke="#F0483C" stroke-width="0.6" fill="none"/>
<path d="M144.0 250.3v5.8M111.5 367.2v5.8M100.5 372.8v5.8M150.2 417.3v5.8" stroke="#E4B4B4" stroke-width="0.6" fill="none"/>
<path d="M210.7 250.3v5.8M230.5 250.3v5.8M182.1 255.9v5.8M272.5 255.9v5.8M185.9 261.5v5.8M195.9 261.5v5.8M202.5 261.5v5.8M233.3 261.5v5.8M102.7 267.0v5.8M235.0 300.4v5.8M100.5 311.6v5.8M106.0 311.6v5.8M129.1 311.6v5.8M238.8 311.6v5.8M242.1 311.6v5.8M117.6 317.1v5.8M256.9 317.1v5.8M157.4 328.3v5.8M219.0 328.3v5.8M224.5 328.3v5.8M279.1 328.3v5.8M148.0 333.8v5.8M215.1 333.8v5.8M175.5 389.5v5.8M227.8 389.5v5.8M229.4 400.6v5.8M112.1 422.9v5.8" stroke="#B4C0CC" stroke-width="0.6" fill="none"/>
<path d="M193.0 261.5v5.8M235.5 261.5v5.8M275.8 278.2v5.8M219.0 322.7v5.8" stroke="#9CA8C0" stroke-width="0.6" fill="none"/>
<path d="M200.8 261.5v5.8M201.9 261.5v5.8M217.9 261.5v5.8M226.7 261.5v5.8M272.5 278.2v5.8M145.1 311.6v5.8M159.0 333.8v5.8" stroke="#A8A8C0" stroke-width="0.6" fill="none"/>
<path d="M206.9 261.5v5.8" stroke="#A8B4C0" stroke-width="0.6" fill="none"/>
<path d="M215.1 261.5v5.8M193.7 278.2v5.8M197.5 278.2v5.8M208.0 278.2v5.8M269.2 278.2v5.8" stroke="#909CC0" stroke-width="0.6" fill="none"/>
<path d="M150.2 267.0v5.8M157.4 267.0v5.8M166.7 283.7v5.8M197.0 294.9v5.8M206.3 294.9v5.8M222.3 294.9v5.8M223.9 294.9v5.8M231.7 294.9v5.8M198.6 300.4v5.8M265.3 356.1v5.8M185.4 367.2v5.8M120.3 389.5v5.8M128.6 389.5v5.8M251.4 389.5v5.8M282.5 389.5v5.8M104.4 400.6v5.8M153.0 422.9v5.8M167.3 422.9v5.8M170.6 422.9v5.8" stroke="#F03024" stroke-width="0.6" fill="none"/>
<path d="M155.2 267.0v5.8M156.8 267.0v5.8M159.0 267.0v5.8M176.7 267.0v5.8M227.2 267.0v5.8M176.7 278.2v5.8M223.9 278.2v5.8M149.1 283.7v5.8M155.2 289.3v5.8M214.0 294.9v5.8M223.4 294.9v5.8M219.5 300.4v5.8M196.4 306.0v5.8M203.0 306.0v5.8M217.9 306.0v5.8M170.0 311.6v5.8M219.0 311.6v5.8M268.1 311.6v5.8M269.7 311.6v5.8M155.2 317.1v5.8M162.9 317.1v5.8M167.3 317.1v5.8M171.1 317.1v5.8M213.5 317.1v5.8M223.4 317.1v5.8M224.5 317.1v5.8M129.7 339.4v5.8M137.9 339.4v5.8M97.2 344.9v5.8M167.3 361.6v5.8M150.8 372.8v5.8M269.2 372.8v5.8M272.5 372.8v5.8M281.4 378.3v5.8M113.7 389.5v5.8M125.3 389.5v5.8M253.1 389.5v5.8M241.5 395.0v5.8M125.8 400.6v5.8M258.6 400.6v5.8M285.3 400.6v5.8M150.2 406.2v5.8M153.5 406.2v5.8M148.0 411.7v5.8M151.9 411.7v5.8M157.4 411.7v5.8M160.1 411.7v5.8M164.0 411.7v5.8M207.4 411.7v5.8M156.3 422.9v5.8M166.2 422.9v5.8M171.1 422.9v5.8M201.4 422.9v5.8M205.2 422.9v5.8M219.0 422.9v5.8" stroke="#F06C60" stroke-width="0.6" fill="none"/>
<path d="M160.1 267.0v5.8M208.0 294.9v5.8M212.4 294.9v5.8M196.4 300.4v5.8M241.5 339.4v5.8M264.2 356.1v5.8M192.0 361.6v5.8M233.3 361.6v5.8M234.9 361.6v5.8M191.4 367.2v5.8M274.9 367.2v5.8M277.1 367.2v5.8M103.8 389.5v5.8M283.6 389.5v5.8M114.8 400.6v5.8M130.8 400.6v5.8M131.3 400.6v5.8M250.9 400.6v5.8M256.4 400.6v5.8M281.4 400.6v5.8M157.9 411.7v5.8" stroke="#F03030" stroke-width="0.6" fill="none"/>
<path d="M161.8 267.0v5.8M165.1 267.0v5.8M183.5 278.2v5.8M210.7 289.3v5.8M224.5 294.9v5.8M225.0 294.9v5.8M225.6 294.9v5.8M233.4 294.9v5.8M219.0 300.4v5.8M265.3 311.6v5.8M209.6 317.1v5.8M140.7 339.4v5.8M277.5 350.5v5.8M278.6 350.5v5.8M268.6 356.1v5.8M269.7 356.1v5.8M187.6 361.6v5.8M234.4 361.6v5.8M277.7 361.6v5.8M190.3 367.2v5.8M278.8 367.2v5.8M147.5 372.8v5.8M134.6 389.5v5.8M244.3 389.5v5.8M282.0 389.5v5.8M285.8 389.5v5.8M283.1 395.0v5.8M285.8 395.0v5.8M106.6 400.6v5.8M115.4 400.6v5.8M285.8 400.6v5.8M165.1 422.9v5.8" stroke="#F03C30" stroke-width="0.6" fill="none"/>
<path d="M195.9 278.2v5.8M198.6 278.2v5.8M216.8 278.2v5.8M232.2 278.2v5.8M233.8 278.2v5.8M236.6 278.2v5.8M237.1 278.2v5.8M268.6 278.2v5.8M274.7 278.2v5.8M277.4 278.2v5.8" stroke="#7890B4" stroke-width="0.6" fill="none"/>
<path d="M209.6 278.2v5.8M215.1 278.2v5.8M221.7 278.2v5.8" stroke="#6C84B4" stroke-width="0.6" fill="none"/>
<path d="M212.9 278.2v5.8" stroke="#5478A8" stroke-width="0.6" fill="none"/>
<path d="M215.7 278.2v5.8" stroke="#849CC0" stroke-width="0.6" fill="none"/>
<path d="M224.5 278.2v5.8" stroke="#6078A8" stroke-width="0.6" fill="none"/>
<path d="M264.8 278.2v5.8" stroke="#6078B4" stroke-width="0.6" fill="none"/>
<path d="M266.4 278.2v5.8" stroke="#7884B4" stroke-width="0.6" fill="none"/>
<path d="M267.5 278.2v5.8" stroke="#6084B4" stroke-width="0.6" fill="none"/>
<path d="M271.4 278.2v5.8" stroke="#8490B4" stroke-width="0.6" fill="none"/>
<path d="M273.0 278.2v5.8" stroke="#90A8C0" stroke-width="0.6" fill="none"/>
<path d="M187.4 289.3v5.8M267.0 356.1v5.8M270.8 356.1v5.8M276.6 361.6v5.8" stroke="#F01818" stroke-width="0.6" fill="none"/>
<path d="M123.1 311.6v5.8M131.3 311.6v5.8M227.4 311.6v5.8M134.1 317.1v5.8M235.7 317.1v5.8M226.1 322.7v5.8M162.9 328.3v5.8M212.4 328.3v5.8M219.5 389.5v5.8" stroke="#B4B4CC" stroke-width="0.6" fill="none"/>
<path d="M186.5 361.6v5.8M278.8 361.6v5.8M277.7 367.2v5.8M102.7 400.6v5.8M161.2 411.7v5.8M164.0 422.9v5.8" stroke="#F02424" stroke-width="0.6" fill="none"/>
<path d="M190.9 361.6v5.8" stroke="#F02418" stroke-width="0.6" fill="none"/>
<path d="M147.2 239.2V434.0" stroke="#4A4F5A" stroke-width="0.4"/>
<path d="M193.4 239.2V434.0" stroke="#4A4F5A" stroke-width="0.4"/>
<path d="M237.4 239.2V434.0" stroke="#4A4F5A" stroke-width="0.4"/>
<path d="M263.4 239.2V434.0" stroke="#4A4F5A" stroke-width="0.4"/>
<path d="M279.5 239.2V434.0" stroke="#4A4F5A" stroke-width="0.4"/>
<path d="M286.3 239.2V434.0" stroke="#4A4F5A" stroke-width="0.4"/>
<rect x="92.0" y="231.6" width="55.2" height="3.5" fill="#0B4A94"/>
<rect x="147.5" y="231.6" width="45.9" height="3.5" fill="#A55CB5"/>
<rect x="193.7" y="231.6" width="43.7" height="3.5" fill="#1A9DBF"/>
<rect x="237.7" y="231.6" width="25.7" height="3.5" fill="#28C9B0"/>
<rect x="263.7" y="231.6" width="15.8" height="3.5" fill="#1FB040"/>
<rect x="279.8" y="231.6" width="6.5" height="3.5" fill="#F5DC28"/>
<rect x="286.6" y="231.6" width="2.5" height="3.5" fill="#F59A30"/>
<text x="91.0" y="244.3" font-size="6.6" text-anchor="end" font-weight="normal" font-style="italic" fill="#3a3a3a">LOC105437721</text>
<text x="91.0" y="249.8" font-size="6.6" text-anchor="end" font-weight="normal" font-style="italic" fill="#3a3a3a">SM37</text>
<text x="91.0" y="255.4" font-size="6.6" text-anchor="end" font-weight="normal" font-style="italic" fill="#3a3a3a">LOC105438292</text>
<text x="91.0" y="261.0" font-size="6.6" text-anchor="end" font-weight="normal" font-style="italic" fill="#3a3a3a">LOC115927989</text>
<text x="91.0" y="266.5" font-size="6.6" text-anchor="end" font-weight="normal" font-style="italic" fill="#3a3a3a">LOC115919110</text>
<text x="91.0" y="272.1" font-size="6.6" text-anchor="end" font-weight="normal" font-style="italic" fill="#3a3a3a">Isoform0022575</text>
<text x="91.0" y="277.7" font-size="6.6" text-anchor="end" font-weight="normal" font-style="italic" fill="#3a3a3a">Isoform0014753</text>
<text x="91.0" y="283.2" font-size="6.6" text-anchor="end" font-weight="normal" font-style="italic" fill="#3a3a3a">Isoform0007042</text>
<text x="91.0" y="288.8" font-size="6.6" text-anchor="end" font-weight="normal" font-style="italic" fill="#3a3a3a">P2x7-i</text>
<text x="91.0" y="294.4" font-size="6.6" text-anchor="end" font-weight="normal" font-style="italic" fill="#3a3a3a">Gpr21</text>
<text x="91.0" y="299.9" font-size="6.6" text-anchor="end" font-weight="normal" font-style="italic" fill="#3a3a3a">Gltpd2</text>
<text x="91.0" y="305.5" font-size="6.6" text-anchor="end" font-weight="normal" font-style="italic" fill="#3a3a3a">NF-6</text>
<text x="91.0" y="311.1" font-size="6.6" text-anchor="end" font-weight="normal" font-style="italic" fill="#3a3a3a">Tll-1</text>
<text x="91.0" y="316.6" font-size="6.6" text-anchor="end" font-weight="normal" font-style="italic" fill="#3a3a3a">Tgfbi</text>
<text x="91.0" y="322.2" font-size="6.6" text-anchor="end" font-weight="normal" font-style="italic" fill="#3a3a3a">Hebp2</text>
<text x="91.0" y="327.8" font-size="6.6" text-anchor="end" font-weight="normal" font-style="italic" fill="#3a3a3a">LOC115921771</text>
<text x="91.0" y="333.3" font-size="6.6" text-anchor="end" font-weight="normal" font-style="italic" fill="#3a3a3a">LOC115921771</text>
<text x="91.0" y="338.9" font-size="6.6" text-anchor="end" font-weight="normal" font-style="italic" fill="#3a3a3a">LOC115921771</text>
<text x="91.0" y="344.5" font-size="6.6" text-anchor="end" font-weight="normal" font-style="italic" fill="#3a3a3a">LOC115927989</text>
<text x="91.0" y="350.0" font-size="6.6" text-anchor="end" font-weight="normal" font-style="italic" fill="#3a3a3a">Hyalin</text>
<text x="91.0" y="355.6" font-size="6.6" text-anchor="end" font-weight="normal" font-style="italic" fill="#3a3a3a">Cdx2</text>
<text x="91.0" y="361.2" font-size="6.6" text-anchor="end" font-weight="normal" font-style="italic" fill="#3a3a3a">Orct2</text>
<text x="91.0" y="366.7" font-size="6.6" text-anchor="end" font-weight="normal" font-style="italic" fill="#3a3a3a">Lvn1.2-i</text>
<text x="91.0" y="372.3" font-size="6.6" text-anchor="end" font-weight="normal" font-style="italic" fill="#3a3a3a">Malrd1</text>
<text x="91.0" y="377.9" font-size="6.6" text-anchor="end" font-weight="normal" font-style="italic" fill="#3a3a3a">Cryab-i</text>
<text x="91.0" y="383.4" font-size="6.6" text-anchor="end" font-weight="normal" font-style="italic" fill="#3a3a3a">Cellulase</text>
<text x="91.0" y="389.0" font-size="6.6" text-anchor="end" font-weight="normal" font-style="italic" fill="#3a3a3a">Tmprss3</text>
<text x="91.0" y="394.6" font-size="6.6" text-anchor="end" font-weight="normal" font-style="italic" fill="#3a3a3a">Pnlip</text>
<text x="91.0" y="400.1" font-size="6.6" text-anchor="end" font-weight="normal" font-style="italic" fill="#3a3a3a">DNAse1</text>
<text x="91.0" y="405.7" font-size="6.6" text-anchor="end" font-weight="normal" font-style="italic" fill="#3a3a3a">Amy</text>
<text x="91.0" y="411.3" font-size="6.6" text-anchor="end" font-weight="normal" font-style="italic" fill="#3a3a3a">Pcsk9</text>
<text x="91.0" y="416.8" font-size="6.6" text-anchor="end" font-weight="normal" font-style="italic" fill="#3a3a3a">Pstl</text>
<text x="91.0" y="422.4" font-size="6.6" text-anchor="end" font-weight="normal" font-style="italic" fill="#3a3a3a">Pstl</text>
<text x="91.0" y="428.0" font-size="6.6" text-anchor="end" font-weight="normal" font-style="italic" fill="#3a3a3a">Pstl</text>
<text x="91.0" y="433.5" font-size="6.6" text-anchor="end" font-weight="normal" font-style="italic" fill="#3a3a3a">Amy</text>
<text x="292.0" y="278.2" font-size="6.9" text-anchor="start" font-weight="normal" font-style="normal" fill="#111">Expression</text>
<defs><linearGradient id="eg" x1="0" y1="0" x2="0" y2="1"><stop offset="0" stop-color="#F02A1A"/><stop offset="0.22" stop-color="#F07A62"/><stop offset="0.5" stop-color="#CFCFD6"/><stop offset="0.75" stop-color="#8A9EC2"/><stop offset="1" stop-color="#1F5A9C"/></linearGradient></defs>
<rect x="292" y="280.3" width="7.1" height="39.4" fill="url(#eg)"/>
<text x="301.0" y="287.8" font-size="6.9" text-anchor="start" font-weight="normal" font-style="normal" fill="#111">2</text>
<text x="301.0" y="295.4" font-size="6.9" text-anchor="start" font-weight="normal" font-style="normal" fill="#111">1</text>
<text x="301.0" y="302.6" font-size="6.9" text-anchor="start" font-weight="normal" font-style="normal" fill="#111">0</text>
<text x="301.0" y="309.8" font-size="6.9" text-anchor="start" font-weight="normal" font-style="normal" fill="#111">−1</text>
<text x="301.0" y="317.6" font-size="6.9" text-anchor="start" font-weight="normal" font-style="normal" fill="#111">−2</text>
<text x="292.0" y="333.6" font-size="6.9" text-anchor="start" font-weight="normal" font-style="normal" fill="#111">Identity</text>
<circle cx="295.5" cy="340.4" r="0.9" fill="#1A3F8F"/>
<text x="301.5" y="342.8" font-size="6.9" text-anchor="start" font-weight="normal" font-style="normal" fill="#111">0</text>
<circle cx="295.5" cy="348.3" r="0.9" fill="#9B4FA5"/>
<text x="301.5" y="350.7" font-size="6.9" text-anchor="start" font-weight="normal" font-style="normal" fill="#111">1</text>
<circle cx="295.5" cy="356.2" r="0.9" fill="#1F9EC0"/>
<text x="301.5" y="358.6" font-size="6.9" text-anchor="start" font-weight="normal" font-style="normal" fill="#111">2</text>
<circle cx="295.5" cy="364.1" r="0.9" fill="#3FD0B8"/>
<text x="301.5" y="366.5" font-size="6.9" text-anchor="start" font-weight="normal" font-style="normal" fill="#111">3</text>
<circle cx="295.5" cy="372.0" r="0.9" fill="#22A83C"/>
<text x="301.5" y="374.4" font-size="6.9" text-anchor="start" font-weight="normal" font-style="normal" fill="#111">4</text>
<circle cx="295.5" cy="379.9" r="0.9" fill="#F2DC20"/>
<text x="301.5" y="382.3" font-size="6.9" text-anchor="start" font-weight="normal" font-style="normal" fill="#111">5</text>
<circle cx="295.5" cy="387.8" r="0.9" fill="#F8A040"/>
<text x="301.5" y="390.2" font-size="6.9" text-anchor="start" font-weight="normal" font-style="normal" fill="#111">6</text>
<path d="M410.5 294.5h0M410.7 294.8h0M410.0 289.2h0M409.7 284.8h0M409.9 281.1h0M410.0 286.7h0M409.8 288.0h0M409.8 281.1h0M409.9 280.2h0M410.8 298.6h0M410.4 291.7h0M409.5 284.4h0M410.0 288.1h0M410.9 297.3h0M411.1 296.5h0M411.0 295.5h0M409.9 287.6h0" stroke="#12B36E" stroke-width="1.7" stroke-linecap="round" fill="none"/>
<path d="M408.8 302.6h0M419.2 329.7h0M424.1 333.8h0M422.9 341.3h0M419.8 327.1h0M424.0 340.8h0M420.0 330.8h0M423.5 339.3h0M417.6 329.9h0M421.5 337.2h0" stroke="#1FA9E6" stroke-width="1.7" stroke-linecap="round" fill="none"/>
<path d="M411.9 297.9h0M411.3 293.1h0M412.3 298.5h0M411.3 294.0h0M411.8 298.3h0M413.0 313.3h0M411.2 310.1h0M412.4 314.0h0M410.8 309.2h0M412.4 310.1h0M412.8 314.4h0M411.4 310.6h0M412.2 313.6h0M419.9 336.8h0M422.3 343.6h0M422.6 344.6h0M417.3 328.9h0M423.0 344.0h0M417.2 323.7h0M421.4 341.1h0M415.8 323.7h0M418.0 330.0h0M414.4 320.8h0M421.1 342.2h0M421.6 342.8h0M416.0 324.3h0M419.6 333.0h0M416.4 325.4h0M417.2 334.3h0M420.1 333.4h0M416.1 321.5h0M420.7 342.4h0M417.5 326.9h0M417.9 331.9h0M413.7 320.8h0M414.2 318.5h0M415.6 324.7h0M418.2 328.5h0M421.5 345.4h0M421.5 343.1h0M417.9 331.2h0M417.7 330.7h0M419.0 338.2h0M421.5 341.9h0M417.8 326.7h0M421.1 340.1h0M416.8 329.9h0M418.2 336.0h0M420.3 338.3h0M417.8 333.1h0M419.4 338.3h0M418.7 337.5h0M415.9 319.0h0" stroke="#F5B03A" stroke-width="1.7" stroke-linecap="round" fill="none"/>
<path d="M414.2 317.0h0M414.7 319.5h0M420.1 340.9h0M414.6 320.4h0M416.6 327.0h0M420.9 339.7h0M415.5 321.2h0M417.3 327.9h0M420.5 337.0h0M414.8 317.2h0M414.2 318.8h0M420.4 340.1h0M419.0 333.9h0M415.4 322.7h0M417.5 330.1h0M416.5 323.2h0" stroke="#12B36E" stroke-width="1.7" stroke-linecap="round" fill="none"/>
<path d="M446.1 351.4h0M467.8 351.4h0M428.4 352.9h0M427.1 350.8h0M430.6 352.1h0M457.3 350.0h0M463.9 353.2h0M431.1 354.0h0M461.6 352.3h0M437.3 353.7h0M449.3 353.0h0M459.5 352.5h0M430.3 352.8h0M446.0 353.5h0M462.3 352.1h0M441.6 353.9h0M461.3 353.8h0M444.1 352.4h0M466.6 352.0h0M442.8 353.2h0M462.1 351.3h0M429.4 350.4h0M441.7 354.4h0M433.4 352.5h0M444.5 353.1h0M444.9 354.2h0M435.3 353.0h0M443.8 353.8h0M456.9 352.9h0M451.6 354.2h0M436.5 354.8h0M455.4 352.1h0M455.4 353.7h0M445.0 353.6h0M446.4 353.8h0M433.1 353.6h0M462.3 353.0h0M439.9 352.7h0M439.0 354.1h0M467.8 352.9h0M440.7 353.6h0M434.5 355.8h0M442.4 353.1h0M447.6 353.8h0M454.0 352.8h0M444.9 353.2h0M455.5 352.0h0M427.2 351.3h0M466.8 351.8h0M445.6 353.0h0M478.0 352.6h0M510.4 345.2h0M484.2 347.5h0M503.7 345.2h0M490.2 347.0h0M502.9 346.3h0M507.8 347.0h0M503.7 348.6h0M475.3 351.1h0M508.3 344.7h0M472.7 351.0h0M499.2 346.4h0M471.3 350.7h0M482.6 349.7h0M475.0 350.8h0M494.1 345.3h0M483.4 350.4h0M491.4 346.9h0M476.4 348.8h0M483.3 349.6h0M508.1 344.6h0M491.9 349.9h0M490.6 348.8h0M500.7 346.6h0M511.9 343.6h0M483.4 348.8h0M473.7 352.2h0M480.0 349.1h0M475.5 351.8h0M484.7 345.6h0M502.3 346.6h0M500.1 347.4h0M477.1 351.5h0M477.4 350.6h0M484.1 350.6h0M505.3 344.4h0M491.7 346.6h0M490.0 347.8h0M480.6 351.5h0M490.9 348.2h0M495.0 346.9h0M484.4 349.8h0M494.7 347.9h0M499.8 344.4h0M483.7 345.0h0M490.5 346.8h0M477.0 348.6h0M480.9 349.1h0M469.7 349.6h0M473.3 350.0h0M473.9 351.7h0M507.2 345.4h0M502.6 346.3h0M495.2 349.8h0M501.3 345.3h0M475.8 350.0h0M486.5 351.1h0M494.1 345.7h0M506.4 343.2h0M492.0 349.6h0M473.7 351.4h0M472.3 352.3h0M479.2 351.4h0M480.0 354.1h0M475.9 352.6h0M477.1 351.0h0M474.0 349.4h0M477.7 350.7h0M478.0 352.9h0M476.0 355.6h0M479.3 354.0h0M486.2 349.7h0M473.9 351.3h0M479.8 352.4h0M480.2 352.0h0M480.6 352.4h0M475.0 354.0h0M481.0 352.7h0M479.3 350.7h0M477.0 347.9h0M476.4 351.4h0M478.1 348.5h0M480.2 351.8h0M480.1 352.8h0M484.3 349.1h0M476.4 351.7h0M479.3 351.3h0" stroke="#1FA9E6" stroke-width="1.7" stroke-linecap="round" fill="none"/>
<path d="M444.2 355.1h0M432.0 354.3h0M444.2 352.7h0M437.0 351.6h0M456.8 353.5h0M431.0 352.4h0M447.0 353.4h0M441.9 353.2h0M460.9 353.3h0M452.7 354.4h0M446.7 354.1h0M429.9 352.9h0M429.7 352.8h0M449.4 353.9h0M464.1 351.0h0M428.4 353.3h0M441.3 353.4h0M440.1 353.9h0M425.6 351.8h0M451.7 354.0h0M445.2 354.4h0M445.2 355.3h0M458.7 352.3h0M450.5 352.6h0M435.5 353.9h0M463.7 351.6h0M462.2 353.0h0M454.0 352.4h0M430.5 352.9h0M450.7 354.0h0M424.8 352.3h0M435.0 353.9h0M443.6 354.8h0M443.7 354.6h0M456.1 351.4h0M446.9 353.8h0M450.8 353.4h0M444.7 353.4h0M455.5 352.4h0M431.4 353.5h0" stroke="#12B36E" stroke-width="1.7" stroke-linecap="round" fill="none"/>
<path d="M431.7 352.0h0M449.9 354.1h0M437.4 352.9h0M441.4 351.9h0M462.3 353.2h0M443.2 353.8h0M461.5 352.4h0M424.4 351.2h0M471.6 350.2h0M468.9 350.6h0M455.5 352.9h0M434.0 354.0h0M455.7 353.1h0M433.0 353.4h0M441.5 352.7h0M426.1 351.0h0M427.8 352.6h0M431.7 354.4h0M433.1 353.0h0M464.0 351.3h0M436.4 354.2h0M464.2 352.3h0M425.6 351.2h0M427.0 350.5h0M427.2 351.3h0M469.1 350.6h0M463.2 352.0h0M425.7 349.4h0M466.8 352.0h0M433.1 353.5h0M437.3 353.5h0M452.6 351.6h0M435.3 353.2h0M471.4 351.7h0M442.1 351.8h0M451.7 352.9h0M450.6 353.2h0M438.6 352.6h0M459.0 352.8h0M472.0 350.3h0M453.0 353.5h0M428.9 352.4h0M463.7 352.0h0M455.8 353.9h0M447.5 353.5h0M455.0 353.4h0M436.6 352.2h0M440.3 352.6h0M448.7 353.4h0M429.0 352.4h0M453.1 352.5h0M433.7 353.9h0M437.2 352.3h0M466.5 351.4h0M452.8 351.6h0M437.4 353.5h0M457.2 351.9h0M471.8 350.0h0M466.6 351.3h0M462.8 353.4h0" stroke="#F5B03A" stroke-width="1.7" stroke-linecap="round" fill="none"/>
<path d="M417.3 352.6h0M411.8 366.5h0M416.2 356.1h0M418.5 355.2h0M410.2 371.2h0M411.8 366.3h0M411.6 370.2h0M411.6 368.3h0M415.2 360.2h0M417.4 353.6h0M412.5 365.2h0M414.2 362.9h0M412.3 366.1h0M413.3 365.9h0" stroke="#12B36E" stroke-width="1.7" stroke-linecap="round" fill="none"/>
<path d="M412.2 368.0h0M420.2 353.1h0M418.1 353.5h0M411.3 370.2h0M412.3 365.3h0M411.5 369.9h0M421.3 353.2h0M414.0 361.0h0" stroke="#1FA9E6" stroke-width="1.7" stroke-linecap="round" fill="none"/>
<path d="M420.1 349.6h0M418.4 353.2h0M421.0 351.6h0M418.0 353.2h0M418.1 356.1h0M420.0 352.2h0M412.8 364.4h0M412.8 362.8h0M412.3 364.7h0M410.6 372.3h0M416.6 355.3h0M417.1 356.1h0M415.9 357.8h0M411.8 368.3h0M411.4 364.6h0M411.2 365.4h0M418.2 354.5h0M420.2 353.1h0M414.3 360.5h0M411.2 370.8h0M415.5 356.1h0M412.2 367.3h0M412.4 365.5h0" stroke="#F5B03A" stroke-width="1.7" stroke-linecap="round" fill="none"/>
<path d="M411.8 373.4h0M407.5 375.5h0M408.5 372.2h0M409.0 373.8h0M409.0 377.2h0M408.9 372.5h0M409.6 375.2h0M409.0 372.5h0" stroke="#12B36E" stroke-width="1.7" stroke-linecap="round" fill="none"/>
<path d="M409.8 373.3h0M410.5 374.4h0M409.9 375.3h0M410.0 372.5h0M408.7 371.5h0M408.5 376.5h0M409.5 373.9h0M410.9 375.1h0M410.3 375.3h0M411.1 375.0h0M411.0 373.0h0M411.2 373.3h0" stroke="#1FA9E6" stroke-width="1.7" stroke-linecap="round" fill="none"/>
<path d="M408.8 370.4h0M411.3 373.9h0M410.7 372.6h0M412.3 373.5h0M410.5 377.2h0M410.2 374.9h0M409.7 373.6h0M410.0 370.8h0M407.8 375.0h0M409.5 376.5h0" stroke="#F5B03A" stroke-width="1.7" stroke-linecap="round" fill="none"/>
<path d="M433.5 370.0h0M478.2 380.0h0M474.0 356.2h0M500.0 339.0h0" stroke="#1FA9E6" stroke-width="1.7" stroke-linecap="round" fill="none"/>
<path d="M476.6 363.4h0M409.4 279.3h0" stroke="#12B36E" stroke-width="1.7" stroke-linecap="round" fill="none"/>
<path d="M415.8 317.3L419.5 335.0L423.4 348.0" fill="none" stroke="#111" stroke-width="1.5" stroke-linejoin="round" stroke-linecap="round"/>
<path d="M423.4 348.0L427.0 350.5L432.0 351.8L445.0 351.6L460.0 351.0L472.0 350.3" fill="none" stroke="#111" stroke-width="1.5" stroke-linejoin="round" stroke-linecap="round"/>
<path d="M423.4 348.0L419.0 352.5L415.8 356.3L413.5 363.0L410.4 369.3" fill="none" stroke="#111" stroke-width="1.5" stroke-linejoin="round" stroke-linecap="round"/>
<circle cx="423.4" cy="347.5" r="1.8" fill="#fff" stroke="#111" stroke-width="0.8"/>
<circle cx="415.8" cy="356.3" r="1.9" fill="#666" stroke="#111" stroke-width="0.9"/>
<path d="M406.3 385.8H482" stroke="#111" stroke-width="0.7"/>
<path d="M485 385.8l-4.6 -2.1v4.2z" fill="#111"/>
<text x="444.6" y="397.5" font-size="8.0" text-anchor="middle" font-weight="normal" font-style="normal" fill="#222">pseudotime</text>
<rect x="472.4" y="279.2" width="3.8" height="3.8" fill="#12B36E"/>
<text x="479.0" y="284.0" font-size="8.3" text-anchor="start" font-weight="normal" font-style="normal" fill="#222">subpopulation 0</text>
<rect x="472.4" y="295.3" width="3.8" height="3.8" fill="#F5B03A"/>
<text x="479.0" y="300.1" font-size="8.3" text-anchor="start" font-weight="normal" font-style="normal" fill="#222">subpopulation 3</text>
<rect x="472.4" y="311.4" width="3.8" height="3.8" fill="#1FA9E6"/>
<text x="479.0" y="316.2" font-size="8.3" text-anchor="start" font-weight="normal" font-style="normal" fill="#222">subpopulation 5</text>
<path d="M130.5 593.5h0M136.2 594.5h0M119.0 594.3h0M112.0 593.6h0M125.5 594.0h0M101.2 594.4h0M123.4 593.5h0M138.1 593.7h0M140.1 593.2h0M103.7 592.8h0M105.4 593.0h0M144.5 593.8h0M128.5 594.6h0M152.0 593.3h0M157.0 592.8h0M158.5 592.6h0M121.5 593.5h0M114.3 604.4h0M104.6 598.0h0M104.5 603.3h0M118.1 606.0h0M105.6 601.6h0M113.7 600.3h0M121.5 605.4h0M117.2 604.1h0M123.1 596.8h0M118.1 606.4h0M115.2 598.7h0M108.9 596.4h0M127.3 604.1h0M122.7 602.2h0M123.3 605.6h0M107.9 598.2h0M103.0 603.4h0M107.6 602.7h0M120.6 600.5h0M112.1 604.1h0M102.3 601.5h0M117.2 599.0h0M111.7 604.3h0M111.7 604.7h0M106.4 595.6h0M118.6 600.1h0M112.0 607.0h0M113.5 610.5h0M110.5 603.0h0" stroke="#1FA9E6" stroke-width="1.5" stroke-linecap="round" fill="none"/>
<path d="M41.2 535.6h0M45.8 532.7h0M38.8 532.7h0M46.2 537.1h0M47.6 538.8h0M42.0 537.7h0M46.2 533.9h0M45.6 533.8h0M42.9 534.7h0M41.0 535.4h0M37.3 533.0h0M49.0 537.1h0M43.4 538.0h0M52.4 540.3h0M46.8 537.4h0M45.7 533.7h0M42.0 534.5h0M48.5 539.0h0M41.7 538.0h0M48.8 540.4h0M43.3 533.3h0M44.9 535.3h0M39.5 531.9h0M54.1 531.0h0M44.4 533.5h0M43.8 531.5h0M45.9 540.5h0M40.6 536.7h0M47.1 535.4h0M39.9 535.4h0M45.6 537.8h0M39.2 539.8h0M37.1 536.6h0M40.9 539.6h0M38.6 536.2h0M45.1 540.1h0M43.1 540.0h0M45.2 539.1h0M44.3 536.5h0M42.1 538.8h0M44.3 535.3h0M46.7 540.9h0M43.5 535.5h0M41.8 533.9h0M39.4 540.2h0M43.5 535.1h0M41.3 536.1h0M51.2 535.3h0M40.3 533.5h0M40.4 534.5h0M43.6 533.6h0M45.5 540.0h0M43.5 534.3h0M41.5 532.3h0M40.5 538.4h0M42.3 537.8h0M48.9 531.3h0M40.9 534.0h0M43.0 538.7h0M42.4 533.8h0M45.3 535.9h0M45.5 536.1h0M40.3 529.3h0M52.9 536.2h0M44.2 538.4h0M41.3 539.5h0M40.9 535.3h0M43.2 535.8h0M43.7 537.8h0M46.0 537.3h0M43.7 537.6h0M46.2 534.6h0M38.4 535.0h0M41.0 537.0h0M40.1 537.0h0M45.6 532.6h0M45.1 538.8h0M38.8 535.3h0M43.3 536.6h0M47.7 532.5h0M47.2 537.3h0M41.1 531.4h0M47.6 530.5h0M45.1 536.9h0M42.5 536.0h0M50.8 538.3h0M40.0 535.8h0M43.0 536.1h0M44.9 539.5h0M44.3 538.6h0M42.3 540.3h0M47.2 544.0h0M48.5 539.6h0M46.6 539.2h0M46.2 542.1h0M44.3 534.2h0M40.1 534.6h0M51.4 539.0h0M41.6 531.6h0M51.1 540.8h0M42.5 540.3h0M45.6 533.4h0M43.9 534.2h0M46.7 539.5h0M41.3 539.4h0M51.5 533.9h0M45.5 538.2h0M44.7 536.0h0M43.2 531.2h0M45.2 535.5h0M44.3 534.9h0M50.6 538.3h0M47.2 537.3h0M38.7 534.2h0M49.4 537.3h0M35.8 533.8h0M49.0 539.0h0M36.8 537.1h0M43.4 538.7h0M47.4 534.8h0M44.5 534.3h0M40.6 533.6h0M47.4 541.0h0M37.5 535.9h0M39.4 533.1h0M49.6 534.6h0M41.6 533.0h0M44.8 536.6h0M47.5 534.2h0M43.6 536.2h0M44.1 539.9h0M44.6 535.8h0M44.2 538.6h0M49.1 533.5h0M47.0 538.0h0M44.9 537.3h0M47.8 534.8h0M41.2 539.3h0M41.3 535.6h0M40.9 533.7h0M46.9 536.3h0M49.1 540.1h0M45.2 532.9h0M37.0 534.9h0M42.8 533.4h0M45.5 537.3h0M45.4 535.2h0M44.4 536.2h0M47.0 539.1h0M47.2 537.2h0M39.0 536.5h0M45.1 538.4h0M41.2 536.7h0M44.7 537.1h0M48.3 537.5h0M50.0 539.5h0M45.7 540.0h0M41.1 540.5h0M41.6 540.4h0M46.5 534.3h0M40.4 536.2h0M43.4 537.5h0M45.3 539.9h0M46.5 539.8h0M43.9 532.4h0M45.1 537.3h0M49.9 533.2h0M45.4 535.4h0M38.6 532.4h0M45.1 534.9h0M43.9 540.5h0M42.9 534.6h0M44.5 535.1h0M38.8 535.3h0M47.7 540.1h0M46.6 532.4h0M41.1 539.9h0M45.3 534.6h0M45.1 533.9h0M40.9 535.8h0M34.3 535.6h0M32.3 540.6h0M50.5 540.4h0M40.5 533.8h0M43.1 535.5h0M46.6 534.4h0M42.3 537.6h0M47.6 539.4h0M40.9 534.6h0M45.2 539.6h0M37.8 530.2h0M46.8 535.7h0M47.0 534.6h0M45.7 535.1h0M46.1 532.4h0M44.3 538.9h0M47.6 534.6h0M47.4 536.8h0M40.0 538.4h0M46.7 541.3h0M39.9 538.4h0M46.0 530.8h0M43.3 535.3h0M45.9 535.8h0M43.3 534.2h0M45.9 534.6h0M42.7 534.4h0M40.3 536.9h0M48.0 536.1h0M46.9 533.4h0M46.8 532.7h0M47.3 537.5h0M41.4 531.0h0M46.7 538.9h0M40.6 534.1h0M45.7 535.3h0M43.2 536.7h0M45.2 535.6h0M46.0 538.7h0M44.9 533.1h0M42.0 530.9h0M46.0 542.1h0M48.0 537.8h0M48.1 530.4h0M46.5 541.5h0M38.8 531.1h0M42.9 541.5h0M42.4 540.8h0M36.6 536.8h0M44.4 536.4h0M37.1 534.7h0M41.1 533.0h0M38.1 534.0h0M41.4 530.4h0M38.4 527.2h0M35.5 534.4h0M37.5 536.2h0M39.1 533.4h0M37.9 531.4h0M39.3 532.6h0M37.0 534.7h0M42.6 530.4h0M37.9 532.6h0M40.2 533.6h0M35.3 530.7h0M40.8 536.3h0M42.4 534.0h0M40.4 535.5h0M38.5 530.6h0M37.0 532.9h0M40.4 535.3h0M40.3 533.3h0M36.2 534.8h0M39.1 529.2h0M40.2 532.4h0M37.3 528.9h0M40.4 531.6h0M38.4 533.0h0M42.2 532.3h0M36.2 530.2h0M40.2 533.0h0M39.3 533.7h0M34.9 532.3h0M37.0 534.0h0M37.1 534.6h0M41.1 534.7h0M38.2 531.9h0M39.0 533.4h0M39.4 531.4h0M44.7 532.3h0M38.5 534.4h0M43.3 532.3h0M38.6 531.7h0M35.5 531.4h0M37.2 533.4h0M36.3 535.4h0M38.2 534.2h0M35.8 532.1h0M37.0 533.9h0M43.2 534.2h0M39.5 535.1h0M39.8 531.3h0M43.0 533.6h0M35.4 531.8h0M40.3 531.5h0M38.0 534.8h0M38.9 533.5h0M37.5 532.6h0M39.3 535.0h0M41.7 532.8h0M56.2 542.4h0M61.0 544.0h0M57.7 539.3h0M57.4 540.2h0M58.3 541.3h0M57.3 544.6h0M62.5 541.3h0M58.4 541.5h0M54.4 540.3h0M57.9 541.0h0M60.8 541.0h0M58.3 543.0h0M60.2 539.6h0M54.4 543.6h0M61.3 535.9h0M63.0 538.5h0M60.8 542.6h0M56.8 541.6h0M57.2 541.4h0M57.7 539.1h0M61.9 542.5h0M57.6 540.6h0M59.8 539.5h0M57.9 539.7h0M58.3 538.5h0M57.9 543.6h0M61.2 543.5h0M58.5 539.9h0M62.8 542.4h0M59.8 540.6h0M61.6 541.9h0M65.3 545.4h0M65.4 543.9h0M60.7 540.9h0M59.3 542.4h0M59.3 541.0h0M61.2 542.5h0M54.8 539.2h0M58.0 540.2h0M60.3 539.2h0M57.9 540.0h0M55.8 542.5h0M63.6 541.6h0M56.8 538.0h0M58.9 540.1h0M58.5 540.0h0M56.9 543.6h0M57.2 539.5h0M60.1 544.8h0M58.4 542.9h0M63.0 545.3h0M55.5 540.9h0M59.4 542.4h0M55.8 540.8h0M58.8 544.2h0M64.5 539.2h0M56.3 540.7h0M60.7 545.1h0M58.2 539.2h0M56.7 539.9h0M59.4 543.6h0M63.2 539.1h0M59.5 542.3h0M61.4 539.8h0M59.2 541.9h0M57.9 541.5h0M54.0 539.1h0M59.7 539.1h0M57.8 540.6h0M61.5 541.0h0M57.1 541.0h0M64.8 543.5h0M61.9 540.7h0M57.5 542.8h0M62.4 540.0h0M59.4 540.2h0M61.5 545.3h0M58.1 541.6h0M62.1 545.1h0M57.9 538.1h0M59.6 542.0h0M60.3 539.7h0M59.2 536.9h0M58.1 542.2h0M60.6 539.5h0M56.5 540.1h0M58.4 538.5h0M60.1 543.2h0M57.0 541.6h0M64.5 541.7h0M64.5 541.7h0M61.2 535.7h0M60.9 541.1h0M61.1 541.7h0M62.1 541.0h0M57.5 542.1h0M61.4 542.3h0M58.2 540.8h0M59.9 540.1h0M64.2 540.2h0M59.3 541.5h0M56.3 541.8h0M56.8 543.1h0M60.1 542.3h0M59.0 538.0h0M57.5 539.5h0M59.7 542.0h0M58.4 538.1h0M65.1 543.6h0M58.6 539.3h0M62.1 540.8h0M57.0 537.5h0M58.4 541.6h0M61.0 543.6h0M59.5 544.6h0M61.4 541.8h0M58.0 540.8h0M61.8 538.4h0M58.7 541.8h0M54.6 542.2h0M63.2 541.5h0M57.3 541.5h0M59.5 540.2h0M61.1 543.6h0M60.4 543.8h0M67.4 542.2h0M60.3 539.6h0M63.9 542.0h0M59.5 540.9h0M58.2 544.1h0M52.1 538.6h0M52.4 541.3h0M52.5 540.5h0M50.0 542.3h0M55.2 540.4h0M53.5 542.0h0M54.3 540.8h0M52.8 540.4h0M47.9 539.5h0M53.6 540.9h0M50.1 540.2h0M49.2 538.9h0M60.1 539.2h0M54.7 536.5h0M50.7 542.1h0M54.5 542.1h0M55.3 539.2h0M52.7 537.7h0M50.8 541.3h0M54.9 542.1h0M54.3 540.0h0M54.1 538.8h0M47.0 542.3h0M53.3 541.6h0M58.2 541.9h0M48.7 543.5h0M50.8 540.0h0M49.6 540.3h0M50.5 543.7h0M51.5 541.6h0M58.1 544.5h0M51.1 535.3h0M56.8 537.2h0M49.1 541.1h0M53.9 540.8h0M51.8 537.9h0M50.7 538.3h0M52.8 538.4h0M56.0 541.1h0M53.2 537.4h0M54.0 539.6h0M52.3 538.5h0M53.5 534.5h0M53.3 540.4h0M54.5 543.2h0M51.7 539.5h0M50.2 541.2h0M50.6 540.0h0M50.6 539.5h0M53.7 536.8h0M70.0 561.7h0M65.3 546.3h0M73.8 561.5h0M68.1 559.5h0M72.7 558.2h0M76.4 562.0h0M64.0 551.3h0M73.7 562.5h0M74.7 561.3h0M77.0 566.0h0M72.4 563.6h0M69.2 563.5h0M67.9 560.9h0M70.6 552.5h0M74.2 563.5h0M71.7 560.7h0M69.0 555.4h0M65.3 556.8h0M69.0 548.6h0M72.3 568.2h0M65.1 549.4h0M66.6 551.1h0M66.4 550.1h0M71.6 562.9h0M63.5 548.1h0M74.8 559.7h0M70.6 554.1h0M73.3 559.4h0M65.2 548.5h0M65.7 549.5h0M72.4 561.4h0M64.8 550.3h0M65.8 555.4h0M71.3 563.9h0M75.6 562.3h0M67.2 551.1h0M72.6 556.7h0M65.9 555.2h0M62.3 551.1h0M64.9 548.8h0M71.3 558.0h0M73.7 561.2h0M67.9 550.2h0M61.6 545.3h0M72.2 565.9h0M61.2 546.7h0M67.8 547.9h0M64.1 546.8h0M73.6 567.2h0M65.0 544.6h0M69.9 549.9h0M70.5 558.0h0M69.7 555.5h0M64.5 548.1h0M71.9 557.6h0M71.9 553.5h0M68.4 557.3h0M69.3 561.0h0M69.4 557.1h0M66.4 552.8h0M61.2 548.4h0M62.9 547.1h0M70.9 560.6h0M70.6 561.5h0M70.3 555.5h0M65.9 550.2h0M65.0 548.8h0M70.2 550.8h0M69.6 562.3h0M69.1 555.4h0M98.0 557.7h0M95.0 558.0h0M92.4 557.5h0M91.5 558.3h0M98.3 556.6h0M97.7 554.6h0M92.2 556.9h0M90.5 557.1h0M90.3 560.7h0M96.9 559.4h0M93.4 558.3h0M99.1 556.9h0M93.3 555.8h0M93.6 556.6h0M93.7 558.5h0M96.0 557.4h0M98.9 556.0h0M91.9 558.0h0M96.5 556.6h0M98.1 558.4h0M94.0 560.7h0M93.4 559.0h0M97.3 553.7h0M92.9 559.4h0M93.7 556.8h0M92.0 558.1h0M93.1 558.2h0M95.2 558.0h0M95.4 554.8h0M93.9 559.7h0M94.7 556.1h0M91.1 556.2h0M99.8 558.0h0M91.6 558.8h0M95.8 556.7h0M92.3 555.1h0M94.4 558.3h0M89.1 557.2h0M92.6 559.0h0M91.1 559.6h0M95.2 555.7h0M94.6 555.6h0M91.9 557.4h0M91.8 556.3h0M95.4 560.4h0M93.0 557.8h0M95.8 557.9h0M95.0 558.1h0M93.1 560.1h0M93.6 558.4h0M89.5 559.0h0M94.2 556.6h0M93.7 558.9h0M94.2 557.1h0M98.1 556.8h0M94.7 556.8h0M94.3 559.6h0M94.3 557.2h0M93.2 558.3h0M98.0 557.8h0M94.2 558.5h0M97.6 556.8h0M96.2 555.6h0M92.4 557.2h0M94.9 557.8h0M97.2 556.3h0M93.4 557.6h0M94.6 558.7h0M93.8 554.4h0M93.8 560.0h0M96.4 559.3h0M92.2 558.2h0M93.5 559.6h0M94.8 554.5h0M87.5 558.0h0M93.5 558.3h0M94.6 558.5h0M95.3 558.4h0M92.6 560.6h0M91.9 558.8h0M96.6 556.7h0M92.5 555.4h0M95.5 556.2h0M94.5 557.1h0M92.4 558.0h0M93.1 557.7h0M92.3 558.1h0M96.9 556.8h0M94.8 557.0h0M89.8 558.3h0M99.1 557.3h0M97.9 556.6h0M97.6 556.9h0M92.0 558.4h0M93.0 556.8h0M92.8 557.1h0M98.1 560.5h0M94.6 557.4h0M95.1 558.0h0M93.7 559.4h0M90.7 560.4h0M96.7 558.7h0M100.2 555.6h0M93.6 561.5h0M92.0 556.2h0M92.6 555.8h0M92.7 556.3h0M90.5 560.0h0M93.0 557.5h0M93.5 554.6h0M90.4 560.6h0M95.4 555.1h0M93.2 560.6h0M91.3 553.5h0M94.4 557.4h0M98.5 557.7h0M98.0 556.7h0M97.3 557.5h0M97.3 559.3h0M96.9 557.9h0M96.3 558.8h0M96.7 557.8h0M99.7 557.9h0M93.4 556.7h0M96.6 557.5h0M90.9 559.1h0M96.1 559.4h0M98.0 555.8h0M93.5 556.6h0M98.9 557.9h0M92.0 557.4h0M98.5 556.3h0M93.8 554.3h0M95.4 558.1h0M93.5 556.5h0M96.1 560.9h0M94.0 559.5h0M97.4 558.3h0M94.5 555.5h0M95.1 556.5h0M93.8 559.4h0M95.6 556.4h0M93.2 557.2h0M93.8 558.3h0M90.9 558.6h0M93.2 557.1h0M93.4 558.4h0M94.0 554.9h0M94.6 557.6h0M90.4 557.4h0M96.5 560.3h0M100.2 558.3h0M94.5 554.0h0M89.4 560.1h0M96.5 562.0h0M94.4 558.5h0M93.9 558.7h0M94.8 560.2h0M94.5 557.6h0M93.9 557.6h0M95.9 558.0h0M95.1 552.3h0M93.6 556.7h0M96.3 558.7h0M97.8 558.6h0M97.8 555.2h0M91.9 557.2h0M94.7 556.7h0M96.1 556.4h0M94.9 559.1h0M94.2 556.2h0M97.5 557.2h0M95.4 558.6h0M95.7 556.1h0M90.7 557.5h0M90.8 556.0h0M93.2 557.5h0M95.0 557.4h0M96.9 558.6h0M92.5 556.8h0M98.6 557.1h0M95.0 554.9h0M93.3 556.5h0M96.6 555.8h0M98.3 555.4h0M94.7 556.9h0M94.7 557.5h0M95.3 557.4h0M96.6 559.3h0M94.0 556.6h0M86.0 561.3h0M82.5 559.0h0M90.7 558.3h0M89.7 559.0h0M89.5 560.4h0M86.0 560.8h0M86.4 560.2h0M86.5 555.7h0M84.6 560.0h0M88.9 560.6h0M87.7 561.8h0M91.0 559.9h0M88.4 559.6h0M87.4 560.1h0M89.6 558.6h0M89.7 565.2h0M85.2 558.1h0M83.9 557.5h0M85.0 560.6h0M90.2 560.6h0M89.5 561.6h0M91.3 559.5h0M88.1 558.5h0M88.9 557.8h0M87.0 560.0h0M92.9 560.6h0M89.7 559.8h0M91.9 556.9h0M89.2 556.7h0M86.1 562.7h0M90.5 560.0h0M84.2 559.5h0M90.0 564.4h0M87.7 562.2h0M89.0 556.6h0M85.0 559.2h0M88.2 562.3h0M86.4 561.5h0M85.8 560.7h0M91.5 563.9h0M86.6 568.0h0M90.5 569.3h0M88.1 559.2h0M91.2 568.3h0M88.9 570.8h0M86.1 569.4h0M89.5 566.7h0M84.5 566.8h0M91.0 562.7h0M89.6 569.7h0M91.2 561.8h0M89.6 569.6h0M89.4 568.6h0M91.7 566.5h0M90.5 568.9h0M86.5 570.0h0M88.1 566.2h0M91.8 564.0h0M86.9 569.9h0M86.8 567.3h0M87.5 568.2h0M86.3 564.7h0M89.2 571.2h0M88.6 569.9h0M90.8 564.0h0M88.5 562.7h0M91.9 568.2h0M88.4 567.0h0M90.6 565.8h0M91.1 565.6h0M89.7 567.2h0M88.6 567.9h0M86.6 568.0h0M87.0 571.9h0M89.9 571.6h0M88.2 561.6h0M90.0 569.8h0M87.7 571.1h0M88.9 563.3h0M89.1 565.9h0M90.3 566.4h0M88.3 569.5h0M90.2 568.6h0M86.0 568.3h0M86.6 568.1h0M89.1 570.0h0M88.7 568.4h0M89.8 565.1h0M86.0 565.0h0M89.4 565.9h0M85.9 572.3h0M91.3 568.6h0M87.6 569.5h0M88.1 572.1h0M90.0 568.6h0M89.6 562.4h0M88.0 568.4h0M88.6 566.0h0M92.0 566.2h0M87.3 565.7h0M91.8 567.2h0M88.0 564.4h0M86.8 570.1h0M91.3 569.3h0M90.2 568.7h0M89.2 568.6h0M90.9 564.8h0M88.8 569.9h0M88.3 565.0h0M90.1 563.3h0M89.7 566.7h0M88.0 567.9h0M91.4 568.1h0M90.0 570.4h0M92.1 566.6h0M95.5 570.8h0M87.0 571.7h0M90.3 568.6h0M90.0 565.0h0M87.2 571.2h0M90.2 567.7h0M84.7 568.1h0M87.0 563.9h0M90.6 562.9h0M86.7 571.8h0M87.9 569.8h0M88.9 565.7h0M86.7 566.5h0M87.8 564.5h0M89.7 567.6h0M89.2 562.3h0M88.6 569.8h0M91.4 568.7h0M88.7 570.6h0M90.4 567.9h0M89.2 569.3h0M86.6 568.8h0M87.4 569.0h0M90.0 566.1h0M86.5 570.5h0M89.4 564.2h0M90.2 566.2h0M87.1 567.4h0M85.8 573.6h0M91.0 565.0h0M92.1 568.4h0M89.5 568.7h0M92.1 563.3h0M90.1 573.9h0M88.1 570.3h0M91.5 583.8h0M89.2 574.7h0M94.1 593.6h0M88.8 572.0h0M89.1 570.2h0M90.4 582.1h0M88.7 563.3h0M88.2 573.4h0M96.4 590.7h0M88.6 569.9h0M88.7 578.7h0M94.5 589.6h0M90.1 577.3h0M89.5 579.8h0M84.7 567.8h0M90.2 583.9h0M87.7 578.2h0M91.6 582.3h0M89.1 574.2h0M89.5 562.2h0M89.2 568.5h0M88.4 577.7h0M85.3 570.2h0M89.7 574.4h0M88.5 573.4h0M88.1 573.7h0M86.7 572.3h0M90.4 587.2h0M93.1 564.7h0M88.5 572.7h0M94.5 592.8h0M88.5 573.7h0M86.3 568.3h0M90.4 572.2h0M90.7 568.8h0M93.9 585.9h0M90.2 579.0h0M91.4 586.9h0M91.0 562.9h0M90.4 575.9h0M94.7 589.2h0M90.4 574.0h0M98.3 596.3h0M89.8 574.1h0M93.8 586.6h0M89.4 584.0h0M90.9 561.9h0M88.8 573.2h0M92.0 579.3h0M93.5 596.0h0M91.4 582.8h0M90.4 583.6h0M87.6 564.8h0M93.2 593.2h0M98.2 592.9h0M92.6 590.6h0M86.5 566.4h0M95.9 592.8h0M89.7 575.8h0M87.9 574.7h0M95.9 592.1h0M89.3 580.3h0M88.8 578.2h0M89.1 586.6h0M91.8 586.0h0M94.2 591.9h0M89.4 563.3h0M93.9 583.2h0M88.4 578.0h0M88.7 573.1h0M92.9 588.6h0M90.7 562.1h0M91.6 586.2h0M92.7 589.9h0M91.8 582.0h0M88.5 572.1h0M89.0 563.4h0M93.2 584.9h0M92.6 587.9h0M95.4 592.5h0M90.5 565.9h0M94.2 597.9h0M92.2 583.1h0M89.6 565.0h0M87.4 567.5h0M91.3 581.6h0M90.6 563.4h0M90.1 565.0h0M90.4 566.1h0M88.8 582.1h0M93.7 592.4h0M90.7 577.6h0M91.8 589.3h0M93.9 595.8h0M92.0 576.3h0M89.5 583.5h0M88.3 571.3h0M91.4 568.1h0M94.9 596.0h0M89.2 564.8h0M88.0 577.5h0M88.5 573.1h0M89.3 578.1h0M92.0 590.8h0M88.4 583.9h0M88.9 576.5h0M88.8 575.2h0M95.8 598.6h0M93.9 583.4h0M92.0 584.2h0M92.9 587.3h0M88.8 577.8h0M94.6 594.5h0M90.1 569.8h0M90.9 569.4h0M89.5 585.5h0M89.2 574.9h0M93.2 584.9h0M94.8 597.3h0M91.2 565.0h0M88.4 574.5h0M88.7 567.7h0M90.5 579.0h0M88.3 580.2h0M87.9 571.0h0M91.7 584.5h0M92.1 588.0h0M92.2 578.1h0M88.4 567.3h0M93.0 589.8h0M89.4 582.3h0M90.1 584.1h0M90.0 572.1h0M90.7 564.8h0M89.9 573.5h0M94.3 590.7h0M88.2 571.4h0M89.3 572.2h0M91.9 573.1h0M94.2 584.8h0M91.8 597.7h0M96.1 598.0h0M92.0 577.9h0M88.3 575.8h0M90.2 574.1h0M90.9 570.6h0M89.0 582.0h0M89.9 576.1h0M92.0 584.9h0M92.5 586.5h0M92.1 595.5h0M89.7 571.3h0M93.2 582.0h0M91.2 587.7h0M86.8 568.3h0M90.6 573.8h0M93.2 595.9h0M93.8 594.3h0M94.7 591.3h0M91.4 585.4h0M95.2 593.6h0M93.6 591.4h0M91.5 585.0h0M85.9 573.9h0M88.1 577.2h0M90.3 577.2h0M90.6 588.7h0M86.2 570.4h0M95.3 596.5h0M90.4 579.1h0M88.3 578.3h0M91.3 577.9h0M89.4 564.1h0M92.3 592.5h0M95.9 596.6h0M86.3 571.2h0M89.7 577.4h0M96.3 599.9h0M94.2 591.0h0M89.5 579.4h0M87.2 560.0h0M87.2 559.2h0M82.1 562.5h0M85.9 564.7h0M83.0 560.5h0M85.5 562.0h0M85.8 564.6h0M86.0 566.7h0M90.0 565.7h0M84.4 559.5h0M79.7 560.3h0M81.8 561.2h0M84.0 561.1h0M84.0 564.9h0M83.4 561.2h0M80.1 562.3h0M75.3 561.0h0M81.5 565.0h0M83.9 565.3h0M75.0 559.1h0M81.4 563.7h0M78.6 562.6h0M84.1 563.2h0M80.0 559.2h0M87.3 561.9h0" stroke="#9B4FA5" stroke-width="1.2" stroke-linecap="round" fill="none"/>
<path d="M50.7 527.5h0M57.4 525.1h0M48.1 524.3h0M53.9 524.7h0M51.3 521.2h0M54.0 522.7h0M51.1 528.6h0M51.7 522.5h0M49.8 525.6h0M49.0 525.0h0M51.3 519.3h0M48.9 526.2h0M49.6 521.0h0M52.7 517.7h0M53.7 528.3h0M56.4 524.8h0M52.0 522.6h0M56.4 523.4h0M51.2 520.3h0M45.2 522.1h0M57.2 522.8h0M51.0 524.4h0M55.1 519.4h0M52.6 518.5h0M52.8 524.7h0M49.8 522.0h0M47.3 520.5h0M50.7 520.3h0M50.5 523.7h0M52.4 520.2h0M48.9 526.3h0M50.5 521.0h0M47.7 528.5h0M57.6 526.5h0M53.1 520.0h0M45.8 527.0h0M53.1 523.5h0M46.1 525.4h0M47.4 530.7h0M45.9 520.6h0M54.1 529.2h0M49.7 526.5h0M45.4 525.2h0M46.8 525.3h0M53.8 516.2h0M47.7 521.4h0M45.9 520.8h0M47.7 524.3h0M52.7 529.6h0M58.0 526.6h0M51.6 527.2h0M49.7 527.1h0M50.0 518.5h0M52.7 528.5h0M54.6 522.7h0M56.3 521.0h0M53.5 527.2h0M54.8 522.5h0M46.3 522.0h0M54.3 529.4h0M46.7 520.7h0M52.9 525.4h0M56.3 522.7h0M54.4 518.1h0M43.8 523.4h0M51.6 529.4h0M46.8 527.6h0M51.2 526.9h0M56.3 524.7h0M54.0 527.2h0M49.4 518.5h0M50.1 518.5h0M48.0 517.6h0M46.9 525.9h0M45.7 527.5h0M45.2 520.1h0M54.0 518.5h0M54.3 519.0h0M55.1 520.3h0M51.6 523.9h0M47.0 519.4h0M53.5 527.3h0M58.3 522.0h0M52.9 520.7h0M54.6 525.7h0M51.9 519.4h0M49.8 527.3h0M43.9 524.3h0M49.9 524.2h0M48.8 519.5h0M53.4 522.3h0M47.7 519.1h0M44.3 524.1h0M55.5 528.8h0M45.3 526.3h0M44.2 523.9h0M56.6 526.2h0M55.4 526.1h0M47.4 529.7h0M55.6 526.8h0M52.1 521.9h0M46.0 519.3h0M54.2 527.5h0M50.0 529.6h0M48.3 523.0h0M52.6 517.3h0M50.1 518.6h0M51.3 518.2h0M48.9 524.4h0M50.4 519.5h0M45.7 525.6h0M50.1 527.2h0M47.0 525.4h0M55.4 526.8h0M56.8 527.8h0M55.2 519.7h0M52.6 521.3h0M45.5 522.9h0M52.9 524.1h0M57.9 522.4h0M53.0 527.3h0M56.4 523.4h0M54.6 523.2h0M51.4 529.9h0M53.1 526.1h0M52.5 524.3h0M48.6 527.1h0M50.2 521.8h0M54.0 518.2h0M53.9 529.5h0M57.2 524.5h0M55.8 521.2h0M49.0 524.8h0M51.8 529.4h0M48.7 519.5h0M54.0 523.0h0M48.7 518.9h0M55.0 523.5h0M54.8 523.9h0M46.0 519.7h0M50.9 518.1h0M46.3 527.4h0M49.2 527.2h0M57.4 526.4h0M45.4 521.0h0M56.1 520.6h0M53.6 522.5h0M53.3 525.6h0M51.1 522.0h0M50.0 526.0h0M48.6 519.9h0M52.1 517.4h0M46.9 521.6h0M56.8 520.5h0M50.9 520.2h0M55.4 521.9h0M52.4 521.7h0M48.0 529.1h0M44.6 524.7h0M54.2 522.0h0M45.6 525.1h0M54.5 519.9h0M51.4 522.4h0M51.6 529.6h0M45.5 522.9h0M51.6 529.7h0M46.6 526.7h0M53.4 524.5h0M56.3 519.1h0M46.2 521.5h0M54.1 528.1h0M50.0 530.4h0M51.4 518.1h0M46.2 524.2h0M50.9 529.8h0M51.8 529.8h0M47.2 519.0h0M53.9 529.0h0M47.9 523.3h0M45.3 521.1h0M56.9 522.4h0M49.3 526.6h0M45.8 519.4h0M49.1 520.1h0M48.2 521.8h0M46.9 518.1h0M55.0 521.5h0M49.3 517.8h0M45.5 526.8h0M56.3 520.0h0M46.8 524.7h0M50.2 521.2h0M49.0 518.9h0M51.7 527.2h0M44.0 526.1h0M46.7 525.1h0M50.6 517.5h0M50.1 530.6h0M45.8 520.7h0M57.0 526.1h0M49.3 522.1h0M54.2 523.9h0M52.9 525.7h0M44.8 523.7h0M45.0 520.4h0M49.6 527.3h0M48.7 526.4h0M48.0 528.2h0M56.0 524.1h0M51.5 527.0h0M49.6 528.7h0M56.6 528.1h0M55.7 518.7h0M54.2 524.7h0M54.4 525.0h0M57.8 521.5h0M53.0 520.3h0M52.6 524.0h0M50.1 517.6h0M47.9 522.6h0M54.0 518.4h0M47.6 528.5h0M46.7 517.4h0M48.3 518.3h0M54.5 520.1h0M44.6 520.9h0M53.6 522.0h0M47.4 517.1h0M53.4 518.7h0M56.5 524.2h0M45.7 524.4h0M50.2 521.7h0M54.1 520.8h0M45.3 521.6h0M44.3 523.0h0M49.4 526.8h0M55.9 519.9h0M54.7 528.6h0M56.0 526.1h0M51.7 526.7h0M56.2 519.3h0M53.9 518.0h0M53.2 521.9h0M53.5 524.1h0M52.7 518.9h0M45.9 523.5h0M44.7 520.7h0M55.8 519.1h0M44.5 522.8h0M54.1 518.0h0M52.7 519.3h0M54.6 518.4h0M54.9 529.7h0M51.4 524.6h0M48.5 528.8h0M55.0 524.0h0M53.2 520.9h0M52.2 518.9h0M51.7 518.4h0M54.7 524.2h0M46.4 528.8h0M52.0 515.9h0M52.8 525.9h0M51.3 519.9h0M48.9 525.9h0M45.3 527.3h0M48.0 516.6h0M46.5 526.5h0M44.3 520.8h0M54.1 528.8h0M54.2 523.8h0M51.0 518.6h0M56.0 523.9h0M49.4 525.9h0M51.3 527.3h0M46.7 521.9h0M47.6 519.7h0M52.5 526.5h0M56.6 519.8h0M52.0 518.6h0M52.2 517.2h0M44.4 522.6h0M46.1 525.1h0M48.0 528.7h0M46.4 518.8h0M52.3 518.8h0M52.0 530.0h0M46.8 527.4h0M52.2 516.3h0M46.4 526.6h0M53.1 518.8h0M52.7 524.3h0M51.1 516.5h0M51.2 528.3h0M53.7 529.2h0M56.3 518.9h0M44.9 526.2h0M55.1 527.3h0M44.5 523.7h0M54.7 528.4h0M47.9 518.7h0M49.6 520.6h0M52.8 525.9h0M53.0 528.6h0M51.7 527.5h0M53.6 525.7h0M55.2 518.6h0M58.2 524.1h0M53.2 526.1h0M50.2 519.7h0M45.7 525.1h0M44.0 521.0h0M45.7 527.7h0M48.3 524.3h0M50.3 522.7h0M54.2 518.8h0M55.3 518.8h0M48.6 525.0h0M53.0 516.9h0M55.1 525.8h0M49.5 525.4h0M52.8 522.3h0M47.1 521.3h0M57.2 525.2h0M57.0 521.2h0M50.6 517.4h0M53.6 521.7h0M52.4 518.9h0M54.7 527.0h0M46.5 519.6h0M52.8 522.6h0M48.3 521.4h0M48.6 524.2h0M49.1 521.9h0M48.9 520.8h0M56.0 523.8h0M50.1 521.6h0M52.3 523.3h0M50.1 521.2h0M50.5 519.6h0M52.0 519.3h0M54.4 522.3h0M52.3 524.0h0M49.1 525.0h0M46.6 525.2h0M51.2 523.9h0M49.0 520.5h0M49.5 525.1h0M50.4 523.9h0M49.5 522.4h0M50.1 521.7h0M49.4 524.0h0M50.4 526.0h0M51.6 526.0h0M46.2 525.6h0M46.5 519.5h0M54.2 524.3h0M53.9 521.8h0M50.6 524.0h0M54.5 521.0h0M53.8 526.2h0M52.5 522.1h0M54.2 519.5h0M47.9 523.7h0M50.1 523.5h0M46.7 524.0h0M50.2 524.2h0M50.6 527.5h0M52.7 524.1h0M52.0 520.9h0M50.2 525.6h0M53.2 521.3h0M48.7 522.7h0M48.4 523.2h0M51.9 518.8h0M52.4 526.0h0M49.4 520.7h0M50.6 522.5h0M53.0 525.9h0M52.5 526.6h0M47.0 520.9h0M49.8 524.5h0M47.6 521.8h0M49.8 521.8h0M50.3 522.1h0M51.5 525.3h0M56.3 526.6h0M46.6 516.6h0M46.0 522.5h0M47.4 525.1h0M52.0 522.0h0M50.7 522.3h0M51.0 525.3h0M53.9 527.9h0M50.7 521.0h0M47.2 523.4h0M48.9 522.6h0M49.3 520.3h0M50.6 521.5h0M48.8 523.3h0M47.4 522.8h0M47.1 524.2h0M48.0 524.0h0M51.8 520.4h0M48.1 522.2h0M47.2 519.0h0M54.9 523.1h0M50.3 522.5h0M49.6 527.5h0M52.9 524.2h0M56.3 525.4h0M47.2 521.5h0M54.0 522.9h0M50.9 521.2h0M48.7 528.7h0M51.5 523.8h0M48.4 524.7h0M47.1 521.4h0M50.6 522.1h0M54.4 522.2h0M48.9 520.3h0M47.2 520.8h0M48.0 525.7h0M53.9 526.1h0M51.1 522.3h0M55.1 517.6h0M49.7 523.5h0M50.4 524.1h0M47.2 526.0h0M53.1 521.4h0M52.5 522.6h0M55.0 522.9h0M52.1 522.1h0M49.5 521.1h0M47.2 522.4h0M50.9 522.2h0M49.9 520.3h0M46.4 519.2h0M47.4 523.0h0M49.4 525.0h0M49.9 516.8h0M50.4 517.2h0M55.9 520.9h0M45.8 519.4h0M50.6 520.7h0M48.2 525.4h0M53.6 520.7h0M54.7 524.6h0M49.3 520.6h0M51.9 525.8h0M53.9 524.1h0M49.5 525.5h0M53.5 520.0h0M50.7 525.8h0M50.0 523.2h0M48.7 521.7h0M49.0 521.9h0M49.5 523.6h0M52.9 522.5h0M47.4 523.2h0M49.0 523.0h0M52.5 519.6h0M47.1 523.8h0M55.2 523.5h0M53.2 524.4h0M51.9 524.0h0M47.1 524.2h0M48.4 521.1h0M53.1 523.8h0M53.0 520.7h0M51.8 521.3h0M51.5 523.9h0M48.8 525.0h0M47.8 524.0h0M47.0 527.9h0M51.2 525.5h0M55.9 525.5h0M52.6 523.1h0M54.5 520.5h0M55.2 524.6h0M52.1 531.0h0M55.8 529.3h0M52.9 538.7h0M55.8 532.8h0M55.4 529.1h0M55.0 529.5h0M56.0 539.0h0M55.9 537.1h0M53.0 532.7h0M56.3 535.4h0M55.4 532.1h0M54.6 531.9h0M55.7 535.0h0M54.2 533.2h0M56.8 535.0h0M56.4 535.5h0M55.0 536.6h0M52.4 527.5h0M54.4 527.2h0M54.6 531.9h0M55.3 526.5h0M55.9 532.5h0M55.0 533.3h0M57.8 533.2h0M56.6 537.1h0M51.9 528.2h0M54.1 527.3h0M57.2 534.1h0M55.8 530.5h0M55.5 532.6h0M53.3 536.3h0M53.6 534.9h0M55.3 531.7h0M55.1 539.1h0M50.7 528.7h0M56.1 532.3h0M56.5 528.5h0M55.2 532.9h0M52.1 533.4h0M55.3 529.2h0M54.9 537.3h0M52.9 535.5h0M55.1 534.7h0M48.8 536.2h0M55.8 538.8h0M55.4 531.6h0M53.2 528.0h0M54.7 530.5h0M54.8 528.0h0M54.0 535.9h0M57.3 529.6h0M57.4 534.2h0M53.3 529.2h0M55.7 533.3h0M57.1 527.1h0M58.1 533.7h0M56.0 532.3h0M56.3 530.5h0M57.7 536.0h0M58.8 532.2h0M55.9 531.2h0M52.7 534.9h0M54.0 534.7h0M56.3 532.2h0M55.3 540.4h0M52.0 536.1h0M54.0 535.6h0M57.2 533.6h0M54.7 530.2h0M52.8 537.2h0M56.8 530.5h0M54.0 534.7h0M52.5 533.1h0M53.8 532.7h0M55.7 528.9h0M53.7 536.6h0M53.4 539.1h0M54.7 532.7h0M56.6 530.4h0M54.7 532.0h0M56.0 534.3h0M53.7 533.0h0M52.4 538.5h0M56.1 532.8h0M54.6 532.2h0M53.2 536.6h0M52.7 526.3h0M57.0 529.3h0M53.4 528.5h0M53.7 532.2h0M56.1 529.3h0M52.7 532.1h0M56.9 529.4h0M52.8 539.5h0M55.5 532.1h0M54.9 530.2h0M52.8 531.9h0M54.9 535.9h0M53.5 536.0h0M55.2 529.5h0M55.3 534.3h0M52.6 529.4h0M55.2 534.2h0M55.7 539.6h0M55.8 532.5h0M54.8 536.4h0M53.2 534.4h0M53.1 533.0h0M56.9 530.5h0M56.1 530.6h0M53.0 533.8h0M54.7 532.0h0M52.5 532.6h0M55.6 534.2h0M52.4 523.6h0M52.4 538.0h0M58.1 528.0h0M51.9 530.7h0M51.1 529.5h0M53.9 532.9h0M53.8 533.1h0M53.9 535.5h0M56.6 530.9h0M56.6 527.2h0M55.5 532.4h0M53.9 534.6h0M51.1 526.8h0M55.8 533.7h0M54.9 536.2h0M54.6 542.5h0M52.3 532.4h0M54.3 531.4h0M56.8 531.4h0M58.4 531.7h0M53.9 536.7h0M55.3 533.4h0M55.7 532.8h0M53.6 529.8h0M56.5 533.3h0M57.2 533.1h0M52.7 534.8h0M58.6 533.0h0M55.6 537.8h0M57.9 528.1h0M57.9 542.0h0M55.9 536.3h0M54.1 534.6h0M54.7 533.8h0M55.3 531.4h0M56.8 528.2h0M53.5 535.4h0M55.2 532.1h0M56.9 538.0h0M52.0 537.0h0M56.4 530.7h0M54.3 526.9h0M53.0 535.9h0M54.4 530.2h0M52.0 534.4h0M57.4 531.5h0M53.1 538.9h0M52.4 538.3h0M53.9 536.5h0M54.5 529.5h0M53.3 537.9h0M57.3 531.8h0M56.6 532.0h0M52.9 534.6h0M50.7 531.8h0M57.5 526.2h0M47.4 532.3h0M48.7 533.3h0M45.9 528.6h0M44.4 535.0h0M46.4 530.2h0M45.3 531.8h0M49.4 533.7h0M47.1 532.9h0M45.7 530.7h0M44.3 532.3h0M50.9 529.5h0M52.9 529.7h0M50.2 531.3h0M52.9 527.9h0M45.4 529.3h0M45.6 531.5h0M49.4 532.5h0M46.8 535.2h0M46.0 526.8h0M43.7 531.1h0M47.6 529.3h0M50.4 527.5h0M40.5 532.9h0M47.7 529.5h0M48.0 532.8h0M66.3 542.3h0M67.0 550.6h0M64.4 543.6h0M72.9 551.7h0M66.2 540.2h0M67.6 538.0h0M72.4 552.5h0M67.7 546.8h0M72.9 554.9h0M61.9 536.1h0M63.2 538.2h0M72.4 549.9h0M71.1 547.3h0M71.1 549.9h0M73.2 556.6h0M66.4 545.9h0M64.7 544.6h0M67.4 548.9h0M74.2 549.2h0M58.3 534.6h0M57.7 534.5h0M70.3 547.8h0M70.4 550.6h0M76.0 553.6h0M72.7 548.3h0M67.0 546.4h0M76.9 554.5h0M71.6 550.9h0M65.2 541.2h0M72.4 551.4h0M75.2 550.8h0M59.2 536.1h0M71.6 543.8h0M72.7 554.5h0M66.5 541.7h0M65.3 544.8h0M71.8 549.9h0M58.8 535.1h0M74.2 547.3h0M67.7 544.0h0M72.9 550.1h0M75.4 553.0h0M71.2 550.5h0M63.2 538.3h0M78.5 556.0h0M61.6 537.6h0M63.4 543.0h0M73.8 550.8h0M62.0 535.6h0M75.3 554.5h0M60.6 536.9h0M60.3 531.7h0M64.4 537.0h0M60.0 536.0h0M69.5 549.1h0M61.4 541.0h0M73.3 544.6h0M64.4 534.9h0M64.1 540.3h0M68.8 544.5h0M103.6 554.9h0M106.8 552.7h0M104.8 552.8h0M109.9 551.6h0M107.9 550.3h0M104.3 551.3h0M104.3 551.7h0M107.8 549.9h0M101.6 556.3h0M102.4 555.2h0M103.8 555.2h0M103.4 554.5h0M102.0 553.8h0M102.4 555.5h0M106.3 552.4h0M105.8 551.5h0M108.8 549.3h0M103.1 556.6h0M103.9 551.3h0M104.8 554.8h0M108.3 550.4h0M102.6 555.2h0M105.4 552.6h0M102.5 554.9h0M103.9 553.4h0M108.6 548.9h0M103.7 553.5h0M103.4 552.6h0M106.8 551.3h0M105.4 553.8h0M100.1 555.1h0M110.9 550.7h0M103.6 553.0h0M109.9 549.4h0M101.8 554.5h0M102.1 553.8h0M109.6 548.2h0M100.9 555.4h0M107.9 550.7h0M100.9 555.9h0M106.1 552.9h0M104.6 553.1h0M101.7 553.6h0M104.3 552.0h0M106.0 551.3h0M104.8 550.3h0M104.1 554.1h0M106.3 551.7h0M109.7 549.6h0M106.2 552.9h0M101.8 553.6h0M102.0 553.6h0M101.9 556.2h0M101.3 554.8h0M109.5 549.2h0M101.2 555.1h0M108.6 551.1h0M103.2 554.6h0M105.2 551.1h0M104.3 552.9h0M102.8 554.8h0M101.7 555.0h0M107.6 552.0h0M102.5 553.9h0M107.4 551.5h0M109.3 549.8h0M101.4 554.9h0M104.7 553.9h0M102.7 556.5h0M103.2 554.2h0M110.5 548.8h0M108.6 549.5h0M107.8 550.2h0M110.4 549.8h0M111.4 550.4h0M107.7 550.6h0M102.3 555.5h0M103.7 552.0h0M107.9 550.2h0M103.4 555.7h0M109.0 551.0h0M104.9 552.8h0M108.1 550.8h0M100.4 556.0h0M104.9 553.0h0M101.8 555.8h0M100.3 556.8h0M104.6 554.1h0M103.9 553.1h0M106.3 552.4h0M108.9 551.8h0M102.9 556.1h0M104.4 552.8h0M105.9 551.9h0M105.2 552.8h0M107.6 552.3h0M108.0 548.7h0M108.8 550.3h0M104.6 552.5h0M101.3 555.2h0M100.3 556.2h0M107.0 551.8h0M102.3 554.4h0M101.3 554.5h0M103.0 554.4h0M104.1 551.4h0M103.0 554.5h0M109.0 549.6h0M104.2 554.2h0M105.7 553.2h0M108.3 550.7h0M102.1 554.7h0M103.7 555.3h0M107.5 551.0h0M109.1 549.6h0M109.1 549.6h0M106.7 550.6h0M102.2 553.1h0M108.6 549.0h0M106.0 553.2h0M108.0 549.1h0M108.6 551.4h0M108.4 549.5h0M106.8 551.0h0M102.9 555.6h0M102.7 555.1h0M109.9 549.8h0M104.2 552.5h0M105.4 552.6h0M107.3 550.7h0M102.3 553.8h0M104.3 554.2h0M105.2 553.2h0M107.3 551.2h0M109.6 549.4h0M102.7 553.1h0M108.5 552.4h0M100.4 555.8h0M104.4 553.8h0M104.3 553.0h0M104.9 553.8h0M106.1 551.6h0M105.4 552.9h0M106.2 552.2h0M109.3 549.5h0M103.3 553.1h0M107.2 550.4h0M103.3 552.5h0M109.4 549.8h0M103.5 552.7h0M102.7 555.4h0M101.5 555.0h0M109.4 550.6h0M104.6 552.5h0M101.8 554.9h0M102.2 554.7h0M105.4 552.8h0M100.4 555.9h0M109.2 550.9h0M109.0 550.9h0M106.8 550.7h0M100.0 555.4h0M105.5 552.2h0M104.9 553.4h0M102.2 554.7h0M102.1 555.5h0M104.7 552.9h0M107.6 551.5h0M107.8 550.5h0M108.6 551.2h0M93.8 570.0h0M89.6 564.5h0M93.5 568.8h0M91.0 567.0h0M91.9 567.4h0M92.0 568.3h0M92.3 566.1h0M94.5 566.4h0M91.8 567.4h0M93.0 570.9h0M93.7 572.6h0M90.8 566.9h0M94.7 567.8h0M91.8 565.7h0M94.6 571.8h0M96.2 567.2h0M91.4 569.5h0M96.6 566.3h0M94.5 566.7h0M95.8 566.9h0M95.3 566.0h0M88.2 568.4h0M88.7 568.8h0M92.1 569.9h0M93.9 566.2h0M90.9 565.1h0M93.7 568.7h0M92.7 567.6h0M93.4 566.8h0M93.7 568.8h0M92.2 570.1h0M95.8 569.6h0M95.2 566.1h0M93.4 567.6h0M94.1 564.9h0M90.5 566.2h0M89.1 566.0h0M93.0 563.3h0M91.0 566.2h0M93.2 568.2h0M90.5 564.5h0M91.2 569.3h0M94.5 567.1h0M90.0 564.2h0M94.4 567.4h0M92.5 568.2h0M89.9 568.6h0M90.5 568.4h0M88.4 569.2h0M90.8 568.1h0M94.1 567.5h0M89.3 567.0h0M92.7 565.1h0M95.8 570.4h0M91.2 568.8h0M101.2 555.2h0M102.0 557.3h0M101.7 556.8h0M99.0 556.7h0M98.0 555.3h0M103.5 558.5h0M102.0 557.2h0M101.5 558.5h0M103.6 557.2h0M102.3 556.4h0M101.4 557.9h0M101.5 558.5h0M101.6 556.1h0M103.3 556.6h0M103.6 555.8h0M100.4 557.7h0M100.0 554.7h0M101.4 558.3h0M100.3 557.3h0M102.3 557.2h0" stroke="#F8282E" stroke-width="1.2" stroke-linecap="round" fill="none"/>
<path d="M71.0 524.7h0M72.6 521.9h0M68.2 527.9h0M65.6 532.1h0M71.8 525.4h0M65.7 529.8h0M70.2 522.2h0M65.8 525.1h0M65.8 525.2h0M66.5 525.3h0M70.8 520.2h0M69.0 527.7h0M69.1 525.8h0M66.6 529.5h0M69.4 524.6h0M73.0 522.8h0M65.4 525.8h0M70.0 525.4h0M68.4 526.6h0M70.7 524.1h0M66.3 525.7h0M70.5 524.4h0M70.7 523.0h0M69.8 524.8h0M65.3 529.5h0M67.4 525.5h0M73.9 521.8h0M71.4 525.7h0M73.7 522.6h0M66.9 525.6h0M66.9 527.0h0M65.5 527.6h0M61.9 530.4h0M68.1 526.3h0M66.7 527.6h0M67.3 526.8h0M64.0 529.5h0M66.9 524.9h0M69.1 528.2h0M63.1 529.1h0M63.8 528.4h0M66.3 527.3h0M73.3 524.9h0M70.0 525.5h0M71.5 524.3h0M67.7 526.7h0M70.2 525.9h0M68.3 524.7h0M63.5 528.2h0M69.1 524.2h0M70.7 528.3h0M66.5 530.8h0M73.2 524.6h0M66.9 527.1h0M69.7 525.2h0M68.9 522.4h0M62.4 528.1h0M63.2 527.8h0M65.1 528.4h0M66.9 527.9h0M70.6 526.1h0M71.3 527.1h0M72.0 521.0h0M64.9 531.7h0M71.3 523.5h0M70.5 525.6h0M65.3 525.9h0M64.3 526.4h0M70.1 523.3h0M71.2 525.2h0M71.5 522.1h0M63.5 528.1h0M66.2 525.9h0M64.1 528.2h0M73.1 525.1h0M68.2 527.3h0M71.0 522.1h0M70.3 524.7h0M65.7 528.8h0M63.2 529.5h0M65.2 526.4h0M65.0 527.0h0M69.8 523.9h0M70.5 524.8h0M70.4 525.1h0M69.6 524.6h0M70.2 528.2h0M64.6 524.4h0M68.9 527.6h0M69.2 525.5h0M68.1 527.7h0M71.4 522.5h0M69.3 526.1h0M70.9 523.7h0M68.3 526.8h0M66.5 527.2h0M69.3 524.8h0M71.2 525.0h0M66.7 526.5h0M67.9 524.5h0M67.0 530.0h0M68.0 523.4h0M67.3 528.1h0M70.7 522.8h0M67.8 527.8h0M68.1 527.1h0M67.7 527.0h0M65.8 528.9h0M66.8 526.3h0M70.7 527.1h0M63.7 533.1h0M62.0 528.8h0M64.5 530.5h0M62.5 529.7h0M66.0 530.4h0M64.6 529.8h0M65.0 529.5h0M61.6 532.6h0M64.2 531.1h0M58.6 532.2h0M62.5 529.3h0M62.2 530.3h0M61.7 533.6h0M65.2 530.7h0M61.9 530.8h0M60.9 531.5h0M66.1 531.6h0M63.1 531.7h0M63.9 530.3h0M61.9 529.1h0M64.6 530.3h0M63.7 529.1h0M66.7 531.6h0M63.0 528.4h0M63.4 529.7h0M65.5 533.7h0M63.9 530.4h0M61.3 530.9h0M63.3 530.5h0M63.4 532.3h0M106.5 559.0h0M104.1 560.1h0M111.6 557.8h0M104.8 559.7h0M104.8 559.8h0M111.6 557.6h0M110.3 557.5h0M105.4 560.3h0M103.9 561.7h0M108.7 558.1h0M104.2 560.4h0M104.6 559.1h0M102.0 559.8h0M103.1 560.3h0M110.2 559.3h0M104.3 559.2h0M110.4 559.0h0M104.9 559.5h0M108.4 560.3h0M109.2 558.2h0M106.0 559.3h0M104.1 559.6h0M109.4 559.5h0M107.2 558.0h0M105.0 560.3h0M107.5 559.1h0M108.3 558.9h0M106.8 559.3h0M108.0 559.6h0M105.5 559.7h0M110.2 558.3h0M104.4 559.6h0M107.9 558.1h0M104.7 560.3h0M103.5 558.3h0M108.5 557.6h0M103.9 559.2h0M103.2 558.9h0M103.5 560.4h0M103.8 559.9h0M106.5 558.4h0M108.9 558.5h0M107.1 559.0h0M108.2 559.3h0M105.7 558.7h0M109.6 558.9h0M104.5 559.9h0M104.2 560.5h0M106.0 557.7h0M109.4 559.4h0" stroke="#D2A679" stroke-width="1.2" stroke-linecap="round" fill="none"/>
<path d="M18.6 530.1h0M21.5 531.0h0M17.2 530.7h0M19.7 530.8h0M19.9 530.3h0M21.4 530.0h0M21.5 530.7h0M20.4 530.8h0M30.3 530.4h0M34.0 531.6h0M34.6 530.8h0M31.1 530.9h0M30.9 530.1h0M33.1 530.2h0M27.4 532.6h0M33.6 532.4h0M35.8 531.7h0M31.2 532.4h0M31.6 530.7h0M37.9 530.5h0M32.8 531.2h0M33.9 530.9h0M38.6 537.0h0M35.8 537.6h0M32.9 534.9h0M37.8 536.1h0M32.7 536.5h0M33.6 537.8h0" stroke="#F0149B" stroke-width="1.2" stroke-linecap="round" fill="none"/>
<path d="M100.8 599.4h0M98.0 603.9h0M98.8 603.1h0M102.6 613.0h0M100.6 611.1h0M105.8 605.1h0M105.3 614.4h0M99.6 606.4h0M103.5 614.2h0M104.5 605.2h0M98.8 611.5h0M100.6 610.9h0M101.2 609.5h0M95.4 606.3h0M107.0 610.7h0M99.8 603.2h0M94.9 605.2h0M101.3 598.0h0M100.7 611.0h0M96.4 599.7h0M96.1 606.5h0M100.5 602.4h0M103.1 601.1h0M98.8 608.8h0M104.3 613.4h0M98.1 608.7h0M101.1 606.3h0M101.9 608.6h0M103.0 605.7h0M107.4 607.4h0M106.2 605.3h0M103.1 613.1h0M105.8 606.5h0M101.9 605.3h0M99.1 604.8h0M108.8 606.4h0M103.6 601.4h0M96.2 603.5h0M98.3 612.1h0M103.9 609.9h0M93.6 599.9h0M94.8 607.6h0M101.2 608.5h0M100.8 611.4h0M106.1 606.7h0M104.0 602.4h0M97.6 604.4h0M96.0 606.8h0M100.4 603.0h0M103.8 605.3h0M104.8 610.6h0M101.5 598.2h0M100.2 598.0h0M96.3 599.6h0M105.2 610.1h0M104.3 605.7h0M97.7 600.0h0M98.1 604.8h0M98.6 597.0h0M100.9 601.1h0M103.7 608.7h0M102.5 601.7h0M107.4 608.0h0M103.9 598.5h0M98.0 604.3h0M97.6 597.3h0M108.0 605.7h0M105.0 612.9h0M101.0 610.5h0M95.0 605.6h0M105.6 609.0h0M96.0 607.8h0M100.2 609.8h0M106.3 611.0h0M97.3 602.0h0M107.9 605.7h0M102.0 604.9h0M96.4 608.7h0M105.6 608.1h0M103.5 613.6h0M103.2 602.4h0M100.6 613.8h0M105.2 609.0h0M100.8 600.1h0M95.3 606.1h0M99.1 608.4h0M100.4 596.9h0M96.6 604.1h0M108.3 604.4h0M99.4 604.8h0M101.6 607.5h0M103.6 598.2h0M100.7 600.5h0M98.7 602.2h0M106.6 602.4h0M97.3 599.7h0M98.2 601.7h0M99.0 608.7h0M97.1 605.8h0M96.6 607.3h0M100.6 610.9h0M105.7 607.3h0M104.4 613.5h0M97.3 610.0h0M99.9 598.0h0M101.1 610.3h0M106.1 611.0h0M100.0 604.1h0M105.8 608.2h0M101.2 599.1h0M95.8 605.9h0M101.7 609.1h0M102.3 603.3h0M100.2 598.5h0M102.9 603.2h0M103.2 606.9h0M105.4 602.3h0M105.6 610.7h0M100.1 610.5h0M103.5 601.2h0M109.1 605.9h0M100.8 604.1h0M106.9 606.1h0M100.3 604.3h0M109.2 607.9h0M101.1 611.1h0M102.1 601.3h0M104.3 604.9h0M106.4 606.1h0M104.0 599.0h0M94.2 604.1h0M98.4 605.8h0M96.3 599.8h0M100.0 606.6h0M102.8 603.1h0M99.6 602.8h0M94.9 603.8h0M101.5 601.2h0M102.9 602.1h0M104.0 605.3h0M101.3 605.3h0M101.6 605.0h0M106.3 607.7h0M102.8 606.8h0M108.2 606.0h0M99.3 606.5h0M108.0 609.6h0M104.9 607.6h0M102.5 604.7h0M99.8 600.1h0M95.0 601.5h0M101.2 609.8h0M95.0 603.8h0M95.9 608.1h0M94.1 604.9h0M98.0 600.2h0M107.5 604.7h0M99.3 596.7h0M97.7 602.0h0M94.2 608.3h0M93.8 604.1h0M102.4 610.4h0M101.7 599.5h0M101.7 597.5h0M102.2 600.3h0M106.5 602.4h0M97.5 602.9h0M103.2 601.4h0M101.8 600.4h0M104.5 600.0h0M105.8 607.7h0M103.5 600.8h0M98.1 604.1h0M102.3 606.7h0M105.3 603.4h0M100.0 602.7h0M94.7 603.3h0M93.4 604.4h0M100.5 608.4h0M102.8 607.0h0M98.5 607.6h0M108.2 603.9h0M104.4 602.8h0M97.7 610.3h0M101.7 605.4h0M109.4 610.0h0M99.0 597.3h0M105.2 614.6h0M107.0 611.4h0M107.0 607.7h0M102.0 608.9h0M106.4 608.1h0M98.1 610.7h0M95.1 602.4h0M96.5 599.8h0M96.7 606.5h0M105.8 609.6h0M101.3 603.9h0M97.3 610.3h0M104.6 602.2h0M99.2 609.3h0M105.1 605.4h0M99.0 602.1h0M102.9 606.3h0M105.0 603.2h0M99.7 613.0h0M102.7 606.9h0M96.7 599.3h0M102.0 605.0h0M105.8 601.6h0M106.2 611.7h0M99.7 599.8h0M104.8 601.0h0M95.6 598.5h0M107.6 606.7h0M97.8 603.0h0M106.3 607.0h0M100.9 599.5h0M108.1 610.1h0M102.3 608.5h0M104.6 606.3h0M108.1 604.5h0M96.8 602.2h0M98.6 605.5h0M97.9 608.3h0M106.2 610.8h0M101.7 601.8h0M100.3 598.5h0M101.9 606.4h0M100.6 603.6h0M107.0 613.3h0M98.3 603.3h0M108.8 609.8h0M103.7 610.9h0M97.2 606.0h0M103.3 601.4h0M102.9 611.3h0M97.3 597.9h0M102.9 607.7h0M104.1 603.6h0M96.5 597.9h0M94.9 605.0h0M104.9 606.6h0M104.1 608.6h0M97.7 608.2h0M105.9 607.6h0M100.2 598.6h0M102.8 598.3h0M97.5 605.0h0M102.0 602.2h0M103.2 603.2h0M99.4 599.6h0M104.6 607.9h0M97.9 601.3h0M107.8 609.8h0M102.5 611.2h0M108.7 605.3h0M102.6 605.7h0M104.7 609.0h0M99.2 599.3h0M97.0 601.5h0M103.8 608.9h0M105.6 609.8h0M101.7 611.1h0M104.6 608.7h0M94.9 606.2h0M100.8 598.7h0M95.6 603.2h0M104.5 605.3h0M103.0 607.4h0M94.3 603.8h0M97.7 604.2h0M99.6 603.7h0M102.3 606.1h0M101.2 598.0h0M105.3 608.7h0M101.9 610.7h0M108.8 606.4h0M100.9 612.7h0M104.7 604.3h0M104.1 610.0h0M98.2 610.0h0M101.3 612.6h0M100.7 601.1h0M101.9 601.1h0M94.8 602.7h0M106.7 611.2h0M99.9 605.5h0M98.8 605.7h0M100.7 607.8h0M104.7 608.4h0M104.1 608.3h0M97.4 607.0h0M105.9 604.2h0M99.6 598.0h0M102.2 598.7h0M104.1 606.0h0M96.3 602.5h0M96.3 603.6h0M106.0 609.9h0M99.2 603.8h0M100.9 608.6h0M102.5 598.8h0M103.4 598.1h0M104.2 609.9h0M96.7 607.3h0M105.9 606.7h0M105.4 607.9h0M96.9 605.2h0M98.0 603.0h0M97.0 608.4h0M103.0 604.9h0M105.4 601.1h0M103.7 603.0h0M108.6 609.1h0M102.6 598.8h0M103.0 602.3h0M101.9 599.0h0M102.0 609.1h0M95.4 607.3h0M105.8 613.4h0M104.2 602.0h0M106.4 606.1h0M106.5 603.2h0M107.0 602.8h0M104.1 610.4h0M99.4 601.4h0M107.7 609.9h0M101.1 606.3h0M107.4 605.8h0M107.7 613.2h0M104.5 610.4h0M102.0 608.4h0M101.1 610.6h0M104.0 613.0h0M100.9 611.0h0M104.2 603.5h0M102.6 608.0h0M107.1 612.3h0M101.1 600.2h0M107.3 602.9h0M104.4 599.8h0M100.7 598.8h0M100.8 606.6h0M96.7 602.4h0M96.9 608.5h0M98.6 605.7h0M100.9 608.9h0M98.6 602.0h0M98.0 606.5h0M96.8 608.4h0M104.3 600.4h0M95.9 604.2h0M99.6 610.6h0M102.0 610.5h0M101.1 606.4h0M95.7 603.7h0M103.4 603.4h0M102.6 598.9h0M103.5 614.6h0M102.0 599.3h0M104.2 607.9h0M98.0 604.0h0M99.6 595.6h0M100.7 600.4h0M103.4 613.5h0M97.6 599.3h0M98.3 602.9h0M103.5 601.7h0M93.0 604.2h0M103.2 612.7h0M95.0 606.8h0M107.2 609.9h0M101.1 601.7h0M97.9 609.6h0M100.6 600.9h0M98.8 598.1h0M96.6 604.4h0M96.2 599.5h0M95.2 606.3h0M101.8 607.6h0M94.4 598.1h0M102.5 608.7h0M96.5 600.5h0M99.2 598.3h0M102.8 612.7h0M96.0 610.8h0M106.5 606.4h0M102.6 599.1h0M108.1 610.0h0M101.7 602.9h0M99.1 606.1h0M100.5 613.0h0M96.7 607.4h0M100.6 610.1h0M105.6 611.1h0M103.1 603.6h0M101.8 610.1h0M106.1 609.1h0M102.1 608.2h0M100.7 606.9h0M96.6 607.3h0M105.0 603.4h0M101.1 602.5h0M103.2 611.8h0M102.9 608.6h0M101.7 601.8h0M103.0 613.7h0M105.8 602.2h0M97.9 601.3h0M94.2 606.7h0M102.9 598.3h0M97.0 603.1h0M97.9 602.0h0M106.4 600.7h0M95.2 599.0h0M99.7 600.8h0M100.4 609.2h0M108.8 603.9h0M100.9 604.4h0M100.5 604.9h0M105.1 610.2h0M105.2 608.9h0M106.7 608.8h0M103.1 599.7h0M104.3 607.1h0M104.9 599.3h0M102.7 609.6h0M107.7 607.0h0M105.2 605.2h0M105.2 607.8h0M107.2 601.9h0M102.6 610.8h0M100.4 600.9h0M102.9 603.8h0M102.3 598.7h0M101.4 602.5h0M101.4 600.2h0M105.8 609.6h0M97.1 603.4h0M103.4 609.4h0M96.6 606.3h0M103.7 606.3h0M105.7 602.8h0M100.1 602.2h0M107.7 610.0h0M96.4 600.6h0M105.2 607.3h0M100.5 610.2h0M104.8 598.4h0M95.6 599.9h0M107.6 606.1h0M97.7 604.1h0M104.9 604.2h0M95.0 598.6h0M96.4 607.6h0M100.3 609.2h0M102.7 605.3h0M95.0 600.4h0M107.2 601.0h0M95.9 602.0h0M96.7 604.7h0M98.1 604.7h0M102.3 606.4h0M101.4 600.3h0M101.0 608.4h0M102.4 610.3h0M95.4 598.0h0M98.9 601.0h0M103.1 614.2h0M104.1 615.6h0M104.0 601.0h0M97.8 599.5h0M108.1 606.5h0M98.7 600.7h0M96.8 605.9h0M94.9 600.7h0M96.6 605.8h0M103.1 606.6h0M102.4 607.0h0M108.9 611.0h0M108.2 604.1h0M98.0 599.0h0M99.1 599.9h0M100.7 612.7h0M103.6 609.2h0M104.4 608.5h0M95.3 600.6h0M97.3 610.0h0M105.1 611.9h0M99.8 598.5h0M99.9 604.2h0M104.9 607.4h0M104.3 613.0h0M94.7 605.7h0M100.4 599.5h0M107.2 611.5h0M97.6 598.6h0M95.7 608.1h0M102.4 609.5h0M99.3 605.3h0M102.0 597.8h0M100.3 600.3h0M107.1 612.3h0M102.3 600.3h0M104.0 601.5h0M105.7 610.0h0M99.6 598.4h0M100.3 605.8h0M96.8 607.6h0M95.3 604.6h0M103.8 601.9h0M101.6 609.9h0M101.4 604.7h0M105.5 607.9h0M103.8 598.5h0M96.5 608.1h0M100.4 602.9h0M107.4 606.6h0M100.7 605.2h0M93.1 603.4h0M95.4 598.3h0M94.7 607.5h0M105.9 607.1h0M104.8 605.3h0M102.7 605.7h0M95.2 605.0h0M105.5 600.6h0M100.3 609.7h0M100.7 601.2h0M97.1 600.9h0M102.8 614.0h0M104.3 612.0h0M107.5 607.4h0M94.7 599.1h0M97.2 610.5h0M98.9 600.3h0M96.5 609.5h0M105.2 605.6h0M96.6 606.4h0M97.4 598.6h0M108.0 606.8h0M100.2 598.2h0M98.5 606.3h0M105.3 607.1h0M103.4 607.8h0M94.9 601.9h0M96.6 602.8h0M100.9 609.4h0M105.1 609.2h0M100.9 611.8h0M100.8 609.1h0M98.7 610.7h0M99.6 603.4h0M102.5 605.6h0M99.5 598.6h0M99.3 599.9h0M104.0 612.9h0M105.6 607.9h0M102.5 601.5h0M102.8 607.3h0M101.9 609.9h0M100.8 610.4h0M100.7 601.8h0M100.7 606.8h0M98.3 606.7h0M102.9 612.1h0M95.8 606.0h0M103.6 612.6h0M97.8 597.8h0M97.1 609.0h0M98.3 601.6h0M103.6 604.1h0M96.1 608.4h0M103.0 606.2h0M96.6 601.6h0M106.6 611.0h0M96.8 602.6h0M101.7 602.3h0M107.5 604.3h0M96.1 605.9h0M101.6 602.6h0M107.7 609.2h0M100.5 609.7h0M104.9 602.0h0M98.7 604.2h0M102.9 605.9h0M99.2 609.9h0M97.3 609.3h0M100.0 606.2h0M99.6 602.8h0M102.2 609.9h0M107.4 607.7h0M93.9 605.2h0M97.9 606.5h0M98.8 597.4h0M95.8 610.1h0M102.6 604.1h0M103.2 603.6h0M105.4 606.5h0M100.7 600.1h0M97.0 601.6h0M97.7 607.0h0M108.8 609.2h0M99.3 611.9h0M97.5 598.1h0M96.4 601.6h0M101.6 600.7h0M100.4 610.4h0M107.7 608.4h0M102.8 615.1h0M101.6 603.6h0M105.3 600.8h0M101.4 597.6h0M107.1 607.5h0M96.7 606.9h0M97.5 601.3h0M103.1 606.6h0M95.2 606.2h0M94.3 601.9h0M104.4 604.6h0M103.0 603.6h0M102.7 612.5h0M103.6 614.9h0M98.9 602.1h0M100.6 613.2h0M103.1 606.7h0M98.5 609.1h0M100.9 604.5h0M100.2 613.1h0M101.7 604.6h0M101.3 605.1h0M105.3 600.7h0M100.2 598.7h0M105.1 608.3h0M96.6 600.5h0M95.2 605.4h0M96.9 605.1h0M98.6 611.6h0M101.8 602.8h0M103.5 607.5h0M106.8 609.6h0M101.0 607.4h0M104.0 598.1h0M99.4 612.9h0M104.8 607.3h0M99.5 599.6h0M101.0 598.6h0M104.5 599.3h0M100.3 610.6h0M106.4 608.2h0M102.4 612.9h0M103.9 606.2h0M101.4 602.5h0M103.3 611.4h0M106.3 612.8h0M104.5 612.0h0M94.8 599.8h0M101.2 603.5h0M106.8 603.2h0M95.6 605.0h0M108.3 608.7h0M102.7 611.3h0M107.5 608.6h0M100.2 608.0h0M99.1 605.0h0M96.8 607.9h0M101.7 605.9h0M99.6 607.3h0M100.3 613.4h0M102.0 609.7h0M101.9 613.3h0M95.6 605.3h0M101.2 612.8h0M93.9 606.0h0M97.6 604.1h0M101.4 598.4h0M104.2 600.3h0M108.2 608.3h0M98.9 610.3h0M94.7 603.4h0M103.8 604.3h0M103.3 603.9h0M94.0 604.1h0M94.0 604.5h0M104.4 610.4h0M97.1 603.0h0M99.0 612.2h0M102.9 607.8h0M95.9 603.2h0M94.1 601.9h0M107.8 607.9h0M96.9 607.1h0M102.6 600.4h0M105.1 608.9h0M95.6 607.3h0M97.5 603.5h0M101.6 607.7h0M106.9 613.0h0M102.5 613.6h0M105.3 610.3h0M98.5 607.4h0M99.8 610.6h0M96.9 601.6h0M100.4 612.7h0M102.3 606.3h0M94.3 606.2h0M103.5 609.1h0M98.8 605.5h0M100.9 603.0h0M103.9 606.7h0M99.7 611.7h0M103.3 610.3h0M103.8 607.2h0M107.2 611.4h0M106.5 608.1h0M98.5 602.0h0M96.5 604.6h0M108.0 607.4h0M103.0 601.0h0M98.1 605.1h0M96.7 603.9h0M102.2 605.2h0M107.0 609.9h0M106.6 604.5h0M100.7 613.6h0M99.3 606.8h0M93.8 605.6h0M95.6 600.6h0M103.6 605.7h0M107.2 604.4h0M101.6 604.4h0M99.1 602.4h0M102.8 610.5h0M107.9 607.7h0M102.9 600.0h0M99.2 597.7h0M107.4 601.2h0M98.9 602.8h0M97.6 604.5h0M108.2 605.5h0M100.3 607.1h0M94.8 602.4h0M105.5 612.9h0M100.3 604.0h0M99.7 605.2h0M107.2 606.8h0M97.1 601.7h0M100.1 607.2h0M108.8 608.8h0M103.6 600.8h0M103.9 613.1h0M98.9 606.3h0M101.6 609.1h0M97.5 609.7h0M103.0 606.6h0M107.6 604.0h0M100.6 610.6h0M97.4 601.8h0M96.8 602.7h0M95.0 603.7h0M97.8 602.5h0M96.6 605.0h0M94.7 602.0h0M96.0 607.8h0M103.1 603.7h0M106.4 605.2h0M102.4 607.8h0M98.5 608.7h0M104.6 601.0h0M107.7 606.4h0M105.2 611.8h0M105.5 606.4h0M94.1 605.5h0M106.0 610.3h0M105.9 609.0h0M100.4 608.5h0M96.0 607.6h0M108.0 608.8h0M98.4 603.2h0M101.4 598.4h0M94.6 601.4h0M96.7 599.7h0M104.6 603.1h0M100.6 602.8h0M98.7 602.1h0M106.5 612.5h0M103.2 612.5h0M97.8 604.2h0M106.7 609.5h0M100.0 598.7h0M103.7 600.8h0M100.6 610.9h0M94.4 598.6h0M97.6 600.6h0M98.0 596.4h0M102.6 610.7h0M93.9 604.1h0M100.3 597.5h0M97.6 598.6h0M101.0 604.5h0M102.1 603.3h0M105.3 609.6h0M103.3 604.6h0M102.8 609.6h0M98.6 603.7h0M108.1 609.2h0M105.5 609.0h0M100.5 610.4h0M103.5 608.7h0M101.3 598.1h0M98.8 602.9h0M96.3 600.2h0M102.4 604.4h0M101.8 599.9h0M104.5 606.4h0M108.6 610.7h0M99.4 598.7h0M103.9 609.4h0M94.1 600.5h0M98.2 601.2h0M98.6 598.6h0M100.9 613.1h0M99.5 609.2h0M97.6 597.1h0M108.0 603.8h0M107.7 611.3h0M104.0 605.7h0M103.0 613.4h0M107.0 603.8h0M104.6 603.0h0M107.8 610.6h0M96.1 599.1h0M96.1 603.2h0M100.8 607.3h0M98.8 599.7h0M104.9 612.5h0M106.4 610.8h0M98.8 602.3h0M99.2 603.7h0M101.5 606.2h0M97.4 606.4h0M101.1 602.1h0M98.1 606.7h0M99.4 599.6h0M106.8 609.7h0M100.0 610.0h0M105.7 611.6h0M106.3 599.5h0M99.1 597.0h0M102.6 598.3h0M99.4 597.1h0M101.5 603.2h0M98.2 600.7h0M103.8 600.5h0M101.1 604.1h0M105.9 608.4h0M105.3 605.4h0M100.9 609.3h0M101.4 609.7h0M98.1 606.9h0M98.0 611.8h0M97.8 600.9h0M105.2 613.0h0M103.1 598.6h0M103.5 612.4h0M100.5 600.9h0M95.2 602.7h0M96.4 607.8h0M104.6 598.8h0M97.9 597.7h0M103.9 601.9h0M97.7 608.2h0M106.8 607.2h0M108.3 604.4h0M96.9 605.5h0M99.7 602.0h0M106.6 609.7h0M98.5 609.3h0M103.1 602.6h0M105.4 609.9h0M105.3 610.0h0M101.3 606.1h0M101.2 609.5h0M105.5 601.1h0M105.5 612.1h0M101.0 609.9h0M96.2 600.7h0M103.1 599.0h0M94.9 608.2h0M106.3 612.9h0M96.9 599.1h0M105.1 611.0h0M106.7 606.4h0M99.7 604.1h0M106.3 610.1h0M102.5 605.5h0M97.2 604.3h0M100.5 601.7h0M96.5 599.3h0M92.9 585.5h0M95.5 590.3h0M96.1 592.9h0M94.5 587.8h0M91.2 587.2h0M94.1 590.5h0M97.6 601.0h0M94.4 593.3h0M90.8 585.2h0M95.2 587.5h0M97.6 592.4h0M91.9 592.0h0M96.9 598.3h0M95.8 591.3h0M94.4 597.0h0M95.2 589.2h0M97.9 598.9h0M92.9 585.0h0M95.1 599.4h0M94.3 590.8h0M95.8 591.0h0M95.2 595.2h0M97.0 593.0h0M94.6 589.2h0M99.0 596.8h0M96.2 596.5h0M96.7 598.7h0M94.8 597.3h0M97.6 597.3h0M94.5 591.2h0M95.8 591.1h0M94.4 592.5h0M96.2 597.5h0M95.3 587.6h0M91.0 585.8h0M94.2 598.3h0M92.8 593.8h0M97.1 597.3h0M96.7 595.1h0M95.9 595.3h0M97.9 595.1h0M93.6 592.9h0M95.9 598.7h0M95.8 597.3h0M91.4 587.7h0M95.1 592.8h0M93.7 589.9h0M92.8 592.1h0M97.3 598.1h0M97.2 595.3h0M91.1 585.4h0M96.9 597.7h0M96.2 595.5h0M97.7 599.8h0M90.5 591.6h0M99.5 593.4h0M90.2 593.1h0M97.6 599.9h0M94.9 590.9h0M90.8 588.5h0M90.4 584.7h0M98.8 597.5h0M95.8 593.4h0M91.7 586.1h0M94.2 593.4h0M95.8 588.8h0M98.1 592.0h0M94.6 588.8h0M96.1 594.3h0M95.8 595.8h0M96.1 596.9h0M91.9 589.5h0M94.9 589.5h0M95.8 598.5h0M96.2 590.1h0M90.1 584.4h0M92.1 588.3h0M94.9 591.3h0M97.2 600.3h0M93.6 594.4h0M92.5 587.0h0M95.2 592.4h0M97.3 594.2h0M94.2 593.0h0M95.0 597.5h0M94.0 584.7h0M90.0 587.6h0M96.9 595.2h0M96.6 594.6h0M95.8 593.9h0M95.6 588.9h0M94.0 587.5h0M95.1 588.8h0M94.2 584.5h0M98.9 599.8h0M97.3 595.0h0M94.1 595.9h0M97.1 598.3h0M96.7 593.4h0M93.5 591.7h0M101.1 601.1h0M95.5 599.9h0M96.7 599.2h0M91.8 587.2h0M94.6 597.8h0M93.7 588.9h0M97.7 591.7h0M94.0 586.9h0M100.3 596.2h0M94.6 596.0h0M98.1 601.0h0M95.6 596.8h0M94.1 590.4h0M96.6 598.0h0M97.4 596.5h0M98.3 596.4h0M96.8 596.1h0M94.4 592.7h0M92.7 588.7h0M95.2 586.7h0M96.3 595.1h0M95.2 596.1h0M92.5 587.5h0M89.9 590.5h0M96.1 590.1h0M93.7 587.2h0M98.8 599.3h0M96.4 598.4h0M94.8 593.9h0M99.7 598.6h0M96.3 597.3h0M94.5 596.1h0M96.4 594.0h0M89.8 587.6h0M96.9 598.0h0M94.1 586.7h0M90.7 592.2h0M90.2 583.6h0M97.4 599.7h0M98.1 599.5h0M96.3 595.7h0M94.2 597.4h0M98.1 593.3h0M94.6 589.6h0M92.4 594.4h0M96.7 599.3h0M95.0 590.8h0M95.1 585.3h0M97.2 596.7h0M100.9 598.6h0M91.4 584.5h0M96.3 587.9h0M95.3 598.1h0M92.2 585.7h0M94.2 596.6h0M95.9 586.0h0M95.5 595.9h0M94.6 588.6h0M94.4 595.7h0M91.6 591.9h0M83.6 576.5h0M83.7 576.9h0M77.1 566.0h0M69.7 554.6h0M68.2 553.5h0M71.1 555.7h0M83.9 574.7h0M71.1 558.7h0M71.9 556.5h0M79.2 565.6h0M82.6 572.6h0M71.8 556.5h0M78.2 565.3h0M71.7 559.2h0M71.7 558.4h0M78.4 567.5h0M71.3 555.1h0M83.8 576.2h0M67.9 552.4h0M68.8 553.3h0M86.5 578.9h0M71.0 557.8h0M84.8 574.0h0M75.3 564.0h0" stroke="#12B36E" stroke-width="1.2" stroke-linecap="round" fill="none"/>
<path d="M103.5 618.4h0M104.0 614.0h0M104.4 619.9h0M105.5 620.7h0M108.3 612.5h0M112.1 617.5h0M108.5 612.8h0M109.9 613.6h0M103.7 614.7h0M109.6 615.3h0M104.9 612.8h0M109.4 618.6h0M108.1 616.6h0M107.6 616.6h0M103.0 619.3h0M102.7 613.6h0M102.8 620.4h0M110.0 612.7h0M110.3 615.1h0M101.9 618.0h0M103.9 614.1h0M107.3 612.9h0M103.9 620.5h0M107.7 620.1h0M109.4 617.9h0M105.8 613.0h0M108.9 614.8h0M105.5 619.8h0M111.4 615.3h0M109.9 616.9h0M103.7 613.9h0M110.4 618.5h0M107.4 618.8h0M107.3 618.4h0M103.6 619.8h0M103.8 620.5h0M111.1 613.4h0M101.8 615.1h0M105.7 620.6h0M105.6 619.7h0M102.6 617.2h0M108.3 615.9h0M110.4 620.0h0M109.9 613.8h0M105.0 618.6h0M109.9 615.9h0M105.8 615.7h0M104.8 615.6h0M111.6 616.3h0M102.7 616.7h0M105.8 614.1h0M102.6 617.0h0M107.1 617.1h0M106.8 612.8h0M101.3 615.7h0M110.5 615.3h0M107.8 619.2h0M103.4 617.3h0M105.2 612.7h0M101.5 616.3h0M103.9 620.3h0M108.6 614.6h0M106.4 612.0h0M101.3 614.9h0M107.1 619.1h0M103.6 619.1h0M109.7 614.9h0M101.9 617.3h0M104.8 612.4h0M106.6 617.9h0M105.6 615.9h0M102.8 616.1h0M109.6 618.9h0M104.5 615.5h0M105.0 612.6h0M103.2 617.5h0M103.3 615.7h0M107.1 615.0h0M100.3 614.7h0M101.2 617.3h0M110.1 614.3h0M106.6 620.4h0M107.1 619.9h0M102.8 617.0h0M105.1 616.8h0M107.9 621.5h0M103.7 615.6h0M108.3 617.7h0M108.1 613.0h0M108.3 617.1h0M106.7 617.3h0M105.3 613.5h0M107.3 615.4h0M104.1 613.3h0M103.2 616.4h0M106.7 613.1h0M110.6 618.0h0M105.1 615.4h0M105.0 618.3h0M108.1 615.1h0M102.5 619.6h0M102.5 613.3h0M106.2 613.8h0M109.9 613.9h0M105.2 614.7h0M110.4 615.9h0M101.4 616.3h0M107.0 620.1h0M108.4 619.4h0M102.5 613.9h0M110.3 614.5h0M111.1 613.5h0M105.3 618.1h0M111.3 614.3h0M107.4 617.1h0M106.1 616.7h0M104.2 620.7h0M107.2 616.0h0M108.8 615.2h0M102.2 620.2h0M104.7 621.2h0M106.8 617.4h0M111.0 619.2h0M111.6 614.4h0M110.8 617.3h0M103.0 617.2h0M101.7 618.9h0M109.5 616.6h0M100.3 616.1h0M104.0 616.3h0M105.0 618.0h0M109.3 619.7h0M104.5 617.2h0M109.9 613.2h0M100.6 618.3h0M110.3 615.2h0M107.6 613.3h0M107.0 618.1h0M107.8 616.3h0M105.3 612.4h0M103.2 614.5h0M107.2 618.4h0M107.1 618.7h0M102.1 617.5h0M108.6 616.6h0M107.1 618.5h0M107.4 616.5h0M105.3 617.0h0M104.5 615.4h0M111.4 615.9h0M101.0 618.7h0M110.6 615.0h0M104.8 615.9h0M103.9 617.7h0M106.1 616.6h0M105.3 612.4h0M105.9 618.1h0M100.4 618.1h0M102.2 614.5h0M101.6 619.8h0M106.6 615.6h0M103.9 618.6h0M103.4 619.7h0M105.6 612.4h0M109.0 614.8h0M107.8 613.4h0M111.8 616.3h0M103.0 616.0h0M111.3 613.1h0M103.1 620.6h0M107.1 617.8h0M105.8 620.1h0M111.9 619.0h0M106.4 620.0h0M103.2 613.7h0M109.0 621.0h0M108.1 619.8h0M108.9 616.7h0M102.1 618.8h0M104.0 620.1h0M102.8 614.5h0M107.7 615.4h0M105.2 617.5h0M108.4 616.8h0M109.2 618.6h0M111.7 617.1h0M100.6 616.2h0M108.3 617.2h0M109.2 618.5h0M104.9 613.8h0M108.5 617.6h0M108.1 616.6h0M106.5 617.9h0M106.7 616.0h0M110.5 615.4h0M106.9 616.5h0M111.3 615.4h0M103.4 618.6h0M106.8 613.0h0M101.3 616.5h0M103.0 617.2h0M108.8 614.1h0M106.4 617.0h0M101.9 614.3h0M108.5 613.9h0M103.2 614.2h0M105.2 620.4h0M106.4 615.3h0M104.9 619.8h0M104.3 621.0h0M111.5 618.8h0M107.2 619.6h0M107.7 614.3h0M102.4 615.0h0M107.8 615.7h0M108.3 616.5h0M102.0 619.7h0M106.7 616.2h0M112.0 614.3h0M109.1 617.2h0M108.9 613.5h0M104.9 614.8h0M109.4 616.9h0M102.4 617.3h0M106.2 619.6h0M108.8 618.1h0M106.7 616.2h0M108.2 613.5h0M109.0 617.2h0M104.3 613.5h0M106.3 613.8h0M104.0 616.7h0M101.6 614.8h0M102.6 620.4h0M103.4 615.7h0M106.8 618.1h0M104.3 616.0h0M107.2 617.8h0M101.2 615.2h0M105.7 616.1h0M104.3 617.4h0M109.3 620.5h0M102.1 618.2h0M100.7 618.9h0M110.8 615.1h0M104.7 620.4h0M103.7 620.5h0M105.7 619.4h0M108.0 620.0h0M107.0 615.7h0M109.9 615.7h0M108.5 620.6h0M107.4 619.2h0M106.1 620.8h0M104.2 614.6h0M105.0 619.6h0M104.9 617.9h0M109.1 620.1h0M106.8 613.9h0M110.0 618.8h0M110.0 610.1h0M110.0 606.7h0M112.8 607.7h0M114.7 608.3h0M111.0 612.2h0M108.1 610.0h0M111.4 608.4h0M107.3 608.3h0M115.1 606.6h0M110.6 611.8h0" stroke="#F5B03A" stroke-width="1.2" stroke-linecap="round" fill="none"/>
<circle cx="124" cy="497.4" r="2.0" fill="#12B36E"/>
<text x="130.0" y="499.8" font-size="6.8" text-anchor="start" font-weight="normal" font-style="normal" fill="#222">0</text>
<circle cx="124" cy="505.0" r="2.0" fill="#9B4FA5"/>
<text x="130.0" y="507.4" font-size="6.8" text-anchor="start" font-weight="normal" font-style="normal" fill="#222">1</text>
<circle cx="124" cy="512.6" r="2.0" fill="#F8282E"/>
<text x="130.0" y="515.0" font-size="6.8" text-anchor="start" font-weight="normal" font-style="normal" fill="#222">2</text>
<circle cx="124" cy="520.3" r="2.0" fill="#F5B03A"/>
<text x="130.0" y="522.7" font-size="6.8" text-anchor="start" font-weight="normal" font-style="normal" fill="#222">3</text>
<circle cx="124" cy="527.9" r="2.0" fill="#D2A679"/>
<text x="130.0" y="530.3" font-size="6.8" text-anchor="start" font-weight="normal" font-style="normal" fill="#222">4</text>
<circle cx="124" cy="535.5" r="2.0" fill="#1FA9E6"/>
<text x="130.0" y="537.9" font-size="6.8" text-anchor="start" font-weight="normal" font-style="normal" fill="#222">5</text>
<circle cx="124" cy="543.1" r="2.0" fill="#F0149B"/>
<text x="130.0" y="545.5" font-size="6.8" text-anchor="start" font-weight="normal" font-style="normal" fill="#222">6</text>
<path d="M63.6 682.2h1.5M59.7 671.9h1.5M61.6 674.4h1.5M61.6 677.5h1.5M61.5 673.6h1.5M59.4 667.0h1.5M59.3 671.3h1.5M64.9 689.2h1.5M58.9 668.6h1.5M53.4 661.2h1.5M57.0 663.6h1.5M59.0 668.1h1.5M64.5 689.9h1.5M52.1 651.6h1.5M61.3 672.2h1.5M55.2 658.1h1.5M61.8 678.2h1.5M64.4 686.4h1.5M54.3 655.7h1.5M52.7 653.0h1.5M54.2 655.5h1.5M64.6 692.1h1.5M53.1 652.0h1.5M63.7 684.7h1.5M64.8 691.4h1.5M60.0 666.6h1.5M60.7 669.5h1.5M53.1 651.0h1.5M62.4 677.3h1.5M54.8 657.2h1.5M51.3 650.6h1.5M63.7 683.2h1.5M58.4 670.3h1.5M56.2 662.2h1.5M62.4 679.5h1.5M54.6 655.2h1.5M53.3 657.9h1.5M55.8 659.6h1.5M52.9 654.1h1.5M62.1 678.6h1.5M60.3 669.0h1.5M62.2 687.3h1.5M60.9 674.2h1.5M63.6 689.0h1.5M56.3 660.3h1.5M56.6 660.1h1.5M59.8 672.1h1.5M63.0 681.3h1.5M61.0 672.6h1.5M60.8 678.4h1.5M60.1 676.9h1.5M54.1 653.0h1.5M56.0 663.4h1.5M59.6 671.3h1.5M62.0 681.2h1.5M57.5 705.2h1.5M57.8 707.0h1.5M63.4 694.2h1.5M60.6 702.8h1.5M56.8 702.9h1.5M62.3 698.9h1.5M64.2 697.4h1.5M56.7 705.8h1.5M56.8 704.4h1.5M49.3 718.7h1.5M53.4 709.1h1.5M49.1 718.9h1.5M46.7 722.0h1.5M54.4 709.1h1.5M50.6 715.9h1.5M45.6 725.0h1.5M61.9 700.7h1.5M49.2 717.9h1.5M58.0 699.1h1.5M47.6 720.5h1.5M52.6 716.1h1.5M47.1 721.0h1.5M45.8 724.8h1.5M58.4 702.1h1.5M46.3 718.5h1.5M61.8 701.2h1.5M54.7 712.0h1.5M55.9 707.8h1.5M54.6 709.3h1.5M57.0 706.8h1.5M64.2 690.9h1.5M57.9 707.7h1.5M54.3 707.9h1.5M58.8 704.3h1.5M60.2 698.5h1.5M61.5 696.2h1.5M54.1 710.3h1.5M63.4 697.7h1.5M47.2 721.2h1.5M47.4 726.4h1.5M49.3 721.4h1.5M50.1 718.6h1.5M48.0 716.8h1.5M50.2 717.1h1.5M60.7 699.5h1.5M50.2 717.8h1.5M53.0 713.7h1.5M61.1 701.1h1.5M66.0 697.7h1.5M58.6 701.6h1.5M50.6 712.8h1.5M46.5 723.7h1.5M58.4 703.8h1.5M58.7 705.3h1.5M63.0 700.8h1.5M47.2 721.2h1.5M44.9 727.2h1.5M53.3 714.5h1.5M48.7 718.3h1.5M61.2 702.3h1.5M65.1 697.8h1.5M61.7 698.2h1.5M50.2 714.6h1.5M57.3 706.8h1.5M50.8 717.1h1.5M46.3 722.5h1.5M61.1 702.1h1.5M60.0 700.2h1.5M44.6 726.4h1.5M58.5 707.7h1.5M39.5 728.1h1.5M38.7 732.8h1.5M43.1 734.4h1.5M40.0 730.7h1.5M38.3 726.3h1.5M44.2 723.0h1.5M45.3 725.5h1.5M35.5 730.4h1.5M43.6 723.3h1.5M42.7 733.8h1.5M50.4 721.4h1.5M47.1 722.7h1.5M38.0 730.5h1.5M39.5 733.4h1.5M48.1 725.7h1.5M47.2 726.1h1.5M38.9 730.3h1.5M44.2 721.3h1.5M45.9 725.5h1.5M36.4 730.6h1.5M44.0 728.5h1.5M40.6 730.0h1.5M41.4 723.9h1.5M48.5 728.2h1.5M40.0 738.7h1.5M41.8 729.8h1.5M43.5 731.3h1.5M44.2 720.2h1.5M43.4 726.1h1.5M42.0 723.6h1.5M47.7 726.6h1.5M43.8 721.3h1.5M46.6 725.8h1.5M44.4 729.2h1.5M43.8 725.9h1.5M40.4 724.0h1.5M47.6 728.6h1.5M40.0 726.2h1.5M46.4 726.4h1.5M44.0 731.4h1.5M42.7 738.8h1.5M38.8 722.2h1.5M40.2 732.8h1.5M40.5 728.9h1.5M44.4 727.9h1.5M45.8 726.8h1.5M43.9 729.1h1.5M42.2 736.1h1.5M43.8 730.3h1.5M39.5 724.8h1.5M40.9 734.7h1.5M43.0 729.0h1.5M41.5 726.9h1.5M45.8 727.0h1.5M43.1 721.7h1.5M40.8 729.9h1.5M44.0 725.1h1.5M42.5 725.2h1.5M44.2 727.0h1.5M46.6 722.2h1.5M41.4 730.6h1.5M41.8 731.5h1.5M42.6 732.7h1.5M38.9 726.5h1.5M42.8 733.8h1.5M39.3 733.4h1.5M48.9 722.9h1.5M43.5 729.5h1.5M45.6 723.2h1.5M43.0 737.4h1.5M39.9 731.5h1.5M43.3 734.6h1.5M45.5 734.6h1.5M37.8 742.6h1.5M40.4 734.2h1.5M39.3 727.2h1.5M45.7 719.0h1.5M36.6 740.2h1.5M44.8 729.1h1.5M41.8 728.3h1.5M41.8 734.6h1.5M41.4 736.2h1.5M43.1 720.9h1.5M41.7 729.4h1.5M43.9 725.2h1.5M44.2 722.0h1.5M42.1 735.9h1.5M43.1 723.9h1.5M41.0 726.8h1.5M45.5 726.6h1.5M47.5 729.6h1.5M42.4 731.2h1.5M43.6 732.9h1.5M41.5 727.3h1.5M41.4 732.5h1.5M41.3 737.0h1.5M45.5 724.0h1.5M49.2 724.2h1.5M41.5 730.3h1.5M46.3 721.8h1.5M42.3 730.9h1.5M39.2 735.0h1.5M45.5 721.4h1.5M40.8 723.9h1.5M42.5 721.2h1.5M45.3 725.8h1.5M47.4 725.5h1.5M43.2 736.9h1.5M42.8 722.8h1.5M42.5 727.0h1.5M79.8 696.0h1.5M81.6 696.1h1.5M76.5 694.2h1.5M83.8 697.0h1.5M75.0 695.3h1.5M78.9 694.4h1.5M78.3 695.6h1.5M66.3 692.7h1.5M79.4 696.0h1.5M75.1 694.5h1.5M89.1 696.0h1.5M84.2 695.0h1.5M70.6 694.9h1.5M69.9 694.9h1.5M77.4 694.8h1.5M85.8 696.4h1.5M85.2 694.8h1.5M67.6 693.6h1.5M71.3 693.2h1.5M73.2 694.0h1.5M81.3 697.0h1.5M80.8 693.8h1.5M87.2 695.8h1.5M85.2 693.7h1.5M77.5 696.9h1.5M82.5 696.7h1.5M74.8 694.5h1.5M80.9 696.6h1.5M84.5 693.4h1.5M70.8 693.7h1.5M84.3 696.2h1.5M74.9 694.4h1.5M80.5 693.5h1.5M68.7 694.2h1.5M80.8 697.6h1.5M86.8 694.1h1.5M78.4 695.9h1.5M70.0 694.4h1.5M80.0 697.1h1.5M75.1 694.3h1.5M69.8 694.2h1.5M80.8 691.9h1.5M88.4 697.1h1.5M94.8 694.6h1.5M74.6 696.1h1.5M35.5 739.9h1.5M33.6 739.1h1.5M37.2 738.4h1.5M34.9 736.2h1.5M37.0 738.6h1.5M32.3 737.9h1.5M35.7 738.5h1.5M37.1 738.7h1.5M39.1 739.7h1.5M38.5 740.3h1.5" stroke="#9B4FA5" stroke-width="1.5" fill="none"/>
<path d="M120.2 696.1h1.5M105.3 695.8h1.5M116.5 697.3h1.5M120.7 697.7h1.5M99.2 695.4h1.5M98.7 696.3h1.5M132.5 699.1h1.5M106.0 696.9h1.5M116.8 696.5h1.5M112.1 697.6h1.5M109.3 698.0h1.5M106.1 696.1h1.5M115.2 698.1h1.5M117.2 697.3h1.5M95.3 697.6h1.5M110.3 696.3h1.5M115.2 696.6h1.5M123.0 696.5h1.5M107.8 696.9h1.5M106.8 696.0h1.5M110.1 696.1h1.5M99.3 696.4h1.5M93.8 696.8h1.5M129.4 699.8h1.5M101.7 697.5h1.5M128.6 700.9h1.5M99.4 696.2h1.5M103.5 696.2h1.5M103.2 697.2h1.5M116.5 699.5h1.5M112.8 695.5h1.5M128.2 699.4h1.5M108.3 697.3h1.5M103.2 696.6h1.5M100.6 698.3h1.5M128.0 700.7h1.5M125.0 698.8h1.5M124.6 697.6h1.5M119.6 698.5h1.5M109.5 695.8h1.5M102.9 695.5h1.5M110.7 697.8h1.5M104.5 696.1h1.5M122.3 699.0h1.5M107.0 697.2h1.5M108.1 695.9h1.5M103.2 695.0h1.5M118.7 696.0h1.5M131.9 699.0h1.5M133.6 700.2h1.5M111.5 695.9h1.5M98.7 699.2h1.5M109.0 698.7h1.5M111.4 696.5h1.5M132.6 698.3h1.5M144.4 701.9h1.5M145.6 706.0h1.5M164.0 710.0h1.5M148.2 705.2h1.5M139.6 703.4h1.5M160.8 707.9h1.5M144.6 703.4h1.5M136.3 701.2h1.5M151.3 704.4h1.5M145.4 703.3h1.5M134.5 700.3h1.5M155.8 707.4h1.5M147.5 703.9h1.5M164.9 708.2h1.5M144.4 703.5h1.5M142.7 703.6h1.5M163.7 708.8h1.5M138.2 701.0h1.5M134.6 699.9h1.5M142.0 704.5h1.5M156.4 706.8h1.5M152.4 707.3h1.5M131.4 700.1h1.5M139.9 703.2h1.5M160.0 708.3h1.5M135.2 699.5h1.5M145.9 704.1h1.5M153.5 707.9h1.5M141.7 701.9h1.5M160.0 706.4h1.5M146.9 704.4h1.5M145.0 705.2h1.5M150.7 707.3h1.5M159.1 707.9h1.5M159.1 706.6h1.5M138.6 702.7h1.5M151.5 703.9h1.5M159.2 707.7h1.5M159.8 707.2h1.5M138.5 703.0h1.5M136.5 700.4h1.5M138.6 702.0h1.5M150.7 707.4h1.5M166.2 709.5h1.5M160.3 706.9h1.5M155.6 706.7h1.5M162.2 709.2h1.5M143.3 704.2h1.5M149.7 704.6h1.5M131.1 698.4h1.5M161.3 709.7h1.5M160.9 709.2h1.5M141.0 703.7h1.5M148.5 704.9h1.5M150.2 705.5h1.5M148.8 705.8h1.5M139.2 701.7h1.5M162.7 709.6h1.5M153.1 705.4h1.5M144.2 702.6h1.5M151.1 707.3h1.5M132.4 698.2h1.5M161.4 709.3h1.5M160.0 707.4h1.5M155.4 707.1h1.5M134.4 699.9h1.5M159.2 707.7h1.5M163.5 708.8h1.5M159.8 705.9h1.5M167.7 705.7h1.5M148.8 705.8h1.5M151.7 706.1h1.5M141.0 703.2h1.5M165.4 709.3h1.5M147.0 704.3h1.5" stroke="#1FA9E6" stroke-width="1.5" fill="none"/>
<path d="M129.1 699.2h1.5M89.4 694.4h1.5M95.6 695.9h1.5M130.7 699.7h1.5M101.1 694.4h1.5M114.9 696.2h1.5M107.7 695.6h1.5M85.2 696.0h1.5M116.5 696.8h1.5M88.3 695.9h1.5M102.4 695.3h1.5M100.6 696.3h1.5M108.1 695.2h1.5M99.9 695.7h1.5M108.8 695.9h1.5M118.3 697.0h1.5M120.3 697.0h1.5M122.5 697.6h1.5M120.9 695.4h1.5M111.5 694.5h1.5M111.0 696.5h1.5M90.7 695.3h1.5M115.7 695.1h1.5M114.0 695.7h1.5M121.0 697.5h1.5M93.4 694.5h1.5M119.1 695.0h1.5M96.8 697.0h1.5M96.5 694.6h1.5M101.5 694.1h1.5M95.8 694.9h1.5M108.4 696.2h1.5M128.5 698.2h1.5M126.6 698.5h1.5M101.8 694.6h1.5M133.8 699.3h1.5M126.3 697.9h1.5M96.3 694.3h1.5M101.2 695.2h1.5M97.7 694.5h1.5M125.6 697.7h1.5M115.2 695.5h1.5M85.8 695.6h1.5M109.3 695.4h1.5M121.2 697.4h1.5M122.7 697.3h1.5M88.1 693.6h1.5M112.9 695.9h1.5M125.1 697.5h1.5M109.9 694.9h1.5M94.8 695.1h1.5M100.7 695.5h1.5M85.4 694.9h1.5M109.3 695.9h1.5M94.6 693.9h1.5M102.8 695.7h1.5M111.5 695.6h1.5M109.9 695.4h1.5M125.9 698.6h1.5M95.1 694.5h1.5M131.2 698.1h1.5M122.1 697.3h1.5M119.4 696.8h1.5M128.9 697.2h1.5M126.8 696.5h1.5M84.4 696.3h1.5M114.2 696.0h1.5M125.3 696.7h1.5M110.7 696.7h1.5M89.4 693.9h1.5M98.3 694.3h1.5M121.3 697.6h1.5M105.5 696.3h1.5M115.1 695.9h1.5M99.3 695.1h1.5M106.3 696.8h1.5M96.7 695.0h1.5M88.6 695.0h1.5M131.3 698.7h1.5M91.0 694.4h1.5M129.0 698.6h1.5M132.2 699.5h1.5M86.2 694.2h1.5M85.6 695.8h1.5M131.7 699.3h1.5M91.9 692.8h1.5M84.2 697.3h1.5M83.5 693.7h1.5M127.6 696.6h1.5M112.4 696.1h1.5M109.6 696.3h1.5M127.7 698.2h1.5M117.2 695.1h1.5M123.9 699.3h1.5M101.0 695.2h1.5" stroke="#12B36E" stroke-width="1.5" fill="none"/>
<path d="M126.0 695.1h1.5M133.0 698.0h1.5M124.4 695.4h1.5M95.0 695.0h1.5M129.7 698.4h1.5M131.9 697.5h1.5M116.4 693.1h1.5M93.8 693.9h1.5M123.0 696.8h1.5M99.9 694.8h1.5M99.4 694.1h1.5M124.9 697.0h1.5M93.7 692.8h1.5M95.1 695.0h1.5M122.4 696.5h1.5M125.2 696.8h1.5M102.5 693.3h1.5M97.5 695.0h1.5M132.6 699.7h1.5M108.3 695.6h1.5M105.2 694.7h1.5M123.5 696.0h1.5M130.8 697.1h1.5M104.6 694.8h1.5M107.7 695.1h1.5M88.4 694.1h1.5M121.9 696.1h1.5M117.9 696.0h1.5M118.7 695.8h1.5M98.6 694.4h1.5M90.1 695.7h1.5M110.5 696.4h1.5M88.2 695.9h1.5M130.1 699.0h1.5M107.6 694.9h1.5M90.0 694.8h1.5M133.4 699.6h1.5M92.1 694.2h1.5M119.8 693.9h1.5M132.9 699.5h1.5M106.1 695.9h1.5M135.0 701.0h1.5M122.3 696.8h1.5M122.5 697.2h1.5M112.1 695.3h1.5M130.4 698.9h1.5M118.0 695.4h1.5M119.4 696.8h1.5M94.3 695.9h1.5M132.5 700.3h1.5M113.5 696.0h1.5M135.6 698.5h1.5M93.0 695.0h1.5M116.9 697.1h1.5M101.4 696.7h1.5M97.0 695.1h1.5M89.7 693.8h1.5M106.5 695.9h1.5M134.2 699.6h1.5M96.3 694.3h1.5M134.5 699.2h1.5M131.0 698.6h1.5M101.2 693.2h1.5M107.1 694.6h1.5M86.5 696.3h1.5M89.5 694.5h1.5M100.4 695.6h1.5M87.3 694.0h1.5M106.7 694.8h1.5M115.4 696.2h1.5M121.1 696.0h1.5M121.4 695.4h1.5M105.6 694.4h1.5M121.1 696.0h1.5M132.2 698.4h1.5M95.1 695.8h1.5M98.9 694.1h1.5M111.3 696.7h1.5M96.6 695.0h1.5M102.1 695.0h1.5M133.8 697.7h1.5M121.0 695.5h1.5M126.4 697.5h1.5M85.2 693.6h1.5M114.7 695.5h1.5M93.8 694.3h1.5M118.6 696.7h1.5M95.8 695.2h1.5M86.4 693.5h1.5M107.7 694.9h1.5M127.2 698.3h1.5M111.6 695.8h1.5M99.3 694.8h1.5M115.5 696.3h1.5M124.1 698.2h1.5" stroke="#F5B03A" stroke-width="1.5" fill="none"/>
<path d="M39.3 740.5h1.4M46.3 735.0h1.4" stroke="#1FA9E6" stroke-width="1.4" fill="none"/>
<path d="M54.5 656.8L58.0 668.0L62.0 682.0L64.8 693.2" fill="none" stroke="#111" stroke-width="1.3" stroke-linejoin="round" stroke-linecap="round"/>
<path d="M64.8 693.2L75.0 694.0L92.7 695.0L110.0 695.5L125.5 697.0L134.0 699.5L141.8 702.5" fill="none" stroke="#111" stroke-width="1.3" stroke-linejoin="round" stroke-linecap="round"/>
<path d="M64.8 693.2L60.0 703.0L52.0 716.0L43.6 729.5" fill="none" stroke="#111" stroke-width="1.3" stroke-linejoin="round" stroke-linecap="round"/>
<circle cx="64.8" cy="693.2" r="1.2" fill="#fff" stroke="#111" stroke-width="0.5"/>
<path d="M65.5 734H132" stroke="#111" stroke-width="0.7"/>
<path d="M135 734l-4.6 -2.1v4.2z" fill="#111"/>
<text x="100.0" y="744.8" font-size="7.3" text-anchor="middle" font-weight="normal" font-style="normal" fill="#222">pseudotime</text>
<rect x="147.9" y="646.0" width="3.4" height="3.4" fill="#9B4FA5"/>
<text x="153.9" y="650.3" font-size="7.2" text-anchor="start" font-weight="normal" font-style="normal" fill="#222">subpopulation 1</text>
<rect x="147.9" y="658.0" width="3.4" height="3.4" fill="#12B36E"/>
<text x="153.9" y="662.3" font-size="7.2" text-anchor="start" font-weight="normal" font-style="normal" fill="#222">subpopulation 0</text>
<rect x="147.9" y="670.0" width="3.4" height="3.4" fill="#F5B03A"/>
<text x="153.9" y="674.3" font-size="7.2" text-anchor="start" font-weight="normal" font-style="normal" fill="#222">subpopulation 3</text>
<rect x="147.9" y="682.0" width="3.4" height="3.4" fill="#1FA9E6"/>
<text x="153.9" y="686.3" font-size="7.2" text-anchor="start" font-weight="normal" font-style="normal" fill="#222">subpopulation 5</text>
<path d="M353.0 525.0h0M345.1 534.0h0M370.7 555.1h0M357.6 595.3h0M352.2 534.9h0M369.4 546.2h0M388.7 543.7h0M381.1 543.1h0M358.1 531.0h0M370.1 560.0h0M374.4 557.6h0M364.0 562.9h0M376.4 557.7h0M374.4 527.0h0M357.8 544.0h0M367.9 550.9h0M359.6 550.6h0M370.8 561.2h0M346.0 529.6h0M383.2 546.8h0M352.7 541.3h0M383.2 532.1h0M360.0 532.7h0M367.3 540.1h0M357.7 540.8h0M375.9 552.2h0M361.5 535.0h0M343.5 549.3h0M359.3 530.2h0M359.1 555.8h0M377.2 533.2h0M351.2 539.2h0M371.9 559.9h0M366.2 528.9h0M357.4 532.7h0M353.5 556.7h0M365.3 532.7h0M368.0 529.1h0M387.9 550.7h0M357.5 555.9h0M354.9 542.0h0M387.6 544.9h0M380.7 545.2h0M382.2 535.1h0M361.1 535.5h0M359.4 527.9h0M358.0 534.3h0M350.9 535.4h0M378.5 559.0h0M350.1 530.6h0M379.2 550.2h0M367.9 562.5h0M364.7 531.2h0M377.6 541.3h0M369.7 562.5h0M344.7 533.9h0M360.7 560.7h0M372.9 544.0h0M343.9 538.6h0M380.9 543.9h0M364.4 551.1h0M349.3 585.4h0M365.1 537.8h0M364.1 554.0h0M380.8 539.9h0M379.2 546.4h0M368.1 527.0h0M357.6 528.2h0M362.8 549.0h0M379.5 554.1h0M370.3 529.4h0M371.8 528.0h0M381.6 548.4h0M354.5 552.2h0M368.5 563.3h0M361.4 550.8h0M352.1 564.6h0M384.4 540.7h0M357.8 534.7h0M364.3 533.6h0M356.3 530.9h0M368.3 563.6h0M355.6 520.1h0M370.7 556.6h0M347.4 552.3h0M356.3 549.5h0M362.1 544.9h0M376.1 554.0h0M380.9 545.7h0M357.5 570.1h0M373.8 524.1h0M359.0 525.2h0M361.4 569.2h0M351.6 566.9h0M376.2 527.5h0M368.0 539.5h0M366.6 526.2h0M381.6 537.4h0M383.8 545.2h0M381.8 542.9h0M351.3 547.6h0M382.4 553.6h0M371.8 524.6h0M380.8 546.4h0M380.2 536.2h0M373.7 549.0h0M365.4 533.5h0M365.7 537.9h0M374.4 534.1h0M361.0 554.5h0M374.7 559.1h0M368.0 543.2h0M377.2 530.7h0M386.3 546.0h0M352.0 523.6h0M382.7 541.2h0M367.1 544.0h0M362.3 554.5h0M386.9 536.3h0M361.4 525.3h0M368.9 521.7h0M364.3 564.5h0M378.7 553.5h0M354.8 549.7h0M365.2 526.9h0M350.3 582.0h0M357.1 545.0h0M373.7 546.5h0M381.3 545.6h0M356.9 557.1h0M368.3 542.5h0M379.6 555.1h0M383.7 537.8h0M349.3 559.4h0M375.9 539.1h0M371.5 536.0h0M361.1 545.9h0M374.4 537.8h0M342.7 537.0h0M350.3 536.9h0M361.8 561.5h0M372.6 536.5h0M361.1 561.2h0M353.0 527.4h0M362.5 531.3h0M356.5 563.4h0M380.7 550.6h0M373.4 544.3h0M381.5 548.2h0M360.8 551.2h0M365.8 564.5h0M372.5 555.2h0M371.3 537.5h0M362.2 539.2h0M374.1 529.5h0M379.7 547.9h0M385.6 544.3h0M345.3 531.9h0M357.3 562.5h0M376.9 541.1h0M351.6 540.9h0M356.7 528.0h0M354.1 525.2h0M366.5 543.0h0M377.0 541.1h0M347.0 539.1h0M361.5 549.9h0M356.3 558.4h0M366.8 537.9h0M379.0 538.7h0M353.7 536.9h0M369.4 527.2h0M356.3 555.7h0M357.1 550.7h0M370.1 560.6h0M359.6 554.7h0M344.9 531.6h0M373.4 551.1h0M345.1 544.1h0M349.4 525.2h0M379.9 544.4h0M372.5 557.8h0M386.1 535.5h0M359.4 553.6h0M380.5 553.7h0M362.1 558.1h0M376.0 538.6h0M373.4 540.2h0M372.7 527.8h0M363.6 556.4h0M374.9 546.2h0M375.2 546.0h0M382.0 534.2h0M360.9 531.8h0M362.6 572.1h0M370.0 539.4h0M370.6 522.6h0M377.4 547.0h0M378.0 554.7h0M380.5 541.7h0M350.0 545.9h0M377.3 530.5h0M381.3 539.9h0M363.7 561.2h0M383.9 549.0h0M376.0 537.4h0M357.0 540.3h0M362.5 540.4h0M358.1 538.2h0M349.3 534.0h0M350.9 540.2h0M382.0 544.8h0M351.2 557.9h0M353.9 530.1h0M368.1 562.0h0M351.0 535.4h0M364.4 542.6h0M350.9 532.9h0M384.5 549.4h0M366.9 539.3h0M366.6 539.3h0M366.8 523.7h0M372.5 551.7h0M375.0 548.3h0M374.2 534.6h0M372.2 561.5h0M371.9 525.7h0M346.4 525.9h0M361.6 565.0h0M361.8 529.2h0M371.2 552.4h0M371.7 527.5h0M378.1 553.4h0M364.0 561.5h0M374.1 559.8h0M383.0 550.6h0M371.0 545.4h0M348.2 557.3h0M348.0 570.4h0M365.9 534.8h0M364.9 550.6h0M364.1 534.1h0M386.3 550.2h0M356.0 555.5h0M359.2 534.7h0M371.5 528.1h0M352.6 551.4h0M374.5 558.1h0M354.0 538.6h0M377.4 548.6h0M347.7 536.0h0M348.3 546.1h0M360.9 562.8h0M378.6 554.3h0M364.9 549.0h0M365.6 521.5h0M362.0 525.7h0M364.3 529.5h0M374.3 543.1h0M367.6 552.8h0M347.4 557.2h0M373.7 555.6h0M375.5 559.3h0M354.6 552.4h0M354.6 562.4h0M343.5 552.5h0M365.7 535.2h0M353.9 523.9h0M345.4 562.3h0M380.6 546.3h0M344.2 551.0h0M363.9 553.1h0M347.6 535.4h0M376.1 541.5h0M364.2 551.7h0M354.9 560.9h0M377.5 533.8h0M358.9 534.7h0M356.1 548.4h0M366.1 527.0h0M361.0 557.1h0M345.5 546.8h0M352.6 549.1h0M372.5 526.5h0M372.4 531.2h0M378.2 527.9h0M341.9 531.7h0M372.4 551.6h0M358.7 554.3h0M353.6 529.8h0M343.5 537.5h0M356.9 561.4h0M385.5 549.5h0M360.8 542.5h0M378.8 557.9h0M369.8 542.0h0M375.5 528.4h0M378.6 550.3h0M364.6 524.1h0M351.2 524.7h0M345.6 552.0h0M367.1 556.7h0M368.3 528.6h0M359.9 534.6h0M355.0 549.2h0M361.1 530.7h0M347.2 558.8h0M353.6 522.9h0M347.8 537.1h0M372.7 536.7h0M353.6 524.1h0M355.1 557.9h0M361.0 527.7h0M373.3 532.1h0M351.4 553.9h0M355.9 563.6h0M352.4 547.0h0M382.1 550.7h0M370.7 536.9h0M368.0 535.3h0M368.9 553.1h0M366.8 523.6h0M346.9 542.3h0M376.5 532.9h0M384.9 537.0h0M365.1 564.3h0M372.8 557.9h0M355.8 564.2h0M358.1 521.1h0M384.1 538.9h0M366.2 555.7h0M350.4 548.2h0M363.7 533.0h0M355.8 548.3h0M351.6 559.0h0M371.6 545.4h0M345.5 569.9h0M374.4 547.9h0M346.2 528.0h0M352.3 546.1h0M352.3 556.5h0M360.3 563.5h0M348.1 530.8h0M386.9 541.1h0M349.8 559.7h0M367.8 533.8h0M345.9 546.7h0M382.3 543.4h0M357.3 528.4h0M362.6 531.7h0M366.5 537.8h0M373.8 542.5h0M346.9 556.4h0M367.5 571.1h0M361.7 521.0h0M368.1 540.5h0M375.7 560.6h0M348.8 564.3h0M385.0 552.5h0M366.4 555.1h0M366.2 550.4h0M377.1 550.0h0M352.3 525.6h0M379.3 545.9h0M360.0 554.5h0M366.7 526.3h0M361.7 557.5h0M354.5 525.8h0M367.7 561.3h0M351.1 536.7h0M371.5 554.4h0M355.1 526.2h0M368.9 540.4h0M359.3 551.4h0M367.4 531.7h0M349.4 558.4h0M352.2 552.5h0M356.4 532.8h0M350.9 571.9h0M367.2 551.6h0M368.3 561.1h0M374.3 524.6h0M378.3 544.9h0M357.8 530.4h0M356.9 559.9h0M356.8 528.3h0M375.9 528.1h0M366.7 559.2h0M356.6 552.7h0M385.0 541.6h0M366.4 554.4h0M349.5 547.5h0M363.0 552.5h0M361.8 559.3h0M359.7 551.2h0M371.9 545.3h0M372.4 546.2h0M372.7 556.2h0M357.8 549.7h0M367.6 544.9h0M358.2 544.5h0M358.9 525.0h0M382.1 553.7h0M371.5 542.3h0M360.8 524.4h0M353.4 564.3h0M383.9 544.9h0M348.1 539.5h0M354.7 523.0h0M366.2 555.0h0M350.8 529.6h0M368.0 538.9h0M373.0 559.4h0M375.2 537.8h0M368.9 527.5h0M355.2 529.6h0M347.5 559.7h0M370.4 556.2h0M356.4 524.1h0M349.6 521.4h0M365.2 547.6h0M343.5 536.1h0M374.7 527.9h0M364.3 564.4h0M359.4 541.6h0M369.8 523.5h0M382.9 543.9h0M357.4 538.5h0M359.9 563.8h0M343.6 548.4h0M358.5 538.8h0M366.8 549.2h0M352.6 533.1h0M360.5 560.3h0M379.0 538.1h0M360.5 538.9h0M378.6 558.2h0M347.3 524.9h0M367.4 530.4h0M376.4 553.4h0M373.6 554.6h0M380.2 538.7h0M358.3 528.7h0M371.7 528.5h0M361.4 558.0h0M355.7 538.7h0M355.2 552.9h0M351.0 526.8h0M347.8 544.2h0M378.6 556.4h0M371.6 559.8h0M357.9 521.5h0M360.0 527.4h0M358.1 539.7h0M359.4 526.0h0M364.4 549.4h0M356.7 536.2h0M361.0 546.2h0M351.0 562.0h0M358.0 557.5h0M351.7 525.3h0M381.7 535.9h0M364.7 548.2h0M348.9 549.4h0M356.8 549.0h0M343.5 535.9h0M361.5 566.8h0M375.2 533.0h0M361.4 559.8h0M375.9 546.8h0M370.3 532.6h0M380.6 545.3h0M377.5 526.3h0M384.7 546.9h0M383.6 545.1h0M356.7 562.1h0M360.5 521.1h0M363.1 544.4h0M361.4 524.5h0M350.3 546.4h0M376.8 537.5h0M376.3 544.3h0M360.3 553.5h0M353.0 522.4h0M381.2 549.9h0M369.0 559.5h0M355.5 528.0h0M366.6 547.7h0M354.8 545.4h0M371.9 531.5h0M343.1 546.1h0M383.5 536.9h0M353.6 523.2h0M367.8 548.3h0M374.4 545.9h0M371.5 553.3h0M382.7 541.0h0M372.9 548.3h0M363.8 521.5h0M364.6 525.4h0M351.8 549.3h0M383.6 541.7h0M373.7 528.0h0M368.2 554.4h0M375.6 526.6h0M378.1 543.9h0M372.5 536.9h0M363.4 560.8h0M354.9 552.1h0M353.7 529.0h0M352.6 554.3h0M384.4 534.1h0M363.0 547.8h0M376.8 548.6h0M378.5 554.2h0M365.9 522.9h0M355.8 527.4h0M352.7 526.9h0M360.4 552.6h0M351.2 543.7h0M363.0 540.2h0M373.3 555.7h0M370.8 529.9h0M346.8 558.9h0M353.2 551.0h0M356.9 523.8h0M347.3 551.4h0M373.0 558.0h0M361.7 532.7h0M376.0 530.0h0M373.8 541.3h0M356.5 524.1h0M360.1 559.9h0M361.9 526.2h0M344.9 548.7h0M364.8 520.5h0M360.0 555.8h0M361.0 527.3h0M363.0 536.9h0M352.4 522.3h0M381.2 542.4h0M363.6 542.1h0M383.4 545.6h0M379.7 545.0h0M343.7 542.0h0M377.3 542.0h0M344.8 552.4h0M387.8 537.5h0M362.8 554.2h0M361.0 528.5h0M366.6 559.4h0M350.2 531.5h0M344.6 527.8h0M371.4 556.4h0M378.0 540.1h0M351.2 544.4h0M344.8 535.9h0M382.9 546.3h0M346.6 549.0h0M384.3 541.3h0M356.3 549.4h0M359.2 519.2h0M366.6 544.6h0M348.0 531.2h0M360.4 550.0h0M381.2 538.2h0M355.4 563.1h0M350.7 556.3h0M367.2 525.5h0M360.8 568.0h0M362.1 535.3h0M345.9 550.8h0M352.7 525.5h0M358.5 541.9h0M355.3 521.8h0M379.4 546.8h0M347.8 535.4h0M339.7 537.9h0M363.5 547.3h0M351.9 556.3h0M362.6 557.3h0M356.5 524.0h0M361.7 522.1h0M358.3 545.9h0M340.4 553.5h0M359.5 546.8h0M383.1 545.2h0M372.1 531.2h0M361.4 560.3h0M364.5 529.6h0M377.3 550.7h0M351.5 551.6h0M371.0 544.3h0M360.5 527.3h0M371.3 557.6h0M357.6 525.2h0M346.3 534.5h0M387.0 546.0h0M364.4 546.5h0M369.5 528.1h0M369.1 532.3h0M357.1 544.6h0M380.6 555.2h0M365.0 544.3h0M380.2 540.3h0M372.5 555.6h0M367.8 548.2h0M353.0 547.8h0M360.8 548.3h0M368.0 557.0h0M353.2 544.4h0M376.2 540.9h0M364.6 551.1h0M355.1 529.8h0M361.1 557.7h0M372.0 527.4h0M345.3 552.1h0M346.8 538.6h0M371.5 551.5h0M384.0 543.9h0M342.9 549.2h0M376.5 535.1h0M342.5 550.3h0M367.4 522.4h0M361.2 542.7h0M368.0 554.9h0M375.0 554.6h0M363.8 526.2h0M381.0 549.2h0M372.1 533.2h0M359.4 545.3h0M387.3 543.8h0M352.4 534.4h0M349.6 548.3h0M370.7 544.4h0M351.3 557.3h0M364.3 543.8h0M363.1 539.0h0M375.0 553.5h0M383.5 547.6h0M378.5 555.4h0M378.9 538.6h0M378.6 548.7h0M371.2 539.5h0M362.9 523.9h0M370.7 569.9h0M339.5 539.4h0M378.7 554.7h0M354.3 535.4h0M356.8 531.4h0M360.9 557.1h0M384.1 553.9h0M378.3 545.8h0M358.8 537.2h0M369.4 568.4h0M362.4 555.5h0M384.2 535.0h0M384.1 543.9h0M370.4 523.2h0M357.8 537.8h0M365.0 551.5h0M378.1 534.6h0M355.6 534.4h0M368.7 561.6h0M369.4 548.3h0M349.7 526.4h0M346.5 546.9h0M363.1 534.8h0M365.1 555.5h0M354.4 565.0h0M371.2 557.9h0M353.2 561.7h0M362.9 524.4h0M383.1 546.4h0M380.5 554.6h0M378.6 535.1h0M362.6 525.0h0M363.5 536.1h0M346.4 549.5h0M364.1 543.3h0M368.7 545.0h0M377.7 529.9h0M360.5 541.9h0M350.7 527.3h0M350.6 525.2h0M358.5 541.7h0M360.0 563.1h0M362.8 563.3h0M373.5 550.0h0M362.1 562.7h0M366.3 542.9h0M360.1 553.9h0M339.5 539.7h0M339.8 552.0h0M346.2 552.3h0M363.6 563.5h0M373.1 537.2h0M355.7 523.5h0M366.0 564.6h0M381.5 545.6h0M379.8 556.2h0M346.2 556.5h0M359.3 535.5h0M367.0 554.1h0M379.2 534.5h0M376.0 547.5h0M373.5 527.0h0M360.2 525.5h0M379.1 542.9h0M373.4 550.8h0M358.3 529.2h0M364.9 561.7h0M361.7 535.3h0M382.4 541.4h0M365.3 541.1h0M366.4 521.9h0M371.8 552.1h0M370.9 559.1h0M357.2 557.0h0M368.4 551.9h0M342.3 540.1h0M376.5 529.9h0M380.4 534.1h0M349.9 538.6h0M377.5 550.8h0M378.4 552.7h0M357.1 543.6h0M370.2 557.1h0M380.2 548.7h0M365.4 534.9h0M349.5 542.4h0M349.9 560.6h0M378.2 544.5h0M365.0 539.1h0M386.7 548.8h0M382.2 537.5h0M380.1 538.0h0M357.8 554.4h0M358.5 568.4h0M367.3 546.9h0M347.8 529.1h0M346.0 529.3h0M362.6 526.4h0M364.3 548.9h0M359.9 530.3h0M355.4 543.3h0M357.1 538.1h0M348.8 527.5h0M358.8 548.3h0M354.0 539.2h0M387.8 540.4h0M388.0 543.1h0M384.8 550.2h0M378.2 540.0h0M345.0 548.2h0M374.0 542.9h0M360.6 553.7h0M388.4 544.0h0M359.8 537.4h0M347.9 543.2h0M369.0 533.1h0M362.6 558.2h0M361.1 530.1h0M374.2 554.1h0M377.6 544.5h0M371.0 527.2h0M361.0 552.5h0M382.9 535.2h0M351.3 536.5h0M370.7 535.2h0M347.0 560.3h0M347.3 567.8h0M377.8 546.8h0M361.2 544.7h0M351.7 533.5h0M369.2 549.4h0M372.9 557.1h0M379.8 540.5h0M363.9 558.5h0M360.5 523.2h0M359.1 532.0h0M372.4 532.9h0M383.6 549.0h0M376.5 556.8h0M369.4 545.8h0M382.5 533.5h0M361.5 559.0h0M356.7 521.6h0M343.3 532.7h0M341.9 550.5h0M374.7 561.8h0M359.2 541.2h0M377.5 550.9h0M349.0 535.5h0M368.3 534.1h0M373.4 546.1h0M375.7 537.8h0M385.0 548.1h0M357.9 528.5h0M354.3 560.3h0M359.5 561.5h0M360.9 539.3h0M368.1 557.4h0M378.6 544.7h0M375.8 532.0h0M357.3 548.9h0M362.4 551.6h0M369.1 527.3h0M372.5 548.8h0M351.8 549.1h0M369.3 545.7h0M365.2 549.3h0M379.0 534.9h0M345.6 546.1h0M357.1 538.3h0M382.3 541.6h0M366.5 556.1h0M368.0 534.1h0M380.2 548.5h0M372.6 546.3h0M360.6 559.1h0M339.0 549.5h0M363.8 531.6h0M346.4 528.6h0M346.2 537.5h0M385.7 547.7h0M353.7 546.2h0M369.2 547.3h0M358.7 556.7h0M366.8 525.8h0M364.8 524.8h0M357.7 556.3h0M374.9 552.0h0M370.3 544.9h0M372.9 540.6h0M340.8 548.0h0M366.8 524.2h0M380.2 539.0h0M370.6 542.7h0M382.8 542.0h0M353.3 559.3h0M370.4 542.6h0M351.5 559.2h0M377.9 540.0h0M366.3 525.6h0M356.3 556.6h0M370.5 533.5h0M379.7 532.4h0M369.1 536.9h0M360.2 536.2h0M374.4 533.1h0M377.8 544.8h0M353.3 567.8h0M385.5 542.0h0M372.8 542.9h0M359.0 552.0h0M347.1 560.1h0M359.4 549.8h0M355.8 542.4h0M365.0 540.0h0M353.0 548.8h0M355.5 522.6h0M359.7 524.0h0M350.8 559.2h0M350.3 547.8h0M354.2 556.6h0M349.0 537.9h0M356.0 552.5h0M346.4 560.7h0M363.0 556.1h0M366.9 532.4h0M364.7 526.9h0M357.4 550.1h0M343.0 550.4h0M379.6 556.6h0M376.9 555.6h0M364.3 539.8h0M369.4 525.8h0M365.1 561.0h0M381.4 559.0h0M368.7 561.6h0M382.2 545.2h0M383.6 538.7h0M360.7 542.4h0M360.7 545.6h0M361.0 530.2h0M368.7 541.7h0M361.4 545.1h0M359.3 594.1h0M383.7 544.7h0M352.9 547.1h0M358.9 555.1h0M366.6 551.4h0M360.4 546.7h0M352.3 526.6h0M381.5 544.6h0M382.8 550.1h0M354.0 535.9h0M353.6 536.2h0M362.1 537.2h0M368.7 523.8h0M345.4 544.3h0M372.9 541.1h0M362.0 545.9h0M362.7 565.0h0M358.8 546.5h0M354.6 562.5h0M361.6 528.0h0M371.9 541.6h0M368.6 545.6h0M375.2 528.9h0M361.9 547.8h0M360.4 530.4h0M378.2 532.1h0M369.9 531.9h0M375.4 545.7h0M369.3 535.3h0M373.4 549.6h0M362.8 528.5h0M375.5 536.7h0M360.5 563.2h0M360.6 542.1h0M357.0 542.4h0M385.0 539.1h0M368.1 538.5h0M345.6 549.0h0M352.4 560.5h0M376.7 551.2h0M379.5 546.4h0M356.8 556.1h0M357.5 521.0h0M380.4 534.2h0M369.9 540.8h0M370.2 551.7h0M361.1 534.1h0M372.5 552.9h0M357.4 551.0h0M378.2 543.5h0M357.7 543.3h0M384.2 537.4h0M350.6 545.0h0M379.4 547.1h0M352.6 533.6h0M359.4 557.3h0M356.0 528.7h0M355.2 536.1h0M367.1 554.7h0M357.1 545.9h0M382.6 533.0h0M360.0 555.7h0M351.3 539.9h0M375.1 548.0h0M369.6 535.3h0M355.8 555.7h0M382.0 542.6h0M364.8 529.0h0M377.7 545.8h0M365.9 544.5h0M372.7 545.2h0M365.2 524.4h0M358.3 568.4h0M371.5 547.8h0M357.6 526.5h0M342.7 530.2h0M369.7 528.6h0M358.2 520.4h0M375.4 553.7h0M369.4 548.2h0M373.9 551.3h0M371.0 546.9h0M356.6 556.6h0M357.2 526.6h0M359.1 534.6h0M365.4 563.8h0M354.7 530.4h0M384.7 544.0h0M384.1 548.8h0M385.0 537.7h0M354.0 529.9h0M364.0 542.9h0M370.9 555.6h0M345.4 548.6h0M362.9 555.5h0M345.1 548.1h0M362.0 526.0h0M343.9 537.1h0M348.7 543.2h0M351.4 539.5h0M359.7 527.2h0M384.8 536.5h0M366.6 527.1h0M362.2 522.9h0M367.5 533.4h0M357.0 563.9h0M369.1 534.8h0M348.0 536.5h0M370.5 539.3h0M368.8 526.0h0M375.7 549.6h0M355.8 532.9h0M359.5 527.9h0M357.8 547.3h0M382.3 548.8h0M363.5 527.1h0M341.0 546.7h0M348.7 553.1h0M346.7 563.6h0M363.8 562.8h0M350.1 532.1h0M374.4 526.5h0M350.3 559.3h0M366.2 544.6h0M346.2 540.9h0M368.0 547.7h0M355.3 528.7h0M376.4 569.2h0M358.3 558.4h0M357.0 550.8h0M379.6 541.5h0M383.4 547.6h0M379.0 540.1h0M376.0 537.1h0M364.1 529.3h0M366.6 542.6h0M358.9 545.2h0M377.5 554.8h0M380.1 555.4h0M344.2 533.7h0M364.6 530.7h0M373.1 560.9h0M377.2 543.4h0M368.6 548.6h0M371.6 551.2h0M377.8 532.3h0M346.2 552.0h0M359.7 560.6h0M349.8 527.8h0M350.4 525.4h0M370.6 534.3h0M352.4 559.7h0M347.8 532.0h0M382.4 552.5h0M357.5 544.8h0M376.5 533.2h0M361.8 532.1h0M379.9 533.6h0M359.3 529.2h0M379.1 546.1h0M345.4 538.4h0M354.9 551.5h0M365.8 555.3h0M357.9 560.6h0M376.9 551.4h0M370.8 536.3h0M374.9 532.0h0M357.0 552.3h0M383.3 553.0h0M384.7 549.6h0M372.1 541.1h0M376.2 557.5h0M339.6 540.4h0M364.6 555.1h0M374.3 536.8h0M369.0 541.0h0M357.7 550.6h0M365.4 557.0h0M382.1 541.0h0M346.6 527.0h0M374.2 556.5h0M359.4 533.0h0M359.8 532.4h0M348.6 533.2h0M347.4 556.3h0M372.3 543.5h0M361.0 550.5h0M384.8 539.3h0M384.3 540.7h0M365.9 534.4h0M353.1 561.6h0M355.3 543.1h0M356.6 543.2h0M361.1 530.2h0M345.5 548.3h0M363.2 544.6h0M364.7 533.5h0M361.9 520.7h0M358.6 563.0h0M348.8 548.1h0M361.1 532.4h0M367.5 561.7h0M367.4 561.6h0M361.8 530.4h0M364.4 540.4h0M354.9 540.3h0M364.4 543.2h0M364.9 538.5h0M353.2 539.4h0M365.1 537.0h0M364.9 551.3h0M374.3 532.0h0M355.5 557.6h0M383.1 542.4h0M363.6 530.2h0M369.2 535.4h0M352.6 543.5h0M351.1 558.6h0M369.8 524.4h0M363.0 519.9h0M384.5 547.3h0M371.0 535.7h0M370.9 527.2h0M367.5 560.4h0M372.4 559.6h0M347.0 530.8h0M384.5 541.1h0M355.4 557.7h0M347.2 534.0h0M345.9 538.6h0M363.4 561.1h0M364.1 533.5h0M359.1 526.4h0M385.3 545.0h0M342.4 533.8h0M375.6 555.2h0M374.8 535.6h0M354.8 555.8h0M369.8 528.9h0M344.3 528.4h0M359.5 559.3h0M380.2 530.7h0M383.6 537.9h0M383.5 533.2h0M356.3 551.0h0M370.6 534.3h0M363.5 527.5h0M354.6 546.6h0M353.1 535.7h0M379.9 545.4h0M367.7 535.9h0M362.5 551.3h0M356.2 533.0h0M367.0 560.0h0M357.1 553.3h0M364.0 539.0h0M345.2 543.0h0M379.8 552.5h0M357.9 524.5h0M366.0 545.5h0M353.9 550.9h0M345.6 532.7h0M346.6 525.5h0M379.9 551.2h0M355.8 522.5h0M375.6 531.7h0M347.2 570.6h0M368.2 545.5h0M378.6 531.2h0M343.8 551.1h0M367.8 541.0h0M370.9 530.3h0M356.0 546.7h0M360.4 542.3h0M356.7 537.8h0M373.5 542.1h0M343.3 539.9h0M367.1 551.0h0M382.4 539.3h0M360.0 533.6h0M370.1 545.6h0M365.9 529.2h0M349.8 553.6h0M380.9 530.3h0M379.5 553.4h0M353.6 533.9h0M362.0 553.4h0M374.8 554.7h0M346.3 526.6h0M383.9 550.8h0M359.6 558.2h0M367.8 538.7h0M360.1 542.5h0M346.9 546.9h0M373.0 548.4h0M355.4 539.6h0M343.3 551.6h0M351.3 557.2h0M375.1 553.9h0M359.6 547.5h0M342.3 546.1h0M360.4 559.5h0M380.5 540.5h0M380.7 537.6h0M369.7 556.8h0M355.0 569.6h0M381.1 546.0h0M348.9 561.3h0M367.3 548.9h0M363.5 561.4h0M342.2 549.6h0M354.7 549.3h0M344.6 551.6h0M338.1 539.0h0M347.6 553.2h0M364.0 561.6h0M382.2 549.1h0M373.7 551.6h0M381.1 533.4h0M359.0 523.1h0M359.8 535.8h0M348.3 525.9h0M348.6 541.2h0M373.2 529.7h0M384.1 534.8h0M351.6 532.7h0M374.5 530.8h0M356.4 532.6h0M372.9 532.4h0M353.7 546.2h0M342.1 536.1h0M377.9 547.3h0M386.4 546.7h0M379.3 546.0h0M380.0 544.1h0M382.1 537.3h0M359.8 554.8h0M359.9 548.5h0M348.5 552.6h0M344.3 536.3h0M365.9 534.5h0M383.4 546.8h0M348.8 537.6h0M361.0 538.5h0M345.3 555.4h0M348.8 558.7h0M371.6 525.4h0M368.0 544.4h0M374.5 541.6h0M378.5 545.7h0M341.8 540.6h0M357.6 526.2h0M364.4 543.1h0M365.0 523.5h0M346.4 546.2h0M369.7 547.6h0M371.8 556.9h0M345.5 525.4h0M377.3 553.4h0M362.0 569.6h0M368.8 558.5h0M369.4 522.4h0M346.6 527.2h0M359.7 556.5h0M341.7 538.4h0M351.1 524.3h0M347.4 566.6h0M379.1 536.4h0M350.2 556.2h0M378.9 554.6h0M369.0 540.6h0M347.5 560.4h0M370.8 551.5h0M377.5 548.4h0M380.4 551.8h0M383.1 553.1h0M376.2 546.9h0M363.9 527.9h0M375.5 542.1h0M355.1 529.5h0M352.8 535.8h0M358.1 522.4h0M371.8 535.7h0M362.5 520.6h0M364.0 549.5h0M366.6 553.8h0M369.8 561.2h0M364.8 555.4h0M374.3 547.1h0M373.0 529.7h0M364.8 550.4h0M367.2 551.6h0M358.5 547.1h0M353.9 549.5h0M375.2 537.7h0M344.9 559.1h0M359.1 550.3h0M386.9 542.5h0M365.1 552.6h0M355.8 526.3h0M352.5 549.2h0M370.0 570.4h0M355.7 547.3h0M374.4 548.0h0M386.1 550.5h0M348.1 536.9h0M365.6 548.2h0M354.2 538.4h0M380.0 528.2h0M366.6 558.5h0M362.6 552.9h0M370.2 545.8h0M361.4 561.6h0M377.8 532.6h0M378.2 545.3h0M373.4 530.1h0M349.8 553.8h0M370.1 538.5h0M353.1 540.1h0M356.1 552.5h0M381.9 543.3h0M375.0 532.8h0M366.7 531.8h0M375.4 538.3h0M367.3 558.0h0M356.5 548.7h0M351.3 547.8h0M351.5 524.3h0M374.8 555.0h0M369.6 563.4h0M378.3 544.8h0M351.2 542.9h0M365.6 535.8h0M376.8 529.3h0M370.7 558.0h0M382.1 547.0h0M369.9 545.8h0M355.2 529.7h0M354.9 546.7h0M353.2 554.9h0M350.3 543.4h0M360.3 538.4h0M382.3 552.6h0M378.1 539.5h0M372.2 530.5h0M347.0 529.7h0M380.8 529.7h0M368.5 563.6h0M364.5 545.1h0M362.4 548.9h0M363.8 536.2h0M383.2 538.1h0M354.9 540.3h0M349.5 545.1h0M356.7 543.6h0M350.0 552.7h0M374.8 547.2h0M373.2 530.5h0M362.4 551.7h0M377.3 546.3h0M366.7 547.2h0M377.7 547.5h0M359.7 561.4h0M354.8 564.5h0M373.9 549.3h0M357.1 541.1h0M363.1 542.0h0M359.0 525.7h0M385.0 549.3h0M384.6 551.2h0M349.8 550.7h0M383.4 547.0h0M346.6 549.6h0M371.8 522.0h0M357.8 520.5h0M362.7 541.7h0M350.0 561.2h0M361.4 552.4h0M379.9 544.0h0M369.1 541.5h0M369.3 549.8h0M383.9 546.7h0M373.1 531.4h0M340.6 534.0h0M386.8 539.9h0M374.3 540.0h0M364.9 547.2h0M381.9 536.8h0M361.7 555.7h0M383.4 541.8h0M367.0 556.0h0M354.3 528.4h0M376.3 529.1h0M346.0 544.2h0M369.7 545.3h0M363.6 544.0h0M380.2 552.4h0M351.5 531.8h0M364.2 560.8h0M377.6 546.1h0M359.1 528.6h0M365.9 555.5h0M349.7 555.3h0M368.4 535.8h0M362.2 528.9h0M347.7 543.1h0M372.8 555.7h0M361.6 526.1h0M383.2 546.9h0M347.5 526.3h0M350.0 551.1h0M370.9 530.9h0M365.0 539.3h0M372.2 562.1h0M353.5 525.6h0M381.9 549.7h0M349.6 534.6h0M363.8 562.5h0M351.8 522.4h0M367.8 523.2h0M368.0 545.9h0M348.9 553.2h0M363.7 562.5h0M358.0 561.4h0M370.6 528.9h0M381.1 552.1h0M354.7 556.9h0M381.6 547.6h0M369.2 530.6h0M374.4 556.6h0M363.8 529.1h0M348.8 562.9h0M374.0 550.0h0M346.4 536.9h0M383.3 554.6h0M379.5 538.9h0" stroke="#C9C9C9" stroke-width="2.1" stroke-linecap="round" fill="none"/>
<path d="M345.1 534.0h0M360.0 532.7h0M377.2 533.2h0M357.8 534.7h0M357.5 570.1h0M380.2 536.2h0M350.3 536.9h0M377.0 541.1h0M356.3 558.4h0M379.0 538.7h0M350.9 532.9h0M371.5 528.1h0M354.6 552.4h0M345.4 562.3h0M347.6 535.4h0M372.5 526.5h0M341.9 531.7h0M351.2 524.7h0M352.4 547.0h0M355.8 564.2h0M346.2 528.0h0M346.9 556.4h0M349.4 558.4h0M350.9 571.9h0M356.9 559.9h0M350.8 529.6h0M356.7 536.2h0M361.4 524.5h0M353.6 523.2h0M346.8 558.9h0M347.3 551.4h0M344.9 548.7h0M352.4 522.3h0M344.6 527.8h0M351.2 544.4h0M345.9 550.8h0M339.7 537.9h0M351.9 556.3h0M372.0 527.4h0M342.9 549.2h0M339.5 539.4h0M355.6 534.4h0M348.8 527.5h0M347.3 567.8h0M341.9 550.5h0M354.3 560.3h0M360.2 536.2h0M359.7 524.0h0M350.3 547.8h0M354.2 556.6h0M343.0 550.4h0M352.3 526.6h0M354.0 535.9h0M360.5 563.2h0M378.2 543.5h0M342.7 530.2h0M350.1 532.1h0M357.0 552.3h0M342.4 533.8h0M345.2 543.0h0M349.8 553.6h0M342.2 549.6h0M354.7 549.3h0M338.1 539.0h0M351.6 532.7h0M356.4 532.6h0M348.8 537.6h0M359.7 556.5h0M348.1 536.9h0M356.1 552.5h0M360.3 538.4h0M347.0 529.7h0M366.7 547.2h0M354.8 564.5h0M351.5 531.8h0M354.7 556.9h0M348.8 562.9h0" stroke="#3C8CA8" stroke-width="1.9" stroke-linecap="round" fill="none"/>
<path d="M353.4 608.1h0M352.3 598.7h0M352.7 605.4h0M351.5 604.4h0M355.0 600.4h0M353.1 599.0h0M350.5 595.1h0M351.3 597.6h0M351.7 605.4h0M352.7 596.3h0M354.7 603.0h0M349.6 605.1h0M352.0 600.4h0M353.2 596.0h0M350.0 582.1h0M350.4 607.8h0M354.3 597.9h0M353.0 606.2h0M354.7 599.0h0M348.9 605.0h0M351.1 600.5h0M349.5 601.8h0M351.5 605.7h0M354.6 598.4h0M355.0 598.0h0M352.1 603.2h0M352.7 607.0h0M349.4 601.1h0M352.2 601.1h0M351.6 604.4h0" stroke="#C9C9C9" stroke-width="2.1" stroke-linecap="round" fill="none"/>
<path d="M351.1 601.0h0M355.7 599.3h0M352.2 602.2h0M353.5 597.5h0M349.5 593.4h0M351.8 595.6h0M353.3 600.6h0M350.7 603.6h0M351.4 600.3h0M350.9 600.0h0" stroke="#3C8CA8" stroke-width="1.6" stroke-linecap="round" fill="none"/>
<path d="M353.2 609.3h0M351.3 605.7h0M351.0 599.4h0M351.8 605.6h0M353.4 598.4h0M350.2 581.5h0M352.9 597.5h0M354.4 601.1h0M352.1 599.4h0M350.9 602.5h0M348.6 602.1h0M352.3 606.3h0M352.8 602.2h0M354.1 602.3h0M350.7 601.9h0M348.8 599.7h0M350.7 594.6h0M350.7 598.7h0M355.0 601.1h0M354.3 615.2h0M354.5 610.0h0M354.7 600.4h0M351.7 605.7h0M353.1 604.8h0M352.0 603.6h0M348.1 597.1h0M349.6 580.4h0M354.4 612.2h0M353.7 606.8h0M352.3 600.3h0M351.9 600.4h0M350.9 590.4h0M354.4 600.0h0M348.5 575.9h0M353.6 598.8h0M353.7 612.5h0" stroke="#F0686A" stroke-width="1.6" stroke-linecap="round" fill="none"/>
<path d="M349.5 577.5h0M353.5 620.0h0M355.0 621.0h0" stroke="#3C8CA8" stroke-width="1.7" stroke-linecap="round" fill="none"/>
<path d="M470.8 627.0h0M469.8 619.5h0M500.4 561.9h0M466.7 625.8h0M462.4 556.9h0M496.0 595.0h0M467.1 575.9h0M503.1 623.1h0M489.4 630.9h0M474.5 623.8h0M463.7 575.0h0M490.9 641.8h0M499.3 644.7h0M490.7 584.4h0M486.2 568.6h0M455.7 611.0h0M460.1 591.0h0M494.7 630.1h0M474.4 627.4h0M471.2 585.3h0M463.6 567.0h0M496.3 621.4h0M491.5 598.0h0M497.2 643.5h0M490.5 585.1h0M504.6 641.9h0M465.3 589.7h0M454.4 552.2h0M499.4 621.3h0M503.0 636.4h0M468.4 575.3h0M511.3 611.6h0M486.1 593.1h0M494.5 638.3h0M465.0 590.5h0M474.1 556.8h0M501.7 625.8h0M488.5 599.2h0M464.2 598.6h0M508.8 604.7h0M490.7 596.7h0M480.8 637.6h0M470.8 621.9h0M482.7 568.7h0M466.5 619.7h0M455.5 553.2h0M468.1 617.2h0M465.4 609.3h0M465.4 577.3h0M451.0 562.6h0M501.4 562.6h0M484.3 596.7h0M457.8 580.2h0M497.4 624.1h0M498.9 641.2h0M508.8 625.0h0M463.6 603.0h0M505.2 606.7h0M494.9 596.5h0M480.0 574.0h0M460.0 592.3h0M500.6 563.6h0M488.9 592.2h0M449.2 588.7h0M465.3 551.7h0M505.7 640.8h0M499.2 560.0h0M502.2 566.7h0M465.8 598.2h0M463.8 569.0h0M463.1 612.6h0M506.4 634.6h0M474.5 580.8h0M497.1 623.8h0M476.2 609.8h0M502.8 568.5h0M497.9 619.6h0M493.8 561.5h0M494.9 602.2h0M473.1 629.4h0M473.1 551.2h0M503.8 562.5h0M490.6 566.6h0M495.1 638.1h0M481.5 625.9h0M463.5 626.1h0M477.5 626.3h0M495.5 623.8h0M508.9 636.1h0M464.8 571.8h0M466.5 629.9h0M500.0 627.5h0M506.0 643.7h0M466.0 627.0h0M463.3 601.1h0M467.9 626.7h0M497.7 629.4h0M484.3 627.9h0M507.1 628.3h0M460.0 583.8h0M461.9 564.2h0M470.5 582.6h0M470.4 612.6h0M449.8 578.1h0M466.1 566.6h0M466.9 570.2h0M471.6 624.8h0M503.0 620.0h0M479.3 630.3h0M510.0 630.3h0M473.6 554.3h0M505.8 640.6h0M471.6 551.7h0M509.0 638.9h0M475.0 619.7h0M494.6 601.4h0M451.0 589.5h0M451.7 571.9h0M513.6 626.2h0M464.7 628.9h0M493.1 563.2h0M455.1 600.6h0M479.0 635.7h0M472.6 624.0h0M469.8 586.4h0M503.9 558.1h0M490.0 625.1h0M459.5 560.7h0M498.7 624.8h0M481.9 633.4h0M498.2 564.9h0M497.2 638.0h0M508.9 606.0h0M503.6 625.5h0M488.4 637.0h0M504.9 556.6h0M506.1 638.4h0M483.7 633.0h0M481.3 627.7h0M465.1 557.3h0M467.6 592.4h0M475.3 634.1h0M498.6 615.3h0M497.4 611.4h0M504.2 563.3h0M493.8 624.0h0M466.5 607.1h0M512.9 617.6h0M499.9 643.7h0M465.0 570.9h0M464.4 575.7h0M505.1 643.2h0M488.7 585.9h0M494.5 564.4h0M464.6 605.8h0M498.9 557.0h0M483.7 569.7h0M509.4 625.1h0M485.2 620.3h0M511.8 609.2h0M496.3 619.9h0M496.4 561.7h0M480.8 632.3h0M504.3 646.3h0M495.0 564.7h0M465.1 571.2h0M470.1 575.4h0M513.4 637.2h0M485.9 632.1h0M463.4 599.1h0M501.4 558.4h0M481.2 625.3h0M472.4 622.5h0M487.9 601.7h0M461.5 583.4h0M472.0 569.9h0M464.5 591.0h0M490.1 597.6h0M495.4 600.9h0M493.3 567.8h0M464.5 577.7h0M482.7 626.7h0M498.0 556.3h0M461.2 597.4h0M503.6 626.3h0M466.3 560.6h0M454.0 560.3h0M471.6 555.2h0M497.6 551.6h0M491.7 564.6h0M505.2 563.6h0M483.7 630.4h0M502.1 562.7h0M466.6 598.2h0M474.0 620.5h0M471.6 552.3h0M469.8 567.6h0M511.3 638.1h0M490.7 634.8h0M502.1 560.8h0M510.4 631.4h0M493.6 642.5h0M461.3 593.0h0M499.6 627.3h0M497.6 616.3h0M512.7 626.5h0M506.0 625.2h0M466.4 563.6h0M499.3 563.9h0M478.2 625.4h0M504.8 640.8h0M486.3 636.0h0M489.9 581.1h0M472.2 552.7h0M496.4 630.7h0M465.2 587.7h0M464.1 594.0h0M480.6 632.5h0M464.2 565.1h0M472.6 554.6h0M491.7 597.7h0M506.3 613.0h0M470.2 608.1h0M463.5 591.0h0M465.1 577.9h0M494.3 560.3h0M500.6 560.9h0M485.3 637.3h0M501.7 555.1h0M476.6 551.1h0M458.3 612.5h0M479.7 618.1h0M460.6 600.7h0M503.4 567.6h0M494.4 600.5h0M481.5 623.5h0M494.1 622.3h0M462.8 564.5h0M497.7 639.8h0M467.1 561.2h0M493.3 594.9h0M498.0 564.9h0M499.0 557.5h0M469.7 581.7h0M486.8 624.7h0M473.7 601.4h0M491.5 624.1h0M475.4 632.7h0M455.3 553.1h0M472.3 553.1h0M494.3 572.5h0M491.5 596.2h0M470.4 576.7h0M491.5 602.6h0M496.4 636.5h0M450.8 580.8h0M506.6 630.7h0M493.9 624.2h0M491.2 643.1h0M468.3 623.3h0M457.3 601.2h0M500.2 636.2h0M503.1 554.6h0M480.1 570.5h0M463.4 586.6h0M503.6 556.6h0M510.1 604.1h0M458.8 589.5h0M470.9 555.8h0M454.2 551.0h0M450.6 580.3h0M510.7 605.5h0M488.4 572.7h0M490.5 601.6h0M497.8 558.4h0M462.3 592.5h0M499.7 634.0h0M463.6 587.9h0M468.1 578.6h0M464.9 602.0h0M462.2 576.3h0M504.9 573.0h0M453.0 591.4h0M453.1 550.6h0M495.6 594.9h0M496.5 565.5h0M479.8 623.2h0M498.8 634.7h0M456.6 557.5h0M500.9 557.5h0M497.8 565.0h0M502.3 623.5h0M506.2 624.1h0M450.6 573.7h0M498.6 621.4h0M473.7 625.5h0M458.4 578.0h0M510.3 606.4h0M462.6 566.5h0M498.2 561.2h0M488.8 634.3h0M509.7 632.8h0M501.8 647.8h0M464.3 564.8h0M494.6 599.1h0M464.2 588.7h0M476.2 621.2h0M499.2 645.3h0M491.3 563.9h0M468.6 552.6h0M484.7 625.9h0M488.7 600.3h0M494.8 621.6h0M504.3 565.4h0M463.5 564.0h0M486.4 580.4h0M488.1 644.1h0M463.1 578.6h0M467.9 605.0h0M472.8 551.6h0M474.3 555.4h0M487.1 629.9h0M472.9 617.7h0M507.6 614.3h0M496.8 558.6h0M503.1 638.6h0M460.4 582.8h0M452.7 550.2h0M475.2 607.9h0M468.5 568.3h0M491.3 624.5h0M507.0 636.5h0M462.2 589.8h0M467.5 578.5h0M492.2 564.3h0M465.1 634.8h0M503.3 626.3h0M503.5 560.2h0M499.6 556.8h0M494.6 647.1h0M483.8 625.8h0M470.3 565.2h0M498.0 560.7h0M465.8 572.2h0M497.3 625.5h0M505.9 627.3h0M475.2 615.2h0M509.0 600.4h0M478.6 617.6h0M465.5 582.8h0M504.8 635.5h0M504.6 625.6h0M496.8 563.3h0M468.6 563.0h0M465.9 574.8h0M458.7 590.4h0M462.3 573.5h0M485.5 601.7h0M464.5 575.8h0M486.4 630.6h0M461.3 556.7h0M514.0 620.5h0M460.9 586.1h0M492.4 599.4h0M495.8 595.2h0M467.3 627.0h0M466.6 559.6h0M498.5 586.1h0M471.8 553.0h0M493.3 644.1h0M491.0 629.2h0M469.2 594.4h0M490.2 595.1h0M484.7 589.2h0M494.0 629.1h0M491.7 644.7h0M453.7 551.4h0M501.2 555.6h0M462.7 597.5h0M491.0 633.6h0M465.9 603.5h0M494.9 566.1h0M466.2 601.5h0M501.9 558.4h0M513.2 635.4h0M453.5 551.5h0M499.7 635.6h0M481.8 627.2h0M479.3 617.4h0M463.5 596.5h0M503.9 572.4h0M487.5 598.9h0M482.2 568.5h0M475.2 554.2h0M513.2 612.8h0M502.4 563.8h0M498.9 566.3h0M486.4 628.3h0M455.7 580.5h0M462.9 584.3h0M465.3 582.5h0M509.8 604.0h0M471.7 553.2h0M492.5 639.3h0M506.6 631.4h0M485.5 568.8h0M471.5 552.8h0M508.0 633.9h0M491.2 594.2h0M470.4 554.3h0M454.6 579.3h0M490.8 612.3h0M492.6 593.9h0M486.0 601.1h0M499.4 587.8h0M469.4 565.7h0M471.0 560.1h0M511.8 632.4h0M499.3 637.5h0M501.9 555.2h0M502.9 631.8h0M471.4 575.9h0M464.8 601.8h0M473.2 553.8h0M480.1 625.9h0M515.5 627.7h0M463.8 575.1h0M462.6 629.1h0M500.2 557.1h0M472.0 553.5h0M452.3 550.8h0M487.4 638.6h0M490.4 633.9h0M490.3 594.1h0M461.0 611.3h0M463.4 583.2h0M466.0 581.6h0M501.3 571.3h0M472.3 609.8h0M454.2 582.0h0M502.2 555.7h0M475.8 625.4h0M463.9 625.7h0M488.6 588.8h0M448.0 586.4h0M461.3 590.7h0M516.6 604.7h0M476.7 576.4h0M506.7 630.6h0M484.2 643.5h0M490.4 591.4h0M486.6 598.2h0M475.6 629.9h0M467.8 561.5h0M463.5 594.3h0M498.5 565.2h0M484.5 631.8h0M502.6 549.2h0M462.7 590.8h0M463.2 568.2h0M479.5 631.8h0M479.8 631.3h0M473.1 554.4h0M495.5 563.0h0M465.2 569.3h0M483.8 631.3h0M463.1 578.1h0M498.5 553.9h0M498.3 641.1h0M505.9 636.9h0M482.7 639.3h0M507.9 630.1h0M507.0 626.9h0M505.4 591.9h0M494.8 623.1h0M500.1 558.1h0M499.0 557.1h0M491.2 594.9h0M487.9 630.1h0M500.2 561.7h0M450.0 586.5h0M492.7 632.7h0M494.8 631.2h0M446.1 565.7h0M473.1 552.9h0M500.5 560.9h0M497.2 622.8h0M475.9 565.9h0M495.4 629.2h0M496.4 624.3h0M504.0 568.6h0M494.9 560.3h0M506.3 596.6h0M497.6 629.8h0M489.4 595.6h0M511.2 639.8h0M506.4 564.2h0M476.9 627.9h0M460.0 598.8h0M457.8 584.6h0M489.5 593.9h0M465.8 599.5h0M465.4 628.5h0M472.3 624.8h0M463.6 589.2h0M472.8 550.3h0M469.4 635.8h0M463.8 593.8h0M499.5 572.7h0M469.6 574.6h0M502.4 636.6h0M449.3 579.8h0M464.3 606.3h0M474.1 553.3h0M471.4 635.4h0M467.3 632.2h0M474.7 633.7h0M485.5 628.8h0M458.0 579.3h0M473.9 553.2h0M486.8 628.4h0M496.3 638.0h0M456.9 597.3h0M465.7 575.3h0M504.5 622.6h0M470.3 553.1h0M491.0 601.8h0M490.6 563.8h0M493.3 574.9h0M490.1 564.5h0M462.2 589.0h0M460.3 580.7h0M492.8 598.6h0M463.2 592.3h0M468.0 611.5h0M501.7 571.7h0M503.9 576.9h0M485.1 580.8h0M492.5 602.9h0M479.6 632.0h0M470.4 631.4h0M457.7 559.7h0M486.6 626.6h0M499.5 639.0h0M489.6 630.1h0M467.1 563.4h0M484.3 631.3h0M476.6 620.1h0M479.1 629.5h0M490.9 623.8h0M457.7 573.2h0M463.9 598.2h0M505.5 634.1h0M496.5 630.9h0M490.0 639.8h0M475.6 579.3h0M504.9 635.8h0M490.5 643.0h0M488.7 592.3h0M465.4 562.8h0M484.2 630.4h0M474.3 630.5h0M483.6 565.1h0M497.5 635.8h0M451.3 584.8h0M483.3 627.3h0M463.3 598.2h0M493.5 623.8h0M508.3 627.7h0M498.3 549.4h0M510.9 625.9h0M502.1 563.0h0M502.9 640.9h0M496.5 559.9h0M493.1 599.0h0M480.0 615.7h0M452.1 549.1h0M460.4 580.3h0M464.5 572.1h0M460.5 557.3h0M469.6 628.9h0M464.5 627.5h0M496.6 639.3h0M483.3 638.7h0M485.9 594.5h0M466.1 611.9h0M512.0 639.4h0M500.0 631.4h0M482.4 628.3h0M465.1 579.8h0M473.4 618.6h0M480.5 632.5h0M504.7 626.0h0M494.6 575.6h0M498.0 576.1h0M499.3 625.1h0M503.8 627.4h0M467.2 565.8h0M506.1 646.1h0M462.0 588.3h0M505.1 583.6h0M512.1 632.9h0M498.7 560.7h0M451.2 586.9h0M459.4 602.5h0M472.4 625.6h0M482.6 587.4h0M461.0 587.1h0M465.0 568.7h0M509.0 611.6h0M476.6 632.5h0M480.0 581.1h0M495.1 644.4h0M504.2 576.2h0M502.0 572.5h0M481.1 571.2h0M500.4 558.8h0M493.0 581.0h0M463.6 568.1h0M457.1 556.0h0M461.7 591.6h0M496.2 559.3h0M491.4 594.9h0M507.8 600.4h0M501.1 614.6h0M500.1 620.2h0M467.3 597.4h0M464.4 591.4h0M490.9 571.8h0M509.7 633.6h0M491.5 593.6h0M497.8 621.5h0M508.0 642.4h0M494.5 643.6h0M497.8 565.2h0M499.9 634.2h0M469.4 573.9h0M493.7 631.3h0M462.4 583.8h0M455.4 554.3h0M468.4 621.4h0M474.1 588.4h0M471.0 630.9h0M459.0 582.4h0M451.7 599.4h0M487.9 610.5h0M482.9 639.7h0M474.5 627.6h0M466.1 579.9h0M492.2 641.2h0M508.1 603.9h0M494.6 574.4h0M470.3 622.0h0M498.4 572.9h0M467.0 585.2h0M465.7 570.7h0M466.9 593.4h0M494.6 645.2h0M491.0 599.4h0M487.2 623.7h0M492.1 565.0h0M471.0 630.0h0M502.4 578.7h0M470.5 624.1h0M493.0 595.7h0M463.5 614.6h0M499.3 552.8h0M499.0 563.1h0M463.7 591.5h0M479.8 561.9h0M485.4 580.1h0M455.1 553.5h0M483.2 599.1h0M502.2 570.0h0M502.3 568.5h0M508.2 601.9h0M502.9 558.3h0M502.7 609.7h0M485.3 570.2h0M502.2 576.0h0M471.3 623.8h0M489.0 639.3h0M502.6 590.0h0M462.3 621.7h0M490.9 645.2h0M472.1 552.7h0M487.7 643.7h0M460.6 587.2h0M465.2 631.4h0M504.0 639.2h0M501.0 620.9h0M480.0 618.8h0M476.7 632.3h0M494.2 564.4h0M485.0 641.0h0M466.7 569.0h0M483.3 571.5h0M512.2 628.5h0M475.4 628.3h0M502.6 639.4h0M464.0 581.2h0M494.1 621.3h0M461.8 573.8h0M477.4 623.0h0M447.7 585.9h0M496.5 631.7h0M494.6 627.0h0M487.3 568.0h0M487.8 563.4h0M483.2 587.6h0M474.7 621.7h0M463.3 594.4h0M487.8 645.8h0M490.2 601.3h0M466.5 594.9h0M468.1 620.7h0M503.3 561.5h0M503.6 625.0h0M506.4 639.7h0M487.5 568.0h0M466.0 600.7h0M487.9 570.8h0M500.9 563.0h0M469.1 552.3h0M469.2 624.5h0M497.1 596.5h0M452.7 590.7h0M484.5 582.6h0M495.9 585.4h0M499.9 623.6h0M495.8 625.7h0M499.2 562.8h0M491.9 566.2h0M499.4 638.7h0M484.6 598.1h0M493.1 600.0h0M468.2 603.8h0M491.4 645.3h0M485.5 633.9h0M458.6 592.6h0M465.8 586.1h0M502.6 634.5h0M488.5 626.1h0M495.6 563.8h0M472.8 618.5h0M496.2 634.8h0M461.4 579.1h0M456.7 581.7h0M497.7 605.5h0M512.5 607.0h0M507.3 638.0h0M489.2 599.9h0M481.5 638.5h0M481.9 632.4h0M474.8 550.7h0M465.3 563.4h0M497.2 627.6h0M507.5 626.1h0M500.7 560.5h0M482.3 632.4h0M502.8 625.5h0M481.3 640.9h0M499.9 623.3h0M468.5 561.6h0M466.1 564.0h0M465.7 635.0h0M459.5 595.1h0M489.4 602.7h0M463.7 598.8h0M503.5 644.3h0M486.4 612.1h0M483.2 583.0h0M477.5 629.8h0M492.1 600.1h0M452.2 589.3h0M459.8 575.6h0M474.6 635.9h0M473.5 632.7h0M501.4 643.0h0M492.3 627.7h0M499.2 640.3h0M492.1 640.2h0M492.5 632.2h0M459.1 567.1h0M462.0 600.9h0M455.6 553.3h0M490.0 585.4h0M476.3 620.3h0M491.4 621.4h0M462.5 589.0h0M448.8 580.4h0M483.4 586.3h0M472.4 552.7h0M456.2 589.9h0M493.9 629.7h0M463.2 573.9h0M488.3 565.0h0M501.6 638.5h0M496.8 564.5h0M502.8 567.8h0M458.4 582.4h0M490.7 563.7h0M503.2 640.4h0M464.3 595.6h0M491.7 637.6h0M455.8 589.4h0M483.6 624.7h0M501.6 644.1h0M502.2 555.5h0M453.5 587.2h0M499.8 566.1h0M501.5 559.7h0M501.9 560.9h0M473.6 555.1h0M495.1 632.2h0M478.4 587.1h0M473.8 623.6h0M501.5 642.0h0M478.5 571.3h0M492.7 572.3h0M456.3 590.4h0M512.7 623.0h0M506.3 638.1h0M497.5 638.9h0M486.6 561.0h0M502.0 634.1h0M456.8 585.6h0M465.2 613.3h0M461.3 601.9h0M501.0 622.9h0M492.0 585.2h0M497.5 628.7h0M473.6 561.6h0M508.8 632.1h0M500.7 558.8h0M498.0 575.3h0M491.9 622.2h0M470.9 576.3h0M501.1 633.4h0M494.6 620.4h0M490.3 596.4h0M448.2 600.7h0M478.7 627.1h0M499.0 601.3h0M467.6 565.9h0M512.8 615.0h0M497.9 578.1h0M502.9 643.9h0M460.3 574.4h0M491.8 565.4h0M496.2 561.0h0M508.0 639.9h0M465.1 602.9h0M481.1 630.4h0M477.6 623.6h0M469.6 568.3h0M463.0 581.4h0M462.6 578.8h0M504.9 626.4h0M496.0 620.4h0M492.3 565.9h0M463.0 622.8h0M498.3 645.8h0M470.4 550.6h0M453.4 581.4h0M469.0 618.0h0M461.5 580.8h0M500.3 563.2h0M466.2 569.9h0M473.1 623.2h0M472.2 551.7h0M460.1 598.3h0M509.0 619.1h0M501.5 566.2h0M499.2 557.3h0M461.3 586.5h0M453.9 587.6h0M463.7 580.1h0M502.1 557.0h0M503.6 571.0h0M511.3 639.6h0M463.3 567.5h0M491.0 624.9h0M509.1 632.2h0M485.0 597.0h0M472.1 618.0h0M479.9 574.3h0M464.2 589.9h0M485.1 567.5h0M495.4 588.6h0M491.6 607.8h0M492.6 561.9h0M481.9 568.9h0M495.8 616.1h0M475.1 636.7h0M495.7 635.5h0M447.9 597.5h0M466.9 579.8h0M500.2 647.5h0M451.8 592.0h0M504.1 565.6h0M481.1 645.5h0M497.0 646.9h0M492.8 604.6h0M488.9 626.5h0M488.3 634.4h0M495.5 641.7h0M460.5 563.8h0M501.7 561.0h0M504.4 562.2h0M468.0 624.0h0M470.7 577.6h0M497.0 622.1h0M458.3 595.4h0M498.3 631.9h0M460.3 563.8h0M503.8 565.8h0M500.0 562.3h0M498.9 645.4h0M474.0 549.1h0M496.1 590.3h0M499.9 565.7h0M510.5 632.7h0M491.3 583.5h0M469.8 607.0h0M466.2 605.2h0M478.3 620.8h0M492.4 598.1h0M503.9 573.0h0M487.0 631.5h0M467.8 551.9h0M493.6 640.3h0M464.5 580.2h0M503.6 565.7h0M471.2 566.4h0M483.6 570.7h0M472.4 618.5h0M497.0 566.1h0M508.0 628.1h0M485.5 595.8h0M482.0 579.9h0M481.6 611.8h0M477.2 636.3h0M487.5 624.9h0M467.1 588.0h0M488.7 564.2h0M467.2 576.4h0M450.5 588.6h0M466.3 569.3h0M481.3 632.7h0M507.7 627.0h0M503.2 559.2h0M463.1 582.3h0M473.3 551.3h0M503.9 633.2h0M465.8 566.6h0M491.3 594.3h0M507.7 624.6h0M468.2 578.8h0M468.1 589.9h0M478.3 633.3h0M492.4 593.7h0M512.3 625.2h0M461.4 590.4h0M470.1 605.8h0M486.7 593.3h0M456.1 595.1h0M503.1 614.4h0M466.3 628.4h0M456.1 582.4h0M485.4 584.1h0M504.9 572.5h0M475.0 553.4h0M503.6 564.5h0M485.5 606.2h0M476.8 552.1h0M463.4 572.3h0M512.7 639.6h0M509.5 609.5h0M464.6 586.6h0M505.2 631.5h0M462.1 571.1h0M493.8 568.9h0M489.9 598.4h0M467.4 608.3h0M485.5 634.7h0M451.0 590.4h0M473.0 620.6h0M474.0 555.0h0M462.7 594.9h0M470.9 624.1h0M468.3 559.8h0M489.0 643.3h0M506.7 622.6h0M478.6 619.5h0M477.4 617.4h0M489.4 604.1h0M460.3 557.7h0M501.9 567.9h0M492.5 593.9h0M495.5 565.5h0M490.8 631.5h0M462.5 606.5h0M468.0 565.0h0M459.2 556.3h0M506.1 556.8h0M457.6 587.4h0M485.8 629.5h0M499.5 556.0h0M480.5 609.9h0M489.4 641.4h0M452.7 583.2h0M497.6 559.5h0M504.8 563.5h0M465.9 570.0h0M478.9 627.8h0M503.5 566.8h0M451.6 588.1h0M483.7 567.5h0M461.6 627.5h0M495.2 614.6h0M494.8 631.1h0M495.8 637.3h0M454.3 578.4h0M459.6 601.3h0M473.5 554.7h0M464.9 623.3h0M503.4 560.0h0M451.9 590.4h0M466.1 600.4h0M467.6 568.8h0M498.7 638.9h0M464.1 595.3h0M461.1 604.6h0M506.1 596.6h0M476.8 634.9h0M502.9 638.9h0M496.0 631.1h0M471.6 551.7h0M463.6 582.0h0M463.2 591.1h0M448.2 601.8h0M510.9 639.5h0M449.2 598.7h0M495.0 595.0h0M488.5 621.5h0M499.9 642.8h0M484.6 631.7h0M449.3 577.3h0M508.5 631.4h0M462.9 578.8h0M502.3 560.7h0M490.3 598.4h0M472.3 552.4h0M478.8 630.7h0M463.0 592.6h0M493.2 636.0h0M510.8 611.0h0M486.8 638.7h0M502.5 564.1h0M467.3 571.7h0M450.6 586.2h0M460.3 590.8h0M502.3 557.6h0M487.7 594.8h0M462.7 563.5h0M489.7 562.4h0M497.7 576.9h0M471.4 549.5h0M470.3 620.8h0M498.5 644.5h0M499.9 645.4h0M490.0 631.7h0M479.9 570.6h0M474.4 552.2h0M504.6 639.9h0M489.8 623.9h0M503.1 568.8h0M465.8 573.6h0M487.4 642.6h0M506.7 640.5h0M489.8 622.5h0M471.5 554.8h0M502.5 632.8h0M462.9 591.6h0M468.8 563.9h0M460.4 598.8h0M485.5 624.9h0M470.1 585.4h0M493.5 636.1h0M503.7 574.9h0M493.2 635.1h0M466.0 563.8h0M479.8 625.5h0M486.5 633.2h0M448.2 589.4h0M464.5 599.7h0M496.9 562.0h0M451.2 585.4h0M472.3 627.1h0M485.8 565.1h0M475.0 592.7h0M452.0 590.8h0M473.0 616.6h0M490.9 591.3h0M497.7 558.7h0M460.7 596.0h0M449.6 590.5h0M503.9 557.7h0M487.0 642.8h0M491.6 621.8h0M497.5 558.1h0M506.4 646.7h0M497.5 617.4h0M493.8 565.8h0M455.7 561.1h0M445.9 579.2h0M446.8 583.5h0M487.9 627.5h0M464.7 572.2h0M500.0 643.7h0M467.4 550.8h0M457.6 584.8h0M467.1 583.6h0M508.2 603.0h0M494.1 647.2h0M483.8 621.9h0M500.3 638.0h0M485.3 629.0h0M477.2 624.8h0M463.1 580.3h0M460.7 565.6h0M486.7 599.6h0M493.8 560.9h0M500.6 623.4h0M455.5 552.8h0M492.4 634.0h0M466.0 565.2h0M463.0 591.4h0M499.9 578.6h0M471.9 628.2h0M503.8 577.3h0M493.8 584.6h0M492.9 635.4h0M460.5 604.3h0M463.3 595.8h0M503.8 636.6h0M468.3 633.3h0M482.9 619.7h0M509.2 642.7h0M503.2 578.4h0M514.0 608.7h0M495.4 599.0h0M494.0 634.7h0M494.4 614.0h0M478.1 629.8h0M502.3 636.8h0M503.7 622.0h0M458.5 579.4h0M488.9 637.9h0M491.2 622.0h0M510.5 632.4h0M501.0 634.7h0M464.3 565.9h0M464.0 605.0h0M465.5 558.6h0M465.2 597.0h0M509.9 603.8h0M478.4 554.7h0M501.1 635.1h0M472.4 553.0h0M493.3 599.9h0M498.0 556.2h0M465.4 572.5h0M479.8 612.8h0M472.0 628.2h0M491.2 598.8h0M464.0 568.0h0M495.5 595.9h0M499.5 621.5h0M494.4 623.4h0M506.5 629.5h0M490.8 632.1h0M494.1 627.8h0M460.0 593.3h0M488.6 629.9h0M476.2 638.4h0M468.9 571.1h0M499.6 558.9h0M458.2 598.5h0M457.1 596.2h0M511.5 644.4h0M488.7 595.8h0M481.0 633.7h0M500.0 641.2h0M494.7 640.5h0M502.7 638.9h0M469.7 628.9h0M470.1 553.5h0M466.2 608.4h0M504.2 564.0h0M508.2 600.6h0M498.1 625.2h0M459.4 603.5h0M463.3 570.1h0M499.5 636.5h0M498.9 561.5h0M462.0 568.1h0M495.5 621.2h0M477.8 615.4h0M495.2 628.8h0M501.3 559.0h0M491.5 569.6h0M503.9 561.4h0M469.3 567.1h0M452.9 584.2h0M472.0 562.8h0M495.2 565.3h0M464.1 569.0h0M463.5 588.0h0M493.2 643.9h0M464.5 587.2h0M461.8 605.4h0M476.1 548.6h0M484.1 614.6h0M464.8 629.0h0M463.8 565.3h0M500.6 558.8h0M472.4 630.8h0M467.2 608.7h0M480.4 590.4h0M465.8 604.7h0M454.7 595.7h0M467.8 575.6h0M465.8 591.4h0M495.4 629.3h0M491.8 582.4h0M450.1 588.3h0M480.4 633.2h0M482.4 593.3h0M484.0 623.6h0M495.1 581.0h0M487.0 596.8h0M459.5 600.8h0M467.4 571.1h0M473.0 628.0h0M495.9 624.1h0M501.6 650.3h0M502.1 647.2h0M447.3 574.8h0M509.2 629.6h0M506.2 632.8h0M463.2 596.1h0M494.4 644.2h0M472.8 629.3h0M464.4 552.3h0M470.6 548.4h0M464.4 607.7h0M498.6 627.8h0M474.7 611.3h0M472.0 577.0h0M503.3 626.6h0M475.6 551.2h0M483.9 568.0h0M474.9 592.9h0M500.0 590.2h0M510.8 607.2h0M487.4 639.2h0M499.0 637.8h0M477.7 621.9h0M465.9 594.2h0M465.8 565.1h0M494.1 632.7h0M485.2 638.2h0M467.6 594.8h0M466.3 621.2h0M458.7 580.4h0M495.6 619.8h0M505.8 594.6h0M507.8 630.4h0M497.4 640.4h0M492.3 601.8h0M491.4 632.2h0M488.4 587.2h0M512.3 625.2h0M447.1 600.2h0M465.7 633.3h0M495.3 568.1h0M496.1 626.5h0M501.3 622.0h0M482.0 568.1h0M504.4 632.5h0M512.5 625.7h0M455.7 554.4h0M511.4 619.4h0M474.9 630.9h0M503.9 627.4h0M501.5 640.1h0M480.1 578.1h0M462.7 607.8h0M479.8 624.7h0M464.0 601.1h0M501.3 580.6h0M486.6 642.7h0M490.0 635.4h0M469.5 572.6h0M462.3 627.7h0M500.7 640.5h0M468.2 620.0h0M479.0 590.3h0M465.9 562.9h0M485.9 590.5h0M494.9 597.4h0M467.8 578.2h0M478.9 616.7h0M497.9 635.5h0M473.3 625.7h0M487.1 590.5h0M463.7 567.7h0M486.3 573.7h0M470.3 636.2h0M462.8 564.2h0M461.1 585.5h0M494.0 594.2h0M491.7 619.6h0M460.5 600.9h0M486.0 595.9h0M492.4 643.6h0M497.6 617.8h0M461.7 571.8h0M485.8 589.8h0M498.1 620.4h0M465.7 593.9h0M453.2 550.2h0M494.1 603.3h0M500.7 626.9h0M492.1 622.6h0M458.9 600.6h0M487.7 578.4h0M502.2 559.8h0M485.3 590.7h0M510.3 630.8h0M502.2 605.2h0M491.7 632.9h0M469.5 573.1h0M501.2 559.3h0M504.1 625.3h0M459.3 596.3h0M504.7 647.8h0M464.2 588.4h0M463.2 600.4h0M499.4 644.9h0M487.0 644.2h0M483.7 579.6h0M471.9 629.9h0M508.1 640.4h0M501.2 566.8h0M465.0 572.8h0M467.6 560.8h0M489.3 645.7h0M468.9 597.0h0M495.1 636.6h0M463.3 601.4h0M459.7 585.8h0M490.2 631.2h0M488.1 566.2h0M495.2 621.3h0M463.8 587.0h0M502.6 570.4h0M505.2 595.7h0M480.0 571.8h0M502.3 613.1h0M462.7 598.2h0M494.1 648.2h0M510.5 640.6h0M504.1 628.2h0M507.1 644.3h0M479.3 625.9h0M452.5 582.3h0M470.0 572.8h0M482.3 599.8h0M498.1 572.9h0M490.4 642.2h0M471.3 627.4h0M447.7 583.7h0M506.5 629.0h0M490.1 633.8h0M502.9 566.9h0M469.6 551.0h0M494.9 635.4h0M493.4 603.3h0M467.0 566.3h0M501.5 639.4h0M474.7 617.7h0M465.4 629.9h0M511.2 626.0h0M454.1 560.5h0M463.1 558.5h0M482.2 629.3h0M508.3 603.7h0M485.1 619.1h0M490.1 630.4h0M493.7 618.4h0M489.9 596.0h0M506.7 559.6h0M492.3 603.0h0M491.5 566.0h0M493.1 562.0h0M481.6 570.7h0M506.3 632.7h0M504.9 633.1h0M496.4 640.1h0M466.9 591.7h0M497.4 565.9h0M495.0 620.8h0M462.3 601.3h0M468.9 555.9h0M501.4 625.9h0M502.4 565.6h0M497.0 624.6h0M505.3 567.8h0M502.0 562.1h0M461.5 564.9h0M502.4 633.5h0M503.6 571.2h0M495.4 598.6h0M467.5 634.6h0M493.7 594.9h0M469.7 606.3h0M460.1 557.4h0M493.0 594.3h0M489.5 591.9h0M512.7 627.3h0M486.7 642.0h0M457.6 596.2h0M465.3 566.2h0M477.9 621.5h0M507.3 613.7h0M466.1 625.6h0M451.9 593.8h0M476.7 555.2h0M495.3 565.1h0M509.5 633.1h0M508.5 641.0h0M501.1 559.8h0M462.2 584.5h0M497.1 633.8h0M469.2 562.9h0M512.8 617.2h0M462.2 603.1h0M510.1 604.4h0M465.7 566.4h0M496.1 639.3h0M497.0 646.0h0M496.3 561.0h0M504.5 555.4h0M461.6 590.6h0M503.2 566.4h0M500.7 628.5h0M457.7 599.2h0M488.5 639.5h0M492.2 568.4h0M490.0 633.7h0M456.0 593.4h0M490.1 636.8h0M456.2 554.1h0M471.4 614.3h0M494.2 576.1h0M501.2 558.4h0M509.2 601.4h0M508.9 628.8h0M462.5 600.2h0M489.7 594.4h0M472.8 590.9h0M466.5 574.0h0M506.3 634.2h0M503.3 558.1h0M498.5 644.3h0M465.5 592.3h0M468.4 583.1h0M502.5 564.2h0M486.3 641.6h0M498.2 562.3h0M492.6 601.3h0M464.9 587.7h0M505.5 625.9h0M482.7 625.1h0M481.2 572.2h0M494.5 561.3h0M468.8 567.8h0M508.3 631.9h0M463.2 563.6h0M481.4 572.2h0M493.2 595.2h0M492.9 628.4h0M468.9 599.8h0M500.9 564.4h0M463.6 555.9h0M502.0 577.2h0M496.6 562.2h0M458.9 596.5h0M490.6 633.0h0M462.4 566.4h0M508.6 610.0h0M465.2 599.3h0M498.3 636.1h0M451.3 583.2h0M463.6 587.6h0M471.8 556.3h0M492.6 643.2h0M484.2 639.9h0M480.7 629.5h0M501.8 553.1h0M492.9 642.8h0M491.6 599.2h0M461.2 594.4h0M452.7 587.3h0M493.2 647.6h0M462.7 582.3h0M461.6 604.7h0M449.6 583.1h0M494.2 620.9h0M451.1 588.0h0M490.5 599.0h0M505.6 566.7h0M502.3 639.7h0M454.1 551.4h0M497.9 640.3h0M502.0 559.2h0M492.8 562.4h0M486.1 627.3h0M455.7 554.2h0M467.4 558.3h0M457.2 605.3h0M502.4 569.6h0M499.5 639.4h0M467.1 600.9h0M454.8 553.2h0M459.4 586.7h0M490.3 625.3h0M505.4 625.0h0M479.4 572.5h0M489.1 604.7h0M464.0 573.4h0M460.1 592.9h0M460.8 596.8h0M451.8 548.9h0M466.9 573.6h0M482.3 620.3h0M491.2 575.4h0M480.0 626.5h0M496.0 597.6h0M465.0 582.9h0M492.8 616.4h0M481.1 627.7h0M463.6 570.7h0M463.1 566.4h0M483.8 579.6h0M500.6 561.3h0M463.8 584.3h0M490.4 639.4h0M465.8 566.1h0M500.7 561.4h0M463.7 601.4h0M499.3 633.5h0M459.4 556.2h0M472.2 562.0h0M473.8 550.7h0M480.4 621.7h0M496.3 559.2h0M511.0 628.2h0M466.7 611.4h0M484.9 598.6h0M464.7 575.3h0M500.9 558.4h0M460.3 561.8h0M456.6 554.4h0M470.6 627.5h0M494.4 601.2h0M479.5 591.5h0M463.0 598.5h0M498.4 620.3h0M479.9 620.0h0M455.3 553.3h0M466.2 573.2h0M482.4 623.3h0M484.8 571.3h0M485.3 642.3h0M451.7 579.6h0M498.9 639.5h0M463.3 553.1h0M503.4 567.4h0M499.9 645.6h0M449.6 586.6h0M498.5 631.3h0M486.8 602.7h0M453.6 585.3h0M458.2 590.4h0M483.9 630.4h0M512.5 613.0h0M513.1 622.4h0M467.9 567.3h0M494.5 596.2h0M483.7 571.7h0M511.5 612.8h0M481.2 632.6h0M463.7 565.7h0M488.7 638.2h0M503.7 633.2h0M465.0 561.0h0M508.1 630.0h0M464.3 599.7h0M486.2 637.3h0M470.9 631.2h0M481.7 589.1h0M467.3 578.2h0M461.0 599.2h0M503.8 629.2h0M470.6 554.8h0M508.4 596.7h0M494.8 646.1h0M495.7 644.0h0M472.8 638.8h0M479.5 592.4h0M474.5 617.8h0M508.2 642.6h0M471.4 628.9h0M504.6 624.7h0M464.9 593.9h0M492.8 601.1h0M460.6 604.8h0M509.9 605.7h0M491.1 646.8h0M465.5 588.7h0M459.9 577.3h0M463.0 564.5h0M468.3 623.7h0M501.0 623.7h0M450.9 606.4h0M481.9 566.7h0M480.8 585.6h0M463.8 605.9h0M465.8 609.0h0M500.5 558.0h0M453.9 594.5h0M501.4 648.9h0M494.6 580.4h0M500.5 556.2h0M504.6 567.8h0M479.0 623.9h0M457.8 555.8h0M486.4 631.2h0M491.7 595.8h0M492.5 641.8h0M449.8 596.5h0M450.3 586.6h0M476.1 632.1h0M498.5 639.6h0M472.1 555.1h0M501.6 643.1h0M472.2 607.3h0M466.7 629.4h0M489.1 624.7h0M481.0 618.2h0M500.7 632.7h0M499.3 564.0h0M492.3 626.3h0M506.6 625.7h0M495.0 626.2h0M471.6 623.1h0M487.2 595.7h0M492.2 581.2h0M470.3 571.2h0M451.5 548.7h0M491.7 596.8h0M487.7 600.9h0M449.5 573.4h0M461.1 572.7h0M498.3 560.8h0M458.1 581.8h0M505.6 644.0h0M452.8 551.3h0M490.7 630.7h0M510.9 606.4h0M487.8 624.7h0M468.6 569.9h0M486.7 568.8h0M465.5 569.4h0M486.7 597.7h0M483.4 566.9h0M479.8 616.7h0M467.3 573.0h0M504.5 631.2h0M509.3 632.3h0M493.3 635.0h0M466.2 621.2h0M489.4 580.6h0M456.3 553.1h0M492.9 590.7h0M496.1 643.9h0" stroke="#C9C9C9" stroke-width="2.1" stroke-linecap="round" fill="none"/>
<path d="M469.0 558.8h0M503.0 561.0h0M451.8 580.0h0M473.7 586.5h0M476.5 602.0h0M485.2 601.5h0M493.0 616.5h0M495.5 618.5h0M500.0 618.5h0M501.0 618.8h0M475.5 626.0h0M471.0 631.5h0M476.8 632.5h0M498.5 631.0h0M466.0 564.5h0" stroke="#3C8CA8" stroke-width="2.0" stroke-linecap="round" fill="none"/>
<path d="M462.5 593.5h0M456.5 602.5h0M491.0 638.5h0" stroke="#D9A0A0" stroke-width="1.7" stroke-linecap="round" fill="none"/>
<text x="426.0" y="508.6" font-size="8.2" text-anchor="middle" font-weight="normal" font-style="italic" fill="#222">Cellulase</text>
<path d="M324.4 614.6V636.4H349.4" fill="none" stroke="#111" stroke-width="0.8"/>
<path d="M324.4 611.6l-2.2 4.6h4.4z" fill="#111"/>
<path d="M352.4 636.4l-4.6 -2.2v4.4z" fill="#111"/>
<text x="319.4" y="625.0" font-size="5.9" text-anchor="middle" font-weight="normal" font-style="normal" fill="#2a2a2a" transform="rotate(-90 319.4 625.0)">UMAP-2</text>
<text x="325.9" y="647.4" font-size="5.9" text-anchor="start" font-weight="normal" font-style="normal" fill="#2a2a2a">UMAP-1</text>
<defs><linearGradient id="cg" x1="0" y1="0" x2="0" y2="1"><stop offset="0" stop-color="#F8686A"/><stop offset="0.5" stop-color="#CFCFCF"/><stop offset="1" stop-color="#1F7A9A"/></linearGradient></defs>
<rect x="531.5" y="548" width="8.3" height="53" fill="url(#cg)"/>
<text x="543.0" y="555.7" font-size="7.0" text-anchor="start" font-weight="normal" font-style="normal" fill="#222">5</text>
<text x="543.0" y="565.0" font-size="7.0" text-anchor="start" font-weight="normal" font-style="normal" fill="#222">4</text>
<text x="543.0" y="574.2" font-size="7.0" text-anchor="start" font-weight="normal" font-style="normal" fill="#222">3</text>
<text x="543.0" y="583.2" font-size="7.0" text-anchor="start" font-weight="normal" font-style="normal" fill="#222">2</text>
<text x="543.0" y="592.3" font-size="7.0" text-anchor="start" font-weight="normal" font-style="normal" fill="#222">1</text>
<text x="543.0" y="601.0" font-size="7.0" text-anchor="start" font-weight="normal" font-style="normal" fill="#222">0</text>
</svg>
</body></html>
